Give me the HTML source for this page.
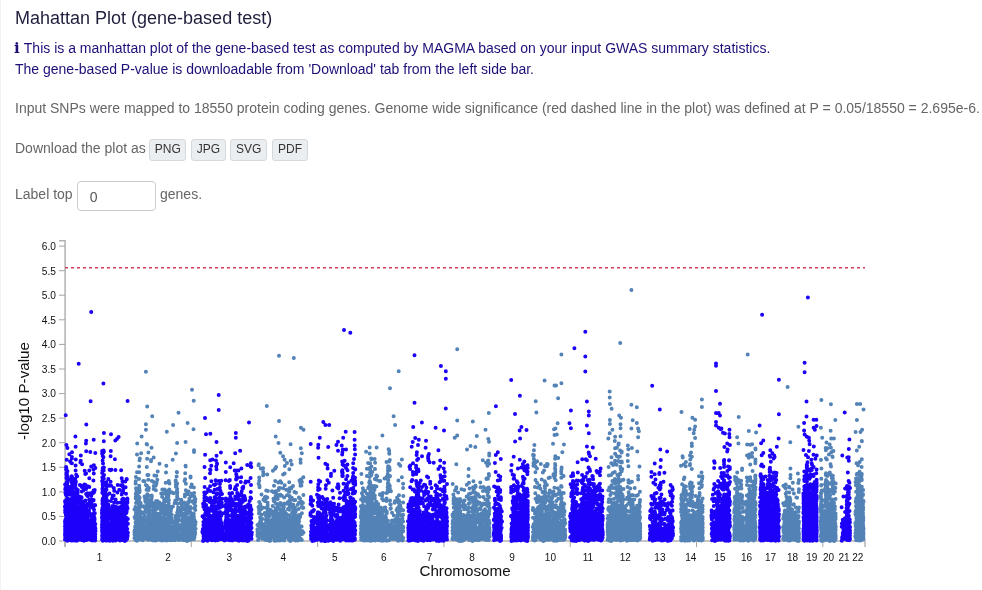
<!DOCTYPE html>
<html><head><meta charset="utf-8"><title>Manhattan Plot</title>
<style>
html,body{margin:0;padding:0;background:#fff;}
body:before{content:"";position:absolute;left:0;top:0;width:1px;height:590px;background:#f1f1f6;}
body{width:982px;height:590px;overflow:hidden;position:relative;font-family:"Liberation Sans",Arial,sans-serif;font-size:14px;line-height:20px;color:#666;}
h4{position:absolute;left:15px;top:8px;margin:0;font-size:18px;line-height:20px;font-weight:400;color:#1f1f3d;}
.info{position:absolute;left:15px;top:38.4px;height:20px;color:#1c1078;white-space:nowrap;}
.info b{position:absolute;left:-1px;top:0;line-height:20px;font-family:"DejaVu Serif","Liberation Serif",serif;font-weight:700;font-size:15px;}
.p2{position:absolute;left:15px;top:98px;white-space:nowrap;}
.p3{position:absolute;left:15px;top:138px;white-space:nowrap;}
.p4{position:absolute;left:15px;top:184px;white-space:nowrap;}
.btn{position:absolute;top:139.2px;box-sizing:border-box;height:21.4px;line-height:19.4px;padding:0;text-align:center;font-size:12px;color:#333;background:#ebeef1;border:1px solid #d5d9dc;border-radius:3px;}
.inp{position:absolute;left:76.7px;top:181px;width:79px;height:29.6px;box-sizing:border-box;border:1px solid #ccc;border-radius:4px;background:#fff;color:#555;padding:5px 12px;line-height:20px;font-size:14px;}
svg{position:absolute;left:0;top:0;}
svg text{font-family:"Liberation Sans",Arial,sans-serif;font-size:10.2px;fill:#111;}
.ax line{stroke:#a4a4a4;stroke-width:1;fill:none}.ax path{stroke:#b2b2b2;stroke-width:1.5;fill:none}
</style></head><body>
<h4>Mahattan Plot (gene-based test)</h4>
<div class="info"><b>i</b><span style="position:absolute;left:8.8px;top:0">This is a manhattan plot of the gene-based test as computed by MAGMA based on your input GWAS summary statistics.</span></div>
<div class="info" style="top:58.6px">The gene-based P-value is downloadable from 'Download' tab from the left side bar.</div>
<div class="p2">Input SNPs were mapped to 18550 protein coding genes. Genome wide significance (red dashed line in the plot) was defined at P = 0.05/18550 = 2.695e-6.</div>
<div class="p3">Download the plot as</div>
<span class="btn" style="left:149.3px;width:37.1px">PNG</span><span class="btn" style="left:191.3px;width:34.4px">JPG</span><span class="btn" style="left:230.2px;width:37px">SVG</span><span class="btn" style="left:272.3px;width:35.4px">PDF</span>
<div class="p4">Label top</div><div class="inp">0</div><div class="p4" style="left:160px">genes.</div>
<svg width="982" height="590" viewBox="0 0 982 590">
<g class="ax"><path d="M59 240.8H65.1V541"/><line x1="59" x2="65" y1="541.0" y2="541.0"/><line x1="59" x2="65" y1="516.4" y2="516.4"/><line x1="59" x2="65" y1="491.9" y2="491.9"/><line x1="59" x2="65" y1="467.3" y2="467.3"/><line x1="59" x2="65" y1="442.7" y2="442.7"/><line x1="59" x2="65" y1="418.1" y2="418.1"/><line x1="59" x2="65" y1="393.6" y2="393.6"/><line x1="59" x2="65" y1="369.0" y2="369.0"/><line x1="59" x2="65" y1="344.4" y2="344.4"/><line x1="59" x2="65" y1="319.8" y2="319.8"/><line x1="59" x2="65" y1="295.2" y2="295.2"/><line x1="59" x2="65" y1="270.7" y2="270.7"/><line x1="59" x2="65" y1="246.1" y2="246.1"/><path d="M65.1 547V541H865V547"/><line x1="65.0" x2="65.0" y1="541" y2="547"/><line x1="191.3" x2="191.3" y1="541" y2="547"/><line x1="317.6" x2="317.6" y1="541" y2="547"/><line x1="443.9" x2="443.9" y1="541" y2="547"/><line x1="570.2" x2="570.2" y1="541" y2="547"/><line x1="696.5" x2="696.5" y1="541" y2="547"/><line x1="822.8" x2="822.8" y1="541" y2="547"/></g>
<g><text x="56" y="544.9" text-anchor="end">0.0</text><text x="56" y="520.3" text-anchor="end">0.5</text><text x="56" y="495.8" text-anchor="end">1.0</text><text x="56" y="471.2" text-anchor="end">1.5</text><text x="56" y="446.6" text-anchor="end">2.0</text><text x="56" y="422.0" text-anchor="end">2.5</text><text x="56" y="397.4" text-anchor="end">3.0</text><text x="56" y="372.9" text-anchor="end">3.5</text><text x="56" y="348.3" text-anchor="end">4.0</text><text x="56" y="323.7" text-anchor="end">4.5</text><text x="56" y="299.1" text-anchor="end">5.0</text><text x="56" y="274.6" text-anchor="end">5.5</text><text x="56" y="250.0" text-anchor="end">6.0</text><text x="99.6" y="561" text-anchor="middle" style="font-size:10px">1</text><text x="168.0" y="561" text-anchor="middle" style="font-size:10px">2</text><text x="229.2" y="561" text-anchor="middle" style="font-size:10px">3</text><text x="283.2" y="561" text-anchor="middle" style="font-size:10px">4</text><text x="334.9" y="561" text-anchor="middle" style="font-size:10px">5</text><text x="383.7" y="561" text-anchor="middle" style="font-size:10px">6</text><text x="429.6" y="561" text-anchor="middle" style="font-size:10px">7</text><text x="472.0" y="561" text-anchor="middle" style="font-size:10px">8</text><text x="512.0" y="561" text-anchor="middle" style="font-size:10px">9</text><text x="550.4" y="561" text-anchor="middle" style="font-size:10px">10</text><text x="588.0" y="561" text-anchor="middle" style="font-size:10px">11</text><text x="625.3" y="561" text-anchor="middle" style="font-size:10px">12</text><text x="659.9" y="561" text-anchor="middle" style="font-size:10px">13</text><text x="690.8" y="561" text-anchor="middle" style="font-size:10px">14</text><text x="719.9" y="561" text-anchor="middle" style="font-size:10px">15</text><text x="746.6" y="561" text-anchor="middle" style="font-size:10px">16</text><text x="770.5" y="561" text-anchor="middle" style="font-size:10px">17</text><text x="792.6" y="561" text-anchor="middle" style="font-size:10px">18</text><text x="811.7" y="561" text-anchor="middle" style="font-size:10px">19</text><text x="828.6" y="561" text-anchor="middle" style="font-size:10px">20</text><text x="844.0" y="561" text-anchor="middle" style="font-size:10px">21</text><text x="857.8" y="561" text-anchor="middle" style="font-size:10px">22</text></g>
<text x="465" y="575.6" text-anchor="middle" style="font-size:15.2px">Chromosome</text>
<text transform="translate(28.8,391)rotate(-90)" text-anchor="middle" style="font-size:15.2px">-log10 P-value</text>
<path d="M135.2 526.5h.01M134.8 538.4h.01M134.5 532.3h.01M135.1 539.2h.01M135.2 527.7h.01M135.0 537.4h.01M136.3 526.3h.01M135.6 532.0h.01M135.5 527.0h.01M136.3 529.7h.01M135.8 526.4h.01M136.3 539.5h.01M136.3 534.6h.01M137.3 538.6h.01M137.3 526.7h.01M136.7 527.7h.01M136.7 533.1h.01M137.5 538.8h.01M138.1 534.9h.01M139.3 527.9h.01M139.3 520.7h.01M139.8 527.1h.01M140.2 538.6h.01M140.3 537.0h.01M140.4 524.2h.01M141.2 525.4h.01M141.2 527.9h.01M141.3 521.0h.01M142.2 535.5h.01M141.5 528.8h.01M142.4 529.0h.01M141.6 532.6h.01M142.2 526.1h.01M142.5 525.5h.01M142.9 527.4h.01M142.8 540.3h.01M143.0 526.0h.01M142.6 539.9h.01M144.9 533.6h.01M144.7 537.4h.01M145.5 522.1h.01M145.6 520.7h.01M146.2 537.1h.01M146.9 530.7h.01M146.8 522.2h.01M147.2 522.5h.01M147.4 524.9h.01M148.2 537.7h.01M149.0 527.5h.01M149.3 521.4h.01M149.4 527.2h.01M150.0 527.8h.01M150.0 527.1h.01M150.2 530.2h.01M149.8 530.6h.01M150.2 525.9h.01M149.7 533.1h.01M151.1 537.6h.01M151.0 534.8h.01M151.5 525.0h.01M151.7 528.6h.01M152.1 525.1h.01M152.1 524.8h.01M153.0 533.2h.01M153.1 522.9h.01M152.6 523.1h.01M152.5 540.2h.01M152.7 533.7h.01M152.7 535.4h.01M153.8 540.3h.01M153.9 524.6h.01M153.4 540.1h.01M153.9 525.7h.01M154.3 523.0h.01M154.7 532.6h.01M155.0 537.9h.01M156.2 530.8h.01M156.2 522.5h.01M156.5 540.2h.01M156.7 530.4h.01M156.6 530.2h.01M156.5 533.3h.01M158.2 525.8h.01M157.5 525.8h.01M157.5 522.6h.01M157.6 536.8h.01M158.6 525.6h.01M158.5 531.1h.01M158.5 522.6h.01M158.5 534.5h.01M160.4 530.5h.01M160.5 526.8h.01M160.9 523.8h.01M161.6 520.5h.01M161.9 538.6h.01M162.2 538.6h.01M162.9 531.5h.01M162.9 522.8h.01M162.4 538.8h.01M162.8 534.4h.01M163.0 526.0h.01M163.5 540.2h.01M163.3 535.1h.01M164.4 534.2h.01M164.8 531.2h.01M164.3 520.8h.01M164.1 521.2h.01M164.1 537.7h.01M165.8 522.4h.01M166.3 529.7h.01M166.5 527.1h.01M166.6 531.8h.01M167.1 533.2h.01M167.5 535.1h.01M168.3 532.3h.01M168.5 531.0h.01M168.3 538.7h.01M169.4 529.6h.01M169.5 525.3h.01M169.8 531.1h.01M169.9 526.4h.01M170.4 521.7h.01M171.0 539.5h.01M170.2 533.9h.01M170.7 520.4h.01M170.8 521.2h.01M170.6 540.2h.01M170.6 531.6h.01M171.1 539.1h.01M171.1 537.8h.01M172.6 526.9h.01M172.1 526.9h.01M172.1 536.3h.01M172.8 533.3h.01M172.9 526.5h.01M173.4 532.5h.01M173.9 536.9h.01M173.6 532.0h.01M174.2 532.6h.01M174.1 521.0h.01M174.4 536.3h.01M175.0 533.1h.01M174.9 522.5h.01M175.2 537.4h.01M175.6 538.4h.01M176.3 527.8h.01M176.2 526.8h.01M176.7 537.2h.01M177.0 532.4h.01M177.6 526.5h.01M177.5 526.2h.01M178.8 536.8h.01M180.8 533.9h.01M180.3 538.1h.01M180.0 535.0h.01M181.4 527.3h.01M181.2 539.6h.01M182.0 533.4h.01M182.1 533.6h.01M183.0 524.5h.01M183.9 540.2h.01M184.7 538.3h.01M184.0 538.4h.01M184.1 523.5h.01M184.5 525.9h.01M185.0 534.1h.01M185.9 535.5h.01M186.7 525.5h.01M186.9 540.9h.01M187.1 536.9h.01M187.4 526.9h.01M187.3 535.8h.01M188.2 536.5h.01M188.7 528.6h.01M188.1 534.6h.01M188.7 528.6h.01M189.2 530.1h.01M189.4 535.4h.01M190.0 524.4h.01M190.5 539.1h.01M190.3 536.9h.01M190.6 532.4h.01M191.7 536.3h.01M190.9 525.0h.01M191.5 522.8h.01M191.1 534.1h.01M192.1 535.8h.01M192.9 536.2h.01M194.3 535.4h.01M194.2 528.8h.01M194.1 522.9h.01M194.4 535.5h.01M134.4 537.9h.01M134.5 534.4h.01M134.5 509.4h.01M134.6 517.0h.01M134.6 530.6h.01M134.9 538.1h.01M135.1 517.9h.01M135.1 537.3h.01M135.3 518.7h.01M135.4 506.9h.01M135.4 533.3h.01M135.5 526.1h.01M135.6 483.4h.01M135.6 518.4h.01M135.6 522.4h.01M135.7 532.8h.01M135.7 498.5h.01M135.7 519.3h.01M135.7 481.3h.01M135.7 493.8h.01M135.8 496.9h.01M135.9 477.1h.01M135.9 534.4h.01M135.9 514.0h.01M135.9 525.7h.01M135.9 540.2h.01M135.9 536.4h.01M136.0 502.9h.01M136.0 512.8h.01M136.0 488.2h.01M136.0 494.3h.01M136.0 537.2h.01M136.2 512.9h.01M136.3 532.3h.01M136.4 528.1h.01M136.4 519.9h.01M136.4 531.0h.01M136.4 490.7h.01M136.5 529.5h.01M136.5 526.2h.01M136.5 536.2h.01M136.5 533.3h.01M136.5 533.6h.01M136.6 535.9h.01M136.6 509.1h.01M136.6 539.1h.01M136.6 514.2h.01M136.7 534.4h.01M136.7 514.9h.01M136.7 534.9h.01M136.7 519.1h.01M136.8 520.6h.01M136.8 502.0h.01M136.8 521.2h.01M136.8 526.5h.01M136.9 540.7h.01M136.9 514.0h.01M137.0 526.0h.01M137.0 529.3h.01M137.0 498.8h.01M137.0 472.2h.01M137.0 454.6h.01M137.0 490.4h.01M137.1 523.7h.01M137.1 534.7h.01M137.2 443.5h.01M137.2 518.4h.01M137.2 522.2h.01M137.2 512.4h.01M137.2 529.2h.01M137.2 518.8h.01M137.3 525.4h.01M137.3 524.3h.01M137.3 530.6h.01M137.3 517.0h.01M137.3 531.0h.01M137.3 535.6h.01M137.4 490.4h.01M137.4 494.1h.01M137.4 535.8h.01M137.7 515.5h.01M137.8 537.7h.01M137.9 540.0h.01M138.0 529.3h.01M138.0 536.8h.01M138.6 538.0h.01M138.6 524.6h.01M138.7 538.4h.01M138.7 503.6h.01M138.7 537.5h.01M138.7 533.2h.01M138.7 496.6h.01M138.8 511.4h.01M138.8 516.7h.01M138.8 514.5h.01M138.8 524.4h.01M138.9 507.2h.01M138.9 506.0h.01M138.9 509.4h.01M139.0 521.3h.01M139.0 478.9h.01M139.1 514.9h.01M139.1 466.6h.01M139.1 500.7h.01M139.2 511.0h.01M139.2 489.3h.01M139.2 485.8h.01M139.2 472.2h.01M139.2 504.9h.01M139.3 507.0h.01M139.3 488.3h.01M139.3 515.2h.01M139.4 516.7h.01M139.4 514.1h.01M139.4 492.2h.01M139.4 507.8h.01M139.5 460.3h.01M139.6 497.7h.01M139.6 490.5h.01M139.6 491.0h.01M139.8 523.2h.01M139.8 458.4h.01M139.8 539.5h.01M139.8 537.6h.01M140.0 511.0h.01M140.0 529.4h.01M140.1 523.9h.01M140.2 517.1h.01M140.3 523.3h.01M140.4 518.3h.01M140.4 534.8h.01M140.4 538.2h.01M140.4 530.8h.01M140.4 520.0h.01M140.5 513.6h.01M140.5 532.5h.01M140.5 534.5h.01M140.6 518.5h.01M140.6 525.4h.01M140.6 525.9h.01M140.7 506.1h.01M140.7 535.1h.01M140.7 502.9h.01M140.7 513.5h.01M140.8 516.9h.01M140.8 536.4h.01M140.9 537.0h.01M141.1 453.3h.01M141.1 532.7h.01M141.1 531.3h.01M141.1 528.3h.01M141.1 526.9h.01M141.3 520.7h.01M141.3 537.4h.01M141.3 525.8h.01M141.3 532.4h.01M141.5 506.5h.01M141.5 535.5h.01M141.6 512.8h.01M141.7 536.4h.01M141.9 536.6h.01M141.9 531.2h.01M142.0 531.1h.01M142.1 512.6h.01M142.1 526.8h.01M142.1 534.5h.01M142.2 538.4h.01M142.2 520.5h.01M142.3 527.9h.01M142.3 531.1h.01M142.3 536.6h.01M142.5 520.0h.01M142.9 521.0h.01M143.0 527.1h.01M143.1 512.7h.01M143.1 519.2h.01M143.2 527.3h.01M143.2 523.9h.01M143.3 523.1h.01M143.3 480.9h.01M143.4 524.8h.01M143.4 523.3h.01M143.5 534.2h.01M143.5 533.2h.01M143.5 517.8h.01M143.6 506.3h.01M143.8 534.4h.01M143.9 522.3h.01M144.0 533.5h.01M144.0 532.7h.01M144.1 527.4h.01M144.1 526.9h.01M144.2 530.9h.01M144.3 521.3h.01M144.4 521.4h.01M144.4 526.9h.01M144.4 529.2h.01M144.5 496.4h.01M144.5 515.8h.01M144.5 537.6h.01M144.5 534.6h.01M144.5 481.3h.01M144.6 538.5h.01M144.6 522.8h.01M144.8 512.0h.01M144.8 531.4h.01M144.9 532.0h.01M145.0 533.3h.01M145.0 533.4h.01M145.1 507.7h.01M145.1 535.5h.01M145.1 508.0h.01M145.1 498.9h.01M145.2 500.8h.01M145.3 538.5h.01M145.3 528.9h.01M145.4 533.5h.01M145.5 532.9h.01M145.5 509.0h.01M145.5 508.0h.01M145.5 520.3h.01M145.5 536.0h.01M145.6 531.0h.01M145.7 537.3h.01M145.7 501.9h.01M145.8 509.1h.01M145.9 509.8h.01M145.9 507.5h.01M145.9 484.9h.01M146.0 511.8h.01M146.0 532.9h.01M146.0 537.2h.01M146.0 531.5h.01M146.1 521.7h.01M146.2 538.7h.01M146.3 509.3h.01M146.3 536.7h.01M146.4 532.3h.01M146.5 521.3h.01M146.6 526.7h.01M146.6 529.1h.01M146.6 509.4h.01M146.6 489.7h.01M146.6 506.6h.01M146.6 444.0h.01M146.7 485.5h.01M146.8 502.5h.01M146.8 466.9h.01M146.8 508.5h.01M146.9 501.8h.01M146.9 503.9h.01M147.0 486.1h.01M147.0 504.8h.01M147.0 508.4h.01M147.1 506.0h.01M147.1 500.5h.01M147.1 458.8h.01M147.1 497.5h.01M147.1 444.6h.01M147.2 496.6h.01M147.3 494.2h.01M147.3 506.2h.01M147.4 474.9h.01M147.4 505.0h.01M147.5 504.3h.01M147.6 539.6h.01M147.6 537.0h.01M147.6 517.5h.01M147.7 534.8h.01M147.7 525.7h.01M147.7 517.5h.01M147.9 530.6h.01M147.9 531.0h.01M148.0 531.0h.01M148.2 512.0h.01M148.3 509.7h.01M148.3 518.1h.01M148.3 530.5h.01M148.3 509.2h.01M148.3 479.8h.01M148.3 514.3h.01M148.4 495.4h.01M148.4 475.0h.01M148.4 452.6h.01M148.5 502.3h.01M148.5 531.5h.01M148.5 537.2h.01M148.5 538.3h.01M148.5 490.1h.01M148.6 515.2h.01M148.6 501.6h.01M148.6 513.2h.01M148.6 519.5h.01M148.6 534.7h.01M148.6 518.6h.01M148.6 519.2h.01M148.6 529.3h.01M148.6 531.5h.01M148.7 539.2h.01M148.7 500.1h.01M148.7 517.1h.01M148.7 504.5h.01M148.7 528.1h.01M148.8 514.4h.01M148.8 517.9h.01M148.8 535.9h.01M148.8 520.4h.01M148.8 520.8h.01M148.8 535.4h.01M148.9 538.9h.01M148.9 488.0h.01M148.9 512.8h.01M148.9 529.2h.01M148.9 539.5h.01M148.9 528.3h.01M148.9 534.3h.01M149.0 538.3h.01M149.0 539.8h.01M149.0 527.2h.01M149.0 534.0h.01M149.0 530.5h.01M149.0 512.7h.01M149.1 536.8h.01M149.1 521.9h.01M149.1 532.0h.01M149.1 535.3h.01M149.2 520.9h.01M149.2 518.2h.01M149.2 525.4h.01M149.2 510.4h.01M149.3 510.3h.01M149.3 509.5h.01M149.3 533.1h.01M149.3 525.8h.01M149.4 534.3h.01M149.4 532.1h.01M149.4 536.0h.01M149.4 532.9h.01M149.6 526.7h.01M149.7 513.7h.01M149.9 526.9h.01M149.9 511.1h.01M150.0 537.2h.01M150.1 518.6h.01M150.1 530.0h.01M150.2 538.0h.01M150.3 529.3h.01M150.3 535.5h.01M150.5 502.1h.01M150.5 524.0h.01M150.6 496.1h.01M150.8 538.3h.01M150.9 517.9h.01M151.0 459.9h.01M151.0 506.0h.01M151.0 461.3h.01M151.0 506.2h.01M151.1 527.3h.01M151.1 521.0h.01M151.2 517.3h.01M151.3 533.9h.01M151.5 447.8h.01M151.6 503.6h.01M151.6 506.3h.01M151.6 498.6h.01M151.7 514.5h.01M151.7 495.4h.01M151.8 496.4h.01M151.9 481.0h.01M151.9 502.0h.01M151.9 525.3h.01M152.0 533.5h.01M152.1 526.6h.01M152.1 531.5h.01M152.1 531.7h.01M152.2 531.5h.01M152.3 505.2h.01M152.4 534.1h.01M152.5 536.8h.01M152.5 515.4h.01M152.5 525.9h.01M152.5 515.5h.01M152.6 533.6h.01M152.6 530.2h.01M152.7 526.6h.01M152.7 537.5h.01M152.8 530.3h.01M152.9 528.8h.01M152.9 521.9h.01M153.0 516.4h.01M153.0 523.5h.01M153.0 509.8h.01M153.1 529.4h.01M153.1 525.3h.01M153.3 523.9h.01M153.3 533.4h.01M153.4 523.6h.01M153.4 517.5h.01M153.4 539.7h.01M153.5 519.7h.01M153.5 525.1h.01M153.5 517.3h.01M153.5 539.0h.01M153.5 525.6h.01M153.6 482.1h.01M153.6 507.5h.01M153.7 534.6h.01M153.7 486.0h.01M153.7 518.1h.01M153.7 457.6h.01M153.7 512.3h.01M153.7 489.0h.01M153.8 534.3h.01M153.8 534.0h.01M153.8 528.8h.01M153.8 525.4h.01M153.8 539.4h.01M153.8 523.9h.01M153.9 537.7h.01M153.9 532.9h.01M153.9 531.8h.01M153.9 531.2h.01M154.0 532.8h.01M154.0 536.2h.01M154.0 538.8h.01M154.1 537.4h.01M154.1 528.2h.01M154.1 537.0h.01M154.1 518.7h.01M154.1 533.8h.01M154.1 507.8h.01M154.2 504.0h.01M154.2 503.7h.01M154.2 522.1h.01M154.3 507.5h.01M154.3 536.6h.01M154.3 516.2h.01M154.3 532.8h.01M154.3 518.4h.01M154.3 528.6h.01M154.3 503.2h.01M154.4 475.5h.01M154.4 535.1h.01M154.4 537.3h.01M154.5 515.8h.01M154.6 512.6h.01M154.6 531.1h.01M154.6 512.8h.01M154.7 505.1h.01M154.7 533.3h.01M154.7 525.9h.01M154.8 534.8h.01M154.8 522.1h.01M154.9 534.7h.01M154.9 524.8h.01M154.9 516.0h.01M155.0 533.4h.01M155.0 535.6h.01M155.0 537.5h.01M155.1 527.4h.01M155.1 533.2h.01M155.1 507.3h.01M155.2 537.6h.01M155.3 533.3h.01M155.3 508.4h.01M155.3 518.9h.01M155.3 528.8h.01M155.3 540.6h.01M155.4 529.6h.01M155.4 540.6h.01M155.6 525.7h.01M155.6 485.7h.01M155.7 534.8h.01M155.8 517.5h.01M155.8 518.5h.01M155.9 490.3h.01M156.0 502.5h.01M156.0 527.5h.01M156.0 532.0h.01M156.1 501.0h.01M156.1 508.1h.01M156.2 509.3h.01M156.2 508.5h.01M156.2 484.5h.01M156.3 475.7h.01M156.4 515.5h.01M156.5 513.5h.01M156.6 482.4h.01M156.6 531.7h.01M156.9 528.2h.01M157.0 532.8h.01M157.1 527.5h.01M157.1 506.3h.01M157.1 529.1h.01M157.1 526.5h.01M157.2 528.4h.01M157.3 479.7h.01M157.3 518.6h.01M157.3 526.6h.01M157.4 524.6h.01M157.4 539.7h.01M157.4 524.9h.01M157.5 523.6h.01M157.5 534.5h.01M157.5 524.5h.01M157.5 501.3h.01M157.5 518.4h.01M157.6 527.2h.01M157.7 471.4h.01M157.8 503.7h.01M158.0 520.6h.01M158.1 538.5h.01M158.1 533.4h.01M158.2 525.5h.01M158.2 533.7h.01M158.2 535.6h.01M158.2 531.8h.01M158.2 536.5h.01M158.4 538.4h.01M158.5 520.7h.01M158.5 532.1h.01M158.5 513.9h.01M158.5 530.2h.01M158.6 522.2h.01M158.7 535.3h.01M158.7 521.5h.01M158.7 538.1h.01M158.8 514.7h.01M158.8 507.6h.01M158.8 518.2h.01M158.9 518.4h.01M158.9 507.7h.01M158.9 528.9h.01M159.0 526.3h.01M159.0 525.2h.01M159.1 533.3h.01M159.1 530.0h.01M159.2 530.4h.01M159.2 517.4h.01M159.2 538.4h.01M159.2 536.9h.01M159.3 515.4h.01M159.4 532.0h.01M159.4 502.6h.01M159.5 532.9h.01M159.5 528.5h.01M159.5 463.7h.01M159.5 516.9h.01M159.6 517.7h.01M159.7 532.4h.01M159.7 538.3h.01M159.7 532.0h.01M159.9 532.0h.01M159.9 532.4h.01M160.0 540.1h.01M160.0 515.6h.01M160.0 529.8h.01M160.1 533.7h.01M160.1 522.0h.01M160.1 506.0h.01M160.2 520.4h.01M160.2 528.6h.01M160.2 533.6h.01M160.2 521.4h.01M160.3 529.8h.01M160.3 534.5h.01M160.3 524.2h.01M160.4 509.7h.01M160.5 536.3h.01M160.6 517.0h.01M160.6 526.1h.01M160.7 537.4h.01M160.8 524.5h.01M160.9 524.1h.01M160.9 506.5h.01M161.0 519.6h.01M161.0 524.1h.01M161.0 518.6h.01M161.0 520.5h.01M161.1 512.6h.01M161.2 493.5h.01M161.3 523.3h.01M161.3 539.7h.01M161.3 530.9h.01M161.4 533.5h.01M161.4 513.1h.01M161.5 524.9h.01M161.5 540.6h.01M161.6 528.0h.01M161.7 529.4h.01M161.7 525.8h.01M161.9 525.8h.01M161.9 510.7h.01M162.0 533.3h.01M162.1 524.8h.01M162.1 496.7h.01M162.2 532.9h.01M162.2 538.6h.01M162.3 530.5h.01M162.3 489.4h.01M162.3 527.6h.01M162.3 539.2h.01M162.4 539.5h.01M162.4 527.6h.01M162.5 527.5h.01M162.5 526.3h.01M162.6 532.6h.01M162.7 536.1h.01M162.7 504.1h.01M162.7 527.3h.01M162.7 503.8h.01M162.8 537.2h.01M162.8 540.1h.01M162.8 505.7h.01M162.9 527.1h.01M162.9 527.7h.01M163.0 527.6h.01M163.1 519.0h.01M163.1 517.7h.01M163.1 529.3h.01M163.2 532.6h.01M163.3 535.2h.01M163.4 530.2h.01M163.5 534.5h.01M163.5 524.1h.01M163.5 520.6h.01M163.6 519.7h.01M163.7 527.2h.01M163.7 540.2h.01M163.7 509.6h.01M163.8 503.6h.01M163.8 493.3h.01M164.0 529.9h.01M164.0 534.8h.01M164.1 500.2h.01M164.1 504.6h.01M164.1 520.6h.01M164.1 513.7h.01M164.1 528.3h.01M164.1 525.6h.01M164.1 501.0h.01M164.2 511.9h.01M164.2 527.1h.01M164.2 532.6h.01M164.2 515.2h.01M164.2 537.9h.01M164.2 499.3h.01M164.2 528.4h.01M164.3 521.9h.01M164.3 524.0h.01M164.3 530.7h.01M164.3 530.4h.01M164.3 522.2h.01M164.4 504.7h.01M164.4 520.4h.01M164.4 529.6h.01M164.4 526.9h.01M164.4 538.9h.01M164.4 524.2h.01M164.5 536.1h.01M164.5 521.4h.01M164.5 505.6h.01M164.5 534.9h.01M164.6 489.4h.01M164.6 509.6h.01M164.6 533.5h.01M164.7 537.0h.01M164.7 534.3h.01M164.7 530.2h.01M164.7 518.6h.01M164.8 519.9h.01M164.8 526.3h.01M165.0 518.1h.01M165.1 506.7h.01M165.2 508.9h.01M165.2 521.6h.01M165.3 535.6h.01M165.4 538.9h.01M165.7 482.7h.01M165.8 538.6h.01M165.8 528.5h.01M165.9 527.5h.01M165.9 494.0h.01M165.9 501.1h.01M166.0 472.5h.01M166.0 536.4h.01M166.1 513.9h.01M166.1 538.4h.01M166.2 521.0h.01M166.2 530.0h.01M166.2 538.7h.01M166.2 519.1h.01M166.2 527.5h.01M166.3 527.0h.01M166.3 465.8h.01M166.4 536.2h.01M166.4 529.3h.01M166.5 527.2h.01M166.5 524.9h.01M166.5 529.8h.01M166.6 513.6h.01M166.7 537.5h.01M166.7 496.9h.01M166.7 540.5h.01M166.7 508.6h.01M166.7 531.0h.01M166.7 512.7h.01M166.8 528.1h.01M166.8 508.0h.01M166.8 536.5h.01M166.8 523.8h.01M166.9 532.2h.01M166.9 532.7h.01M167.0 491.9h.01M167.0 524.8h.01M167.0 539.8h.01M167.1 534.9h.01M167.1 531.5h.01M167.1 527.6h.01M167.2 528.5h.01M167.2 522.4h.01M167.2 530.0h.01M167.3 512.1h.01M167.3 532.3h.01M167.3 531.3h.01M167.4 521.3h.01M167.4 525.6h.01M167.4 525.8h.01M167.5 535.8h.01M167.5 531.3h.01M167.6 537.9h.01M167.6 521.5h.01M167.8 520.6h.01M167.8 524.6h.01M167.9 523.6h.01M167.9 505.4h.01M168.0 536.7h.01M168.0 495.7h.01M168.1 527.8h.01M168.1 532.1h.01M168.1 530.1h.01M168.1 530.9h.01M168.1 529.4h.01M168.1 529.8h.01M168.1 537.1h.01M168.1 517.6h.01M168.1 536.0h.01M168.2 528.2h.01M168.2 516.7h.01M168.2 531.2h.01M168.2 529.3h.01M168.2 537.9h.01M168.2 490.7h.01M168.3 539.1h.01M168.3 528.4h.01M168.3 524.7h.01M168.3 534.7h.01M168.3 521.9h.01M168.3 522.3h.01M168.3 528.9h.01M168.3 536.1h.01M168.4 531.6h.01M168.4 533.8h.01M168.4 524.7h.01M168.4 535.2h.01M168.4 535.5h.01M168.4 502.1h.01M168.4 509.0h.01M168.4 500.1h.01M168.4 518.8h.01M168.4 496.7h.01M168.4 531.4h.01M168.4 534.0h.01M168.4 530.6h.01M168.5 508.6h.01M168.5 535.1h.01M168.5 508.4h.01M168.5 516.9h.01M168.5 532.8h.01M168.5 535.3h.01M168.5 509.6h.01M168.5 527.9h.01M168.6 529.1h.01M168.6 525.3h.01M168.6 521.2h.01M168.6 532.1h.01M168.6 512.9h.01M168.6 517.2h.01M168.6 510.4h.01M168.7 527.8h.01M168.7 534.2h.01M168.7 535.2h.01M168.7 530.7h.01M168.7 503.4h.01M168.7 514.2h.01M168.8 516.4h.01M168.8 493.9h.01M168.8 532.9h.01M168.8 481.0h.01M168.8 527.6h.01M168.8 493.8h.01M168.8 520.3h.01M168.8 531.3h.01M168.9 516.3h.01M168.9 511.8h.01M168.9 500.1h.01M168.9 524.4h.01M168.9 521.8h.01M168.9 531.1h.01M168.9 509.5h.01M169.0 531.0h.01M169.0 532.0h.01M169.0 528.0h.01M169.1 533.7h.01M169.1 506.3h.01M169.2 533.1h.01M169.2 517.0h.01M169.2 513.8h.01M169.3 529.9h.01M169.3 489.6h.01M169.4 483.5h.01M169.5 537.4h.01M169.5 535.9h.01M169.5 515.6h.01M169.6 526.1h.01M169.6 539.9h.01M169.6 516.3h.01M169.6 534.1h.01M169.7 512.0h.01M169.7 527.7h.01M169.7 529.8h.01M169.7 536.0h.01M169.7 537.4h.01M169.8 529.0h.01M169.8 532.0h.01M169.8 531.9h.01M169.8 528.2h.01M169.8 533.2h.01M169.8 530.8h.01M169.9 526.1h.01M169.9 520.7h.01M169.9 538.7h.01M170.0 535.1h.01M170.1 522.2h.01M170.1 528.6h.01M170.1 539.4h.01M170.2 531.0h.01M170.3 533.7h.01M170.3 523.2h.01M170.5 533.4h.01M170.8 511.0h.01M170.8 535.8h.01M170.8 522.9h.01M170.9 517.3h.01M171.1 533.4h.01M171.2 509.1h.01M171.3 521.4h.01M171.3 507.1h.01M171.3 528.8h.01M171.4 518.6h.01M171.5 538.0h.01M171.6 514.4h.01M171.6 492.3h.01M171.9 536.9h.01M172.0 527.3h.01M172.4 538.8h.01M172.6 521.4h.01M172.6 540.1h.01M172.7 534.0h.01M172.7 532.3h.01M172.7 459.8h.01M172.9 529.6h.01M172.9 506.4h.01M172.9 526.8h.01M173.0 539.4h.01M173.1 531.0h.01M173.2 538.3h.01M173.3 532.3h.01M173.4 493.3h.01M173.7 537.6h.01M173.8 529.4h.01M174.0 533.5h.01M174.0 529.2h.01M174.1 529.8h.01M174.1 526.4h.01M174.2 536.0h.01M174.2 538.1h.01M174.2 521.3h.01M174.3 528.7h.01M174.3 522.4h.01M174.3 536.6h.01M174.3 532.3h.01M174.4 529.0h.01M174.4 530.1h.01M174.5 532.9h.01M174.5 524.3h.01M174.6 502.9h.01M174.7 522.9h.01M174.8 526.6h.01M174.8 520.9h.01M174.9 540.3h.01M175.0 528.8h.01M175.3 517.3h.01M175.3 500.4h.01M175.5 502.6h.01M175.6 515.9h.01M175.7 481.6h.01M175.7 480.4h.01M175.8 484.3h.01M175.9 486.8h.01M175.9 453.5h.01M175.9 535.5h.01M176.0 525.6h.01M176.1 532.3h.01M176.2 530.2h.01M176.3 534.3h.01M176.3 500.3h.01M176.6 485.9h.01M176.6 536.7h.01M176.6 521.3h.01M176.6 476.6h.01M176.7 491.3h.01M176.8 471.9h.01M177.0 472.2h.01M177.1 443.1h.01M177.1 483.6h.01M177.1 496.6h.01M177.1 494.6h.01M177.1 499.2h.01M177.1 498.4h.01M177.2 489.0h.01M177.2 496.6h.01M177.2 512.4h.01M177.2 537.0h.01M177.2 532.8h.01M177.2 534.2h.01M177.3 520.9h.01M177.3 521.3h.01M177.3 524.6h.01M177.3 534.2h.01M177.3 528.3h.01M177.3 535.6h.01M177.4 516.8h.01M177.4 523.6h.01M177.4 536.1h.01M177.4 503.8h.01M177.4 518.8h.01M177.4 492.3h.01M177.5 513.6h.01M177.6 523.3h.01M177.6 531.9h.01M177.7 534.2h.01M177.7 537.6h.01M177.7 533.0h.01M177.8 518.3h.01M177.8 535.9h.01M177.8 535.8h.01M177.8 532.7h.01M177.8 530.3h.01M177.8 535.1h.01M177.9 530.3h.01M177.9 510.1h.01M177.9 531.0h.01M177.9 524.8h.01M177.9 518.5h.01M177.9 511.0h.01M178.0 498.9h.01M178.0 530.3h.01M178.0 527.2h.01M178.1 507.6h.01M178.1 515.5h.01M178.4 527.2h.01M178.5 510.9h.01M178.8 540.0h.01M179.2 535.4h.01M179.9 528.8h.01M180.0 515.7h.01M180.2 502.9h.01M180.2 529.2h.01M180.3 510.0h.01M180.6 539.2h.01M180.7 520.2h.01M180.8 511.0h.01M180.9 525.1h.01M181.0 512.3h.01M181.1 539.8h.01M181.3 499.8h.01M181.4 538.8h.01M181.4 537.3h.01M181.5 509.9h.01M181.6 536.5h.01M181.6 530.4h.01M181.6 532.6h.01M181.7 535.4h.01M181.7 506.3h.01M181.9 537.1h.01M181.9 502.8h.01M181.9 506.1h.01M182.0 525.3h.01M182.0 533.9h.01M182.1 538.9h.01M182.1 536.3h.01M182.1 521.1h.01M182.1 526.8h.01M182.1 531.0h.01M182.2 515.5h.01M182.4 527.2h.01M182.4 527.4h.01M182.4 537.5h.01M182.5 537.5h.01M182.5 538.7h.01M182.6 539.4h.01M182.6 537.3h.01M182.6 534.6h.01M182.6 523.7h.01M182.6 533.0h.01M182.7 535.6h.01M182.7 539.1h.01M182.7 508.3h.01M182.8 534.6h.01M182.8 518.8h.01M182.9 509.2h.01M182.9 536.6h.01M182.9 528.9h.01M182.9 528.8h.01M183.0 532.1h.01M183.1 526.8h.01M183.3 527.8h.01M183.4 526.7h.01M183.4 513.4h.01M183.5 539.3h.01M183.6 519.3h.01M183.7 528.7h.01M184.0 521.7h.01M184.1 502.4h.01M184.1 526.7h.01M184.1 509.1h.01M184.1 535.2h.01M184.2 537.6h.01M184.2 536.4h.01M184.3 531.9h.01M184.4 523.1h.01M184.5 539.8h.01M184.5 532.5h.01M184.5 527.2h.01M184.6 516.2h.01M184.6 536.7h.01M184.6 508.2h.01M184.6 481.0h.01M184.6 514.7h.01M184.6 513.9h.01M184.8 496.4h.01M184.9 537.2h.01M184.9 494.5h.01M185.0 534.9h.01M185.1 479.2h.01M185.2 528.0h.01M185.2 473.2h.01M185.3 538.4h.01M185.5 504.5h.01M185.5 465.8h.01M185.6 442.1h.01M185.7 466.6h.01M185.8 490.2h.01M185.8 512.3h.01M185.9 505.4h.01M185.9 483.8h.01M186.1 514.6h.01M186.2 510.9h.01M186.4 531.0h.01M186.5 534.4h.01M186.6 533.9h.01M186.7 519.4h.01M186.8 511.2h.01M186.8 537.2h.01M186.8 535.6h.01M186.9 526.0h.01M186.9 522.0h.01M186.9 517.7h.01M187.0 524.3h.01M187.0 493.6h.01M187.1 539.8h.01M187.1 506.3h.01M187.1 513.9h.01M187.1 531.0h.01M187.2 510.3h.01M187.2 504.3h.01M187.4 519.0h.01M187.4 527.2h.01M187.4 507.4h.01M187.5 534.0h.01M187.5 512.9h.01M187.5 536.5h.01M187.6 513.1h.01M187.6 513.3h.01M187.7 528.7h.01M187.7 528.3h.01M187.7 494.3h.01M187.7 522.0h.01M187.8 536.4h.01M187.9 503.8h.01M187.9 538.7h.01M188.0 502.1h.01M188.1 526.0h.01M188.3 530.6h.01M188.4 540.5h.01M188.6 530.8h.01M188.6 491.6h.01M188.6 501.9h.01M188.9 536.4h.01M189.0 508.8h.01M189.2 523.4h.01M189.3 535.3h.01M189.3 498.7h.01M189.5 510.9h.01M189.5 535.7h.01M189.5 530.9h.01M189.6 517.6h.01M189.6 536.4h.01M189.7 537.1h.01M189.9 530.8h.01M190.0 532.6h.01M190.0 528.4h.01M190.0 529.3h.01M190.2 534.2h.01M190.2 523.0h.01M190.3 518.6h.01M190.4 507.1h.01M190.4 522.1h.01M190.5 531.7h.01M190.5 536.2h.01M190.5 477.5h.01M190.6 476.4h.01M190.6 524.5h.01M190.6 496.4h.01M190.7 526.3h.01M190.7 512.6h.01M190.8 486.9h.01M190.8 520.4h.01M190.9 508.6h.01M190.9 519.6h.01M190.9 534.8h.01M190.9 539.5h.01M191.0 530.6h.01M191.1 519.7h.01M191.1 533.9h.01M191.2 532.3h.01M191.2 515.3h.01M191.4 516.3h.01M191.6 501.4h.01M191.6 516.0h.01M191.7 526.0h.01M191.7 526.9h.01M191.7 493.8h.01M191.7 521.2h.01M191.7 522.9h.01M191.7 484.5h.01M191.9 527.0h.01M192.5 525.2h.01M192.5 527.5h.01M192.7 532.5h.01M192.8 533.4h.01M192.8 529.1h.01M192.9 521.2h.01M193.0 494.2h.01M193.6 521.4h.01M193.7 534.3h.01M193.8 535.2h.01M193.8 539.2h.01M193.8 517.6h.01M193.8 530.8h.01M193.8 513.7h.01M193.9 527.2h.01M193.9 527.9h.01M193.9 516.8h.01M193.9 487.6h.01M194.0 526.4h.01M194.0 450.3h.01M194.0 452.1h.01M194.1 500.5h.01M194.1 503.4h.01M194.1 492.9h.01M194.1 527.8h.01M194.1 534.0h.01M194.3 496.9h.01M194.3 536.6h.01M194.4 496.8h.01M194.4 520.1h.01M194.5 521.5h.01M194.5 530.6h.01M194.5 507.7h.01M194.5 537.3h.01M194.6 508.3h.01M194.7 525.9h.01M194.8 520.8h.01M195.0 534.2h.01M195.1 501.9h.01M195.2 524.8h.01M195.2 532.5h.01M195.2 509.9h.01M195.3 505.9h.01M195.4 499.3h.01M195.6 522.3h.01M195.6 528.7h.01M257.6 531.2h.01M258.1 539.9h.01M257.6 532.1h.01M257.5 534.6h.01M257.8 531.9h.01M259.1 536.8h.01M258.6 535.6h.01M258.6 536.7h.01M258.9 524.0h.01M259.9 533.5h.01M259.4 534.9h.01M260.6 536.5h.01M261.1 521.0h.01M260.4 535.8h.01M260.5 520.5h.01M260.6 522.8h.01M261.0 523.6h.01M260.7 528.2h.01M260.3 532.8h.01M261.2 535.3h.01M261.4 527.7h.01M262.9 532.5h.01M262.4 535.6h.01M262.0 538.7h.01M262.7 534.0h.01M262.1 534.8h.01M262.4 527.4h.01M263.7 533.2h.01M264.5 529.3h.01M264.2 526.1h.01M265.3 529.9h.01M265.4 538.1h.01M265.4 533.2h.01M265.2 539.8h.01M265.2 536.9h.01M266.6 537.9h.01M266.1 534.2h.01M266.4 526.7h.01M266.7 528.8h.01M267.4 522.0h.01M267.4 539.9h.01M267.2 536.6h.01M267.2 539.7h.01M268.5 540.3h.01M268.8 537.3h.01M268.5 538.2h.01M268.5 538.5h.01M269.1 525.9h.01M269.6 541.0h.01M269.3 539.8h.01M269.1 527.8h.01M269.2 529.6h.01M270.3 535.7h.01M271.0 530.9h.01M272.4 528.4h.01M273.6 524.8h.01M273.1 521.9h.01M274.7 540.8h.01M274.1 525.1h.01M274.2 522.7h.01M274.8 520.8h.01M274.6 527.3h.01M274.8 532.6h.01M275.1 534.9h.01M276.8 523.5h.01M276.2 535.9h.01M276.1 521.6h.01M276.3 523.2h.01M276.4 522.4h.01M277.0 529.6h.01M277.7 522.6h.01M277.8 530.8h.01M277.5 532.2h.01M278.3 534.1h.01M278.9 528.8h.01M278.6 537.3h.01M278.6 533.8h.01M278.1 521.8h.01M278.9 521.4h.01M278.0 539.2h.01M279.0 539.5h.01M279.0 534.8h.01M279.1 533.9h.01M279.7 523.6h.01M279.0 536.0h.01M279.6 527.1h.01M279.1 528.1h.01M280.0 520.9h.01M280.8 530.0h.01M280.5 534.6h.01M280.9 531.2h.01M281.6 531.1h.01M281.5 529.1h.01M281.5 523.3h.01M281.1 534.6h.01M281.6 535.2h.01M282.4 520.5h.01M282.3 527.9h.01M282.2 521.4h.01M282.8 536.3h.01M283.1 529.4h.01M283.3 530.1h.01M283.0 530.7h.01M284.3 524.6h.01M284.6 520.8h.01M284.1 535.9h.01M284.1 526.4h.01M286.8 536.3h.01M286.6 535.6h.01M287.3 534.9h.01M287.2 528.1h.01M287.0 525.4h.01M288.2 536.0h.01M288.8 532.8h.01M288.1 534.0h.01M288.8 537.5h.01M288.4 534.1h.01M289.6 540.2h.01M289.4 534.2h.01M289.4 526.6h.01M289.2 535.9h.01M289.1 530.9h.01M289.5 523.0h.01M289.9 536.8h.01M290.3 540.9h.01M290.0 526.9h.01M290.6 540.3h.01M291.7 528.7h.01M291.0 527.2h.01M291.1 529.4h.01M291.4 523.5h.01M291.0 526.4h.01M293.3 528.0h.01M293.3 529.1h.01M293.8 539.3h.01M293.1 537.4h.01M294.2 527.5h.01M294.5 526.3h.01M293.9 538.1h.01M295.1 528.9h.01M294.9 534.9h.01M295.5 529.3h.01M295.0 531.3h.01M295.5 540.5h.01M295.5 525.5h.01M296.4 533.4h.01M296.0 540.1h.01M296.2 534.2h.01M296.3 529.1h.01M296.8 527.1h.01M297.0 536.0h.01M298.5 534.3h.01M298.2 532.5h.01M298.7 534.9h.01M297.8 540.6h.01M298.6 522.2h.01M299.6 528.5h.01M299.5 539.7h.01M299.5 531.9h.01M299.6 530.3h.01M299.3 528.7h.01M299.3 536.7h.01M300.8 526.8h.01M301.4 532.9h.01M301.0 538.9h.01M301.6 526.6h.01M302.1 533.9h.01M302.1 531.1h.01M301.8 539.9h.01M257.4 529.3h.01M257.5 525.0h.01M257.5 535.9h.01M257.7 531.4h.01M258.5 525.1h.01M258.5 507.0h.01M258.5 465.2h.01M258.6 483.7h.01M258.8 507.4h.01M258.8 464.2h.01M259.0 513.4h.01M259.1 509.5h.01M259.1 513.6h.01M259.2 480.7h.01M259.2 501.9h.01M259.2 477.4h.01M259.2 510.7h.01M259.3 512.2h.01M259.5 485.7h.01M259.5 487.2h.01M259.7 509.3h.01M259.8 528.0h.01M259.8 535.3h.01M259.8 527.5h.01M259.9 522.6h.01M260.1 517.4h.01M260.1 524.4h.01M260.1 524.3h.01M260.3 525.4h.01M260.3 537.3h.01M260.3 504.2h.01M260.5 532.1h.01M260.8 468.5h.01M260.8 525.8h.01M260.9 534.4h.01M260.9 506.7h.01M260.9 537.5h.01M260.9 522.5h.01M260.9 509.4h.01M261.1 532.4h.01M261.1 534.4h.01M261.4 528.6h.01M261.5 494.6h.01M261.5 524.2h.01M261.8 514.8h.01M262.4 518.9h.01M262.7 532.1h.01M262.7 525.5h.01M263.0 524.2h.01M263.1 468.2h.01M263.1 471.8h.01M263.1 475.3h.01M263.1 507.8h.01M263.4 499.7h.01M263.4 474.0h.01M263.5 531.8h.01M263.7 534.9h.01M263.9 531.3h.01M264.1 531.4h.01M264.1 527.9h.01M264.1 531.5h.01M264.3 530.8h.01M264.4 527.8h.01M264.4 536.7h.01M264.5 527.5h.01M264.5 534.2h.01M264.5 530.0h.01M264.7 512.9h.01M264.7 533.8h.01M264.7 497.4h.01M264.8 538.9h.01M264.9 501.0h.01M264.9 527.6h.01M264.9 538.9h.01M265.0 531.1h.01M265.1 531.4h.01M265.5 496.7h.01M265.7 531.9h.01M265.7 499.1h.01M265.7 531.3h.01M265.8 519.8h.01M265.8 539.9h.01M265.9 515.7h.01M266.0 522.4h.01M266.1 507.8h.01M266.1 531.4h.01M266.1 519.5h.01M266.2 490.4h.01M266.3 526.6h.01M266.3 533.9h.01M266.3 529.6h.01M266.4 533.9h.01M266.4 532.7h.01M266.4 535.8h.01M266.4 517.4h.01M266.5 534.2h.01M266.5 521.6h.01M266.6 528.2h.01M266.7 526.4h.01M266.8 537.9h.01M266.8 513.1h.01M266.8 530.1h.01M266.9 527.0h.01M267.0 508.3h.01M267.0 535.2h.01M267.1 531.8h.01M267.1 532.6h.01M267.2 516.9h.01M267.2 520.7h.01M267.2 474.4h.01M267.2 537.8h.01M267.3 497.4h.01M267.3 532.8h.01M267.3 525.7h.01M267.3 536.3h.01M267.5 510.4h.01M267.5 519.8h.01M267.5 515.6h.01M267.6 537.8h.01M267.6 522.9h.01M267.6 502.7h.01M267.6 529.7h.01M267.6 527.5h.01M267.7 521.9h.01M267.7 508.1h.01M267.7 505.1h.01M267.8 534.1h.01M267.8 525.9h.01M267.8 533.7h.01M267.8 539.3h.01M267.8 517.5h.01M267.9 530.1h.01M267.9 533.6h.01M267.9 538.9h.01M267.9 491.1h.01M267.9 523.4h.01M268.0 532.9h.01M268.0 536.6h.01M268.0 511.4h.01M268.1 526.2h.01M268.3 537.2h.01M268.5 522.7h.01M268.6 509.3h.01M268.6 534.3h.01M269.0 515.6h.01M269.1 538.1h.01M269.1 512.2h.01M269.2 533.4h.01M269.3 510.4h.01M269.3 521.1h.01M269.3 536.0h.01M269.3 538.8h.01M269.4 520.2h.01M269.4 529.1h.01M269.4 539.4h.01M269.6 516.0h.01M269.9 528.3h.01M269.9 513.7h.01M270.2 524.8h.01M270.2 530.5h.01M270.4 523.0h.01M270.5 540.5h.01M270.8 510.0h.01M271.0 525.5h.01M271.1 537.0h.01M271.2 536.8h.01M271.3 523.4h.01M271.3 536.1h.01M271.5 521.6h.01M271.5 535.6h.01M271.6 532.1h.01M271.6 527.3h.01M271.7 530.2h.01M271.7 537.9h.01M271.8 519.9h.01M272.0 491.3h.01M272.1 524.9h.01M272.1 534.2h.01M272.2 532.6h.01M272.4 511.3h.01M272.4 534.7h.01M272.5 524.5h.01M272.5 534.2h.01M272.6 537.1h.01M272.6 524.4h.01M272.7 529.1h.01M272.7 506.0h.01M272.8 519.6h.01M272.9 527.0h.01M272.9 470.7h.01M273.0 534.0h.01M273.0 536.3h.01M273.1 535.5h.01M273.2 518.3h.01M273.2 514.0h.01M273.3 533.3h.01M273.3 525.2h.01M273.3 518.0h.01M273.4 515.5h.01M273.4 523.5h.01M273.4 522.2h.01M273.5 498.7h.01M273.5 532.4h.01M273.7 514.6h.01M273.7 500.7h.01M273.7 534.3h.01M273.7 526.4h.01M273.7 492.2h.01M273.8 525.3h.01M273.9 529.2h.01M274.0 485.8h.01M274.1 536.9h.01M274.2 514.0h.01M274.2 518.3h.01M274.3 526.3h.01M274.3 501.5h.01M274.3 517.4h.01M274.3 533.1h.01M274.3 500.7h.01M274.3 529.2h.01M274.4 528.3h.01M274.4 525.9h.01M274.5 532.4h.01M274.6 537.5h.01M274.6 532.4h.01M274.8 526.6h.01M274.8 529.7h.01M274.9 537.8h.01M274.9 520.5h.01M275.1 531.1h.01M275.1 468.8h.01M275.2 513.5h.01M275.2 480.9h.01M275.2 524.1h.01M275.3 536.3h.01M275.3 530.0h.01M275.4 535.4h.01M275.5 533.6h.01M275.5 536.5h.01M275.5 539.2h.01M275.5 491.5h.01M275.6 496.1h.01M275.6 510.6h.01M275.7 508.3h.01M275.8 497.9h.01M275.8 514.2h.01M275.8 491.2h.01M275.9 521.0h.01M275.9 518.3h.01M275.9 533.2h.01M275.9 538.4h.01M276.0 503.4h.01M276.0 525.0h.01M276.1 516.2h.01M276.1 466.9h.01M276.1 522.9h.01M276.1 513.9h.01M276.1 512.1h.01M276.2 537.5h.01M276.2 512.1h.01M276.3 523.7h.01M276.3 534.7h.01M276.4 515.4h.01M276.4 540.4h.01M276.4 519.1h.01M276.4 512.5h.01M276.4 514.6h.01M276.4 538.4h.01M276.4 538.6h.01M276.4 493.7h.01M276.5 511.7h.01M276.5 531.1h.01M276.6 535.8h.01M276.6 515.8h.01M276.6 526.9h.01M276.6 510.9h.01M276.8 532.8h.01M276.9 520.1h.01M276.9 522.7h.01M277.0 524.1h.01M277.0 537.9h.01M277.1 529.2h.01M277.1 524.5h.01M277.4 537.9h.01M277.4 516.4h.01M277.4 497.5h.01M277.6 508.4h.01M277.6 506.0h.01M277.7 508.1h.01M277.7 498.9h.01M277.7 528.2h.01M277.8 538.3h.01M277.8 504.5h.01M277.8 538.9h.01M277.9 523.9h.01M277.9 538.7h.01M278.0 539.0h.01M278.0 520.3h.01M278.1 537.9h.01M278.1 504.6h.01M278.1 535.7h.01M278.1 530.6h.01M278.2 513.6h.01M278.2 531.4h.01M278.2 518.9h.01M278.2 533.9h.01M278.2 530.2h.01M278.2 527.8h.01M278.2 526.6h.01M278.3 526.1h.01M278.3 482.4h.01M278.4 528.7h.01M278.4 513.9h.01M278.4 523.6h.01M278.4 528.1h.01M278.5 529.2h.01M278.5 495.2h.01M278.5 533.2h.01M278.5 442.9h.01M278.5 540.3h.01M278.5 537.3h.01M278.5 522.0h.01M278.6 534.3h.01M278.6 490.0h.01M278.6 531.4h.01M278.7 531.3h.01M278.7 533.7h.01M278.7 518.8h.01M278.7 530.1h.01M278.7 535.2h.01M278.8 528.7h.01M278.8 532.7h.01M278.9 525.9h.01M278.9 521.3h.01M278.9 538.6h.01M278.9 540.4h.01M278.9 526.0h.01M278.9 538.5h.01M279.0 538.9h.01M279.0 526.4h.01M279.0 487.9h.01M279.0 536.4h.01M279.0 495.8h.01M279.0 529.6h.01M279.0 529.0h.01M279.1 536.6h.01M279.2 513.4h.01M279.2 524.0h.01M279.2 537.3h.01M279.3 519.6h.01M279.3 521.1h.01M279.4 508.8h.01M279.5 536.7h.01M279.5 538.4h.01M279.5 518.2h.01M279.5 526.9h.01M279.6 516.8h.01M279.6 508.9h.01M279.6 531.9h.01M279.6 531.6h.01M279.6 527.5h.01M279.6 521.7h.01M279.6 519.9h.01M279.7 517.2h.01M279.7 539.8h.01M279.9 517.5h.01M280.0 530.1h.01M280.0 524.7h.01M280.0 514.0h.01M280.0 488.1h.01M280.1 536.7h.01M280.1 517.2h.01M280.2 529.9h.01M280.3 481.3h.01M280.3 452.8h.01M280.3 503.0h.01M280.4 494.7h.01M280.4 529.3h.01M280.4 533.8h.01M280.5 525.6h.01M280.6 528.7h.01M280.6 535.9h.01M280.6 530.4h.01M280.7 519.5h.01M280.9 523.5h.01M280.9 528.6h.01M281.0 514.0h.01M281.0 504.9h.01M281.0 540.3h.01M281.0 533.9h.01M281.1 532.5h.01M281.1 512.0h.01M281.1 521.0h.01M281.1 526.5h.01M281.2 533.2h.01M281.2 523.0h.01M281.3 519.3h.01M281.3 513.3h.01M281.3 539.7h.01M281.4 482.7h.01M281.4 530.3h.01M281.5 521.9h.01M281.5 522.9h.01M281.6 536.2h.01M281.6 518.6h.01M281.6 524.6h.01M281.7 531.3h.01M281.8 535.9h.01M281.8 537.7h.01M281.8 531.0h.01M281.8 536.9h.01M281.8 531.7h.01M281.9 527.2h.01M281.9 534.3h.01M281.9 535.8h.01M281.9 495.8h.01M281.9 534.4h.01M282.0 536.6h.01M282.0 520.4h.01M282.1 517.5h.01M282.1 528.1h.01M282.2 529.8h.01M282.2 530.1h.01M282.2 521.7h.01M282.2 515.6h.01M282.3 520.6h.01M282.4 517.2h.01M282.4 539.6h.01M282.4 533.4h.01M282.4 517.5h.01M282.5 525.5h.01M282.5 528.2h.01M282.5 512.4h.01M282.5 534.3h.01M282.6 524.7h.01M282.7 527.3h.01M282.7 509.9h.01M282.7 527.8h.01M282.8 516.2h.01M282.8 525.6h.01M282.9 536.8h.01M282.9 505.0h.01M282.9 529.6h.01M282.9 508.7h.01M282.9 514.7h.01M282.9 526.3h.01M282.9 510.4h.01M283.0 456.3h.01M283.1 505.2h.01M283.1 488.3h.01M283.1 474.5h.01M283.3 517.7h.01M283.4 531.8h.01M283.4 512.3h.01M283.4 519.8h.01M283.4 514.2h.01M283.5 519.4h.01M283.5 519.3h.01M283.5 520.4h.01M283.6 517.2h.01M283.7 510.2h.01M283.7 522.5h.01M283.8 527.5h.01M283.8 539.5h.01M283.8 523.4h.01M283.8 516.6h.01M283.8 530.3h.01M283.8 533.0h.01M283.9 506.9h.01M283.9 526.4h.01M283.9 522.2h.01M283.9 531.6h.01M283.9 530.0h.01M284.0 530.4h.01M284.0 525.3h.01M284.1 540.4h.01M284.1 526.3h.01M284.1 534.0h.01M284.1 503.4h.01M284.2 538.7h.01M284.2 525.4h.01M284.2 536.0h.01M284.2 524.8h.01M284.2 539.6h.01M284.2 526.7h.01M284.2 497.4h.01M284.3 529.4h.01M284.4 519.6h.01M284.4 527.0h.01M284.4 513.8h.01M284.4 528.8h.01M284.5 529.3h.01M284.6 473.6h.01M284.6 459.7h.01M284.7 485.2h.01M284.8 534.0h.01M284.8 520.2h.01M284.8 528.9h.01M284.8 511.8h.01M284.8 466.1h.01M284.8 526.0h.01M284.8 520.4h.01M284.9 537.3h.01M284.9 536.3h.01M284.9 536.7h.01M285.0 520.6h.01M285.1 536.0h.01M285.2 535.6h.01M285.2 531.5h.01M285.5 527.7h.01M285.6 512.9h.01M285.6 519.3h.01M285.7 523.0h.01M285.7 517.9h.01M285.8 536.3h.01M286.1 489.8h.01M286.2 520.7h.01M286.3 517.9h.01M286.4 530.5h.01M286.4 530.5h.01M286.5 536.8h.01M286.6 521.3h.01M286.7 514.2h.01M286.9 503.8h.01M287.0 463.1h.01M287.0 495.3h.01M287.1 534.7h.01M287.2 536.1h.01M287.2 519.5h.01M287.2 525.9h.01M287.3 537.3h.01M287.3 536.8h.01M287.3 534.2h.01M287.5 536.2h.01M287.7 535.1h.01M287.7 526.6h.01M287.7 502.2h.01M287.8 531.6h.01M287.9 509.0h.01M288.2 532.9h.01M288.2 521.2h.01M288.4 537.0h.01M288.4 539.0h.01M288.6 537.8h.01M288.8 530.5h.01M288.9 528.9h.01M288.9 491.7h.01M289.0 518.9h.01M289.1 515.2h.01M289.1 536.5h.01M289.2 482.2h.01M289.2 491.8h.01M289.2 501.4h.01M289.3 527.5h.01M289.3 530.0h.01M289.3 529.6h.01M289.3 469.3h.01M289.4 535.9h.01M289.4 526.5h.01M289.4 519.0h.01M289.4 488.2h.01M289.4 503.8h.01M289.4 509.8h.01M289.4 528.0h.01M289.5 537.9h.01M289.5 500.2h.01M289.6 532.6h.01M289.6 496.1h.01M289.6 496.6h.01M289.6 518.8h.01M289.7 531.9h.01M289.7 532.4h.01M289.7 506.3h.01M289.7 531.0h.01M289.9 538.7h.01M289.9 528.3h.01M290.1 529.6h.01M290.3 525.3h.01M290.4 528.6h.01M290.5 523.3h.01M290.6 503.4h.01M290.6 444.2h.01M290.7 460.7h.01M290.8 499.7h.01M290.9 533.3h.01M291.0 540.5h.01M291.0 520.6h.01M291.0 521.1h.01M291.0 518.5h.01M291.1 539.4h.01M291.1 488.5h.01M291.2 526.4h.01M291.2 534.1h.01M291.3 526.8h.01M291.3 506.1h.01M291.5 524.5h.01M291.5 538.2h.01M291.6 525.1h.01M291.7 464.5h.01M291.7 497.7h.01M291.8 530.7h.01M291.9 536.4h.01M292.0 487.0h.01M292.1 525.2h.01M292.1 513.0h.01M292.2 516.8h.01M292.2 499.1h.01M292.3 536.1h.01M292.3 507.3h.01M292.5 535.6h.01M292.6 533.4h.01M292.6 532.7h.01M292.7 519.5h.01M292.7 534.5h.01M292.7 522.2h.01M292.7 520.4h.01M292.7 520.7h.01M292.8 529.4h.01M292.9 518.2h.01M293.0 485.9h.01M293.0 537.4h.01M293.1 515.8h.01M293.1 511.0h.01M293.3 504.7h.01M293.3 535.4h.01M293.5 529.0h.01M293.7 526.4h.01M293.8 510.0h.01M293.8 533.6h.01M294.0 534.8h.01M294.0 531.1h.01M294.0 500.3h.01M294.0 518.1h.01M294.1 534.4h.01M294.1 516.3h.01M294.2 521.7h.01M294.4 492.0h.01M294.4 513.2h.01M294.4 522.6h.01M294.9 537.4h.01M294.9 507.6h.01M294.9 524.3h.01M295.1 533.8h.01M295.1 533.4h.01M295.1 514.8h.01M295.2 537.8h.01M295.2 534.2h.01M295.3 500.1h.01M295.4 515.8h.01M295.5 510.3h.01M295.5 538.9h.01M295.7 529.7h.01M295.7 516.0h.01M295.7 527.7h.01M295.7 511.5h.01M295.7 528.2h.01M295.7 529.0h.01M296.0 519.4h.01M296.0 492.7h.01M296.0 526.8h.01M296.1 533.4h.01M296.4 535.6h.01M296.6 537.7h.01M296.6 518.2h.01M296.6 518.6h.01M296.8 524.7h.01M296.9 524.0h.01M297.1 530.1h.01M297.6 524.2h.01M297.6 522.9h.01M297.7 504.8h.01M297.8 520.0h.01M297.8 532.9h.01M297.9 527.8h.01M297.9 519.2h.01M297.9 518.4h.01M297.9 526.3h.01M298.0 527.3h.01M298.1 524.6h.01M298.1 523.1h.01M298.1 537.7h.01M298.1 538.7h.01M298.3 521.0h.01M298.3 532.7h.01M298.3 524.1h.01M298.3 524.8h.01M298.4 520.4h.01M298.4 531.9h.01M298.5 522.1h.01M298.6 532.5h.01M298.6 509.0h.01M298.7 525.3h.01M298.8 502.7h.01M298.9 515.1h.01M298.9 497.4h.01M298.9 520.0h.01M299.0 521.8h.01M299.1 525.6h.01M299.1 518.4h.01M299.3 526.5h.01M299.5 537.9h.01M299.5 480.6h.01M299.7 517.6h.01M300.0 498.7h.01M300.1 534.5h.01M300.2 516.5h.01M300.2 539.3h.01M300.2 526.9h.01M300.3 482.7h.01M300.5 459.5h.01M300.5 485.7h.01M300.6 462.8h.01M300.8 448.3h.01M300.9 479.6h.01M301.1 480.1h.01M301.4 501.7h.01M301.4 485.5h.01M301.6 501.8h.01M301.7 507.1h.01M301.8 453.2h.01M301.8 501.9h.01M301.9 503.8h.01M301.9 513.3h.01M301.9 482.1h.01M302.9 503.0h.01M303.0 507.9h.01M303.3 507.7h.01M303.3 477.2h.01M303.4 495.0h.01M303.5 532.6h.01M361.1 539.3h.01M361.2 537.4h.01M362.7 533.0h.01M363.0 535.5h.01M362.8 528.3h.01M361.9 536.0h.01M362.1 536.0h.01M363.1 534.8h.01M363.1 530.9h.01M363.2 531.0h.01M363.2 530.4h.01M363.8 527.7h.01M363.8 528.9h.01M365.0 524.6h.01M364.7 523.1h.01M364.9 537.1h.01M364.0 540.5h.01M364.7 538.4h.01M364.5 529.6h.01M364.0 522.6h.01M365.4 523.3h.01M365.0 540.1h.01M365.1 533.1h.01M365.3 526.9h.01M366.3 534.3h.01M366.9 527.0h.01M366.8 523.5h.01M367.7 523.0h.01M367.8 524.3h.01M367.1 536.0h.01M367.6 525.4h.01M367.1 540.3h.01M368.1 539.6h.01M368.6 527.3h.01M368.6 525.6h.01M368.7 533.9h.01M369.5 539.8h.01M370.5 530.6h.01M370.4 523.8h.01M370.9 530.8h.01M371.2 539.5h.01M371.1 534.1h.01M371.1 533.4h.01M371.2 526.0h.01M372.7 525.4h.01M372.9 530.0h.01M372.2 525.3h.01M372.2 527.5h.01M372.6 536.3h.01M372.1 535.0h.01M372.2 521.9h.01M372.0 535.8h.01M373.3 524.7h.01M373.2 524.0h.01M373.2 536.7h.01M373.6 539.8h.01M374.3 523.6h.01M374.2 537.9h.01M374.3 529.5h.01M375.0 539.5h.01M374.3 537.1h.01M376.3 534.3h.01M375.9 526.2h.01M375.7 535.5h.01M375.9 526.7h.01M375.3 538.9h.01M375.3 540.5h.01M375.6 532.7h.01M376.5 525.6h.01M376.7 531.3h.01M377.5 529.6h.01M376.6 537.1h.01M378.2 524.6h.01M377.8 530.0h.01M377.9 534.6h.01M378.7 533.3h.01M378.9 530.6h.01M380.0 539.3h.01M380.5 528.0h.01M380.9 533.7h.01M380.9 534.2h.01M381.2 537.0h.01M382.3 536.1h.01M381.8 530.8h.01M381.5 523.7h.01M381.6 540.7h.01M382.4 534.4h.01M382.5 529.6h.01M383.0 524.2h.01M383.0 524.9h.01M383.8 540.4h.01M384.3 539.3h.01M384.8 536.9h.01M384.9 533.2h.01M385.5 521.2h.01M385.5 531.2h.01M384.9 533.6h.01M386.2 523.9h.01M386.3 529.9h.01M385.9 526.4h.01M386.2 540.5h.01M385.6 522.9h.01M387.4 531.6h.01M387.5 532.2h.01M386.5 529.3h.01M387.8 529.7h.01M387.5 525.7h.01M387.9 526.8h.01M387.5 532.6h.01M387.6 521.1h.01M388.0 520.7h.01M388.9 540.3h.01M388.8 527.1h.01M389.3 539.9h.01M389.3 530.1h.01M390.1 530.0h.01M389.5 526.3h.01M389.5 531.4h.01M391.4 530.6h.01M390.9 528.9h.01M391.2 534.0h.01M391.6 525.4h.01M392.3 527.4h.01M392.3 539.0h.01M391.8 538.1h.01M392.9 537.8h.01M393.5 531.1h.01M393.7 532.5h.01M394.0 537.9h.01M394.5 531.2h.01M394.5 531.9h.01M395.0 530.1h.01M395.2 538.9h.01M395.1 531.1h.01M396.5 530.4h.01M396.5 531.0h.01M396.5 532.5h.01M397.0 532.2h.01M397.0 538.7h.01M397.8 530.5h.01M397.8 534.8h.01M397.8 522.5h.01M398.0 540.7h.01M398.1 540.6h.01M398.7 522.8h.01M398.9 531.1h.01M399.0 540.5h.01M400.0 533.5h.01M401.2 528.1h.01M401.7 528.7h.01M401.6 535.9h.01M402.1 539.1h.01M401.6 526.1h.01M402.2 530.4h.01M402.9 530.8h.01M360.8 506.2h.01M360.9 515.4h.01M360.9 534.6h.01M360.9 515.9h.01M360.9 517.6h.01M361.0 532.3h.01M361.0 526.1h.01M361.0 528.7h.01M361.0 515.2h.01M361.0 532.9h.01M361.1 511.4h.01M361.1 499.5h.01M361.2 512.9h.01M361.3 510.7h.01M361.3 514.1h.01M361.3 512.5h.01M361.3 522.4h.01M361.3 518.1h.01M361.4 524.7h.01M361.4 527.0h.01M361.4 474.1h.01M361.4 536.0h.01M361.4 533.2h.01M361.4 518.2h.01M361.5 519.1h.01M361.5 528.7h.01M361.5 525.5h.01M361.6 518.0h.01M361.6 530.5h.01M361.6 525.4h.01M361.6 521.8h.01M361.7 525.0h.01M361.7 521.9h.01M361.7 537.9h.01M361.7 482.9h.01M361.8 517.3h.01M361.8 508.1h.01M361.9 524.6h.01M361.9 530.7h.01M361.9 526.8h.01M361.9 493.2h.01M361.9 506.4h.01M362.0 498.9h.01M362.0 535.8h.01M362.0 539.9h.01M362.1 511.8h.01M362.2 511.0h.01M362.2 513.8h.01M362.2 537.0h.01M362.3 532.0h.01M362.3 514.5h.01M362.3 538.5h.01M362.4 512.7h.01M362.4 524.8h.01M362.4 520.4h.01M362.4 534.4h.01M362.5 521.7h.01M362.5 525.5h.01M362.5 529.8h.01M362.6 521.0h.01M362.6 511.3h.01M362.6 522.9h.01M362.6 532.5h.01M362.7 528.8h.01M362.7 530.1h.01M362.7 532.7h.01M362.7 529.4h.01M362.8 521.6h.01M362.8 505.1h.01M362.8 495.7h.01M362.8 514.2h.01M362.9 488.2h.01M362.9 523.8h.01M362.9 516.9h.01M363.0 527.2h.01M363.0 537.3h.01M363.0 520.7h.01M363.0 539.2h.01M363.0 539.7h.01M363.1 533.4h.01M363.1 501.4h.01M363.2 491.0h.01M363.2 491.8h.01M363.2 535.7h.01M363.3 516.7h.01M363.3 535.0h.01M363.3 526.9h.01M363.4 517.6h.01M363.4 533.6h.01M363.4 533.2h.01M363.5 508.4h.01M363.5 526.5h.01M363.5 538.4h.01M363.6 530.3h.01M363.6 537.6h.01M363.6 532.8h.01M363.7 497.3h.01M363.8 509.7h.01M363.8 519.3h.01M364.0 525.3h.01M364.0 528.4h.01M364.1 535.5h.01M364.1 515.9h.01M364.1 532.8h.01M364.1 525.5h.01M364.2 532.8h.01M364.2 526.7h.01M364.2 534.6h.01M364.2 530.5h.01M364.2 536.0h.01M364.2 512.3h.01M364.3 534.1h.01M364.3 534.2h.01M364.4 523.8h.01M364.4 540.0h.01M364.4 535.5h.01M364.4 498.5h.01M364.4 510.0h.01M364.5 538.2h.01M364.5 536.2h.01M364.5 529.2h.01M364.5 525.5h.01M364.5 511.1h.01M364.5 507.0h.01M364.6 523.5h.01M364.6 534.8h.01M364.6 533.7h.01M364.6 527.9h.01M364.6 531.2h.01M364.6 540.4h.01M364.7 522.4h.01M364.7 524.8h.01M364.7 525.7h.01M364.7 520.4h.01M364.7 516.2h.01M364.7 522.7h.01M364.8 536.4h.01M364.8 534.7h.01M364.8 518.7h.01M364.9 509.5h.01M364.9 524.3h.01M364.9 531.2h.01M365.0 526.2h.01M365.0 530.9h.01M365.0 532.3h.01M365.0 523.5h.01M365.1 529.1h.01M365.1 520.2h.01M365.1 534.9h.01M365.1 522.6h.01M365.1 536.6h.01M365.1 491.0h.01M365.2 540.3h.01M365.2 523.8h.01M365.2 529.9h.01M365.2 539.4h.01M365.3 508.4h.01M365.3 522.4h.01M365.3 498.8h.01M365.4 510.3h.01M365.4 536.4h.01M365.5 520.0h.01M365.5 519.0h.01M365.5 533.6h.01M365.5 537.0h.01M365.6 530.0h.01M365.7 515.3h.01M365.9 536.8h.01M365.9 537.4h.01M365.9 508.9h.01M366.0 523.5h.01M366.0 533.0h.01M366.0 524.1h.01M366.1 525.9h.01M366.1 533.7h.01M366.1 531.5h.01M366.1 506.3h.01M366.1 451.7h.01M366.2 528.4h.01M366.2 535.4h.01M366.2 537.1h.01M366.2 537.2h.01M366.2 525.9h.01M366.2 530.7h.01M366.2 538.7h.01M366.3 538.1h.01M366.3 513.2h.01M366.3 530.2h.01M366.3 539.1h.01M366.3 540.2h.01M366.4 519.7h.01M366.4 512.2h.01M366.4 515.5h.01M366.4 523.5h.01M366.4 506.5h.01M366.4 500.9h.01M366.5 528.6h.01M366.5 534.2h.01M366.5 531.8h.01M366.5 519.7h.01M366.6 498.9h.01M366.6 536.6h.01M366.6 499.6h.01M366.6 530.9h.01M366.6 521.3h.01M366.6 528.6h.01M366.7 524.7h.01M366.7 497.8h.01M366.8 537.4h.01M366.8 529.8h.01M366.8 523.5h.01M366.8 515.3h.01M366.8 532.9h.01M366.8 500.6h.01M366.9 493.8h.01M366.9 500.8h.01M366.9 537.7h.01M366.9 536.2h.01M366.9 502.0h.01M366.9 476.0h.01M366.9 510.1h.01M366.9 519.9h.01M366.9 468.7h.01M367.0 506.8h.01M367.0 518.3h.01M367.0 520.9h.01M367.0 524.0h.01M367.0 517.4h.01M367.3 514.0h.01M367.3 527.7h.01M367.5 531.6h.01M367.6 503.5h.01M367.6 521.7h.01M367.6 537.7h.01M367.6 530.4h.01M367.6 510.1h.01M367.7 530.6h.01M367.7 528.4h.01M367.8 505.2h.01M367.8 536.1h.01M367.8 531.6h.01M367.8 531.2h.01M367.8 494.5h.01M367.9 518.8h.01M368.0 521.6h.01M368.1 462.9h.01M368.1 507.3h.01M368.1 488.0h.01M368.1 497.6h.01M368.1 529.9h.01M368.2 520.4h.01M368.2 532.8h.01M368.2 533.8h.01M368.2 523.4h.01M368.2 522.4h.01M368.2 526.5h.01M368.3 521.1h.01M368.3 536.4h.01M368.3 534.0h.01M368.3 529.2h.01M368.3 525.3h.01M368.3 506.3h.01M368.4 512.9h.01M368.4 527.1h.01M368.4 515.8h.01M368.5 515.7h.01M368.5 528.0h.01M368.5 538.6h.01M368.5 530.5h.01M368.5 523.2h.01M368.5 506.2h.01M368.6 534.4h.01M368.6 526.9h.01M368.6 537.4h.01M368.6 533.0h.01M368.6 524.2h.01M368.7 530.9h.01M368.7 510.4h.01M368.7 521.9h.01M368.7 536.5h.01M368.8 500.9h.01M368.8 518.8h.01M368.8 531.7h.01M368.8 519.8h.01M368.8 538.3h.01M368.8 514.1h.01M368.8 533.3h.01M368.8 534.1h.01M368.8 527.3h.01M368.8 522.6h.01M368.8 528.9h.01M368.9 507.8h.01M368.9 511.3h.01M368.9 501.0h.01M368.9 531.3h.01M369.0 508.7h.01M369.0 497.6h.01M369.0 531.4h.01M369.0 530.0h.01M369.0 531.3h.01M369.1 537.5h.01M369.1 515.2h.01M369.1 486.2h.01M369.1 518.4h.01M369.1 533.2h.01M369.1 500.7h.01M369.1 537.9h.01M369.1 536.9h.01M369.2 539.8h.01M369.2 516.4h.01M369.2 533.0h.01M369.2 482.4h.01M369.2 518.4h.01M369.2 523.4h.01M369.2 540.4h.01M369.2 539.6h.01M369.2 533.5h.01M369.2 530.1h.01M369.2 519.1h.01M369.2 534.1h.01M369.3 517.8h.01M369.3 534.9h.01M369.3 511.7h.01M369.3 527.4h.01M369.3 533.1h.01M369.3 502.1h.01M369.4 528.9h.01M369.4 513.8h.01M369.4 530.9h.01M369.4 531.7h.01M369.4 532.7h.01M369.6 527.9h.01M369.6 518.9h.01M369.6 523.2h.01M369.6 468.1h.01M369.7 476.9h.01M369.7 453.5h.01M369.7 481.0h.01M369.7 497.0h.01M369.7 497.2h.01M369.7 447.5h.01M369.7 499.1h.01M369.8 505.2h.01M369.8 529.8h.01M369.8 468.3h.01M369.8 539.6h.01M369.9 510.8h.01M369.9 531.0h.01M369.9 528.7h.01M369.9 538.8h.01M370.0 498.7h.01M370.0 484.2h.01M370.0 504.7h.01M370.0 495.5h.01M370.0 473.3h.01M370.1 503.0h.01M370.1 463.2h.01M370.1 469.7h.01M370.1 499.8h.01M370.1 468.4h.01M370.2 490.1h.01M370.2 482.4h.01M370.2 501.0h.01M370.3 487.5h.01M370.4 492.3h.01M370.4 504.7h.01M370.4 538.9h.01M370.4 525.2h.01M370.4 539.2h.01M370.4 538.1h.01M370.4 492.3h.01M370.4 512.4h.01M370.4 531.4h.01M370.5 538.6h.01M370.5 533.1h.01M370.5 521.9h.01M370.5 502.4h.01M370.5 523.4h.01M370.5 519.4h.01M370.5 537.5h.01M370.6 528.3h.01M370.6 533.4h.01M370.6 513.8h.01M370.6 534.2h.01M370.6 519.8h.01M370.6 499.9h.01M370.6 518.4h.01M370.6 534.2h.01M370.6 540.7h.01M370.7 525.5h.01M370.7 524.4h.01M370.7 536.9h.01M370.7 535.9h.01M370.7 510.6h.01M370.8 514.3h.01M370.8 540.3h.01M370.8 538.2h.01M370.8 520.6h.01M370.9 508.0h.01M370.9 527.1h.01M371.0 540.3h.01M371.0 529.1h.01M371.0 524.4h.01M371.0 517.2h.01M371.0 510.2h.01M371.0 527.6h.01M371.0 523.9h.01M371.0 535.3h.01M371.0 514.9h.01M371.0 515.4h.01M371.0 540.2h.01M371.1 532.6h.01M371.1 539.1h.01M371.1 526.5h.01M371.1 534.1h.01M371.1 538.0h.01M371.1 540.3h.01M371.1 526.7h.01M371.1 500.5h.01M371.2 458.5h.01M371.2 530.1h.01M371.2 535.7h.01M371.2 540.1h.01M371.2 526.2h.01M371.2 525.7h.01M371.3 510.0h.01M371.3 531.6h.01M371.3 514.5h.01M371.3 513.8h.01M371.3 508.4h.01M371.3 485.5h.01M371.3 459.2h.01M371.4 486.4h.01M371.4 466.5h.01M371.4 486.6h.01M371.4 475.0h.01M371.4 522.1h.01M371.4 515.8h.01M371.4 533.9h.01M371.4 538.6h.01M371.4 534.9h.01M371.4 528.6h.01M371.5 506.0h.01M371.5 537.8h.01M371.5 498.2h.01M371.5 518.4h.01M371.5 502.2h.01M371.5 535.3h.01M371.5 536.5h.01M371.5 472.2h.01M371.5 525.0h.01M371.6 532.4h.01M371.6 532.3h.01M371.6 524.6h.01M371.6 529.6h.01M371.6 526.1h.01M371.6 536.2h.01M371.6 531.7h.01M371.6 532.1h.01M371.7 527.5h.01M371.7 531.6h.01M371.7 502.3h.01M371.7 520.3h.01M371.7 535.8h.01M371.7 531.5h.01M371.7 515.6h.01M371.7 530.1h.01M371.8 516.0h.01M371.8 531.2h.01M371.8 538.7h.01M371.8 530.9h.01M371.9 532.4h.01M371.9 520.3h.01M371.9 502.0h.01M371.9 538.0h.01M371.9 528.8h.01M371.9 503.5h.01M371.9 531.1h.01M371.9 522.8h.01M371.9 495.9h.01M371.9 517.8h.01M372.0 526.0h.01M372.0 540.5h.01M372.0 531.2h.01M372.0 536.5h.01M372.0 517.1h.01M372.2 535.1h.01M372.2 536.0h.01M372.2 523.4h.01M372.2 526.5h.01M372.3 493.0h.01M372.3 472.0h.01M372.3 510.8h.01M372.6 506.2h.01M372.6 503.2h.01M372.6 537.2h.01M372.6 522.9h.01M372.7 520.3h.01M372.7 530.8h.01M372.7 511.6h.01M372.7 511.9h.01M372.8 533.2h.01M372.9 527.0h.01M372.9 488.9h.01M373.0 528.1h.01M373.0 538.7h.01M373.1 522.8h.01M373.2 512.0h.01M373.3 540.1h.01M373.4 532.1h.01M373.4 537.7h.01M373.4 492.8h.01M373.5 537.6h.01M373.5 539.0h.01M373.7 512.0h.01M373.7 531.6h.01M373.7 526.9h.01M373.7 535.0h.01M373.9 489.7h.01M373.9 525.6h.01M374.1 517.5h.01M374.1 522.1h.01M374.1 527.2h.01M374.2 534.0h.01M374.2 512.9h.01M374.3 511.8h.01M374.3 526.6h.01M374.4 533.6h.01M374.4 508.2h.01M374.5 531.6h.01M374.5 485.9h.01M374.5 489.7h.01M374.5 498.7h.01M374.6 458.9h.01M374.8 479.0h.01M374.8 498.2h.01M374.8 495.5h.01M374.9 468.9h.01M375.0 468.9h.01M375.1 462.8h.01M375.2 540.3h.01M375.2 538.9h.01M375.2 522.0h.01M375.3 536.3h.01M375.3 528.1h.01M375.3 536.9h.01M375.3 479.3h.01M375.4 513.2h.01M375.4 524.8h.01M375.4 529.1h.01M375.4 529.6h.01M375.5 521.9h.01M375.5 531.1h.01M375.5 531.9h.01M375.6 523.0h.01M375.6 504.8h.01M375.6 532.6h.01M375.6 522.7h.01M375.7 528.9h.01M375.7 504.8h.01M375.8 525.3h.01M375.8 536.7h.01M375.8 537.9h.01M375.8 527.4h.01M375.9 509.5h.01M375.9 527.2h.01M375.9 503.0h.01M376.0 513.6h.01M376.0 528.4h.01M376.1 535.3h.01M376.1 529.8h.01M376.2 519.5h.01M376.2 538.1h.01M376.3 536.2h.01M376.3 520.7h.01M376.4 486.5h.01M376.4 475.5h.01M376.4 501.8h.01M376.5 479.7h.01M376.6 447.5h.01M376.6 505.4h.01M376.7 505.4h.01M376.7 524.2h.01M376.8 536.2h.01M376.8 521.9h.01M377.0 537.6h.01M377.2 536.5h.01M377.2 476.3h.01M377.3 534.3h.01M377.3 532.0h.01M377.4 520.8h.01M377.5 533.3h.01M377.5 535.4h.01M377.6 516.3h.01M377.7 532.5h.01M377.7 525.7h.01M377.7 536.6h.01M377.8 506.6h.01M378.0 509.0h.01M378.1 529.9h.01M378.1 512.9h.01M378.2 528.4h.01M378.2 504.1h.01M378.2 523.8h.01M378.2 518.0h.01M378.3 518.8h.01M378.4 510.8h.01M378.4 528.3h.01M378.5 533.0h.01M378.5 514.4h.01M378.5 524.0h.01M378.6 531.2h.01M378.7 519.2h.01M378.7 540.2h.01M378.8 532.1h.01M378.9 528.5h.01M378.9 522.9h.01M378.9 524.2h.01M378.9 514.8h.01M379.1 536.0h.01M379.2 481.1h.01M379.2 525.4h.01M379.3 520.3h.01M379.4 535.3h.01M379.4 539.8h.01M379.4 515.5h.01M379.4 537.5h.01M379.7 524.5h.01M379.9 537.2h.01M379.9 522.0h.01M380.0 494.8h.01M380.0 518.3h.01M380.0 494.3h.01M380.1 512.2h.01M380.1 534.7h.01M380.2 481.0h.01M380.2 508.7h.01M380.3 524.4h.01M380.3 517.6h.01M380.4 519.6h.01M380.4 527.1h.01M380.4 507.5h.01M380.4 516.3h.01M380.7 521.6h.01M380.8 526.2h.01M381.1 523.1h.01M381.4 534.6h.01M381.4 522.6h.01M381.6 538.8h.01M381.6 536.3h.01M381.7 529.6h.01M381.7 528.1h.01M381.7 513.8h.01M381.9 531.3h.01M381.9 528.8h.01M382.0 532.0h.01M382.1 498.8h.01M382.2 495.8h.01M382.2 529.3h.01M382.3 537.1h.01M382.3 510.5h.01M382.4 538.9h.01M382.4 525.7h.01M382.5 531.8h.01M382.5 518.8h.01M382.5 519.4h.01M382.5 530.5h.01M382.6 532.1h.01M382.6 521.7h.01M382.6 531.7h.01M382.6 538.4h.01M382.7 522.9h.01M382.7 511.9h.01M382.8 493.1h.01M382.9 526.3h.01M383.1 539.4h.01M383.1 529.5h.01M383.1 518.5h.01M383.2 535.4h.01M383.2 526.0h.01M383.3 500.2h.01M383.3 534.8h.01M383.3 525.9h.01M383.3 522.1h.01M383.3 535.0h.01M383.4 532.4h.01M383.4 536.6h.01M384.1 530.6h.01M384.1 516.1h.01M384.2 533.0h.01M384.2 507.8h.01M384.2 529.6h.01M384.3 534.9h.01M384.4 536.8h.01M384.5 478.4h.01M384.5 537.4h.01M384.6 531.5h.01M384.6 525.0h.01M384.7 517.0h.01M384.8 534.8h.01M384.8 535.7h.01M384.8 535.2h.01M384.9 524.0h.01M384.9 537.2h.01M385.0 523.3h.01M385.0 532.9h.01M385.0 524.0h.01M385.0 528.5h.01M385.0 520.4h.01M385.0 530.1h.01M385.1 529.5h.01M385.1 517.4h.01M385.2 528.9h.01M385.3 511.5h.01M385.3 531.9h.01M385.3 507.5h.01M385.3 537.5h.01M385.4 536.9h.01M385.4 536.9h.01M385.4 510.0h.01M385.4 534.8h.01M385.4 533.5h.01M385.5 537.2h.01M385.6 532.8h.01M385.6 530.5h.01M385.7 519.0h.01M385.7 531.9h.01M385.8 539.9h.01M385.8 518.7h.01M385.8 536.5h.01M385.9 534.1h.01M385.9 526.6h.01M385.9 518.4h.01M385.9 517.9h.01M385.9 533.9h.01M385.9 517.0h.01M386.0 532.2h.01M386.2 526.3h.01M386.3 533.1h.01M386.4 535.6h.01M386.4 529.0h.01M386.4 529.1h.01M386.4 492.9h.01M386.5 500.9h.01M386.5 498.6h.01M386.5 462.0h.01M386.6 476.9h.01M386.7 511.6h.01M386.8 513.3h.01M386.9 520.3h.01M387.0 492.7h.01M387.0 524.8h.01M387.1 531.7h.01M387.1 534.4h.01M387.2 523.9h.01M387.5 540.4h.01M387.6 486.9h.01M387.7 473.9h.01M387.7 489.9h.01M387.8 479.5h.01M387.9 470.7h.01M387.9 483.2h.01M388.1 484.6h.01M388.1 467.0h.01M388.1 468.4h.01M388.1 475.5h.01M388.1 466.3h.01M388.1 483.6h.01M388.3 467.2h.01M388.3 480.2h.01M388.4 491.4h.01M388.4 466.4h.01M388.6 449.3h.01M388.6 483.7h.01M388.8 476.0h.01M389.1 461.5h.01M389.2 450.7h.01M389.2 453.2h.01M389.3 453.8h.01M389.3 467.3h.01M389.5 485.4h.01M389.6 487.9h.01M389.7 469.8h.01M389.7 470.0h.01M389.8 476.4h.01M389.8 460.1h.01M389.8 486.0h.01M389.9 489.1h.01M390.0 475.9h.01M390.0 535.9h.01M390.0 535.7h.01M390.0 500.4h.01M390.1 531.7h.01M390.2 504.2h.01M390.2 537.1h.01M390.2 532.4h.01M390.3 524.5h.01M390.4 508.7h.01M390.4 530.6h.01M390.6 526.2h.01M390.7 533.7h.01M390.7 504.6h.01M390.8 508.3h.01M390.9 491.3h.01M390.9 529.2h.01M391.4 523.2h.01M391.8 525.8h.01M392.0 520.5h.01M392.0 512.8h.01M392.0 531.2h.01M392.2 538.3h.01M392.4 538.8h.01M392.6 536.6h.01M392.6 538.0h.01M392.6 536.2h.01M392.8 526.4h.01M392.9 536.8h.01M393.1 535.3h.01M393.3 534.9h.01M393.8 515.4h.01M394.1 536.8h.01M394.1 532.9h.01M394.2 521.7h.01M394.2 527.5h.01M394.4 534.7h.01M394.4 535.5h.01M394.4 536.2h.01M394.5 529.2h.01M394.5 538.2h.01M394.6 528.2h.01M394.6 502.7h.01M394.9 525.3h.01M395.0 533.0h.01M395.1 531.0h.01M395.1 528.7h.01M395.1 501.1h.01M395.2 519.6h.01M395.4 532.0h.01M395.4 525.4h.01M395.5 535.3h.01M395.6 531.8h.01M395.8 535.9h.01M396.1 531.1h.01M396.2 539.0h.01M396.5 510.0h.01M396.6 520.5h.01M396.6 531.6h.01M396.6 531.2h.01M396.7 500.8h.01M397.1 497.4h.01M397.1 526.5h.01M397.1 532.3h.01M397.2 517.7h.01M397.3 538.8h.01M397.4 508.3h.01M397.4 524.6h.01M397.5 528.4h.01M397.5 528.9h.01M397.5 530.1h.01M397.5 530.0h.01M397.6 515.2h.01M397.6 526.6h.01M397.7 526.2h.01M397.7 535.5h.01M397.7 535.2h.01M397.8 533.5h.01M397.8 530.8h.01M397.9 520.9h.01M397.9 512.4h.01M398.0 515.3h.01M398.0 533.8h.01M398.3 536.9h.01M398.3 528.6h.01M398.4 523.5h.01M398.4 502.6h.01M398.4 480.6h.01M398.5 539.0h.01M398.5 528.0h.01M398.5 520.3h.01M398.5 529.8h.01M398.6 528.7h.01M398.6 525.1h.01M398.7 521.6h.01M398.7 535.7h.01M398.7 534.2h.01M398.8 534.2h.01M398.9 509.5h.01M398.9 500.3h.01M398.9 464.0h.01M399.0 512.1h.01M399.0 495.2h.01M399.0 507.3h.01M399.1 505.9h.01M399.1 539.5h.01M399.1 530.8h.01M399.2 524.3h.01M399.2 533.9h.01M399.2 537.1h.01M399.2 528.9h.01M399.2 521.9h.01M399.2 527.5h.01M399.3 502.3h.01M399.3 531.5h.01M399.3 524.2h.01M399.3 534.6h.01M399.4 532.1h.01M399.4 523.3h.01M399.4 534.2h.01M399.4 502.0h.01M399.5 519.3h.01M399.6 532.5h.01M399.7 527.8h.01M399.8 539.0h.01M399.8 530.0h.01M400.0 528.2h.01M400.2 532.2h.01M400.2 505.4h.01M400.3 534.0h.01M400.3 465.7h.01M400.3 528.1h.01M400.4 526.4h.01M400.5 506.9h.01M400.6 531.0h.01M400.6 535.5h.01M400.7 510.7h.01M400.7 533.6h.01M400.8 538.8h.01M400.9 531.9h.01M401.0 535.4h.01M401.0 534.3h.01M401.1 509.1h.01M401.1 515.3h.01M401.1 536.6h.01M401.1 530.6h.01M401.2 523.8h.01M401.3 522.6h.01M401.4 526.7h.01M401.9 477.2h.01M401.9 459.6h.01M402.3 540.6h.01M402.4 518.5h.01M402.5 528.2h.01M402.5 529.4h.01M402.6 539.2h.01M402.6 531.8h.01M402.7 526.4h.01M402.8 539.9h.01M402.8 526.6h.01M402.9 527.8h.01M403.0 514.8h.01M403.1 483.8h.01M403.1 488.0h.01M403.1 502.6h.01M403.1 514.9h.01M403.1 521.5h.01M403.1 527.9h.01M403.1 526.4h.01M403.2 510.2h.01M403.2 538.1h.01M403.2 531.3h.01M403.3 526.9h.01M403.3 495.9h.01M452.4 539.0h.01M452.7 520.7h.01M452.6 533.4h.01M453.5 530.6h.01M453.7 529.1h.01M454.0 524.1h.01M455.2 525.6h.01M455.0 532.4h.01M454.9 537.1h.01M455.0 539.3h.01M454.7 524.6h.01M456.1 537.4h.01M455.5 534.3h.01M455.9 523.5h.01M456.9 533.0h.01M457.0 523.3h.01M456.7 524.1h.01M456.8 532.2h.01M456.6 520.6h.01M456.2 524.7h.01M456.3 528.2h.01M457.7 540.0h.01M457.3 534.9h.01M458.1 540.5h.01M458.8 539.2h.01M458.9 534.5h.01M459.4 530.1h.01M459.0 537.2h.01M459.2 532.4h.01M459.7 522.0h.01M460.0 531.9h.01M461.0 527.1h.01M460.4 539.4h.01M460.3 523.7h.01M460.6 530.4h.01M461.6 534.5h.01M461.5 522.4h.01M461.2 533.9h.01M461.0 522.6h.01M462.0 540.9h.01M462.5 532.7h.01M463.4 530.6h.01M463.5 533.0h.01M463.2 527.7h.01M463.4 526.3h.01M463.7 523.0h.01M464.8 534.8h.01M464.7 532.6h.01M464.2 537.6h.01M464.8 530.9h.01M465.6 533.4h.01M465.1 530.3h.01M466.2 526.7h.01M466.2 538.2h.01M466.3 536.2h.01M466.3 528.2h.01M466.4 524.5h.01M466.0 522.7h.01M467.2 525.9h.01M467.3 525.0h.01M467.8 529.8h.01M468.7 539.3h.01M468.8 536.7h.01M469.8 536.6h.01M469.2 523.8h.01M469.1 535.5h.01M470.5 536.0h.01M471.6 537.0h.01M472.0 539.9h.01M472.5 540.9h.01M472.8 531.2h.01M473.5 533.8h.01M473.6 538.2h.01M473.3 537.4h.01M473.1 528.8h.01M474.7 533.8h.01M474.6 526.7h.01M474.5 525.3h.01M475.4 534.8h.01M475.2 530.8h.01M475.4 534.9h.01M475.3 540.0h.01M475.0 534.3h.01M475.3 531.9h.01M475.5 527.6h.01M476.5 529.7h.01M476.1 534.7h.01M477.4 540.1h.01M476.8 533.4h.01M477.1 538.4h.01M477.6 538.6h.01M478.6 532.6h.01M478.6 537.0h.01M478.9 531.6h.01M479.6 535.6h.01M479.3 537.2h.01M480.5 530.7h.01M479.8 526.9h.01M480.4 534.5h.01M480.5 533.4h.01M481.5 538.0h.01M480.9 532.8h.01M481.7 530.8h.01M480.7 529.9h.01M482.8 538.4h.01M484.3 531.8h.01M484.2 532.6h.01M483.9 528.6h.01M483.8 531.7h.01M484.5 521.9h.01M484.9 533.5h.01M485.1 535.6h.01M485.1 537.7h.01M486.5 521.7h.01M486.3 533.7h.01M485.9 522.5h.01M486.0 539.7h.01M486.4 521.0h.01M487.4 528.1h.01M486.8 524.7h.01M487.3 531.5h.01M488.0 526.4h.01M488.2 531.6h.01M488.0 528.4h.01M488.4 533.9h.01M489.1 534.5h.01M489.0 524.5h.01M489.5 523.0h.01M488.6 521.5h.01M488.9 520.5h.01M489.0 533.4h.01M452.5 514.4h.01M452.5 530.8h.01M452.6 527.3h.01M452.6 514.6h.01M452.6 523.4h.01M452.7 514.8h.01M452.7 515.8h.01M452.7 483.9h.01M452.8 531.3h.01M452.8 528.6h.01M452.9 537.6h.01M452.9 537.4h.01M452.9 517.1h.01M453.0 526.2h.01M453.1 539.2h.01M453.1 527.3h.01M453.2 523.7h.01M453.2 520.4h.01M453.2 531.3h.01M453.3 521.1h.01M453.4 494.4h.01M453.4 536.8h.01M453.4 535.3h.01M453.5 500.7h.01M453.5 503.5h.01M453.6 498.0h.01M453.6 520.9h.01M453.6 537.4h.01M453.7 507.6h.01M453.7 523.9h.01M453.8 520.7h.01M453.8 528.1h.01M453.8 524.1h.01M453.8 538.2h.01M453.9 535.9h.01M453.9 512.3h.01M453.9 532.1h.01M453.9 521.2h.01M454.0 537.2h.01M454.0 536.3h.01M454.1 502.4h.01M454.2 497.8h.01M454.2 527.3h.01M454.2 523.2h.01M454.5 524.9h.01M454.9 532.3h.01M455.0 534.5h.01M455.0 490.6h.01M455.2 527.8h.01M455.2 531.9h.01M455.2 516.7h.01M455.3 525.8h.01M455.3 516.1h.01M455.4 529.0h.01M455.5 520.4h.01M455.5 536.6h.01M455.6 529.0h.01M455.6 526.3h.01M455.6 539.1h.01M455.6 521.6h.01M455.6 520.2h.01M455.7 534.1h.01M455.7 509.8h.01M455.8 537.2h.01M455.8 499.8h.01M455.9 530.1h.01M455.9 538.5h.01M455.9 517.8h.01M456.0 538.8h.01M456.0 506.0h.01M456.1 533.3h.01M456.1 525.3h.01M456.1 504.4h.01M456.2 508.3h.01M456.2 488.6h.01M456.2 501.2h.01M456.2 522.0h.01M456.2 514.1h.01M456.3 464.2h.01M456.3 487.3h.01M456.3 521.5h.01M456.3 525.1h.01M456.3 529.6h.01M456.4 530.7h.01M456.5 511.3h.01M456.5 510.5h.01M456.7 516.7h.01M456.8 526.3h.01M456.8 521.0h.01M456.8 499.3h.01M456.9 512.6h.01M456.9 530.5h.01M456.9 533.4h.01M456.9 525.1h.01M456.9 532.7h.01M457.0 532.5h.01M457.0 522.3h.01M457.3 538.4h.01M457.3 535.8h.01M457.3 513.5h.01M457.5 516.1h.01M457.6 503.3h.01M457.7 532.2h.01M457.8 506.1h.01M457.9 500.8h.01M457.9 533.4h.01M458.0 534.4h.01M458.0 508.6h.01M458.1 530.2h.01M458.1 492.4h.01M458.4 532.3h.01M458.5 534.7h.01M458.8 530.5h.01M458.9 519.5h.01M458.9 531.9h.01M459.0 524.9h.01M459.0 533.4h.01M459.0 525.3h.01M459.0 530.7h.01M459.1 538.7h.01M459.1 499.8h.01M459.1 538.0h.01M459.1 524.6h.01M459.2 513.8h.01M459.2 524.1h.01M459.4 528.8h.01M459.5 540.9h.01M459.5 521.7h.01M459.5 499.8h.01M459.5 525.6h.01M459.5 517.4h.01M459.5 527.3h.01M459.5 527.1h.01M459.6 508.4h.01M459.6 534.9h.01M459.6 502.6h.01M459.6 521.4h.01M459.9 505.6h.01M459.9 500.3h.01M460.0 539.7h.01M460.0 499.0h.01M460.1 530.2h.01M460.2 525.2h.01M460.3 524.0h.01M460.3 500.7h.01M460.4 516.8h.01M460.4 513.8h.01M460.4 511.1h.01M460.5 516.5h.01M460.5 526.8h.01M460.6 529.7h.01M460.6 536.2h.01M460.6 539.6h.01M460.7 530.6h.01M460.7 534.5h.01M460.8 519.5h.01M460.9 529.8h.01M460.9 526.5h.01M461.0 523.7h.01M461.0 533.9h.01M461.1 532.5h.01M461.1 537.3h.01M461.1 540.1h.01M461.1 537.4h.01M461.2 514.8h.01M461.3 537.9h.01M461.3 531.9h.01M461.5 525.5h.01M461.5 489.3h.01M461.8 532.1h.01M461.8 532.7h.01M461.8 533.9h.01M461.9 505.9h.01M462.1 537.9h.01M462.2 522.0h.01M462.2 517.9h.01M462.4 529.8h.01M462.4 537.7h.01M462.5 529.4h.01M462.8 522.8h.01M463.0 538.4h.01M463.2 528.2h.01M463.2 515.1h.01M463.5 538.2h.01M463.5 528.3h.01M463.5 503.0h.01M463.6 532.0h.01M463.6 526.1h.01M463.6 536.1h.01M463.8 519.9h.01M463.8 537.2h.01M463.8 524.5h.01M464.0 535.2h.01M464.0 535.3h.01M464.0 526.7h.01M464.0 500.5h.01M464.0 533.1h.01M464.1 508.4h.01M464.1 534.9h.01M464.1 515.2h.01M464.2 509.2h.01M464.2 539.8h.01M464.2 532.9h.01M464.2 489.9h.01M464.3 529.4h.01M464.4 522.6h.01M464.5 530.7h.01M464.5 517.1h.01M464.5 532.7h.01M464.6 500.5h.01M464.7 527.0h.01M464.9 508.2h.01M464.9 531.4h.01M465.0 505.6h.01M465.2 519.4h.01M465.5 517.3h.01M465.7 532.9h.01M465.8 534.3h.01M465.9 525.8h.01M466.0 538.3h.01M466.0 522.2h.01M466.0 528.8h.01M466.1 534.0h.01M466.2 523.3h.01M466.2 530.7h.01M466.3 532.1h.01M466.3 527.3h.01M466.4 537.4h.01M466.5 532.7h.01M466.5 531.2h.01M466.7 496.5h.01M466.8 523.7h.01M466.8 518.1h.01M466.8 484.7h.01M467.0 449.5h.01M467.2 537.2h.01M467.3 509.6h.01M467.4 521.9h.01M467.4 536.8h.01M467.6 515.6h.01M467.7 524.4h.01M467.8 527.8h.01M468.1 534.3h.01M468.2 513.3h.01M468.2 535.4h.01M468.2 526.5h.01M468.3 533.5h.01M468.3 507.8h.01M468.4 530.9h.01M468.4 498.2h.01M468.4 475.9h.01M468.4 529.5h.01M468.4 535.8h.01M468.5 528.2h.01M468.6 503.8h.01M468.6 529.6h.01M468.6 517.6h.01M468.7 469.1h.01M468.7 526.8h.01M468.7 515.7h.01M468.8 521.0h.01M468.8 522.9h.01M468.8 519.0h.01M468.9 530.3h.01M468.9 534.4h.01M469.0 493.9h.01M469.0 527.6h.01M469.0 521.0h.01M469.0 482.8h.01M469.1 530.3h.01M469.1 511.7h.01M469.1 540.1h.01M469.2 507.7h.01M469.2 528.3h.01M469.2 526.3h.01M469.2 537.2h.01M469.2 499.5h.01M469.2 530.6h.01M469.3 528.1h.01M469.3 526.2h.01M469.3 530.4h.01M469.3 517.2h.01M469.3 536.6h.01M469.4 522.3h.01M469.5 518.4h.01M469.5 536.3h.01M469.6 526.3h.01M469.6 536.2h.01M469.6 537.8h.01M469.6 488.6h.01M469.7 531.0h.01M469.7 534.0h.01M469.8 526.8h.01M469.8 527.9h.01M469.8 525.0h.01M469.8 520.7h.01M469.8 503.0h.01M470.0 534.8h.01M470.0 533.5h.01M470.2 515.8h.01M470.4 493.5h.01M470.5 445.9h.01M470.5 497.8h.01M470.5 535.9h.01M470.7 531.0h.01M470.8 529.0h.01M470.9 518.9h.01M470.9 521.8h.01M471.2 527.2h.01M471.4 537.8h.01M471.7 523.4h.01M471.8 536.4h.01M471.9 516.5h.01M471.9 523.2h.01M472.0 533.9h.01M472.1 523.5h.01M472.2 520.9h.01M472.2 534.3h.01M472.3 539.5h.01M472.4 508.9h.01M472.4 539.5h.01M472.4 538.2h.01M472.4 529.6h.01M472.5 515.8h.01M472.6 511.8h.01M472.6 539.0h.01M472.6 532.0h.01M472.6 537.0h.01M472.6 538.1h.01M472.6 524.0h.01M472.7 497.6h.01M472.7 515.2h.01M472.8 533.1h.01M472.8 540.5h.01M472.9 523.6h.01M472.9 512.6h.01M472.9 500.2h.01M472.9 527.3h.01M473.0 522.4h.01M473.0 520.6h.01M473.0 525.1h.01M473.0 507.4h.01M473.0 539.1h.01M473.1 513.9h.01M473.1 537.9h.01M473.1 492.4h.01M473.1 487.3h.01M473.1 501.6h.01M473.1 506.3h.01M473.2 520.0h.01M473.3 539.4h.01M473.3 522.9h.01M473.4 536.4h.01M473.4 527.9h.01M473.4 538.4h.01M473.4 481.2h.01M473.5 524.9h.01M473.5 502.1h.01M473.5 507.0h.01M473.5 537.7h.01M473.5 525.2h.01M473.6 530.2h.01M473.6 537.1h.01M473.6 490.6h.01M473.6 530.2h.01M473.6 535.7h.01M473.7 524.0h.01M473.7 530.4h.01M473.8 539.2h.01M473.8 533.9h.01M473.9 506.2h.01M474.0 531.1h.01M474.0 533.6h.01M474.0 526.7h.01M474.0 488.8h.01M474.0 527.7h.01M474.0 536.1h.01M474.1 488.3h.01M474.1 504.4h.01M474.2 519.8h.01M474.2 533.3h.01M474.3 532.5h.01M474.3 524.2h.01M474.3 531.5h.01M474.3 531.3h.01M474.4 519.7h.01M474.4 539.3h.01M474.4 524.9h.01M474.4 533.0h.01M474.4 521.9h.01M474.5 528.2h.01M474.5 501.6h.01M474.6 537.7h.01M474.6 524.9h.01M474.6 501.9h.01M474.7 531.7h.01M474.7 537.2h.01M474.7 517.1h.01M474.7 528.6h.01M474.8 507.4h.01M474.8 519.7h.01M474.9 519.9h.01M474.9 524.5h.01M475.0 511.2h.01M475.0 520.2h.01M475.0 535.1h.01M475.1 527.2h.01M475.1 507.2h.01M475.2 536.2h.01M475.3 526.0h.01M475.3 447.1h.01M475.3 505.0h.01M475.5 507.9h.01M475.5 504.3h.01M475.5 485.7h.01M475.6 486.8h.01M475.6 496.4h.01M475.7 493.1h.01M475.7 499.1h.01M475.7 509.0h.01M475.7 504.8h.01M475.7 498.0h.01M475.9 507.0h.01M475.9 538.3h.01M475.9 522.3h.01M476.3 521.4h.01M476.3 536.5h.01M476.4 530.4h.01M476.5 515.2h.01M476.5 538.7h.01M476.6 511.7h.01M476.9 504.6h.01M477.0 528.7h.01M477.0 522.0h.01M477.2 533.5h.01M477.3 519.1h.01M477.5 531.9h.01M477.5 501.7h.01M477.5 536.0h.01M477.7 527.7h.01M477.7 532.9h.01M477.7 540.1h.01M477.7 510.0h.01M477.8 535.4h.01M477.9 532.3h.01M477.9 539.1h.01M478.0 509.7h.01M478.0 534.0h.01M478.0 494.3h.01M478.0 518.7h.01M478.0 538.5h.01M478.1 527.7h.01M478.1 514.1h.01M478.1 528.5h.01M478.2 518.7h.01M478.3 522.5h.01M478.3 534.5h.01M478.4 503.8h.01M478.6 529.9h.01M478.7 523.0h.01M478.7 520.1h.01M478.7 530.2h.01M479.0 539.9h.01M479.0 538.1h.01M479.1 515.8h.01M479.3 534.1h.01M479.5 521.4h.01M479.6 533.9h.01M479.6 531.1h.01M479.6 502.7h.01M479.7 496.8h.01M479.8 519.5h.01M479.8 535.0h.01M480.0 539.6h.01M480.1 525.7h.01M480.1 508.1h.01M480.2 537.5h.01M480.2 520.1h.01M480.3 482.6h.01M480.5 515.6h.01M480.5 509.1h.01M480.6 487.2h.01M480.6 526.9h.01M480.6 537.6h.01M480.7 517.7h.01M480.7 527.4h.01M480.8 524.8h.01M480.8 537.6h.01M480.8 514.8h.01M481.0 526.2h.01M481.1 531.9h.01M481.4 533.4h.01M481.4 515.4h.01M481.6 505.8h.01M481.6 524.8h.01M481.6 513.3h.01M481.6 529.7h.01M481.7 525.2h.01M481.9 522.1h.01M482.0 528.1h.01M482.0 536.6h.01M482.0 529.7h.01M482.0 532.2h.01M482.0 534.3h.01M482.2 526.2h.01M482.2 522.6h.01M482.8 460.3h.01M483.0 491.0h.01M483.2 503.4h.01M483.3 487.0h.01M483.4 496.9h.01M483.4 532.7h.01M483.5 526.7h.01M483.5 539.2h.01M483.5 516.5h.01M483.5 516.1h.01M483.6 533.5h.01M483.6 526.0h.01M483.7 518.5h.01M483.8 531.9h.01M483.8 511.1h.01M483.8 531.5h.01M483.9 532.4h.01M483.9 532.0h.01M484.0 528.5h.01M484.0 514.2h.01M484.1 537.7h.01M484.2 538.7h.01M484.2 532.0h.01M484.2 536.7h.01M484.2 503.9h.01M484.3 538.0h.01M484.3 529.6h.01M484.5 521.0h.01M484.5 532.7h.01M484.6 531.6h.01M484.6 515.8h.01M484.7 539.3h.01M484.9 526.0h.01M485.0 509.3h.01M485.4 528.0h.01M485.4 536.5h.01M485.4 499.6h.01M485.5 538.5h.01M485.5 531.1h.01M485.5 503.7h.01M485.5 523.0h.01M485.6 522.8h.01M485.6 526.9h.01M485.7 529.7h.01M485.7 533.2h.01M485.7 520.5h.01M485.8 534.0h.01M485.8 536.8h.01M485.8 534.1h.01M485.8 488.4h.01M485.8 531.4h.01M485.9 489.1h.01M485.9 524.3h.01M485.9 526.3h.01M485.9 532.8h.01M485.9 533.7h.01M486.0 462.8h.01M486.1 536.5h.01M486.2 514.2h.01M486.2 531.7h.01M486.3 520.2h.01M486.3 539.9h.01M486.3 526.9h.01M486.3 521.0h.01M486.3 526.2h.01M486.3 526.5h.01M486.3 526.8h.01M486.5 478.5h.01M486.5 479.0h.01M486.6 491.4h.01M486.6 516.0h.01M486.7 524.7h.01M486.7 505.0h.01M486.7 536.5h.01M486.8 515.5h.01M486.8 540.1h.01M486.8 529.5h.01M486.9 537.8h.01M487.0 531.5h.01M487.0 519.6h.01M487.0 537.9h.01M487.0 513.2h.01M487.1 536.3h.01M487.1 500.0h.01M487.2 539.2h.01M487.3 537.2h.01M487.3 511.8h.01M487.3 533.6h.01M487.3 530.8h.01M487.4 536.2h.01M487.5 512.8h.01M487.5 465.7h.01M487.6 495.2h.01M487.6 503.9h.01M487.8 501.2h.01M487.8 538.2h.01M487.8 526.5h.01M487.8 530.7h.01M487.8 523.5h.01M487.9 520.7h.01M487.9 531.3h.01M487.9 478.8h.01M488.0 512.7h.01M488.0 536.5h.01M488.0 523.0h.01M488.1 460.6h.01M488.1 506.3h.01M488.1 492.0h.01M488.1 512.5h.01M488.1 525.4h.01M488.1 529.1h.01M488.2 520.7h.01M488.2 516.5h.01M488.2 534.8h.01M488.3 519.9h.01M488.3 536.8h.01M488.3 505.8h.01M488.3 528.8h.01M488.4 533.7h.01M488.4 538.7h.01M488.4 532.7h.01M488.4 513.4h.01M488.5 523.6h.01M488.5 536.8h.01M488.5 521.3h.01M488.5 487.4h.01M488.6 497.7h.01M488.6 528.3h.01M488.7 523.0h.01M488.7 489.2h.01M488.7 512.6h.01M488.7 526.8h.01M488.7 522.0h.01M488.8 473.9h.01M488.8 529.0h.01M488.8 505.1h.01M488.8 539.9h.01M488.9 512.6h.01M488.9 530.6h.01M488.9 537.1h.01M488.9 497.2h.01M488.9 496.8h.01M489.0 441.8h.01M489.0 475.8h.01M489.0 511.2h.01M489.0 503.5h.01M489.0 489.1h.01M489.2 489.3h.01M489.2 514.0h.01M489.2 455.4h.01M489.2 463.7h.01M489.2 453.6h.01M489.4 527.7h.01M489.5 508.7h.01M489.5 530.1h.01M489.5 533.1h.01M489.6 536.4h.01M489.6 508.1h.01M533.6 528.7h.01M533.6 524.3h.01M532.7 526.7h.01M533.3 539.9h.01M532.9 539.6h.01M533.2 535.6h.01M535.5 531.6h.01M534.8 539.4h.01M537.5 529.4h.01M537.3 525.4h.01M537.2 531.4h.01M536.9 530.0h.01M538.3 533.4h.01M538.5 532.1h.01M538.7 527.6h.01M539.5 525.5h.01M540.4 538.5h.01M539.7 522.6h.01M540.5 538.3h.01M539.7 538.0h.01M540.6 522.1h.01M541.5 535.2h.01M540.8 529.4h.01M541.2 531.6h.01M541.0 539.0h.01M541.5 539.4h.01M541.6 531.3h.01M540.6 527.4h.01M542.1 537.1h.01M542.2 537.2h.01M543.3 537.7h.01M543.3 540.9h.01M543.1 536.7h.01M543.4 526.4h.01M543.0 531.1h.01M544.3 540.6h.01M544.2 526.0h.01M545.0 532.7h.01M545.5 522.7h.01M546.4 520.7h.01M546.5 525.5h.01M545.5 538.6h.01M547.1 530.9h.01M546.6 537.7h.01M546.6 537.7h.01M548.0 520.9h.01M547.8 534.1h.01M548.3 526.6h.01M548.1 534.5h.01M548.0 526.0h.01M548.8 527.1h.01M549.1 535.2h.01M549.0 527.1h.01M549.6 537.4h.01M550.2 534.1h.01M549.6 536.8h.01M549.6 537.0h.01M550.0 528.8h.01M550.2 525.1h.01M549.8 522.6h.01M551.1 522.0h.01M550.8 526.6h.01M550.8 528.6h.01M550.6 523.7h.01M551.7 535.7h.01M551.5 529.6h.01M551.9 526.7h.01M552.5 533.0h.01M553.3 525.3h.01M552.6 530.0h.01M553.1 540.1h.01M553.3 535.2h.01M553.9 522.4h.01M554.4 522.6h.01M554.2 522.9h.01M554.9 522.1h.01M554.7 520.4h.01M554.7 522.2h.01M554.6 531.3h.01M555.2 525.1h.01M554.5 537.0h.01M555.0 534.0h.01M554.7 532.9h.01M555.8 539.9h.01M556.3 523.2h.01M556.9 540.7h.01M556.7 538.9h.01M557.3 523.3h.01M558.2 522.2h.01M558.1 536.2h.01M558.6 538.3h.01M558.8 536.8h.01M558.7 529.3h.01M558.5 537.7h.01M559.4 526.9h.01M558.5 524.4h.01M559.4 529.9h.01M560.2 536.0h.01M560.3 538.2h.01M560.0 536.7h.01M560.2 531.7h.01M560.1 537.2h.01M559.7 527.0h.01M561.3 524.1h.01M560.9 522.4h.01M561.7 522.3h.01M561.8 538.8h.01M563.2 531.7h.01M563.3 528.3h.01M563.0 540.1h.01M562.8 537.3h.01M562.7 522.6h.01M563.8 536.8h.01M563.8 525.9h.01M564.2 522.6h.01M564.0 539.3h.01M563.6 537.5h.01M565.0 531.2h.01M565.1 529.8h.01M564.6 539.3h.01M564.9 534.5h.01M532.8 509.9h.01M532.9 536.9h.01M533.0 517.7h.01M533.0 532.0h.01M533.0 508.1h.01M533.1 455.3h.01M533.1 454.8h.01M533.4 465.8h.01M533.5 463.1h.01M533.8 458.7h.01M533.9 465.5h.01M533.9 450.2h.01M533.9 455.2h.01M534.0 464.7h.01M534.3 460.5h.01M534.3 461.9h.01M534.4 445.0h.01M534.5 461.8h.01M534.6 540.6h.01M534.7 533.6h.01M534.8 529.1h.01M534.8 531.4h.01M534.8 535.2h.01M534.9 518.9h.01M534.9 487.0h.01M534.9 523.3h.01M534.9 513.5h.01M535.0 528.2h.01M535.0 532.3h.01M535.0 538.9h.01M535.0 525.2h.01M535.1 535.6h.01M535.1 519.2h.01M535.1 537.2h.01M535.2 512.2h.01M535.2 521.1h.01M535.2 525.6h.01M535.3 493.3h.01M535.4 472.3h.01M535.5 498.7h.01M535.5 462.4h.01M535.5 466.6h.01M535.5 480.0h.01M535.5 510.6h.01M535.5 530.3h.01M535.6 511.7h.01M535.6 519.9h.01M535.6 539.6h.01M535.8 540.1h.01M535.8 523.2h.01M535.8 526.9h.01M535.9 532.2h.01M535.9 531.0h.01M536.0 512.4h.01M536.0 535.8h.01M536.1 529.5h.01M536.1 529.9h.01M536.2 516.9h.01M536.7 536.7h.01M536.7 500.8h.01M536.7 534.8h.01M536.8 523.4h.01M536.8 513.6h.01M537.0 482.8h.01M537.0 512.7h.01M537.0 468.4h.01M537.1 502.3h.01M537.1 461.3h.01M537.1 514.6h.01M537.1 498.5h.01M537.2 512.3h.01M537.2 519.2h.01M537.3 499.0h.01M537.3 531.2h.01M537.3 508.7h.01M537.4 536.3h.01M537.4 533.3h.01M537.4 529.0h.01M537.4 537.0h.01M537.4 526.2h.01M537.4 525.5h.01M537.5 536.6h.01M537.5 533.5h.01M537.5 510.8h.01M537.6 525.1h.01M537.6 487.5h.01M537.7 526.2h.01M537.7 518.5h.01M537.7 512.2h.01M537.7 496.2h.01M537.8 537.2h.01M537.8 523.8h.01M537.9 517.3h.01M538.2 507.3h.01M538.2 517.2h.01M538.3 523.6h.01M538.3 528.7h.01M538.3 529.0h.01M538.3 524.3h.01M538.3 536.8h.01M538.3 534.7h.01M538.3 534.8h.01M538.4 527.6h.01M538.5 534.6h.01M538.5 509.6h.01M538.6 509.2h.01M538.6 519.3h.01M538.7 501.8h.01M538.7 496.2h.01M538.8 534.5h.01M538.9 520.4h.01M538.9 533.9h.01M539.0 524.7h.01M539.3 524.9h.01M539.4 485.6h.01M539.5 524.9h.01M539.6 523.5h.01M539.6 536.7h.01M539.7 535.4h.01M539.7 534.2h.01M539.7 526.4h.01M539.7 512.1h.01M539.7 536.0h.01M539.7 532.1h.01M539.7 516.8h.01M539.8 532.1h.01M539.8 518.1h.01M539.9 515.5h.01M539.9 528.3h.01M540.1 506.0h.01M540.2 507.6h.01M540.2 539.1h.01M540.2 539.4h.01M540.2 532.9h.01M540.3 525.0h.01M540.3 532.5h.01M540.3 532.8h.01M540.4 528.6h.01M540.4 533.7h.01M540.4 525.2h.01M540.5 505.5h.01M540.5 516.7h.01M540.5 528.9h.01M540.5 525.9h.01M540.5 532.2h.01M540.5 488.8h.01M540.5 536.8h.01M540.5 498.2h.01M540.5 519.1h.01M540.6 521.8h.01M540.6 536.4h.01M540.6 522.0h.01M540.7 515.1h.01M540.8 464.0h.01M541.0 536.0h.01M541.1 535.9h.01M541.1 532.3h.01M541.2 531.8h.01M541.2 522.5h.01M541.3 531.1h.01M541.3 535.1h.01M541.3 537.3h.01M541.4 497.8h.01M541.4 538.3h.01M541.4 505.5h.01M541.6 527.0h.01M541.6 501.7h.01M541.6 527.2h.01M541.6 527.8h.01M541.7 513.4h.01M541.7 528.9h.01M541.7 479.6h.01M541.7 524.9h.01M541.8 526.4h.01M541.8 522.3h.01M541.8 509.9h.01M541.8 522.6h.01M541.9 512.7h.01M541.9 508.0h.01M541.9 511.5h.01M541.9 511.5h.01M541.9 502.7h.01M541.9 511.0h.01M541.9 520.8h.01M541.9 524.6h.01M542.0 539.5h.01M542.0 525.5h.01M542.0 519.5h.01M542.0 527.0h.01M542.1 504.8h.01M542.1 520.8h.01M542.1 521.1h.01M542.1 528.5h.01M542.2 514.3h.01M542.2 538.5h.01M542.2 507.1h.01M542.3 533.1h.01M542.4 507.4h.01M542.4 539.8h.01M542.4 529.8h.01M542.5 539.4h.01M542.5 492.0h.01M542.5 535.5h.01M542.5 521.2h.01M542.6 497.4h.01M542.6 538.8h.01M542.6 539.6h.01M542.7 531.9h.01M542.7 498.0h.01M542.7 515.1h.01M542.8 492.5h.01M542.9 472.4h.01M543.0 524.3h.01M543.1 522.4h.01M543.1 518.0h.01M543.2 525.1h.01M543.2 534.7h.01M543.4 535.5h.01M543.4 519.9h.01M543.5 534.4h.01M543.6 529.3h.01M543.7 525.9h.01M543.7 535.4h.01M543.7 518.6h.01M543.7 521.9h.01M543.7 525.3h.01M543.8 537.8h.01M543.8 526.0h.01M543.8 529.0h.01M543.8 532.4h.01M543.9 515.1h.01M543.9 532.2h.01M544.0 502.9h.01M544.0 530.8h.01M544.0 534.4h.01M544.0 506.2h.01M544.1 491.7h.01M544.1 470.4h.01M544.1 506.0h.01M544.3 531.1h.01M544.3 518.4h.01M544.3 492.0h.01M544.4 515.8h.01M544.4 537.1h.01M544.4 531.2h.01M544.4 524.3h.01M544.4 533.6h.01M544.4 496.6h.01M544.4 501.4h.01M544.5 538.7h.01M544.5 528.7h.01M544.5 524.5h.01M544.5 539.1h.01M544.5 522.5h.01M544.5 503.0h.01M544.6 538.5h.01M544.6 520.5h.01M544.6 517.1h.01M544.6 521.6h.01M544.7 485.9h.01M544.7 486.3h.01M544.8 481.2h.01M544.9 465.9h.01M545.0 482.0h.01M545.0 488.2h.01M545.0 493.4h.01M545.1 502.8h.01M545.1 535.2h.01M545.1 506.4h.01M545.2 491.7h.01M545.2 508.2h.01M545.3 492.5h.01M545.3 502.3h.01M545.3 518.4h.01M545.4 532.5h.01M545.4 529.6h.01M545.6 483.6h.01M545.7 530.8h.01M545.9 529.3h.01M546.0 514.5h.01M546.0 520.2h.01M546.1 510.9h.01M546.2 498.7h.01M546.2 535.0h.01M546.2 513.2h.01M546.2 512.4h.01M546.2 522.8h.01M546.2 522.9h.01M546.3 536.3h.01M546.5 519.3h.01M546.5 520.5h.01M546.6 528.8h.01M546.7 539.4h.01M546.7 534.7h.01M546.7 530.0h.01M546.8 539.5h.01M546.8 512.8h.01M546.8 513.9h.01M546.8 535.3h.01M546.8 525.3h.01M546.9 464.1h.01M546.9 485.0h.01M546.9 496.8h.01M546.9 466.2h.01M547.0 539.1h.01M547.0 507.2h.01M547.1 539.2h.01M547.1 526.9h.01M547.1 525.3h.01M547.2 515.6h.01M547.2 528.7h.01M547.2 535.9h.01M547.2 524.9h.01M547.3 530.3h.01M547.4 532.0h.01M547.5 538.6h.01M547.5 536.7h.01M547.7 464.3h.01M547.9 513.6h.01M547.9 509.5h.01M547.9 533.2h.01M547.9 530.6h.01M547.9 536.4h.01M548.0 532.5h.01M548.0 520.2h.01M548.1 520.4h.01M548.1 534.4h.01M548.1 519.8h.01M548.1 517.2h.01M548.2 533.3h.01M548.2 500.3h.01M548.2 522.0h.01M548.2 522.5h.01M548.4 539.0h.01M548.5 536.7h.01M548.5 526.3h.01M548.5 533.6h.01M548.6 496.3h.01M548.6 478.1h.01M548.6 509.0h.01M548.7 527.2h.01M548.7 522.4h.01M548.7 536.8h.01M548.7 524.6h.01M548.7 538.3h.01M548.7 521.9h.01M548.7 533.0h.01M548.7 523.9h.01M548.7 520.5h.01M548.8 525.9h.01M548.8 530.9h.01M548.8 534.5h.01M548.9 523.8h.01M548.9 539.8h.01M548.9 522.2h.01M548.9 535.6h.01M549.0 530.0h.01M549.0 493.3h.01M549.0 530.3h.01M549.1 537.4h.01M549.1 536.5h.01M549.1 528.5h.01M549.1 525.8h.01M549.1 534.8h.01M549.1 518.4h.01M549.2 505.3h.01M549.2 519.3h.01M549.2 536.7h.01M549.2 530.1h.01M549.2 538.7h.01M549.2 524.4h.01M549.3 522.3h.01M549.3 536.6h.01M549.3 535.4h.01M549.3 532.4h.01M549.4 533.1h.01M549.4 517.7h.01M549.4 516.9h.01M549.4 527.3h.01M549.4 514.1h.01M549.5 507.1h.01M549.5 505.7h.01M549.6 536.1h.01M549.7 527.3h.01M549.7 525.3h.01M549.8 501.5h.01M549.8 490.5h.01M549.9 509.0h.01M549.9 491.1h.01M549.9 477.6h.01M550.0 509.1h.01M550.0 533.8h.01M550.0 524.1h.01M550.2 523.0h.01M550.3 534.1h.01M550.3 536.0h.01M550.4 538.9h.01M550.5 535.0h.01M550.5 510.7h.01M550.5 512.0h.01M550.6 535.0h.01M550.6 500.2h.01M550.7 531.3h.01M550.7 530.9h.01M550.7 492.6h.01M550.8 503.6h.01M550.8 526.9h.01M551.0 520.7h.01M551.0 522.1h.01M551.0 497.3h.01M551.1 535.2h.01M551.2 531.5h.01M551.2 535.8h.01M551.2 534.4h.01M551.3 527.3h.01M551.3 531.4h.01M551.3 527.4h.01M551.3 538.5h.01M551.4 510.6h.01M551.5 516.0h.01M551.5 535.6h.01M551.6 537.3h.01M551.7 507.0h.01M551.7 536.4h.01M552.0 525.1h.01M552.0 508.8h.01M552.0 498.2h.01M552.1 501.9h.01M552.1 502.1h.01M552.1 523.5h.01M552.1 520.5h.01M552.1 529.3h.01M552.2 521.2h.01M552.3 537.9h.01M552.3 525.8h.01M552.4 539.7h.01M552.5 520.0h.01M552.5 538.6h.01M552.5 534.7h.01M552.5 504.4h.01M552.6 502.2h.01M552.6 531.6h.01M552.6 526.3h.01M552.7 528.3h.01M552.7 495.9h.01M552.7 515.7h.01M552.7 492.1h.01M552.8 511.9h.01M552.9 529.9h.01M553.0 536.6h.01M553.0 443.8h.01M553.1 526.6h.01M553.1 524.1h.01M553.1 526.9h.01M553.2 519.3h.01M553.2 523.2h.01M553.3 539.5h.01M553.3 523.1h.01M553.4 493.7h.01M553.4 512.5h.01M553.5 474.2h.01M553.5 534.2h.01M553.5 534.6h.01M553.6 475.4h.01M553.6 533.0h.01M553.6 491.8h.01M553.6 529.1h.01M553.7 536.7h.01M553.7 519.4h.01M553.7 525.2h.01M553.8 536.7h.01M553.8 536.5h.01M553.8 531.6h.01M553.8 530.2h.01M553.8 512.1h.01M553.8 531.7h.01M553.9 535.0h.01M553.9 530.7h.01M554.0 519.1h.01M554.0 540.7h.01M554.0 527.4h.01M554.1 531.1h.01M554.2 528.8h.01M554.2 521.4h.01M554.3 530.6h.01M554.4 512.6h.01M554.4 487.7h.01M554.5 478.1h.01M554.5 526.1h.01M554.6 529.0h.01M554.7 528.7h.01M554.7 505.7h.01M554.7 522.8h.01M554.7 531.1h.01M554.7 530.7h.01M554.7 530.3h.01M554.8 525.4h.01M554.8 531.3h.01M554.8 526.5h.01M554.8 520.1h.01M554.9 520.4h.01M554.9 535.4h.01M555.0 468.2h.01M555.1 475.3h.01M555.1 464.0h.01M555.1 458.8h.01M555.1 495.3h.01M555.2 473.1h.01M555.2 494.9h.01M555.2 495.5h.01M555.3 471.9h.01M555.3 456.2h.01M555.3 465.5h.01M555.3 469.4h.01M555.3 536.4h.01M555.3 519.4h.01M555.4 528.8h.01M555.4 527.0h.01M555.4 532.3h.01M555.4 530.3h.01M555.5 513.5h.01M555.5 507.3h.01M555.6 512.9h.01M555.7 524.6h.01M555.7 527.7h.01M555.7 534.2h.01M555.7 480.3h.01M555.8 517.2h.01M555.8 527.1h.01M555.8 518.1h.01M555.8 532.0h.01M555.9 530.5h.01M555.9 505.3h.01M556.0 522.7h.01M556.0 518.2h.01M556.0 523.6h.01M556.0 512.9h.01M556.1 522.1h.01M556.1 539.2h.01M556.1 514.6h.01M556.3 533.5h.01M556.3 528.3h.01M556.4 500.9h.01M556.4 533.1h.01M556.5 540.4h.01M556.6 518.3h.01M556.7 516.3h.01M556.8 533.5h.01M556.9 514.7h.01M556.9 518.6h.01M556.9 538.0h.01M556.9 529.3h.01M557.1 494.6h.01M557.2 537.0h.01M557.2 519.8h.01M557.2 537.9h.01M557.4 532.4h.01M557.4 521.1h.01M557.5 525.9h.01M557.5 527.0h.01M557.6 526.3h.01M557.6 530.1h.01M557.8 528.6h.01M557.8 537.0h.01M557.8 518.8h.01M557.8 488.3h.01M558.1 535.9h.01M558.2 529.9h.01M558.2 532.9h.01M558.2 522.2h.01M558.2 526.2h.01M558.2 518.3h.01M558.2 458.0h.01M558.3 518.0h.01M558.3 535.8h.01M558.3 507.7h.01M558.3 498.7h.01M558.3 534.2h.01M558.3 538.7h.01M558.3 512.3h.01M558.3 525.3h.01M558.3 525.1h.01M558.4 517.5h.01M558.4 509.3h.01M558.4 510.5h.01M558.4 539.0h.01M558.5 523.7h.01M558.5 532.9h.01M558.6 517.2h.01M558.6 535.3h.01M558.6 531.9h.01M558.7 493.0h.01M558.7 534.9h.01M558.8 516.5h.01M558.8 534.3h.01M558.9 536.2h.01M558.9 525.6h.01M559.0 530.4h.01M559.0 535.0h.01M559.1 527.3h.01M559.1 509.3h.01M559.3 534.6h.01M559.4 532.7h.01M559.4 490.4h.01M559.4 514.9h.01M559.5 517.7h.01M559.5 528.4h.01M559.6 531.4h.01M559.6 523.1h.01M559.8 522.4h.01M559.8 511.8h.01M559.8 540.0h.01M559.9 524.8h.01M560.2 528.2h.01M560.5 537.3h.01M560.5 526.3h.01M560.6 538.2h.01M560.6 508.5h.01M560.6 522.6h.01M560.7 532.6h.01M560.7 529.3h.01M560.8 535.4h.01M560.8 536.0h.01M560.8 504.2h.01M560.8 507.9h.01M561.0 505.1h.01M561.0 506.0h.01M561.0 495.5h.01M561.0 509.0h.01M561.0 513.4h.01M561.1 513.6h.01M561.1 485.9h.01M561.2 471.2h.01M561.3 473.5h.01M561.3 477.7h.01M561.3 510.9h.01M561.4 521.1h.01M561.4 513.9h.01M561.5 510.1h.01M561.5 525.0h.01M561.5 501.8h.01M561.5 469.0h.01M561.5 498.8h.01M561.6 467.6h.01M561.6 486.8h.01M561.7 498.3h.01M561.8 525.4h.01M561.8 524.8h.01M561.8 505.5h.01M561.8 529.3h.01M561.8 534.0h.01M561.9 524.9h.01M561.9 525.5h.01M561.9 527.6h.01M561.9 530.4h.01M562.1 537.8h.01M562.1 525.7h.01M562.1 539.4h.01M562.1 505.0h.01M562.2 493.1h.01M562.3 452.2h.01M562.5 527.5h.01M562.5 516.4h.01M562.7 530.9h.01M562.9 511.4h.01M563.0 533.0h.01M563.0 508.5h.01M563.1 510.6h.01M563.1 530.5h.01M563.1 524.5h.01M563.1 513.7h.01M563.1 536.4h.01M563.2 536.2h.01M563.2 529.9h.01M563.2 503.2h.01M563.3 538.1h.01M563.3 536.7h.01M563.4 537.7h.01M563.5 523.9h.01M563.5 538.9h.01M563.6 507.7h.01M563.6 524.8h.01M563.6 537.4h.01M563.6 475.9h.01M563.7 492.9h.01M563.9 444.6h.01M563.9 523.6h.01M564.0 514.9h.01M564.0 532.3h.01M564.1 531.6h.01M564.1 510.9h.01M564.1 533.3h.01M564.2 537.5h.01M564.2 537.8h.01M564.3 504.1h.01M564.3 519.0h.01M564.4 534.0h.01M564.5 511.0h.01M564.5 519.7h.01M564.5 511.8h.01M564.8 519.8h.01M564.9 530.3h.01M565.1 537.7h.01M565.1 534.1h.01M565.2 523.6h.01M565.2 522.9h.01M565.3 536.0h.01M608.0 522.3h.01M608.5 521.8h.01M608.1 523.1h.01M607.6 539.8h.01M609.1 524.5h.01M609.1 529.4h.01M609.1 531.6h.01M608.9 529.2h.01M609.3 521.7h.01M610.4 536.7h.01M611.2 540.6h.01M611.1 534.6h.01M611.0 529.9h.01M611.3 540.9h.01M610.9 531.1h.01M611.9 525.8h.01M612.5 531.3h.01M613.1 521.7h.01M613.4 526.9h.01M613.0 538.0h.01M613.6 532.8h.01M613.8 527.7h.01M614.5 524.0h.01M614.2 529.3h.01M614.7 533.4h.01M614.7 537.7h.01M614.8 538.4h.01M614.7 538.1h.01M615.0 527.3h.01M615.9 520.8h.01M615.0 535.3h.01M615.0 529.0h.01M615.3 533.6h.01M615.2 537.1h.01M616.1 533.6h.01M616.7 520.8h.01M616.1 540.1h.01M616.3 521.8h.01M616.6 526.2h.01M616.2 534.5h.01M617.0 527.1h.01M617.6 535.6h.01M617.5 524.3h.01M617.5 524.1h.01M617.6 536.7h.01M617.3 539.6h.01M617.9 523.2h.01M618.5 526.1h.01M618.9 534.0h.01M618.6 537.9h.01M619.0 534.4h.01M619.5 538.4h.01M619.9 527.9h.01M620.8 529.3h.01M620.9 536.8h.01M620.3 540.4h.01M621.8 530.6h.01M621.6 522.4h.01M622.0 539.1h.01M622.7 539.7h.01M622.6 526.0h.01M622.8 535.9h.01M622.3 538.4h.01M624.2 535.2h.01M623.5 521.3h.01M625.2 536.7h.01M624.6 521.5h.01M624.8 527.4h.01M624.7 536.8h.01M626.0 534.1h.01M626.9 540.8h.01M627.4 523.4h.01M627.1 520.7h.01M627.7 538.9h.01M627.4 537.5h.01M627.3 538.0h.01M627.8 537.3h.01M629.0 530.2h.01M628.3 536.4h.01M628.0 533.2h.01M629.4 521.3h.01M630.0 540.2h.01M629.7 539.5h.01M629.3 527.1h.01M629.1 534.9h.01M629.7 527.9h.01M629.9 531.1h.01M631.0 531.4h.01M630.3 528.2h.01M631.4 522.7h.01M631.3 525.2h.01M631.9 525.3h.01M632.9 540.1h.01M632.7 523.2h.01M632.4 527.2h.01M632.5 533.8h.01M633.0 522.5h.01M632.4 530.6h.01M632.9 529.1h.01M634.0 530.7h.01M633.1 531.3h.01M633.6 539.7h.01M633.8 530.4h.01M634.2 527.6h.01M635.5 539.1h.01M635.3 540.0h.01M635.5 525.0h.01M637.0 529.4h.01M636.0 523.8h.01M637.7 540.1h.01M637.7 529.8h.01M637.1 521.9h.01M637.2 535.9h.01M637.8 528.7h.01M637.3 531.2h.01M638.3 530.8h.01M638.3 532.5h.01M638.2 522.7h.01M638.5 528.6h.01M639.0 523.7h.01M638.3 531.1h.01M639.1 539.2h.01M639.6 536.8h.01M640.1 536.2h.01M607.6 527.1h.01M607.6 524.6h.01M607.6 531.7h.01M607.7 529.2h.01M607.7 518.4h.01M607.8 538.9h.01M607.9 534.3h.01M608.0 528.7h.01M608.0 534.2h.01M608.0 539.1h.01M608.0 525.9h.01M608.1 535.6h.01M608.1 517.9h.01M608.2 536.8h.01M608.2 535.5h.01M608.2 515.7h.01M608.2 529.0h.01M608.2 531.3h.01M608.2 508.7h.01M608.2 533.0h.01M608.3 490.3h.01M608.3 535.3h.01M608.3 518.3h.01M608.3 526.4h.01M608.3 528.1h.01M608.4 526.8h.01M608.4 515.9h.01M608.4 534.7h.01M608.4 532.4h.01M608.4 533.3h.01M608.4 509.7h.01M608.4 519.8h.01M608.4 536.1h.01M608.5 502.0h.01M608.5 535.5h.01M608.5 523.3h.01M608.6 537.6h.01M608.6 538.7h.01M608.6 466.9h.01M608.7 536.8h.01M608.7 533.8h.01M608.7 518.8h.01M608.7 536.9h.01M608.8 520.3h.01M608.8 538.1h.01M608.8 475.4h.01M608.8 531.5h.01M608.8 527.5h.01M609.0 516.8h.01M609.0 499.2h.01M609.0 507.2h.01M609.1 536.6h.01M609.1 532.8h.01M609.1 520.1h.01M609.1 526.0h.01M609.2 528.6h.01M609.2 522.0h.01M609.2 509.2h.01M609.2 536.5h.01M609.2 526.6h.01M609.2 531.6h.01M609.2 525.1h.01M609.2 540.5h.01M609.2 526.9h.01M609.3 523.6h.01M609.3 534.4h.01M609.3 510.9h.01M609.4 487.5h.01M609.4 538.4h.01M609.4 536.5h.01M609.5 537.3h.01M609.5 539.2h.01M609.5 490.1h.01M609.5 530.9h.01M609.6 534.1h.01M609.6 527.7h.01M609.6 530.5h.01M609.6 508.0h.01M609.6 536.2h.01M609.6 489.6h.01M609.7 528.8h.01M609.8 520.2h.01M609.8 538.3h.01M609.8 533.8h.01M609.8 528.7h.01M609.9 521.1h.01M609.9 524.9h.01M609.9 523.9h.01M609.9 521.5h.01M609.9 530.0h.01M610.0 525.4h.01M610.0 528.0h.01M610.0 516.5h.01M610.0 508.5h.01M610.0 528.9h.01M610.0 522.1h.01M610.0 537.7h.01M610.1 515.4h.01M610.1 540.1h.01M610.1 521.4h.01M610.2 537.8h.01M610.2 519.5h.01M610.2 524.6h.01M610.3 509.2h.01M610.3 535.9h.01M610.3 521.2h.01M610.3 507.4h.01M610.3 539.2h.01M610.4 517.2h.01M610.4 507.5h.01M610.4 515.9h.01M610.4 535.5h.01M610.4 495.1h.01M610.5 519.7h.01M610.5 499.5h.01M610.5 540.6h.01M610.6 531.4h.01M610.6 533.1h.01M610.6 528.7h.01M610.6 532.8h.01M610.6 502.0h.01M610.6 534.8h.01M610.6 514.4h.01M610.7 531.0h.01M610.8 529.1h.01M610.8 529.9h.01M610.8 536.3h.01M610.9 536.5h.01M610.9 519.1h.01M611.0 511.7h.01M611.0 537.1h.01M611.0 531.7h.01M611.1 475.1h.01M611.1 532.4h.01M611.1 525.0h.01M611.1 513.7h.01M611.3 492.9h.01M611.3 516.0h.01M611.3 463.3h.01M611.3 514.2h.01M611.4 514.2h.01M611.4 518.0h.01M611.4 513.4h.01M611.4 518.2h.01M611.5 485.2h.01M611.5 457.3h.01M611.5 533.5h.01M611.6 538.5h.01M611.6 530.3h.01M611.7 529.9h.01M611.7 536.7h.01M611.7 529.4h.01M611.7 536.1h.01M611.7 517.4h.01M612.0 537.3h.01M612.0 538.1h.01M612.1 517.4h.01M612.1 528.6h.01M612.2 512.0h.01M612.2 505.2h.01M612.3 510.5h.01M612.3 535.0h.01M612.4 480.9h.01M612.5 509.6h.01M612.5 532.5h.01M612.6 511.6h.01M612.6 517.2h.01M612.8 473.1h.01M612.8 520.1h.01M612.8 524.2h.01M612.9 533.7h.01M612.9 512.5h.01M613.0 535.5h.01M613.0 529.3h.01M613.0 504.1h.01M613.0 532.4h.01M613.0 529.9h.01M613.0 503.1h.01M613.0 488.1h.01M613.1 465.0h.01M613.1 510.1h.01M613.1 531.3h.01M613.1 524.3h.01M613.1 536.2h.01M613.1 516.4h.01M613.2 514.3h.01M613.2 506.6h.01M613.3 527.3h.01M613.3 527.6h.01M613.3 531.2h.01M613.4 512.1h.01M613.4 535.0h.01M613.4 536.0h.01M613.4 507.7h.01M613.5 518.7h.01M613.5 524.8h.01M613.6 538.1h.01M613.6 536.4h.01M613.7 481.4h.01M613.7 523.8h.01M613.7 509.1h.01M613.7 527.2h.01M613.7 537.6h.01M613.7 525.6h.01M613.8 523.8h.01M613.8 539.0h.01M613.8 482.1h.01M613.8 513.6h.01M613.9 499.1h.01M614.0 525.7h.01M614.0 539.5h.01M614.1 535.1h.01M614.2 535.9h.01M614.2 524.8h.01M614.3 533.1h.01M614.3 507.0h.01M614.3 527.7h.01M614.4 528.4h.01M614.4 526.1h.01M614.4 534.1h.01M614.4 521.3h.01M614.4 518.5h.01M614.4 532.0h.01M614.5 513.3h.01M614.5 520.4h.01M614.5 528.3h.01M614.5 510.2h.01M614.5 515.8h.01M614.5 528.6h.01M614.6 463.8h.01M614.7 493.3h.01M614.8 440.9h.01M614.8 472.1h.01M614.9 479.1h.01M615.0 460.7h.01M615.0 488.1h.01M615.1 448.2h.01M615.1 453.8h.01M615.1 483.8h.01M615.2 529.3h.01M615.2 528.8h.01M615.2 535.1h.01M615.3 517.9h.01M615.3 534.3h.01M615.4 479.4h.01M615.4 521.8h.01M615.4 535.1h.01M615.4 527.3h.01M615.4 524.0h.01M615.5 526.1h.01M615.5 507.4h.01M615.5 526.9h.01M615.5 539.4h.01M615.5 528.3h.01M615.5 515.4h.01M615.6 534.6h.01M615.6 534.2h.01M615.6 502.8h.01M615.7 526.8h.01M615.7 535.8h.01M615.7 494.0h.01M615.7 527.3h.01M615.8 506.2h.01M615.8 532.8h.01M615.8 538.6h.01M615.8 529.8h.01M615.8 519.7h.01M615.8 529.1h.01M615.9 523.9h.01M615.9 503.5h.01M615.9 522.5h.01M616.0 526.6h.01M616.0 536.9h.01M616.1 528.8h.01M616.1 528.0h.01M616.2 521.7h.01M616.2 522.0h.01M616.2 530.7h.01M616.3 527.9h.01M616.4 522.8h.01M616.5 526.4h.01M616.5 496.8h.01M616.5 464.7h.01M616.5 534.6h.01M616.6 517.8h.01M616.7 480.3h.01M616.7 488.5h.01M616.7 455.9h.01M616.8 481.5h.01M616.8 447.8h.01M617.0 490.0h.01M617.0 519.1h.01M617.0 532.7h.01M617.1 508.7h.01M617.1 538.1h.01M617.1 514.9h.01M617.1 534.8h.01M617.1 509.5h.01M617.1 532.6h.01M617.2 533.7h.01M617.2 487.0h.01M617.2 519.9h.01M617.2 534.8h.01M617.3 521.2h.01M617.3 528.0h.01M617.3 515.1h.01M617.3 524.5h.01M617.3 537.1h.01M617.4 475.0h.01M617.4 519.6h.01M617.5 529.3h.01M617.5 527.3h.01M617.5 523.7h.01M617.5 518.0h.01M617.5 498.1h.01M617.5 528.9h.01M617.6 516.1h.01M617.6 523.9h.01M617.6 494.3h.01M617.6 532.6h.01M617.7 538.3h.01M617.7 496.0h.01M617.7 537.3h.01M617.7 504.9h.01M617.8 492.2h.01M617.8 519.4h.01M617.8 536.0h.01M617.8 520.2h.01M617.8 539.6h.01M617.8 527.4h.01M617.9 501.1h.01M617.9 532.4h.01M617.9 514.7h.01M617.9 525.5h.01M617.9 526.9h.01M617.9 494.0h.01M618.0 522.9h.01M618.0 505.6h.01M618.0 528.9h.01M618.0 520.1h.01M618.0 512.0h.01M618.1 525.2h.01M618.1 534.9h.01M618.2 525.5h.01M618.2 512.3h.01M618.2 531.2h.01M618.2 521.2h.01M618.3 476.0h.01M618.3 496.3h.01M618.3 460.9h.01M618.3 457.0h.01M618.4 512.8h.01M618.4 444.8h.01M618.5 499.1h.01M618.5 478.6h.01M618.5 482.4h.01M618.6 486.3h.01M618.6 480.3h.01M618.7 443.5h.01M618.7 486.0h.01M618.8 508.9h.01M618.8 533.5h.01M618.9 514.7h.01M619.0 499.4h.01M619.0 525.3h.01M619.1 525.0h.01M619.2 507.8h.01M619.3 506.3h.01M619.4 527.8h.01M619.5 512.3h.01M619.5 509.5h.01M619.6 517.3h.01M619.7 516.5h.01M619.7 535.3h.01M619.7 535.9h.01M619.8 517.2h.01M619.8 534.3h.01M619.9 474.4h.01M619.9 456.5h.01M620.0 481.5h.01M620.0 492.6h.01M620.0 473.5h.01M620.1 450.5h.01M620.1 497.0h.01M620.1 489.5h.01M620.1 462.0h.01M620.1 487.8h.01M620.2 490.2h.01M620.3 486.9h.01M620.3 466.7h.01M620.3 488.3h.01M620.4 498.9h.01M620.4 498.9h.01M620.5 490.2h.01M620.5 495.3h.01M620.5 493.6h.01M620.6 495.7h.01M620.6 497.8h.01M620.6 491.5h.01M620.7 469.6h.01M620.8 499.6h.01M620.8 519.5h.01M620.9 524.9h.01M620.9 533.7h.01M620.9 523.5h.01M620.9 517.9h.01M620.9 531.7h.01M621.0 529.3h.01M621.0 515.0h.01M621.0 533.4h.01M621.1 508.2h.01M621.1 520.6h.01M621.1 529.7h.01M621.1 535.8h.01M621.1 522.9h.01M621.1 498.6h.01M621.2 509.1h.01M621.2 528.3h.01M621.2 529.8h.01M621.2 539.4h.01M621.2 516.3h.01M621.3 524.7h.01M621.3 501.9h.01M621.3 534.5h.01M621.3 536.0h.01M621.3 530.7h.01M621.3 538.4h.01M621.3 525.7h.01M621.3 524.9h.01M621.3 529.0h.01M621.3 522.0h.01M621.4 507.7h.01M621.4 529.3h.01M621.4 532.1h.01M621.4 538.4h.01M621.4 502.7h.01M621.4 533.8h.01M621.4 504.1h.01M621.4 514.5h.01M621.4 533.0h.01M621.4 530.0h.01M621.4 510.9h.01M621.4 532.5h.01M621.4 540.2h.01M621.4 520.0h.01M621.5 532.5h.01M621.5 537.3h.01M621.5 529.7h.01M621.5 535.1h.01M621.5 535.4h.01M621.5 536.4h.01M621.5 515.3h.01M621.5 514.2h.01M621.5 515.6h.01M621.6 452.4h.01M621.6 538.3h.01M621.6 531.2h.01M621.6 530.0h.01M621.6 530.8h.01M621.6 508.9h.01M621.6 529.3h.01M621.6 537.0h.01M621.6 537.3h.01M621.7 526.8h.01M621.7 461.4h.01M621.7 480.3h.01M621.7 451.4h.01M621.7 471.2h.01M621.8 462.5h.01M621.9 520.5h.01M621.9 524.4h.01M621.9 507.1h.01M621.9 523.9h.01M621.9 517.7h.01M621.9 529.1h.01M621.9 494.1h.01M622.0 535.9h.01M622.0 529.2h.01M622.0 539.4h.01M622.0 501.6h.01M622.0 536.3h.01M622.0 505.4h.01M622.0 518.4h.01M622.0 531.2h.01M622.0 499.7h.01M622.0 525.9h.01M622.0 496.3h.01M622.1 532.4h.01M622.1 498.2h.01M622.1 515.3h.01M622.1 527.1h.01M622.1 527.5h.01M622.1 522.8h.01M622.1 538.3h.01M622.1 513.1h.01M622.1 525.6h.01M622.1 520.1h.01M622.1 507.0h.01M622.1 523.8h.01M622.1 522.3h.01M622.1 539.9h.01M622.1 520.9h.01M622.1 538.7h.01M622.2 527.8h.01M622.2 515.0h.01M622.2 469.0h.01M622.2 524.6h.01M622.2 514.1h.01M622.2 534.5h.01M622.2 518.2h.01M622.2 507.2h.01M622.2 531.7h.01M622.2 507.7h.01M622.3 538.1h.01M622.3 532.2h.01M622.3 532.8h.01M622.3 538.3h.01M622.3 529.3h.01M622.3 527.4h.01M622.3 510.1h.01M622.3 513.7h.01M622.3 504.9h.01M622.3 519.9h.01M622.4 539.9h.01M622.4 538.8h.01M622.4 516.1h.01M622.4 539.3h.01M622.4 526.6h.01M622.4 529.5h.01M622.4 524.2h.01M622.5 540.0h.01M622.5 538.6h.01M622.5 518.9h.01M622.5 533.5h.01M622.6 512.3h.01M622.6 514.5h.01M622.6 530.8h.01M622.6 526.9h.01M622.6 502.3h.01M622.6 508.9h.01M622.6 524.2h.01M622.6 531.9h.01M622.7 524.3h.01M622.7 517.1h.01M622.7 521.1h.01M622.8 526.3h.01M622.8 496.1h.01M622.9 523.9h.01M622.9 529.3h.01M622.9 532.7h.01M622.9 539.4h.01M622.9 539.4h.01M622.9 535.8h.01M623.0 521.2h.01M623.0 537.5h.01M623.0 527.1h.01M623.1 539.6h.01M623.1 507.0h.01M623.1 535.2h.01M623.1 521.4h.01M623.1 530.0h.01M623.2 518.8h.01M623.2 525.3h.01M623.2 526.9h.01M623.2 520.6h.01M623.2 529.9h.01M623.2 521.4h.01M623.2 521.7h.01M623.2 531.4h.01M623.3 529.1h.01M623.3 508.0h.01M623.4 479.8h.01M623.4 519.6h.01M623.4 516.7h.01M623.4 534.6h.01M623.5 489.1h.01M623.5 529.9h.01M623.6 508.6h.01M623.7 511.0h.01M623.7 526.4h.01M623.7 536.5h.01M623.7 524.6h.01M623.7 515.9h.01M623.8 536.0h.01M623.9 514.1h.01M623.9 532.2h.01M623.9 523.9h.01M623.9 537.3h.01M623.9 525.0h.01M624.0 499.5h.01M624.0 511.2h.01M624.0 537.6h.01M624.0 518.0h.01M624.1 513.2h.01M624.1 520.2h.01M624.1 535.1h.01M624.2 525.9h.01M624.2 527.1h.01M624.3 526.8h.01M624.3 532.5h.01M624.4 537.0h.01M624.4 518.6h.01M624.4 522.6h.01M624.5 531.0h.01M624.5 526.5h.01M624.6 520.6h.01M624.7 531.6h.01M624.7 507.4h.01M624.8 522.2h.01M624.8 514.2h.01M624.8 516.8h.01M624.8 532.2h.01M625.0 508.5h.01M625.1 520.5h.01M625.2 539.1h.01M625.2 516.1h.01M625.3 518.5h.01M625.4 535.5h.01M625.5 513.6h.01M625.5 518.2h.01M625.5 516.8h.01M625.6 528.0h.01M625.6 532.3h.01M625.7 532.2h.01M625.8 520.5h.01M625.8 535.8h.01M625.8 535.4h.01M625.9 522.3h.01M626.0 534.5h.01M626.1 535.2h.01M626.2 505.8h.01M626.3 536.2h.01M626.3 525.0h.01M626.3 539.0h.01M626.3 532.0h.01M626.3 526.5h.01M626.5 535.0h.01M626.7 510.8h.01M626.7 531.0h.01M626.7 525.7h.01M627.1 497.8h.01M627.2 535.4h.01M627.4 538.3h.01M627.5 531.7h.01M627.5 528.8h.01M627.5 526.5h.01M627.6 487.0h.01M627.7 455.1h.01M627.8 445.6h.01M627.8 499.3h.01M627.8 460.9h.01M627.9 531.6h.01M627.9 516.0h.01M628.0 531.3h.01M628.1 516.8h.01M628.2 503.7h.01M628.3 523.6h.01M628.3 532.4h.01M628.3 497.6h.01M628.3 449.3h.01M628.4 466.2h.01M628.4 480.3h.01M628.5 482.4h.01M628.6 492.2h.01M628.6 497.6h.01M628.8 511.2h.01M629.0 495.1h.01M629.1 538.3h.01M629.1 497.4h.01M629.2 519.3h.01M629.2 511.8h.01M629.2 520.3h.01M629.3 534.7h.01M629.4 527.5h.01M629.4 537.6h.01M629.4 531.4h.01M629.5 516.2h.01M629.5 527.1h.01M629.6 526.7h.01M629.6 533.3h.01M629.6 482.8h.01M629.7 498.3h.01M629.7 535.9h.01M629.7 536.8h.01M629.7 516.9h.01M629.8 518.1h.01M629.8 501.3h.01M629.9 535.1h.01M630.0 529.5h.01M630.0 537.5h.01M630.2 501.7h.01M630.3 533.1h.01M630.3 488.5h.01M630.3 521.8h.01M630.5 538.6h.01M630.6 537.0h.01M630.7 533.5h.01M630.7 535.0h.01M630.8 530.4h.01M630.9 523.4h.01M631.0 538.2h.01M631.1 532.7h.01M631.1 534.8h.01M631.2 506.1h.01M631.2 515.5h.01M631.3 525.6h.01M631.3 538.8h.01M631.3 536.4h.01M631.3 521.6h.01M631.3 504.0h.01M631.3 522.9h.01M631.4 508.3h.01M631.4 529.7h.01M631.4 528.3h.01M631.5 520.6h.01M631.5 523.9h.01M631.5 535.6h.01M631.5 529.7h.01M631.5 532.5h.01M631.6 503.0h.01M631.7 534.3h.01M631.8 534.3h.01M631.8 526.5h.01M631.8 495.0h.01M631.8 538.5h.01M631.9 447.9h.01M631.9 481.7h.01M631.9 536.6h.01M632.0 533.3h.01M632.0 516.7h.01M632.0 540.1h.01M632.1 520.4h.01M632.2 535.4h.01M632.3 510.1h.01M632.3 512.6h.01M632.3 533.6h.01M632.3 531.7h.01M632.4 529.8h.01M632.5 516.7h.01M632.5 514.7h.01M632.5 499.8h.01M632.6 502.7h.01M632.6 532.3h.01M632.6 516.6h.01M632.6 520.9h.01M632.6 537.9h.01M632.7 536.9h.01M632.7 519.8h.01M632.8 539.6h.01M632.8 535.0h.01M632.8 538.1h.01M632.9 523.9h.01M632.9 523.8h.01M632.9 505.0h.01M633.0 528.7h.01M633.0 538.7h.01M633.0 495.3h.01M633.0 529.1h.01M633.0 514.8h.01M633.0 525.0h.01M633.0 536.5h.01M633.0 534.7h.01M633.0 527.4h.01M633.0 533.1h.01M633.1 509.5h.01M633.1 520.1h.01M633.1 536.6h.01M633.2 527.5h.01M633.3 508.5h.01M633.4 518.3h.01M633.4 520.4h.01M633.4 527.7h.01M633.4 532.5h.01M633.5 527.9h.01M633.6 531.1h.01M633.7 537.7h.01M633.7 538.7h.01M633.7 524.6h.01M633.7 535.1h.01M633.8 534.9h.01M633.9 516.1h.01M634.0 517.6h.01M634.2 534.2h.01M634.3 535.4h.01M634.3 536.3h.01M634.3 499.5h.01M634.7 488.0h.01M634.7 512.8h.01M634.8 526.3h.01M634.8 508.2h.01M634.8 522.1h.01M634.9 532.9h.01M635.0 523.2h.01M635.0 518.3h.01M635.1 514.2h.01M635.1 533.5h.01M635.1 533.6h.01M635.1 534.8h.01M635.1 525.8h.01M635.1 516.6h.01M635.1 525.0h.01M635.2 533.9h.01M635.2 508.7h.01M635.4 515.8h.01M635.4 515.4h.01M635.5 534.5h.01M635.5 514.7h.01M635.5 510.4h.01M635.5 529.0h.01M635.6 530.3h.01M635.8 536.1h.01M635.8 521.2h.01M635.8 519.5h.01M635.8 526.6h.01M635.8 523.9h.01M635.9 522.5h.01M636.0 531.4h.01M636.1 531.1h.01M636.2 532.9h.01M636.2 537.9h.01M636.2 527.4h.01M636.2 529.8h.01M636.3 537.3h.01M636.3 530.8h.01M636.4 495.8h.01M636.5 528.8h.01M636.6 520.8h.01M636.6 527.1h.01M636.7 531.5h.01M636.8 521.6h.01M636.8 531.2h.01M636.9 537.5h.01M636.9 511.5h.01M637.1 505.7h.01M637.1 535.3h.01M637.1 532.4h.01M637.1 536.8h.01M637.1 534.9h.01M637.2 530.9h.01M637.2 530.3h.01M637.3 526.7h.01M637.3 536.3h.01M637.3 451.6h.01M637.4 514.1h.01M637.4 540.5h.01M637.4 510.5h.01M637.4 525.0h.01M637.5 536.1h.01M637.5 530.5h.01M637.5 530.5h.01M637.5 516.4h.01M637.6 530.5h.01M637.6 522.6h.01M637.6 538.3h.01M637.6 518.3h.01M637.6 528.3h.01M637.7 530.6h.01M637.7 533.7h.01M637.7 533.0h.01M637.7 528.4h.01M637.8 539.9h.01M637.8 526.3h.01M637.8 536.0h.01M637.8 526.6h.01M637.8 530.5h.01M637.9 495.0h.01M637.9 537.2h.01M637.9 536.7h.01M637.9 521.2h.01M638.0 514.9h.01M638.0 527.6h.01M638.0 515.3h.01M638.0 530.8h.01M638.1 530.6h.01M638.1 476.1h.01M638.2 479.4h.01M638.3 532.5h.01M638.3 533.8h.01M638.4 529.3h.01M638.4 538.5h.01M638.4 534.8h.01M638.5 519.3h.01M638.5 532.1h.01M638.5 512.9h.01M638.5 532.3h.01M638.5 524.0h.01M638.6 536.6h.01M638.6 530.7h.01M638.6 509.5h.01M638.6 511.4h.01M638.7 520.7h.01M638.7 518.9h.01M638.7 531.5h.01M638.8 512.3h.01M638.9 535.7h.01M639.0 526.2h.01M639.0 507.0h.01M639.0 517.0h.01M639.0 532.9h.01M639.1 533.1h.01M639.1 513.2h.01M639.1 532.2h.01M639.2 508.4h.01M639.3 504.9h.01M639.3 516.8h.01M639.3 539.4h.01M639.3 534.0h.01M639.3 520.6h.01M639.4 508.1h.01M639.4 531.9h.01M639.4 534.4h.01M639.4 524.1h.01M639.4 517.3h.01M639.5 517.7h.01M639.5 531.4h.01M639.5 532.3h.01M639.5 517.9h.01M639.5 512.9h.01M639.5 537.8h.01M639.5 525.2h.01M639.5 466.4h.01M639.6 525.4h.01M639.6 525.7h.01M639.6 528.8h.01M639.6 531.6h.01M639.7 511.8h.01M639.7 502.3h.01M639.7 534.3h.01M639.8 535.2h.01M639.8 505.9h.01M639.8 526.1h.01M639.8 533.5h.01M639.8 516.2h.01M639.8 524.5h.01M639.9 491.8h.01M639.9 528.4h.01M639.9 523.4h.01M639.9 501.5h.01M639.9 529.6h.01M639.9 532.6h.01M639.9 532.4h.01M639.9 523.9h.01M639.9 525.3h.01M639.9 531.2h.01M639.9 528.8h.01M640.0 500.1h.01M640.0 518.0h.01M640.1 531.6h.01M640.1 523.7h.01M640.1 530.3h.01M640.1 528.2h.01M640.2 530.4h.01M640.2 538.1h.01M640.2 538.3h.01M640.2 527.7h.01M640.2 534.2h.01M640.2 525.4h.01M681.7 538.1h.01M681.4 531.5h.01M681.2 539.9h.01M681.4 540.5h.01M681.5 539.4h.01M681.8 540.0h.01M681.3 526.8h.01M682.5 533.1h.01M682.6 520.5h.01M683.8 530.0h.01M684.4 539.0h.01M684.4 535.8h.01M684.5 540.5h.01M684.2 533.7h.01M684.7 531.4h.01M685.8 530.2h.01M685.8 534.9h.01M685.9 526.4h.01M685.8 531.3h.01M685.5 538.4h.01M685.1 523.8h.01M686.5 538.7h.01M687.0 529.9h.01M686.6 535.2h.01M686.1 528.7h.01M686.1 528.7h.01M686.3 527.5h.01M687.2 526.6h.01M687.9 527.9h.01M687.9 520.4h.01M687.5 534.8h.01M688.8 530.0h.01M688.4 529.3h.01M688.4 539.0h.01M688.9 532.0h.01M688.6 525.3h.01M688.1 533.6h.01M689.7 521.7h.01M689.6 539.3h.01M689.3 540.4h.01M689.4 533.9h.01M689.2 535.4h.01M690.6 533.7h.01M690.0 533.3h.01M690.8 528.1h.01M690.8 534.6h.01M691.2 538.6h.01M691.3 537.9h.01M691.2 529.6h.01M691.9 526.0h.01M692.1 532.9h.01M692.8 526.3h.01M692.2 528.1h.01M692.5 532.2h.01M693.8 534.4h.01M693.5 534.2h.01M693.2 524.5h.01M693.7 537.2h.01M693.3 533.8h.01M693.3 535.3h.01M693.1 521.5h.01M693.2 539.1h.01M693.3 536.9h.01M695.0 536.9h.01M694.1 538.8h.01M694.3 540.3h.01M694.5 521.4h.01M694.3 526.2h.01M695.1 523.6h.01M696.2 538.0h.01M697.4 537.9h.01M697.6 532.9h.01M697.7 525.4h.01M697.7 526.0h.01M698.6 536.0h.01M698.4 523.7h.01M698.1 532.7h.01M698.8 538.8h.01M698.5 524.8h.01M698.1 539.5h.01M699.0 538.7h.01M699.9 525.4h.01M700.8 539.6h.01M699.9 527.4h.01M700.5 536.8h.01M700.9 531.0h.01M700.0 536.8h.01M700.5 534.6h.01M700.1 531.4h.01M700.5 529.4h.01M701.2 524.4h.01M701.0 521.0h.01M701.9 526.8h.01M702.3 521.4h.01M702.5 522.6h.01M702.7 527.6h.01M702.6 524.5h.01M702.2 521.8h.01M681.0 465.8h.01M681.0 528.8h.01M681.1 537.0h.01M681.1 511.9h.01M681.1 522.8h.01M681.1 504.0h.01M681.1 539.2h.01M681.1 508.9h.01M681.3 531.3h.01M681.3 531.0h.01M681.3 527.7h.01M681.3 523.9h.01M681.3 532.0h.01M681.3 497.9h.01M681.4 528.3h.01M681.4 528.5h.01M681.4 505.6h.01M681.4 504.4h.01M681.4 531.0h.01M681.5 495.1h.01M681.5 538.4h.01M681.5 521.4h.01M681.5 531.0h.01M681.5 523.8h.01M681.5 524.6h.01M681.5 499.8h.01M681.6 530.9h.01M681.6 533.0h.01M681.6 524.4h.01M681.7 524.2h.01M681.7 527.3h.01M681.7 515.4h.01M681.9 501.1h.01M681.9 524.7h.01M682.0 535.9h.01M682.0 529.8h.01M682.0 529.3h.01M682.0 533.0h.01M682.0 528.7h.01M682.1 522.0h.01M682.1 537.8h.01M682.1 531.3h.01M682.1 534.8h.01M682.1 484.3h.01M682.1 514.7h.01M682.2 530.6h.01M682.2 536.4h.01M682.2 533.2h.01M682.2 525.0h.01M682.3 537.0h.01M682.3 525.1h.01M682.3 518.6h.01M682.3 532.8h.01M682.3 500.2h.01M682.4 526.9h.01M682.4 525.5h.01M682.4 529.8h.01M682.4 532.9h.01M682.4 515.3h.01M682.4 530.9h.01M682.4 530.8h.01M682.4 520.3h.01M682.5 456.2h.01M682.5 519.3h.01M682.6 534.3h.01M682.6 527.0h.01M682.6 536.7h.01M682.7 515.5h.01M682.7 503.9h.01M682.8 527.9h.01M682.8 524.7h.01M682.8 521.4h.01M682.8 509.6h.01M682.8 528.1h.01M682.8 514.6h.01M682.8 529.1h.01M682.8 512.9h.01M682.8 457.6h.01M682.9 529.1h.01M682.9 539.1h.01M682.9 530.5h.01M682.9 521.7h.01M682.9 531.5h.01M683.0 535.7h.01M683.0 524.6h.01M683.0 522.2h.01M683.0 524.1h.01M683.1 532.6h.01M683.1 518.5h.01M683.1 534.8h.01M683.1 516.3h.01M683.2 514.0h.01M683.2 504.8h.01M683.2 519.0h.01M683.2 534.8h.01M683.2 514.5h.01M683.2 535.1h.01M683.2 493.3h.01M683.2 508.1h.01M683.3 527.7h.01M683.3 538.9h.01M683.3 529.8h.01M683.3 539.6h.01M683.4 510.5h.01M683.4 534.1h.01M683.4 530.9h.01M683.4 526.7h.01M683.4 516.6h.01M683.5 523.7h.01M683.5 516.8h.01M683.5 537.5h.01M683.5 521.5h.01M683.5 503.9h.01M683.5 538.2h.01M683.5 491.4h.01M683.5 533.6h.01M683.5 523.5h.01M683.6 537.8h.01M683.6 526.2h.01M683.6 513.4h.01M683.6 539.2h.01M683.6 513.7h.01M683.6 530.9h.01M683.6 527.4h.01M683.6 520.9h.01M683.6 530.0h.01M683.7 538.3h.01M683.7 522.7h.01M683.7 518.6h.01M683.7 539.6h.01M683.7 524.9h.01M683.8 526.7h.01M683.8 500.2h.01M683.8 531.4h.01M683.8 479.3h.01M683.8 491.2h.01M683.8 464.4h.01M683.8 489.2h.01M683.9 526.7h.01M683.9 512.1h.01M683.9 531.3h.01M683.9 533.7h.01M683.9 531.6h.01M683.9 536.9h.01M683.9 523.8h.01M683.9 509.6h.01M683.9 528.1h.01M683.9 527.6h.01M683.9 485.9h.01M684.0 530.4h.01M684.0 491.8h.01M684.0 534.7h.01M684.0 534.9h.01M684.1 527.2h.01M684.1 534.5h.01M684.1 539.7h.01M684.1 493.5h.01M684.1 531.6h.01M684.1 520.1h.01M684.1 499.2h.01M684.1 525.9h.01M684.2 522.7h.01M684.2 532.7h.01M684.2 540.0h.01M684.2 522.4h.01M684.2 531.1h.01M684.2 538.8h.01M684.3 532.4h.01M684.4 477.6h.01M684.4 538.0h.01M684.4 518.2h.01M684.4 514.9h.01M684.4 525.0h.01M684.4 526.1h.01M684.5 516.7h.01M684.5 522.7h.01M684.5 525.4h.01M684.5 528.9h.01M684.5 511.5h.01M684.5 512.2h.01M684.5 536.8h.01M684.6 538.0h.01M684.6 535.1h.01M684.6 531.2h.01M684.6 531.4h.01M684.6 519.6h.01M684.6 538.0h.01M684.7 524.1h.01M684.7 533.7h.01M684.7 510.7h.01M684.7 539.1h.01M684.7 495.5h.01M684.8 533.3h.01M684.8 528.0h.01M684.8 537.0h.01M684.8 518.8h.01M684.8 516.0h.01M684.9 535.7h.01M684.9 498.5h.01M684.9 537.2h.01M685.0 515.9h.01M685.0 522.2h.01M685.0 537.8h.01M685.0 524.4h.01M685.0 537.3h.01M685.0 530.6h.01M685.0 532.2h.01M685.0 523.4h.01M685.0 522.3h.01M685.1 538.3h.01M685.1 515.9h.01M685.1 532.3h.01M685.1 540.7h.01M685.1 522.8h.01M685.1 521.0h.01M685.1 512.1h.01M685.1 533.5h.01M685.2 517.3h.01M685.2 519.0h.01M685.3 532.1h.01M685.3 532.2h.01M685.3 522.7h.01M685.4 517.4h.01M685.4 530.9h.01M685.4 535.3h.01M685.4 516.5h.01M685.4 523.5h.01M685.5 522.5h.01M685.5 536.2h.01M685.5 518.1h.01M685.6 527.9h.01M685.6 524.0h.01M685.6 532.2h.01M685.7 511.3h.01M685.7 539.2h.01M685.7 504.7h.01M685.7 510.2h.01M685.7 526.0h.01M685.7 466.3h.01M685.7 532.5h.01M685.7 527.3h.01M685.7 530.0h.01M685.7 526.2h.01M685.8 510.4h.01M685.8 524.4h.01M685.8 490.7h.01M685.8 513.4h.01M685.8 533.9h.01M685.8 532.0h.01M685.9 528.9h.01M685.9 540.3h.01M685.9 495.4h.01M685.9 508.1h.01M685.9 533.5h.01M685.9 511.5h.01M685.9 493.4h.01M685.9 486.5h.01M685.9 462.1h.01M686.0 539.5h.01M686.0 521.7h.01M686.0 527.0h.01M686.0 492.4h.01M686.2 519.2h.01M686.3 528.8h.01M686.4 535.8h.01M686.5 530.3h.01M686.5 514.0h.01M686.5 529.7h.01M686.6 499.5h.01M686.6 534.0h.01M686.8 537.6h.01M686.8 528.0h.01M686.8 517.4h.01M686.9 519.3h.01M686.9 511.8h.01M686.9 504.9h.01M687.2 531.7h.01M687.2 520.6h.01M687.4 529.6h.01M687.4 530.3h.01M687.5 534.5h.01M687.5 521.2h.01M687.6 532.6h.01M687.7 530.1h.01M687.7 540.4h.01M688.0 524.4h.01M688.1 531.5h.01M688.1 501.9h.01M688.2 534.7h.01M688.3 533.1h.01M688.3 534.7h.01M688.4 511.1h.01M688.5 531.6h.01M688.5 531.5h.01M688.5 531.1h.01M688.6 518.0h.01M688.6 517.5h.01M688.6 504.8h.01M688.6 528.8h.01M688.7 529.6h.01M688.7 527.7h.01M688.7 539.1h.01M688.8 510.8h.01M688.8 532.2h.01M688.8 538.2h.01M688.9 530.5h.01M688.9 529.5h.01M688.9 524.0h.01M689.0 537.8h.01M689.1 520.5h.01M689.1 519.0h.01M689.2 528.9h.01M689.2 518.9h.01M689.3 494.7h.01M689.3 529.8h.01M689.4 514.9h.01M689.5 520.6h.01M689.6 520.3h.01M689.6 518.2h.01M689.7 532.5h.01M689.8 494.1h.01M689.8 484.0h.01M689.9 465.2h.01M690.0 455.6h.01M690.0 501.5h.01M690.0 486.6h.01M690.1 463.9h.01M690.2 498.0h.01M690.2 483.5h.01M690.3 488.8h.01M690.3 459.4h.01M690.3 504.5h.01M690.4 482.6h.01M690.4 504.2h.01M690.5 500.4h.01M690.6 521.5h.01M690.7 517.5h.01M690.7 505.5h.01M691.0 520.6h.01M691.0 452.5h.01M691.1 519.6h.01M691.2 522.6h.01M691.2 538.1h.01M691.3 526.3h.01M691.3 529.3h.01M691.3 523.0h.01M691.3 527.5h.01M691.3 523.8h.01M691.4 534.7h.01M691.5 523.1h.01M691.5 532.7h.01M691.7 531.9h.01M691.7 530.0h.01M691.8 530.0h.01M691.8 446.1h.01M691.8 497.4h.01M691.8 443.6h.01M691.8 482.9h.01M691.8 469.1h.01M691.8 456.7h.01M691.9 488.5h.01M691.9 494.0h.01M691.9 445.9h.01M692.0 491.4h.01M692.0 519.1h.01M692.0 494.6h.01M692.1 521.4h.01M692.1 536.0h.01M692.2 539.0h.01M692.2 526.9h.01M692.3 521.7h.01M692.3 536.1h.01M692.4 521.4h.01M692.4 529.5h.01M692.5 521.4h.01M692.5 527.5h.01M692.5 518.3h.01M692.6 528.5h.01M692.6 510.6h.01M692.6 501.8h.01M692.6 527.9h.01M692.7 524.2h.01M692.7 532.4h.01M692.8 515.8h.01M692.8 531.5h.01M692.9 524.0h.01M692.9 515.7h.01M692.9 529.4h.01M692.9 502.9h.01M693.0 517.5h.01M693.0 517.0h.01M693.0 519.2h.01M693.0 514.8h.01M693.0 486.6h.01M693.0 525.4h.01M693.0 536.6h.01M693.1 506.3h.01M693.2 524.1h.01M693.3 524.0h.01M693.3 533.4h.01M693.4 532.0h.01M693.7 511.8h.01M693.7 520.7h.01M693.7 540.4h.01M693.8 521.3h.01M693.8 524.0h.01M693.8 531.1h.01M693.9 527.6h.01M694.0 504.1h.01M694.0 523.9h.01M694.1 520.2h.01M694.2 532.9h.01M694.2 521.5h.01M694.2 523.6h.01M694.3 521.2h.01M694.4 539.4h.01M694.5 533.8h.01M694.7 527.9h.01M694.8 523.3h.01M694.9 519.8h.01M694.9 517.5h.01M694.9 532.2h.01M695.0 535.5h.01M695.1 514.5h.01M695.1 512.5h.01M695.1 532.2h.01M695.1 534.9h.01M695.5 527.5h.01M695.5 527.5h.01M695.5 517.5h.01M695.6 495.9h.01M695.6 534.3h.01M695.7 529.8h.01M695.8 528.4h.01M695.9 506.9h.01M696.0 536.4h.01M696.0 530.5h.01M696.1 531.8h.01M696.1 524.3h.01M696.2 533.7h.01M696.2 522.8h.01M696.2 503.6h.01M696.4 522.0h.01M696.6 533.1h.01M696.7 533.1h.01M697.1 523.5h.01M697.1 531.8h.01M697.2 535.2h.01M697.2 531.6h.01M697.2 536.3h.01M697.3 533.9h.01M697.5 533.0h.01M697.5 511.7h.01M697.6 535.9h.01M697.6 512.6h.01M697.7 500.9h.01M697.7 531.1h.01M697.7 521.8h.01M697.7 519.2h.01M697.7 532.0h.01M697.8 518.9h.01M697.8 535.8h.01M697.9 532.6h.01M698.0 532.7h.01M698.0 526.8h.01M698.0 502.2h.01M698.0 499.5h.01M698.0 499.3h.01M698.1 516.3h.01M698.2 512.8h.01M698.2 504.8h.01M698.2 529.2h.01M698.2 516.8h.01M698.2 499.5h.01M698.3 534.3h.01M698.3 527.8h.01M698.3 537.4h.01M698.3 535.8h.01M698.3 533.1h.01M698.4 537.8h.01M698.5 532.1h.01M698.5 504.9h.01M698.5 521.9h.01M698.5 528.2h.01M698.6 540.2h.01M698.6 497.4h.01M698.6 526.4h.01M698.6 519.4h.01M698.7 532.8h.01M698.7 517.1h.01M698.8 506.7h.01M698.8 537.1h.01M698.9 501.4h.01M699.0 483.3h.01M699.0 532.5h.01M699.0 476.3h.01M699.1 509.2h.01M699.1 525.1h.01M699.2 530.4h.01M699.2 529.8h.01M699.2 528.8h.01M699.3 535.0h.01M699.3 525.4h.01M699.3 502.8h.01M699.3 501.0h.01M699.4 535.3h.01M699.4 525.1h.01M699.4 519.7h.01M699.5 495.3h.01M699.5 510.6h.01M699.5 536.4h.01M699.5 488.3h.01M699.6 531.9h.01M699.6 537.6h.01M699.6 493.0h.01M699.6 517.4h.01M699.7 528.9h.01M699.7 527.3h.01M699.7 515.7h.01M699.8 532.8h.01M699.8 534.3h.01M699.8 525.5h.01M699.9 513.2h.01M699.9 532.4h.01M699.9 524.5h.01M699.9 507.5h.01M700.0 526.4h.01M700.0 527.5h.01M700.1 503.3h.01M700.1 522.9h.01M700.2 528.3h.01M700.2 522.3h.01M700.2 508.1h.01M700.2 524.6h.01M700.2 530.1h.01M700.3 514.2h.01M700.3 529.8h.01M700.4 523.7h.01M700.4 529.2h.01M700.5 505.6h.01M700.6 536.8h.01M700.6 536.7h.01M700.6 531.1h.01M700.7 515.5h.01M700.7 508.2h.01M700.8 525.6h.01M700.9 530.3h.01M700.9 512.5h.01M700.9 528.9h.01M700.9 521.1h.01M701.0 522.8h.01M701.0 533.9h.01M701.0 526.2h.01M701.0 538.0h.01M701.0 528.5h.01M701.0 523.3h.01M701.1 535.7h.01M701.1 506.8h.01M701.1 501.0h.01M701.1 539.4h.01M701.1 521.4h.01M701.1 533.5h.01M701.1 519.2h.01M701.1 523.6h.01M701.2 520.1h.01M701.2 535.5h.01M701.2 534.4h.01M701.2 536.2h.01M701.2 533.2h.01M701.2 528.6h.01M701.3 537.2h.01M701.3 516.0h.01M701.3 532.0h.01M701.3 526.4h.01M701.3 535.4h.01M701.4 533.4h.01M701.4 535.2h.01M701.4 518.8h.01M701.4 536.7h.01M701.5 540.4h.01M701.5 539.8h.01M701.5 517.4h.01M701.5 533.3h.01M701.5 501.2h.01M701.5 472.5h.01M701.5 501.7h.01M701.5 509.8h.01M701.5 527.0h.01M701.6 516.3h.01M701.6 486.7h.01M701.6 536.8h.01M701.6 521.4h.01M701.6 518.0h.01M701.6 505.6h.01M701.6 481.3h.01M701.6 528.5h.01M701.6 525.5h.01M701.6 537.5h.01M701.6 517.1h.01M701.7 485.8h.01M701.7 516.0h.01M701.7 532.2h.01M701.7 538.2h.01M701.7 538.3h.01M701.8 528.6h.01M701.8 533.1h.01M701.8 534.8h.01M701.9 532.2h.01M701.9 485.0h.01M701.9 532.0h.01M701.9 536.0h.01M701.9 525.7h.01M702.0 530.9h.01M702.0 527.9h.01M702.1 537.3h.01M702.2 478.8h.01M702.3 536.3h.01M702.4 529.5h.01M702.4 476.5h.01M702.4 507.9h.01M702.5 517.3h.01M702.5 527.1h.01M702.5 533.8h.01M702.5 536.8h.01M702.5 512.1h.01M702.5 523.8h.01M702.5 509.5h.01M702.5 522.5h.01M702.5 536.6h.01M702.6 523.2h.01M702.6 498.5h.01M702.6 530.2h.01M702.6 524.0h.01M702.6 517.1h.01M702.6 532.1h.01M702.6 519.2h.01M702.6 505.7h.01M702.7 539.8h.01M702.7 532.0h.01M702.8 538.1h.01M734.5 526.3h.01M734.5 537.1h.01M734.3 535.3h.01M734.9 524.7h.01M735.5 524.6h.01M735.7 522.7h.01M735.9 527.3h.01M735.3 537.8h.01M735.6 533.1h.01M736.8 524.8h.01M736.8 535.6h.01M737.8 520.7h.01M737.5 525.0h.01M737.2 524.8h.01M737.9 529.0h.01M738.2 537.6h.01M739.4 536.3h.01M739.3 537.1h.01M739.3 535.9h.01M740.5 540.4h.01M740.8 536.6h.01M740.8 533.7h.01M740.6 537.9h.01M740.5 524.0h.01M740.3 534.3h.01M741.4 526.5h.01M741.5 531.8h.01M741.1 539.9h.01M741.2 529.3h.01M741.4 529.4h.01M741.8 522.9h.01M741.7 523.7h.01M742.9 540.0h.01M742.6 521.1h.01M742.1 538.4h.01M743.0 527.4h.01M742.2 526.1h.01M742.3 528.4h.01M742.8 537.1h.01M742.4 536.0h.01M743.1 537.0h.01M743.5 534.5h.01M745.0 539.6h.01M745.0 532.6h.01M745.7 537.1h.01M747.3 526.3h.01M746.5 538.2h.01M747.2 538.9h.01M746.8 533.8h.01M747.1 534.2h.01M746.8 526.3h.01M746.6 529.7h.01M747.1 528.5h.01M747.2 536.2h.01M748.0 528.3h.01M748.4 529.8h.01M748.1 528.2h.01M747.7 530.8h.01M749.4 532.6h.01M749.5 529.6h.01M749.2 539.3h.01M748.6 537.2h.01M750.0 536.9h.01M749.7 526.3h.01M749.9 528.0h.01M750.5 538.2h.01M750.8 529.4h.01M751.1 524.4h.01M750.6 527.6h.01M752.1 538.1h.01M752.0 527.0h.01M752.1 526.9h.01M751.9 527.2h.01M753.0 536.1h.01M753.4 525.2h.01M753.3 521.9h.01M753.9 526.1h.01M754.3 532.7h.01M754.4 539.3h.01M754.5 539.6h.01M754.1 520.4h.01M753.9 538.2h.01M755.2 533.4h.01M755.1 526.1h.01M755.3 538.8h.01M734.3 527.7h.01M734.3 529.8h.01M734.3 527.5h.01M734.3 538.5h.01M734.3 503.8h.01M734.3 512.5h.01M734.3 534.1h.01M734.4 528.5h.01M734.4 536.5h.01M734.4 511.3h.01M734.4 519.4h.01M734.4 510.5h.01M734.5 535.1h.01M734.5 539.7h.01M734.5 533.1h.01M734.6 520.0h.01M734.6 527.7h.01M734.7 526.1h.01M734.7 534.5h.01M734.7 516.5h.01M734.7 521.1h.01M734.8 501.7h.01M734.8 531.6h.01M734.8 526.4h.01M734.8 536.0h.01M734.9 508.2h.01M734.9 497.0h.01M734.9 508.9h.01M734.9 476.9h.01M734.9 498.0h.01M734.9 532.8h.01M735.0 517.8h.01M735.0 488.8h.01M735.1 534.9h.01M735.1 479.9h.01M735.1 504.8h.01M735.1 528.9h.01M735.1 496.4h.01M735.2 521.7h.01M735.2 509.4h.01M735.2 516.3h.01M735.2 521.6h.01M735.3 516.7h.01M735.4 537.3h.01M735.4 536.9h.01M735.4 539.1h.01M735.4 534.4h.01M735.5 500.1h.01M735.5 533.5h.01M735.5 510.9h.01M735.5 528.8h.01M735.5 535.6h.01M735.5 532.9h.01M735.5 533.6h.01M735.5 530.7h.01M735.5 537.6h.01M735.6 523.9h.01M735.6 506.0h.01M735.6 535.7h.01M735.6 531.3h.01M735.6 525.0h.01M735.7 529.9h.01M735.7 511.3h.01M735.7 537.4h.01M735.7 537.7h.01M735.8 537.4h.01M735.8 536.6h.01M735.8 532.5h.01M735.9 517.2h.01M735.9 531.0h.01M735.9 522.1h.01M735.9 534.5h.01M736.0 510.6h.01M736.0 529.9h.01M736.1 517.2h.01M736.1 481.4h.01M736.1 534.5h.01M736.1 537.5h.01M736.1 511.7h.01M736.1 523.3h.01M736.2 516.0h.01M736.2 532.5h.01M736.3 496.5h.01M736.3 516.8h.01M736.3 526.4h.01M736.3 530.7h.01M736.4 517.2h.01M736.4 538.8h.01M736.4 477.7h.01M736.4 532.5h.01M736.4 530.4h.01M736.4 526.6h.01M736.4 509.7h.01M736.5 535.0h.01M736.5 511.1h.01M736.5 483.4h.01M736.5 533.1h.01M736.5 530.7h.01M736.5 535.9h.01M736.5 530.7h.01M736.6 536.5h.01M736.6 512.8h.01M736.6 524.0h.01M736.6 516.0h.01M736.7 520.0h.01M736.7 522.0h.01M736.7 513.3h.01M736.7 523.4h.01M736.7 536.1h.01M736.8 519.1h.01M736.8 519.1h.01M736.8 513.3h.01M736.8 483.6h.01M736.9 500.5h.01M736.9 513.5h.01M736.9 539.3h.01M736.9 533.5h.01M736.9 524.6h.01M736.9 506.5h.01M736.9 533.1h.01M736.9 515.5h.01M737.0 493.2h.01M737.0 521.7h.01M737.0 537.5h.01M737.0 526.2h.01M737.0 531.0h.01M737.0 491.9h.01M737.0 532.3h.01M737.1 537.9h.01M737.1 502.6h.01M737.1 510.5h.01M737.1 517.4h.01M737.1 535.8h.01M737.1 517.2h.01M737.1 507.9h.01M737.1 523.8h.01M737.2 516.4h.01M737.2 472.5h.01M737.2 534.2h.01M737.2 537.0h.01M737.2 521.4h.01M737.3 522.5h.01M737.3 529.9h.01M737.3 529.2h.01M737.3 528.8h.01M737.3 531.1h.01M737.3 529.0h.01M737.4 507.1h.01M737.4 539.5h.01M737.4 500.9h.01M737.4 520.6h.01M737.4 536.9h.01M737.4 523.3h.01M737.4 516.6h.01M737.4 501.3h.01M737.4 526.6h.01M737.5 487.0h.01M737.6 523.6h.01M737.6 501.1h.01M737.6 530.4h.01M737.6 534.1h.01M737.7 512.2h.01M737.7 500.7h.01M737.7 532.8h.01M737.7 532.1h.01M737.7 530.5h.01M737.8 535.6h.01M737.8 531.8h.01M737.8 495.2h.01M737.8 524.7h.01M737.8 533.1h.01M737.8 533.4h.01M737.8 527.3h.01M737.8 520.1h.01M737.9 513.6h.01M737.9 524.4h.01M738.0 519.3h.01M738.0 531.6h.01M738.0 535.9h.01M738.0 535.6h.01M738.0 530.9h.01M738.0 528.6h.01M738.1 493.9h.01M738.1 534.6h.01M738.1 539.7h.01M738.2 532.6h.01M738.2 502.6h.01M738.2 533.0h.01M738.2 530.1h.01M738.3 538.0h.01M738.3 524.4h.01M738.3 515.2h.01M738.3 525.9h.01M738.3 498.5h.01M738.3 523.3h.01M738.3 498.6h.01M738.4 480.0h.01M738.4 516.5h.01M738.4 494.3h.01M738.4 529.7h.01M738.4 443.4h.01M738.5 481.6h.01M738.5 517.4h.01M738.6 501.2h.01M738.7 526.5h.01M738.7 532.9h.01M738.7 525.3h.01M738.7 488.7h.01M738.7 515.9h.01M738.7 528.0h.01M738.7 506.1h.01M738.8 514.9h.01M738.8 534.5h.01M738.8 536.1h.01M738.9 509.9h.01M739.0 534.4h.01M739.0 513.9h.01M739.0 531.0h.01M739.0 537.8h.01M739.0 528.2h.01M739.1 523.9h.01M739.1 499.6h.01M739.1 532.2h.01M739.2 533.8h.01M739.2 533.3h.01M739.2 482.5h.01M739.3 525.6h.01M739.4 514.2h.01M739.4 529.9h.01M739.4 531.5h.01M739.4 537.8h.01M739.5 533.2h.01M739.5 530.0h.01M739.5 524.9h.01M739.6 508.6h.01M739.6 536.0h.01M739.7 516.2h.01M739.7 504.7h.01M739.8 526.0h.01M739.9 540.0h.01M739.9 534.9h.01M739.9 527.5h.01M740.0 535.1h.01M740.0 512.9h.01M740.1 537.6h.01M740.3 536.7h.01M740.3 516.2h.01M740.5 522.6h.01M740.7 525.5h.01M740.7 537.0h.01M740.7 539.2h.01M740.8 494.6h.01M740.8 519.5h.01M740.9 532.0h.01M740.9 531.7h.01M741.0 486.0h.01M741.1 537.1h.01M741.1 480.7h.01M741.2 537.3h.01M741.2 502.7h.01M741.2 484.5h.01M741.2 507.9h.01M741.3 496.9h.01M741.3 530.5h.01M741.4 488.5h.01M741.4 520.7h.01M741.4 523.6h.01M741.4 518.2h.01M741.5 533.7h.01M741.5 525.6h.01M741.5 524.6h.01M741.5 538.3h.01M741.6 539.9h.01M741.6 535.0h.01M741.7 530.5h.01M741.7 517.9h.01M741.8 538.5h.01M741.8 500.1h.01M741.9 519.2h.01M741.9 523.7h.01M742.0 532.1h.01M742.0 470.1h.01M742.1 495.5h.01M742.1 497.0h.01M742.1 468.6h.01M742.1 534.1h.01M742.2 538.2h.01M742.3 538.0h.01M742.3 527.5h.01M742.4 516.9h.01M742.4 533.1h.01M742.5 524.8h.01M742.5 502.1h.01M742.5 524.5h.01M742.6 538.1h.01M742.6 507.8h.01M742.6 534.5h.01M742.6 524.3h.01M742.7 529.1h.01M742.7 522.5h.01M742.7 507.7h.01M742.8 527.9h.01M742.8 525.3h.01M742.8 530.9h.01M742.8 511.8h.01M742.8 520.0h.01M742.9 533.1h.01M742.9 524.7h.01M742.9 535.7h.01M742.9 526.5h.01M742.9 527.9h.01M742.9 504.0h.01M742.9 521.9h.01M743.2 534.9h.01M743.3 511.8h.01M743.3 534.8h.01M743.4 540.6h.01M743.4 536.8h.01M743.4 535.7h.01M743.7 534.3h.01M743.8 527.4h.01M743.8 530.0h.01M744.0 531.7h.01M744.8 537.6h.01M744.8 511.3h.01M744.8 534.2h.01M744.9 540.0h.01M744.9 502.2h.01M745.2 533.3h.01M745.6 518.1h.01M745.8 526.9h.01M745.9 504.8h.01M746.5 518.9h.01M746.6 532.4h.01M746.6 512.4h.01M746.6 501.7h.01M746.6 505.0h.01M746.6 534.1h.01M746.6 537.2h.01M746.6 520.5h.01M746.7 535.9h.01M746.7 537.0h.01M746.7 524.9h.01M746.8 523.8h.01M746.8 495.4h.01M746.8 526.0h.01M746.8 530.8h.01M746.8 517.9h.01M746.8 525.1h.01M746.8 519.8h.01M746.8 477.4h.01M747.0 455.6h.01M747.0 485.0h.01M747.0 502.1h.01M747.0 538.8h.01M747.0 538.5h.01M747.0 527.0h.01M747.0 527.8h.01M747.0 527.9h.01M747.0 532.7h.01M747.0 515.7h.01M747.1 517.7h.01M747.1 520.6h.01M747.1 536.4h.01M747.1 521.1h.01M747.1 530.2h.01M747.1 535.2h.01M747.1 509.2h.01M747.1 444.6h.01M747.2 530.5h.01M747.2 528.2h.01M747.2 518.2h.01M747.3 521.8h.01M747.3 523.6h.01M747.3 518.8h.01M747.3 481.3h.01M747.3 506.6h.01M747.4 506.8h.01M747.4 530.6h.01M747.4 520.9h.01M747.4 529.2h.01M747.4 539.6h.01M747.4 533.1h.01M747.4 517.1h.01M747.4 538.5h.01M747.4 527.3h.01M747.5 527.6h.01M747.5 533.3h.01M747.5 539.3h.01M747.6 505.5h.01M747.6 480.8h.01M747.7 514.5h.01M747.7 503.7h.01M747.7 519.3h.01M747.8 510.5h.01M747.8 509.6h.01M747.8 501.0h.01M747.9 532.2h.01M747.9 532.9h.01M747.9 513.5h.01M747.9 539.5h.01M747.9 522.5h.01M748.0 522.2h.01M748.0 531.5h.01M748.0 533.1h.01M748.1 503.5h.01M748.1 538.0h.01M748.2 529.2h.01M748.2 535.4h.01M748.3 525.6h.01M748.3 540.8h.01M748.4 509.3h.01M748.4 501.4h.01M748.4 524.2h.01M748.4 496.9h.01M748.5 523.5h.01M748.5 517.5h.01M748.5 530.8h.01M748.5 532.0h.01M748.5 535.7h.01M748.5 511.4h.01M748.6 518.2h.01M748.6 522.1h.01M748.6 535.2h.01M748.6 520.1h.01M748.6 515.5h.01M748.6 523.8h.01M748.6 533.8h.01M748.7 517.6h.01M748.7 535.3h.01M748.7 501.0h.01M748.7 516.8h.01M748.7 507.5h.01M748.7 535.7h.01M748.7 529.8h.01M748.7 514.8h.01M748.7 519.2h.01M748.7 526.2h.01M748.7 535.8h.01M748.8 533.8h.01M748.8 521.6h.01M748.8 457.7h.01M748.8 494.2h.01M748.8 520.4h.01M748.8 510.4h.01M748.8 515.3h.01M748.8 540.2h.01M748.8 536.2h.01M748.8 529.0h.01M748.8 535.8h.01M748.8 522.0h.01M748.8 526.9h.01M748.9 518.3h.01M748.9 517.4h.01M748.9 517.0h.01M748.9 533.6h.01M748.9 531.7h.01M748.9 507.2h.01M748.9 511.7h.01M748.9 528.3h.01M748.9 533.6h.01M748.9 532.7h.01M748.9 518.6h.01M748.9 512.4h.01M748.9 537.4h.01M749.0 515.8h.01M749.0 505.1h.01M749.0 517.5h.01M749.0 528.0h.01M749.0 507.8h.01M749.0 535.2h.01M749.0 510.1h.01M749.0 506.0h.01M749.0 503.5h.01M749.0 527.0h.01M749.0 525.4h.01M749.1 520.9h.01M749.1 535.8h.01M749.1 517.6h.01M749.1 536.2h.01M749.1 533.1h.01M749.1 536.7h.01M749.1 514.2h.01M749.1 528.7h.01M749.2 536.4h.01M749.2 530.8h.01M749.2 454.4h.01M749.2 528.1h.01M749.2 538.2h.01M749.2 528.8h.01M749.2 523.6h.01M749.2 527.0h.01M749.2 529.8h.01M749.2 530.5h.01M749.2 507.4h.01M749.2 524.7h.01M749.2 520.2h.01M749.2 489.1h.01M749.2 512.5h.01M749.2 523.4h.01M749.2 529.3h.01M749.3 504.5h.01M749.3 523.1h.01M749.3 535.6h.01M749.3 498.7h.01M749.3 522.7h.01M749.3 494.3h.01M749.3 532.6h.01M749.3 507.6h.01M749.3 509.6h.01M749.3 531.6h.01M749.3 522.7h.01M749.3 526.5h.01M749.3 535.7h.01M749.4 537.4h.01M749.4 514.9h.01M749.4 478.0h.01M749.4 525.4h.01M749.4 531.9h.01M749.4 531.9h.01M749.4 539.0h.01M749.5 520.4h.01M749.5 505.6h.01M749.5 536.6h.01M749.5 536.7h.01M749.5 525.3h.01M749.5 529.7h.01M749.5 512.4h.01M749.5 537.4h.01M749.5 539.1h.01M749.5 509.3h.01M749.5 526.7h.01M749.6 504.9h.01M749.6 537.4h.01M749.6 539.0h.01M749.7 537.0h.01M749.7 531.1h.01M749.7 520.9h.01M749.7 529.2h.01M749.7 515.7h.01M749.8 511.0h.01M749.8 533.8h.01M749.8 528.1h.01M749.8 534.7h.01M749.8 526.6h.01M749.8 491.6h.01M749.8 519.6h.01M749.8 537.9h.01M749.8 523.7h.01M749.9 529.9h.01M749.9 524.9h.01M749.9 520.6h.01M749.9 516.3h.01M749.9 532.8h.01M750.0 534.9h.01M750.0 522.8h.01M750.0 529.8h.01M750.0 505.2h.01M750.1 504.2h.01M750.1 496.8h.01M750.1 485.9h.01M750.2 444.7h.01M750.2 464.5h.01M750.2 504.7h.01M750.2 479.0h.01M750.2 477.3h.01M750.2 491.3h.01M750.3 527.1h.01M750.3 513.7h.01M750.4 538.4h.01M750.4 491.9h.01M750.4 521.7h.01M750.4 518.6h.01M750.4 535.6h.01M750.4 520.5h.01M750.4 511.4h.01M750.4 503.0h.01M750.4 497.9h.01M750.4 536.5h.01M750.4 534.9h.01M750.5 508.0h.01M750.5 538.5h.01M750.5 528.8h.01M750.6 529.0h.01M750.6 526.6h.01M750.6 534.5h.01M750.6 531.1h.01M750.6 519.7h.01M750.7 535.0h.01M750.7 529.8h.01M750.7 523.6h.01M750.7 536.5h.01M750.8 535.7h.01M750.8 526.4h.01M750.8 536.7h.01M750.8 505.7h.01M750.8 532.4h.01M750.8 525.7h.01M750.9 525.1h.01M750.9 526.2h.01M750.9 531.4h.01M750.9 510.9h.01M750.9 536.0h.01M750.9 481.0h.01M750.9 527.0h.01M750.9 521.4h.01M751.0 530.6h.01M751.0 522.2h.01M751.0 503.6h.01M751.1 538.1h.01M751.1 525.6h.01M751.1 508.8h.01M751.1 537.3h.01M751.1 527.6h.01M751.1 516.5h.01M751.1 527.5h.01M751.2 520.9h.01M751.2 511.0h.01M751.2 517.4h.01M751.3 517.0h.01M751.3 528.4h.01M751.4 525.2h.01M751.5 499.1h.01M751.5 539.4h.01M751.5 533.8h.01M751.5 535.9h.01M751.5 533.7h.01M751.5 524.6h.01M751.6 523.3h.01M751.6 527.3h.01M751.6 530.5h.01M751.7 515.2h.01M751.7 532.1h.01M751.7 534.5h.01M751.7 496.5h.01M751.8 527.1h.01M751.9 522.9h.01M751.9 510.6h.01M752.0 516.0h.01M752.0 533.1h.01M752.0 486.1h.01M752.0 481.6h.01M752.1 492.7h.01M752.1 453.1h.01M752.1 493.5h.01M752.1 444.2h.01M752.2 456.7h.01M752.2 538.5h.01M752.2 536.9h.01M752.3 524.3h.01M752.3 506.6h.01M752.4 535.7h.01M752.4 532.4h.01M752.4 520.6h.01M752.4 518.0h.01M752.4 529.2h.01M752.4 536.8h.01M752.4 534.0h.01M752.5 506.6h.01M752.5 511.3h.01M752.5 532.0h.01M752.5 531.1h.01M752.6 498.7h.01M752.6 530.9h.01M752.6 528.7h.01M752.6 496.8h.01M752.6 535.4h.01M752.6 509.4h.01M752.6 470.9h.01M752.7 526.1h.01M752.7 528.4h.01M752.7 540.0h.01M752.7 507.3h.01M752.7 505.5h.01M752.8 500.2h.01M752.8 529.4h.01M752.8 523.7h.01M752.8 513.3h.01M752.8 535.2h.01M752.8 532.9h.01M752.8 517.6h.01M752.8 510.0h.01M752.9 516.9h.01M752.9 521.6h.01M752.9 507.3h.01M752.9 525.2h.01M752.9 535.4h.01M753.0 537.4h.01M753.0 530.5h.01M753.0 525.8h.01M753.1 531.0h.01M753.1 514.8h.01M753.1 508.6h.01M753.1 519.1h.01M753.1 535.9h.01M753.1 522.9h.01M753.1 523.4h.01M753.2 537.8h.01M753.2 502.6h.01M753.2 488.6h.01M753.2 515.2h.01M753.2 529.2h.01M753.3 496.3h.01M753.3 505.9h.01M753.3 524.2h.01M753.3 519.5h.01M753.3 529.3h.01M753.3 489.9h.01M753.3 538.3h.01M753.3 505.9h.01M753.3 522.7h.01M753.3 525.5h.01M753.4 512.0h.01M753.4 515.2h.01M753.4 524.9h.01M753.4 537.6h.01M753.5 509.7h.01M753.5 536.7h.01M753.5 521.5h.01M753.5 536.5h.01M753.5 535.9h.01M753.5 522.7h.01M753.6 487.0h.01M753.6 513.4h.01M753.6 502.8h.01M753.7 523.5h.01M753.7 531.2h.01M753.8 540.4h.01M753.8 536.2h.01M753.8 530.8h.01M753.8 518.5h.01M753.8 530.1h.01M753.9 528.0h.01M753.9 520.2h.01M753.9 519.8h.01M753.9 522.6h.01M754.0 507.6h.01M754.0 507.0h.01M754.0 539.7h.01M754.0 512.5h.01M754.0 539.9h.01M754.0 484.1h.01M754.0 533.1h.01M754.0 508.8h.01M754.0 524.4h.01M754.0 513.2h.01M754.0 513.2h.01M754.1 500.8h.01M754.1 512.6h.01M754.1 535.8h.01M754.1 510.2h.01M754.1 503.1h.01M754.2 520.0h.01M754.2 529.2h.01M754.2 505.6h.01M754.2 528.4h.01M754.2 487.8h.01M754.2 520.5h.01M754.2 531.1h.01M754.3 535.5h.01M754.4 497.6h.01M754.4 534.6h.01M754.4 526.2h.01M754.4 523.8h.01M754.4 523.1h.01M754.5 539.0h.01M754.5 536.1h.01M754.5 535.9h.01M754.5 524.4h.01M754.5 527.1h.01M754.5 526.8h.01M754.6 529.6h.01M754.6 491.9h.01M754.6 536.6h.01M754.6 486.8h.01M754.6 535.2h.01M754.6 534.8h.01M754.6 532.3h.01M754.7 507.8h.01M754.7 529.7h.01M754.7 536.4h.01M754.7 503.0h.01M754.7 532.5h.01M754.7 521.8h.01M754.7 536.6h.01M754.7 528.0h.01M754.8 533.6h.01M754.8 511.5h.01M754.8 517.6h.01M754.8 535.9h.01M754.8 483.8h.01M754.8 511.4h.01M754.9 504.9h.01M754.9 525.6h.01M754.9 493.1h.01M754.9 521.3h.01M754.9 495.0h.01M754.9 527.1h.01M754.9 536.6h.01M754.9 512.3h.01M754.9 509.8h.01M755.0 518.0h.01M755.0 522.6h.01M755.0 521.3h.01M755.0 501.7h.01M755.0 511.9h.01M755.0 523.0h.01M755.0 538.2h.01M755.0 510.1h.01M755.0 539.5h.01M755.0 534.3h.01M755.1 534.0h.01M755.1 531.9h.01M755.1 476.5h.01M755.1 523.3h.01M755.1 532.6h.01M755.1 532.4h.01M755.1 503.5h.01M755.2 526.1h.01M755.2 534.1h.01M755.2 529.7h.01M755.2 538.3h.01M755.2 502.9h.01M755.3 525.2h.01M755.3 527.8h.01M755.3 536.3h.01M755.3 515.5h.01M755.3 532.8h.01M755.3 502.8h.01M755.3 531.1h.01M755.3 489.4h.01M755.3 479.1h.01M755.3 482.8h.01M755.3 463.3h.01M755.4 459.4h.01M755.4 448.5h.01M755.4 461.5h.01M755.4 480.3h.01M755.4 478.8h.01M755.4 487.2h.01M755.4 475.4h.01M755.5 536.7h.01M755.5 509.2h.01M755.5 505.0h.01M755.5 532.4h.01M755.5 530.9h.01M755.5 449.6h.01M755.5 503.0h.01M755.5 535.4h.01M755.6 526.7h.01M755.6 527.6h.01M783.8 529.0h.01M783.8 538.5h.01M783.4 536.5h.01M784.9 528.1h.01M784.9 536.9h.01M784.6 521.2h.01M784.1 525.5h.01M785.4 522.3h.01M785.4 529.9h.01M785.9 533.9h.01M785.5 527.9h.01M785.3 531.7h.01M785.8 521.4h.01M785.6 522.3h.01M786.2 532.3h.01M787.2 526.8h.01M787.5 529.6h.01M787.3 539.6h.01M787.5 530.7h.01M787.0 537.1h.01M787.3 526.2h.01M788.0 540.5h.01M788.2 538.9h.01M789.3 536.7h.01M789.8 540.4h.01M789.9 535.4h.01M789.8 521.8h.01M789.6 532.2h.01M789.5 535.8h.01M790.4 539.0h.01M790.2 535.8h.01M790.3 524.9h.01M791.8 530.4h.01M791.3 533.6h.01M791.3 528.7h.01M792.9 533.4h.01M792.6 530.1h.01M792.3 531.1h.01M794.9 539.4h.01M794.9 526.6h.01M794.9 528.9h.01M794.2 535.1h.01M795.5 540.0h.01M795.0 521.0h.01M795.4 531.4h.01M795.3 537.5h.01M795.1 526.8h.01M795.7 526.4h.01M796.9 522.4h.01M796.6 523.6h.01M796.9 537.9h.01M797.0 523.0h.01M796.3 534.6h.01M797.9 540.6h.01M797.4 540.8h.01M798.8 537.4h.01M798.5 534.0h.01M798.2 522.1h.01M798.7 522.4h.01M798.4 527.3h.01M799.0 521.7h.01M798.1 528.3h.01M798.9 537.3h.01M798.1 540.1h.01M783.1 527.3h.01M783.2 503.2h.01M783.2 538.7h.01M783.2 518.4h.01M783.4 536.2h.01M783.4 485.8h.01M783.5 531.4h.01M783.5 529.7h.01M783.6 515.7h.01M783.8 526.2h.01M783.9 531.4h.01M784.0 514.8h.01M784.0 531.2h.01M784.0 536.9h.01M784.0 532.3h.01M784.1 532.9h.01M784.2 540.1h.01M784.2 503.3h.01M784.2 505.5h.01M784.2 526.5h.01M784.4 523.2h.01M784.4 515.9h.01M784.5 535.2h.01M784.5 529.6h.01M784.5 539.3h.01M784.6 523.2h.01M784.6 513.5h.01M784.6 520.2h.01M784.6 487.1h.01M784.7 524.0h.01M784.7 530.6h.01M784.8 516.7h.01M784.8 511.6h.01M784.8 526.7h.01M784.9 510.5h.01M784.9 504.3h.01M784.9 516.1h.01M784.9 503.2h.01M785.0 515.3h.01M785.0 526.4h.01M785.1 537.5h.01M785.4 522.2h.01M785.5 522.6h.01M785.6 488.3h.01M785.6 531.1h.01M785.6 531.8h.01M785.7 528.2h.01M785.7 484.4h.01M785.7 493.7h.01M785.9 533.4h.01M786.0 534.6h.01M786.1 512.4h.01M786.1 527.9h.01M786.2 525.6h.01M786.3 538.1h.01M786.4 501.3h.01M786.5 496.7h.01M786.5 525.6h.01M786.6 538.5h.01M786.6 537.8h.01M786.7 492.3h.01M786.8 514.3h.01M786.8 519.1h.01M786.9 529.8h.01M786.9 529.3h.01M787.0 521.5h.01M787.1 531.7h.01M787.2 498.4h.01M787.2 511.6h.01M787.2 503.4h.01M787.3 518.3h.01M787.3 524.4h.01M787.4 505.7h.01M787.4 510.9h.01M787.5 521.3h.01M787.5 500.7h.01M787.8 534.7h.01M788.1 526.4h.01M788.1 508.2h.01M788.2 518.1h.01M788.2 506.2h.01M788.3 528.8h.01M788.3 536.3h.01M788.4 519.9h.01M788.5 533.4h.01M788.6 510.0h.01M788.6 529.8h.01M788.6 534.4h.01M788.6 526.2h.01M788.7 515.2h.01M788.7 539.9h.01M788.8 534.5h.01M788.8 534.8h.01M788.9 517.7h.01M788.9 520.5h.01M789.0 511.1h.01M789.0 535.3h.01M789.0 517.4h.01M789.0 521.6h.01M789.1 522.7h.01M789.1 486.8h.01M789.2 540.3h.01M789.3 530.5h.01M789.3 526.9h.01M789.3 492.6h.01M789.4 529.3h.01M789.4 487.4h.01M789.4 535.3h.01M789.5 536.5h.01M789.5 497.7h.01M789.5 538.1h.01M789.5 509.6h.01M789.6 535.6h.01M789.6 497.6h.01M789.6 506.7h.01M789.6 534.0h.01M789.6 535.6h.01M789.7 529.3h.01M789.7 538.3h.01M789.7 520.5h.01M789.8 521.8h.01M789.8 515.7h.01M789.8 515.3h.01M789.8 514.2h.01M789.9 504.6h.01M789.9 498.1h.01M789.9 540.1h.01M789.9 527.5h.01M790.0 532.4h.01M790.0 534.3h.01M790.1 520.5h.01M790.1 536.3h.01M790.1 529.9h.01M790.1 516.4h.01M790.2 501.9h.01M790.3 442.2h.01M790.4 478.2h.01M790.4 500.3h.01M790.4 468.4h.01M790.5 474.9h.01M790.6 532.0h.01M790.7 531.2h.01M790.8 534.3h.01M790.9 522.7h.01M791.0 528.1h.01M791.0 515.8h.01M791.1 539.9h.01M791.1 526.5h.01M791.2 509.1h.01M791.2 537.3h.01M791.2 534.2h.01M791.4 527.4h.01M791.7 520.9h.01M791.7 519.9h.01M791.7 511.1h.01M791.8 517.5h.01M791.8 526.8h.01M791.9 532.4h.01M792.0 520.0h.01M792.0 524.6h.01M792.0 528.4h.01M792.1 509.4h.01M792.3 520.5h.01M792.6 529.1h.01M792.6 539.5h.01M792.6 526.0h.01M792.6 489.5h.01M792.6 535.0h.01M792.7 514.3h.01M792.7 527.8h.01M792.7 530.8h.01M792.8 482.8h.01M792.9 522.8h.01M792.9 527.4h.01M792.9 529.6h.01M793.3 504.7h.01M793.4 526.2h.01M793.5 533.4h.01M793.5 532.9h.01M793.5 536.4h.01M793.6 528.9h.01M793.6 518.6h.01M793.7 537.0h.01M793.8 528.0h.01M793.8 531.6h.01M793.8 504.3h.01M793.9 493.5h.01M793.9 521.8h.01M794.1 529.2h.01M794.2 531.8h.01M794.2 535.1h.01M794.3 531.1h.01M794.3 529.4h.01M794.4 530.1h.01M794.4 532.5h.01M794.8 519.4h.01M794.8 524.5h.01M794.8 525.4h.01M794.9 518.6h.01M795.0 519.3h.01M795.1 538.3h.01M795.2 525.8h.01M795.2 512.3h.01M795.2 517.1h.01M795.3 518.4h.01M795.3 531.0h.01M795.3 537.7h.01M795.4 514.2h.01M795.4 532.8h.01M795.4 532.2h.01M795.5 535.8h.01M795.5 530.3h.01M795.5 535.3h.01M795.5 512.3h.01M795.5 520.3h.01M795.5 513.8h.01M795.6 534.0h.01M795.6 518.8h.01M795.6 533.2h.01M795.7 526.9h.01M795.9 507.5h.01M795.9 523.8h.01M795.9 536.6h.01M795.9 522.6h.01M795.9 528.7h.01M795.9 529.5h.01M795.9 529.9h.01M796.1 524.2h.01M796.3 522.6h.01M796.4 497.4h.01M796.5 526.8h.01M796.5 524.0h.01M796.6 527.1h.01M796.9 522.3h.01M797.1 522.0h.01M797.1 497.7h.01M797.1 530.8h.01M797.3 526.0h.01M797.5 521.2h.01M797.5 531.1h.01M797.5 527.9h.01M797.6 529.8h.01M797.7 516.8h.01M797.7 537.3h.01M797.9 529.8h.01M797.9 473.5h.01M798.0 527.9h.01M798.1 534.0h.01M798.1 522.0h.01M798.1 527.9h.01M798.2 529.5h.01M798.2 529.8h.01M798.2 537.3h.01M798.2 532.6h.01M798.3 521.2h.01M798.3 517.6h.01M798.3 526.8h.01M798.3 509.4h.01M798.3 521.7h.01M798.3 536.9h.01M798.3 483.1h.01M798.3 509.2h.01M798.3 526.6h.01M798.4 540.9h.01M798.4 525.4h.01M798.4 531.0h.01M798.5 525.7h.01M798.5 527.7h.01M798.5 539.2h.01M798.5 511.7h.01M798.5 516.1h.01M798.6 527.8h.01M798.7 537.1h.01M798.7 532.4h.01M798.8 534.3h.01M798.8 528.4h.01M798.8 491.9h.01M798.8 523.2h.01M798.9 480.0h.01M798.9 507.5h.01M798.9 534.8h.01M798.9 489.3h.01M799.0 533.9h.01M799.0 538.3h.01M820.8 524.6h.01M821.4 540.8h.01M821.6 529.3h.01M821.9 531.8h.01M822.3 540.8h.01M822.1 540.2h.01M821.8 538.9h.01M822.5 524.6h.01M821.8 529.6h.01M821.9 530.5h.01M822.8 527.7h.01M822.7 523.7h.01M822.8 540.6h.01M824.3 528.5h.01M824.6 520.9h.01M823.8 540.6h.01M824.0 532.4h.01M823.8 537.8h.01M824.2 537.4h.01M824.3 525.2h.01M825.0 521.3h.01M825.6 532.7h.01M827.2 533.4h.01M827.2 529.8h.01M827.6 539.4h.01M827.5 532.2h.01M826.7 531.1h.01M828.0 528.2h.01M828.0 531.8h.01M828.6 532.4h.01M829.6 528.7h.01M829.5 536.7h.01M828.8 527.6h.01M830.7 525.5h.01M829.9 520.7h.01M830.4 530.9h.01M829.8 541.0h.01M830.0 540.5h.01M831.4 529.9h.01M830.9 534.0h.01M831.6 521.4h.01M832.6 524.1h.01M832.2 522.2h.01M831.8 540.3h.01M831.9 538.8h.01M832.9 531.7h.01M833.1 533.2h.01M833.8 528.4h.01M834.4 522.6h.01M834.7 533.1h.01M834.2 541.0h.01M835.0 529.5h.01M835.3 522.9h.01M835.6 536.6h.01M835.4 532.8h.01M835.1 524.5h.01M835.7 529.7h.01M834.9 525.0h.01M835.4 525.3h.01M835.2 535.7h.01M820.7 521.5h.01M820.7 511.2h.01M820.7 536.3h.01M820.8 496.0h.01M820.8 492.9h.01M820.8 509.3h.01M820.9 506.7h.01M820.9 496.8h.01M820.9 504.6h.01M820.9 459.9h.01M820.9 497.5h.01M820.9 459.7h.01M821.0 522.4h.01M821.0 517.4h.01M821.0 499.2h.01M821.0 529.2h.01M821.0 527.8h.01M821.1 525.8h.01M821.1 519.5h.01M821.1 498.9h.01M821.1 526.1h.01M821.1 539.3h.01M821.1 502.6h.01M821.1 527.9h.01M821.1 485.3h.01M821.2 534.3h.01M821.2 540.1h.01M821.2 537.3h.01M821.2 524.5h.01M821.2 514.4h.01M821.2 493.5h.01M821.3 485.5h.01M821.3 520.3h.01M821.3 513.4h.01M821.3 478.8h.01M821.3 528.0h.01M821.4 523.1h.01M821.4 537.6h.01M821.4 516.9h.01M821.4 468.6h.01M821.4 511.5h.01M821.4 531.2h.01M821.4 531.4h.01M821.5 531.0h.01M821.5 484.9h.01M821.5 511.4h.01M821.5 533.3h.01M821.5 510.9h.01M821.6 536.0h.01M821.6 539.4h.01M821.6 525.5h.01M821.6 510.1h.01M821.6 534.4h.01M821.6 532.4h.01M821.7 490.6h.01M821.7 507.9h.01M821.7 518.3h.01M821.7 511.9h.01M821.7 540.4h.01M821.7 523.3h.01M821.8 523.3h.01M821.9 537.6h.01M822.0 521.6h.01M822.0 519.5h.01M822.0 524.7h.01M822.0 526.0h.01M822.1 525.3h.01M822.1 532.0h.01M822.2 536.4h.01M822.2 511.0h.01M822.2 521.8h.01M822.2 538.8h.01M822.3 526.6h.01M822.3 536.5h.01M822.4 517.6h.01M822.4 515.8h.01M822.5 528.6h.01M822.5 532.8h.01M822.5 530.2h.01M822.5 528.0h.01M822.5 506.5h.01M822.7 524.9h.01M822.7 523.9h.01M822.7 526.2h.01M822.8 527.8h.01M822.8 534.8h.01M822.8 537.1h.01M822.8 538.4h.01M822.8 527.5h.01M822.8 517.5h.01M822.9 536.2h.01M822.9 506.1h.01M822.9 530.7h.01M823.0 518.4h.01M823.0 539.2h.01M823.0 538.9h.01M823.0 533.2h.01M823.1 530.4h.01M823.1 537.9h.01M823.1 524.7h.01M823.2 528.3h.01M823.2 526.1h.01M823.2 528.1h.01M823.3 521.8h.01M823.3 527.2h.01M823.4 539.6h.01M823.4 534.6h.01M823.4 513.7h.01M823.4 515.4h.01M823.4 517.9h.01M823.4 526.2h.01M823.5 531.8h.01M823.6 530.1h.01M823.7 526.9h.01M823.8 506.7h.01M823.8 526.2h.01M823.8 532.5h.01M823.8 535.3h.01M823.9 520.2h.01M823.9 490.3h.01M824.0 520.3h.01M824.1 516.5h.01M824.1 500.6h.01M824.2 500.4h.01M824.2 522.0h.01M824.2 528.8h.01M824.2 519.4h.01M824.2 521.4h.01M824.3 521.2h.01M824.3 530.5h.01M824.3 536.6h.01M824.3 527.8h.01M824.4 518.3h.01M824.4 525.5h.01M824.4 522.9h.01M824.4 490.7h.01M824.5 533.1h.01M824.5 531.2h.01M824.5 526.6h.01M824.5 523.8h.01M824.5 511.0h.01M824.6 528.7h.01M824.6 529.9h.01M824.7 529.4h.01M824.8 537.5h.01M824.8 517.8h.01M824.9 522.4h.01M824.9 531.8h.01M824.9 515.8h.01M824.9 528.8h.01M825.0 529.3h.01M825.0 521.6h.01M825.0 538.6h.01M825.1 536.6h.01M825.1 538.9h.01M825.1 533.5h.01M825.1 504.3h.01M825.1 532.2h.01M825.1 534.3h.01M825.1 536.8h.01M825.2 537.9h.01M825.2 513.6h.01M825.2 484.1h.01M825.2 535.1h.01M825.2 536.3h.01M825.3 488.4h.01M825.4 499.1h.01M825.4 492.3h.01M825.5 488.5h.01M825.6 488.0h.01M825.7 448.2h.01M825.7 448.0h.01M825.7 482.2h.01M825.7 485.3h.01M825.7 498.7h.01M825.8 488.2h.01M825.8 495.4h.01M825.8 473.8h.01M825.8 475.0h.01M825.8 488.5h.01M825.9 487.0h.01M825.9 458.3h.01M825.9 450.3h.01M825.9 492.8h.01M825.9 484.3h.01M826.0 473.3h.01M826.0 480.1h.01M826.0 488.9h.01M826.0 486.0h.01M826.0 482.4h.01M826.0 498.8h.01M826.0 531.5h.01M826.1 537.2h.01M826.1 530.0h.01M826.1 521.4h.01M826.1 521.2h.01M826.2 529.1h.01M826.2 530.8h.01M826.2 490.1h.01M826.2 539.5h.01M826.2 518.3h.01M826.2 492.7h.01M826.2 511.3h.01M826.2 522.2h.01M826.3 532.1h.01M826.3 506.7h.01M826.3 539.0h.01M826.3 514.2h.01M826.3 522.4h.01M826.3 516.9h.01M826.4 527.0h.01M826.4 530.3h.01M826.4 522.8h.01M826.4 527.4h.01M826.4 511.3h.01M826.5 533.5h.01M826.5 534.8h.01M826.5 524.8h.01M826.5 442.6h.01M826.6 530.0h.01M826.6 523.3h.01M826.6 530.2h.01M826.6 523.4h.01M826.6 538.3h.01M826.6 516.5h.01M826.6 526.9h.01M826.6 514.3h.01M826.6 519.7h.01M826.6 528.2h.01M826.7 538.9h.01M826.7 519.5h.01M826.7 513.5h.01M826.7 502.3h.01M826.7 531.7h.01M826.7 507.1h.01M826.8 481.2h.01M826.8 534.7h.01M826.8 532.2h.01M826.8 459.6h.01M826.8 523.0h.01M826.8 536.2h.01M826.8 524.7h.01M826.9 522.7h.01M826.9 534.6h.01M826.9 515.2h.01M826.9 504.3h.01M827.0 539.9h.01M827.0 522.1h.01M827.0 526.0h.01M827.0 528.5h.01M827.1 530.3h.01M827.1 493.8h.01M827.1 504.7h.01M827.2 488.4h.01M827.2 487.3h.01M827.2 474.1h.01M827.2 503.3h.01M827.2 489.5h.01M827.2 476.1h.01M827.3 503.2h.01M827.3 481.9h.01M827.3 510.8h.01M827.3 506.3h.01M827.3 514.3h.01M827.4 512.5h.01M827.4 503.8h.01M827.4 448.3h.01M827.4 513.7h.01M827.4 510.2h.01M827.4 485.5h.01M827.4 499.4h.01M827.4 536.2h.01M827.5 527.8h.01M827.5 511.8h.01M827.5 533.4h.01M827.6 534.4h.01M827.6 539.5h.01M827.6 509.8h.01M827.7 529.4h.01M827.7 524.4h.01M827.7 516.5h.01M827.7 515.5h.01M827.8 522.3h.01M827.8 521.2h.01M827.8 489.1h.01M827.8 532.7h.01M827.8 528.1h.01M827.8 516.9h.01M827.8 513.9h.01M827.9 520.6h.01M827.9 523.7h.01M827.9 538.9h.01M827.9 530.5h.01M827.9 535.3h.01M828.0 531.1h.01M828.0 527.7h.01M828.0 528.5h.01M828.0 519.0h.01M828.0 517.9h.01M828.0 525.5h.01M828.0 533.4h.01M828.0 502.7h.01M828.1 505.7h.01M828.1 528.4h.01M828.1 528.8h.01M828.1 524.7h.01M828.1 512.1h.01M828.1 534.9h.01M828.2 491.9h.01M828.2 528.8h.01M828.2 524.5h.01M828.2 538.9h.01M828.2 516.2h.01M828.3 538.1h.01M828.3 526.5h.01M828.3 531.4h.01M828.3 526.3h.01M828.3 526.6h.01M828.3 492.9h.01M828.3 518.5h.01M828.3 518.1h.01M828.3 526.2h.01M828.4 518.3h.01M828.4 526.5h.01M828.4 498.1h.01M828.4 517.1h.01M828.4 527.1h.01M828.5 537.9h.01M828.5 503.2h.01M828.5 538.3h.01M828.5 538.3h.01M828.5 521.9h.01M828.5 530.1h.01M828.5 532.1h.01M828.5 535.0h.01M828.5 530.7h.01M828.5 538.0h.01M828.6 503.7h.01M828.6 522.1h.01M828.6 494.5h.01M828.6 532.5h.01M828.6 539.9h.01M828.6 532.8h.01M828.6 529.4h.01M828.6 532.7h.01M828.7 539.8h.01M828.7 507.7h.01M828.7 525.2h.01M828.7 530.2h.01M828.7 538.9h.01M828.7 521.9h.01M828.8 536.6h.01M828.8 522.8h.01M828.8 511.6h.01M828.8 522.8h.01M828.9 538.9h.01M828.9 454.5h.01M829.0 532.1h.01M829.0 531.9h.01M829.1 527.4h.01M829.1 539.0h.01M829.1 536.0h.01M829.1 524.9h.01M829.2 535.4h.01M829.2 511.2h.01M829.2 521.9h.01M829.3 516.6h.01M829.4 538.8h.01M829.4 535.4h.01M829.4 533.6h.01M829.4 525.2h.01M829.5 519.6h.01M829.5 537.5h.01M829.5 516.9h.01M829.5 498.1h.01M829.6 531.0h.01M829.6 537.3h.01M829.6 515.4h.01M829.6 527.0h.01M829.7 503.6h.01M829.7 490.0h.01M829.7 444.4h.01M829.7 496.5h.01M829.8 506.4h.01M829.8 483.2h.01M829.8 472.4h.01M829.9 526.7h.01M829.9 529.9h.01M829.9 527.4h.01M829.9 530.9h.01M829.9 538.8h.01M829.9 516.5h.01M830.0 540.5h.01M830.0 526.6h.01M830.0 495.3h.01M830.0 509.5h.01M830.0 532.0h.01M830.1 539.0h.01M830.1 531.3h.01M830.1 491.8h.01M830.2 531.8h.01M830.2 531.6h.01M830.3 520.8h.01M830.4 537.9h.01M830.4 527.9h.01M830.4 536.0h.01M830.5 520.2h.01M830.5 464.2h.01M830.5 535.4h.01M830.5 509.7h.01M830.6 525.9h.01M830.6 516.1h.01M830.6 513.3h.01M830.7 527.9h.01M830.7 524.7h.01M830.7 531.3h.01M830.7 507.9h.01M830.8 507.2h.01M830.8 519.1h.01M830.8 526.6h.01M830.9 536.0h.01M830.9 525.3h.01M830.9 475.0h.01M830.9 534.5h.01M830.9 540.0h.01M830.9 517.5h.01M830.9 526.2h.01M830.9 511.1h.01M830.9 537.5h.01M830.9 447.7h.01M830.9 517.5h.01M831.0 524.9h.01M831.0 521.6h.01M831.0 536.6h.01M831.0 466.6h.01M831.0 519.0h.01M831.0 531.3h.01M831.0 525.9h.01M831.0 538.9h.01M831.1 516.7h.01M831.1 520.6h.01M831.1 535.9h.01M831.2 525.8h.01M831.2 532.6h.01M831.2 527.8h.01M831.2 536.9h.01M831.2 534.7h.01M831.2 536.8h.01M831.2 503.4h.01M831.3 504.1h.01M831.3 524.2h.01M831.3 513.6h.01M831.3 510.9h.01M831.3 452.3h.01M831.4 511.3h.01M831.4 500.5h.01M831.4 516.0h.01M831.4 502.3h.01M831.4 525.4h.01M831.4 517.2h.01M831.5 531.7h.01M831.5 536.2h.01M831.5 510.5h.01M831.5 526.7h.01M831.5 539.5h.01M831.5 522.4h.01M831.5 531.1h.01M831.5 539.3h.01M831.6 533.1h.01M831.6 539.2h.01M831.6 526.9h.01M831.6 539.8h.01M831.6 514.4h.01M831.6 532.3h.01M831.6 533.1h.01M831.6 476.4h.01M831.6 505.2h.01M831.7 509.6h.01M831.7 518.5h.01M831.7 503.5h.01M831.7 521.2h.01M831.7 523.8h.01M831.7 535.6h.01M831.8 522.6h.01M831.8 531.4h.01M831.8 508.5h.01M831.8 477.9h.01M831.9 516.3h.01M832.0 529.0h.01M832.0 538.5h.01M832.0 524.3h.01M832.0 529.6h.01M832.1 529.8h.01M832.1 517.7h.01M832.2 522.8h.01M832.2 522.1h.01M832.2 499.4h.01M832.2 529.7h.01M832.3 527.6h.01M832.3 533.2h.01M832.4 525.4h.01M832.4 456.4h.01M832.4 485.3h.01M832.4 480.3h.01M832.4 482.0h.01M832.6 457.0h.01M832.7 490.5h.01M832.7 486.2h.01M832.7 488.6h.01M832.8 488.9h.01M832.8 475.7h.01M832.8 486.1h.01M832.9 489.0h.01M832.9 478.8h.01M832.9 484.2h.01M832.9 487.9h.01M833.0 507.9h.01M833.1 537.4h.01M833.2 537.6h.01M833.2 537.8h.01M833.3 504.2h.01M833.4 526.2h.01M833.4 451.1h.01M833.5 537.8h.01M833.5 493.5h.01M833.6 521.0h.01M833.6 537.5h.01M833.6 536.9h.01M833.6 529.0h.01M833.6 510.4h.01M833.6 538.4h.01M833.7 537.1h.01M833.7 482.0h.01M833.7 506.0h.01M833.7 536.6h.01M833.7 532.9h.01M833.7 513.3h.01M833.8 526.1h.01M833.8 503.8h.01M833.8 534.8h.01M833.8 519.4h.01M833.8 535.1h.01M833.9 538.2h.01M833.9 526.5h.01M833.9 534.1h.01M833.9 524.4h.01M833.9 530.4h.01M833.9 538.6h.01M834.0 532.9h.01M834.0 536.5h.01M834.0 529.9h.01M834.0 512.7h.01M834.0 532.1h.01M834.0 534.9h.01M834.0 502.8h.01M834.0 516.6h.01M834.1 539.3h.01M834.2 526.8h.01M834.2 518.4h.01M834.2 534.8h.01M834.2 520.1h.01M834.2 525.2h.01M834.3 526.4h.01M834.3 509.6h.01M834.4 528.8h.01M834.4 533.6h.01M834.4 528.4h.01M834.4 528.9h.01M834.5 530.1h.01M834.5 518.0h.01M834.5 537.7h.01M834.5 528.0h.01M834.5 522.1h.01M834.6 539.0h.01M834.6 530.6h.01M834.6 519.5h.01M834.7 532.0h.01M834.7 540.2h.01M834.7 528.8h.01M834.8 537.0h.01M834.8 509.2h.01M834.9 522.4h.01M834.9 506.4h.01M834.9 537.3h.01M834.9 491.8h.01M835.1 519.7h.01M835.1 518.5h.01M835.2 539.9h.01M835.3 516.9h.01M835.3 523.3h.01M835.3 523.1h.01M835.3 529.9h.01M835.4 487.9h.01M835.4 534.7h.01M835.5 498.9h.01M835.5 534.2h.01M835.6 538.9h.01M835.6 537.4h.01M835.6 519.0h.01M835.6 535.4h.01M835.6 513.6h.01M835.6 516.6h.01M835.7 483.4h.01M835.7 526.7h.01M856.0 538.7h.01M855.9 530.3h.01M855.8 530.1h.01M855.4 523.1h.01M857.1 533.4h.01M856.3 540.2h.01M856.8 520.9h.01M856.7 522.2h.01M856.5 532.7h.01M856.7 528.4h.01M857.8 536.2h.01M857.8 526.6h.01M857.8 526.4h.01M857.3 529.2h.01M858.7 521.8h.01M858.1 522.2h.01M858.0 533.2h.01M858.1 521.6h.01M858.2 523.3h.01M858.9 538.6h.01M858.2 528.2h.01M858.7 526.7h.01M858.7 532.9h.01M858.1 521.5h.01M859.7 539.1h.01M859.5 537.2h.01M859.0 540.4h.01M859.9 525.7h.01M859.5 522.1h.01M859.5 524.0h.01M860.8 522.1h.01M860.2 524.6h.01M859.9 522.5h.01M860.5 527.3h.01M860.6 525.5h.01M860.4 521.8h.01M860.9 539.2h.01M861.4 533.8h.01M860.8 528.9h.01M863.2 529.8h.01M863.0 522.1h.01M862.9 525.6h.01M862.8 524.5h.01M855.3 536.3h.01M855.4 523.5h.01M855.5 537.0h.01M855.5 533.1h.01M855.5 514.3h.01M855.5 535.9h.01M855.6 511.6h.01M855.6 514.3h.01M855.6 512.9h.01M855.6 533.4h.01M855.6 481.9h.01M855.6 526.2h.01M855.7 533.0h.01M855.8 533.8h.01M855.8 502.1h.01M855.9 485.3h.01M856.0 525.1h.01M856.0 478.5h.01M856.0 505.9h.01M856.0 522.7h.01M856.0 500.6h.01M856.0 533.0h.01M856.0 529.6h.01M856.1 498.7h.01M856.1 491.8h.01M856.2 535.7h.01M856.2 536.5h.01M856.3 526.7h.01M856.3 499.9h.01M856.3 528.4h.01M856.3 532.2h.01M856.3 528.6h.01M856.3 528.6h.01M856.4 535.3h.01M856.4 535.2h.01M856.4 516.4h.01M856.4 532.8h.01M856.4 509.6h.01M856.5 518.4h.01M856.5 520.7h.01M856.5 538.9h.01M856.5 463.3h.01M856.5 538.2h.01M856.6 528.3h.01M856.6 539.5h.01M856.6 523.5h.01M856.6 529.6h.01M856.6 505.8h.01M856.7 539.2h.01M856.7 530.1h.01M856.7 507.9h.01M856.8 474.5h.01M856.8 450.4h.01M856.8 510.9h.01M856.9 501.8h.01M856.9 513.9h.01M856.9 503.8h.01M856.9 507.1h.01M856.9 515.9h.01M856.9 530.1h.01M857.0 516.3h.01M857.0 507.0h.01M857.0 522.0h.01M857.1 530.5h.01M857.1 501.1h.01M857.1 528.2h.01M857.1 496.9h.01M857.1 529.3h.01M857.1 473.7h.01M857.1 521.4h.01M857.2 539.6h.01M857.2 499.3h.01M857.2 518.0h.01M857.2 527.8h.01M857.2 517.4h.01M857.3 529.8h.01M857.3 533.8h.01M857.3 531.1h.01M857.3 515.7h.01M857.3 515.7h.01M857.3 526.7h.01M857.3 497.9h.01M857.3 536.5h.01M857.3 483.1h.01M857.3 497.4h.01M857.3 513.4h.01M857.4 528.6h.01M857.4 523.6h.01M857.4 531.3h.01M857.4 514.1h.01M857.4 503.1h.01M857.5 518.0h.01M857.5 498.3h.01M857.5 533.9h.01M857.5 502.5h.01M857.5 529.9h.01M857.6 535.3h.01M857.6 539.1h.01M857.6 487.9h.01M857.6 519.1h.01M857.6 490.3h.01M857.6 480.7h.01M857.6 527.6h.01M857.6 532.4h.01M857.6 524.7h.01M857.6 523.2h.01M857.7 517.0h.01M857.7 502.5h.01M857.7 496.6h.01M857.7 528.1h.01M857.7 510.2h.01M857.7 522.3h.01M857.8 488.3h.01M857.8 537.2h.01M857.8 529.0h.01M857.8 518.0h.01M857.8 515.5h.01M857.8 537.7h.01M857.8 524.6h.01M857.8 533.5h.01M857.9 536.9h.01M857.9 527.2h.01M857.9 523.6h.01M857.9 519.5h.01M857.9 522.4h.01M857.9 494.4h.01M857.9 538.5h.01M858.0 528.1h.01M858.0 523.7h.01M858.0 517.1h.01M858.0 528.7h.01M858.0 489.6h.01M858.0 465.2h.01M858.0 473.9h.01M858.0 529.3h.01M858.0 500.2h.01M858.0 533.6h.01M858.0 513.6h.01M858.1 521.7h.01M858.1 486.9h.01M858.1 526.4h.01M858.2 531.1h.01M858.2 526.1h.01M858.2 527.1h.01M858.2 527.2h.01M858.2 532.3h.01M858.2 533.2h.01M858.2 535.2h.01M858.2 496.9h.01M858.2 529.5h.01M858.2 519.5h.01M858.2 533.5h.01M858.2 484.4h.01M858.2 531.3h.01M858.2 531.2h.01M858.2 527.0h.01M858.3 538.1h.01M858.3 536.6h.01M858.3 523.0h.01M858.3 533.2h.01M858.3 532.5h.01M858.4 512.4h.01M858.4 529.1h.01M858.4 478.3h.01M858.4 502.0h.01M858.4 536.7h.01M858.4 539.2h.01M858.4 517.0h.01M858.4 510.4h.01M858.5 521.2h.01M858.5 473.3h.01M858.5 524.2h.01M858.5 509.7h.01M858.5 512.5h.01M858.5 498.2h.01M858.5 525.5h.01M858.5 535.9h.01M858.5 534.2h.01M858.6 532.0h.01M858.6 532.5h.01M858.6 489.6h.01M858.6 527.6h.01M858.7 500.0h.01M858.7 513.2h.01M858.7 502.2h.01M858.7 515.2h.01M858.7 519.1h.01M858.7 535.1h.01M858.7 480.6h.01M858.7 525.6h.01M858.7 511.5h.01M858.8 536.9h.01M858.8 526.8h.01M858.8 515.2h.01M858.8 509.6h.01M858.8 515.3h.01M858.8 537.0h.01M858.8 526.1h.01M858.8 526.1h.01M858.8 528.6h.01M858.8 495.9h.01M858.9 532.0h.01M858.9 507.0h.01M858.9 537.3h.01M858.9 514.4h.01M858.9 530.1h.01M858.9 531.8h.01M858.9 514.1h.01M858.9 522.5h.01M859.0 533.5h.01M859.0 523.1h.01M859.0 506.4h.01M859.0 524.2h.01M859.0 504.2h.01M859.0 514.6h.01M859.1 524.4h.01M859.1 520.0h.01M859.1 535.7h.01M859.1 532.0h.01M859.1 474.3h.01M859.2 517.2h.01M859.2 484.9h.01M859.2 503.2h.01M859.2 446.7h.01M859.2 528.6h.01M859.3 533.5h.01M859.3 515.2h.01M859.3 538.8h.01M859.3 524.9h.01M859.3 539.4h.01M859.3 488.1h.01M859.4 493.0h.01M859.4 525.3h.01M859.4 528.8h.01M859.5 522.9h.01M859.5 526.6h.01M859.5 523.2h.01M859.5 537.0h.01M859.6 528.5h.01M859.6 533.8h.01M859.6 471.7h.01M859.7 462.0h.01M859.8 534.0h.01M859.8 520.4h.01M859.8 531.2h.01M859.8 481.0h.01M859.8 524.6h.01M859.8 529.7h.01M859.9 531.0h.01M859.9 478.1h.01M860.0 488.8h.01M860.0 519.3h.01M860.0 489.9h.01M860.0 535.5h.01M860.0 518.1h.01M860.0 510.1h.01M860.0 539.4h.01M860.0 539.8h.01M860.1 536.6h.01M860.1 520.3h.01M860.2 530.4h.01M860.2 519.6h.01M860.2 516.3h.01M860.2 539.2h.01M860.2 503.6h.01M860.2 525.7h.01M860.2 518.0h.01M860.3 533.8h.01M860.3 511.6h.01M860.3 539.1h.01M860.3 521.0h.01M860.4 515.7h.01M860.4 539.8h.01M860.4 496.0h.01M860.4 500.6h.01M860.4 534.4h.01M860.4 531.2h.01M860.5 514.0h.01M860.5 515.3h.01M860.5 476.1h.01M860.5 490.5h.01M860.5 517.1h.01M860.6 522.3h.01M860.6 479.9h.01M860.6 523.2h.01M860.7 528.7h.01M860.7 528.0h.01M860.7 538.7h.01M860.7 537.0h.01M860.8 506.9h.01M860.8 493.5h.01M860.8 520.7h.01M860.8 520.4h.01M860.8 529.2h.01M860.8 525.7h.01M860.9 531.0h.01M860.9 535.0h.01M860.9 509.3h.01M860.9 537.0h.01M860.9 527.4h.01M861.0 511.9h.01M861.0 507.0h.01M861.0 538.4h.01M861.0 537.5h.01M861.0 520.2h.01M861.1 533.0h.01M861.1 536.7h.01M861.1 512.0h.01M861.1 521.1h.01M861.1 540.2h.01M861.2 491.7h.01M861.2 528.3h.01M861.2 519.7h.01M861.2 522.1h.01M861.3 535.9h.01M861.3 526.8h.01M861.3 478.7h.01M861.3 538.0h.01M861.3 510.0h.01M861.3 535.5h.01M861.3 514.7h.01M861.3 512.5h.01M861.4 507.3h.01M861.4 509.1h.01M861.5 476.1h.01M861.5 487.1h.01M861.6 493.6h.01M861.6 467.0h.01M861.6 507.6h.01M861.7 511.3h.01M861.7 508.8h.01M861.7 497.7h.01M861.7 479.3h.01M861.8 509.0h.01M861.8 506.7h.01M861.8 502.6h.01M861.8 503.6h.01M861.8 473.9h.01M861.8 486.8h.01M861.8 459.3h.01M861.8 480.0h.01M861.8 440.9h.01M861.9 441.2h.01M861.9 502.8h.01M861.9 529.5h.01M861.9 510.4h.01M861.9 536.1h.01M862.0 538.3h.01M862.0 538.2h.01M862.0 537.5h.01M862.0 513.7h.01M862.0 523.1h.01M862.0 528.8h.01M862.1 529.8h.01M862.1 533.6h.01M862.1 514.2h.01M862.1 523.9h.01M862.1 507.8h.01M862.1 537.9h.01M862.1 532.9h.01M862.2 523.8h.01M862.2 494.0h.01M862.2 525.6h.01M862.2 509.6h.01M862.3 526.3h.01M862.3 536.8h.01M862.3 524.9h.01M862.3 521.6h.01M862.4 516.6h.01M862.4 534.2h.01M862.4 526.6h.01M862.4 521.8h.01M862.4 530.7h.01M862.5 523.7h.01M862.5 526.6h.01M862.5 531.5h.01M862.5 503.4h.01M862.6 518.5h.01M862.6 525.7h.01M862.6 527.6h.01M862.6 517.9h.01M862.7 537.0h.01M862.7 536.4h.01M862.7 515.4h.01M862.7 527.9h.01M862.7 533.1h.01M862.8 519.7h.01M862.8 526.8h.01M862.8 527.3h.01M862.8 525.9h.01M862.8 538.0h.01M862.8 537.2h.01M862.8 524.4h.01M862.9 527.7h.01M862.9 514.9h.01M862.9 514.3h.01M862.9 507.6h.01M862.9 531.1h.01M862.9 512.5h.01M862.9 519.6h.01M862.9 522.3h.01M862.9 504.5h.01M862.9 494.0h.01M863.0 495.0h.01M863.1 535.3h.01M863.1 527.1h.01M863.1 509.7h.01M863.1 524.7h.01M863.1 490.0h.01M863.2 535.3h.01M863.2 538.8h.01M863.2 507.4h.01M863.2 520.0h.01M863.2 527.1h.01M863.3 538.6h.01M863.3 527.4h.01M863.3 517.3h.01M863.3 519.9h.01M863.3 531.4h.01M863.3 531.7h.01M863.3 529.8h.01M863.3 500.8h.01M863.4 501.0h.01M863.4 533.7h.01M863.4 531.8h.01M863.4 528.4h.01M863.4 538.5h.01M863.4 536.1h.01M863.5 539.0h.01M863.5 501.8h.01M863.5 533.8h.01M863.6 528.6h.01M145.9 371.7h.01M192.0 389.8h.01M193.7 400.7h.01M147.2 406.6h.01M178.5 412.7h.01M152.2 416.3h.01M187.6 422.9h.01M173.1 424.9h.01M145.9 424.2h.01M145.9 429.8h.01M193.5 429.3h.01M166.8 431.8h.01M141.6 436.4h.01M279.0 355.7h.01M293.8 358.0h.01M266.8 406.1h.01M279.0 420.9h.01M300.9 427.7h.01M303.5 429.8h.01M275.7 436.4h.01M398.7 371.2h.01M390.0 388.3h.01M393.6 416.3h.01M395.1 424.9h.01M382.4 435.4h.01M457.2 349.3h.01M457.2 420.6h.01M472.8 421.6h.01M488.8 413.0h.01M485.5 429.8h.01M457.2 435.6h.01M454.7 437.7h.01M476.8 435.9h.01M488.3 438.9h.01M544.6 380.4h.01M554.5 385.5h.01M535.7 401.3h.01M536.4 412.5h.01M554.0 429.3h.01M554.5 435.1h.01M561.4 354.6h.01M556.0 385.5h.01M561.4 383.3h.01M558.1 398.2h.01M557.6 423.2h.01M555.4 428.6h.01M556.8 434.6h.01M631.4 290.0h.01M620.2 342.9h.01M609.7 391.5h.01M609.7 397.4h.01M609.9 403.9h.01M611.6 408.8h.01M631.4 404.7h.01M636.8 407.2h.01M619.2 415.6h.01M621.0 417.8h.01M609.9 419.9h.01M609.9 424.0h.01M620.5 424.3h.01M620.5 428.3h.01M632.7 420.2h.01M636.8 422.9h.01M631.4 428.6h.01M638.1 428.6h.01M638.9 431.3h.01M612.4 429.7h.01M609.7 433.2h.01M615.1 436.7h.01M620.5 436.2h.01M638.1 437.3h.01M608.3 438.6h.01M701.9 399.6h.01M701.9 406.9h.01M681.5 412.1h.01M692.4 417.8h.01M695.1 419.7h.01M695.1 426.4h.01M689.7 428.9h.01M694.3 429.7h.01M693.7 433.2h.01M695.1 438.1h.01M747.7 354.6h.01M738.7 417.0h.01M737.1 437.3h.01M748.8 431.1h.01M756.1 432.4h.01M787.6 387.1h.01M798.4 426.7h.01M821.4 400.1h.01M830.9 404.2h.01M835.3 419.9h.01M820.9 427.8h.01M830.6 430.8h.01M822.2 437.8h.01M831.2 438.6h.01M833.9 438.6h.01M856.9 403.9h.01M860.2 403.9h.01M863.5 409.4h.01M856.9 419.9h.01M862.1 429.7h.01M860.5 431.9h.01M855.6 431.9h.01" stroke="#5382b6" stroke-width="4" stroke-linecap="round" fill="none"/>
<path d="M65.6 529.3h.01M65.2 528.3h.01M65.4 532.3h.01M66.5 526.9h.01M66.7 535.6h.01M66.3 532.6h.01M67.0 527.3h.01M66.3 525.5h.01M67.0 522.1h.01M66.3 529.6h.01M66.5 521.1h.01M67.8 521.9h.01M67.8 526.6h.01M67.6 533.4h.01M68.1 523.6h.01M68.5 521.0h.01M69.0 529.9h.01M68.4 533.2h.01M68.9 524.7h.01M68.3 532.2h.01M68.1 534.8h.01M68.4 525.4h.01M69.8 535.0h.01M69.0 520.4h.01M69.1 539.9h.01M70.9 527.1h.01M70.5 524.3h.01M70.7 522.8h.01M70.7 538.1h.01M71.6 530.4h.01M71.9 537.5h.01M72.9 539.2h.01M72.5 536.6h.01M72.7 534.8h.01M72.0 529.2h.01M72.5 539.4h.01M73.1 538.7h.01M73.5 536.4h.01M73.8 524.7h.01M73.5 537.7h.01M73.3 520.8h.01M74.2 534.9h.01M74.1 521.1h.01M74.7 528.9h.01M75.0 521.2h.01M74.6 533.3h.01M75.3 532.1h.01M76.2 526.5h.01M77.0 538.9h.01M76.2 531.2h.01M76.2 521.5h.01M76.6 522.5h.01M76.6 528.5h.01M76.2 524.6h.01M77.4 527.8h.01M77.6 524.4h.01M77.9 536.9h.01M77.8 527.9h.01M77.4 538.1h.01M77.5 523.7h.01M77.0 525.9h.01M78.8 526.5h.01M78.2 540.0h.01M78.1 532.3h.01M78.1 537.3h.01M79.8 538.6h.01M79.5 520.6h.01M80.6 533.6h.01M80.9 536.3h.01M80.3 527.3h.01M80.7 523.5h.01M80.7 531.3h.01M80.8 538.2h.01M82.1 526.1h.01M81.4 523.5h.01M81.1 536.7h.01M81.5 528.7h.01M81.9 539.5h.01M83.0 522.5h.01M84.2 539.7h.01M83.5 531.8h.01M83.8 532.9h.01M83.6 525.8h.01M83.9 540.7h.01M83.6 527.9h.01M85.4 531.1h.01M85.0 539.5h.01M86.5 540.1h.01M85.8 527.0h.01M85.5 529.2h.01M86.1 535.7h.01M86.4 535.5h.01M85.6 525.2h.01M86.9 525.5h.01M88.2 526.8h.01M89.0 539.1h.01M89.3 533.5h.01M89.5 528.6h.01M88.8 535.7h.01M89.8 536.2h.01M89.8 531.6h.01M89.6 534.6h.01M90.3 539.8h.01M91.0 534.0h.01M90.7 530.5h.01M92.0 526.9h.01M92.5 536.0h.01M92.5 528.2h.01M91.6 522.6h.01M92.8 529.6h.01M93.0 530.6h.01M93.3 533.1h.01M92.6 523.6h.01M93.6 536.7h.01M94.3 533.5h.01M94.2 538.4h.01M94.6 527.0h.01M95.0 527.4h.01M94.6 535.9h.01M94.7 526.4h.01M95.3 538.4h.01M95.1 540.6h.01M95.3 534.0h.01M102.8 521.3h.01M102.9 524.8h.01M102.7 521.8h.01M103.6 538.4h.01M103.3 534.2h.01M103.9 533.9h.01M103.1 523.8h.01M105.8 538.0h.01M105.1 533.2h.01M105.4 529.3h.01M105.2 531.4h.01M105.4 530.2h.01M106.9 530.0h.01M106.6 522.9h.01M106.5 531.3h.01M106.5 539.9h.01M106.4 537.8h.01M106.7 532.5h.01M107.5 535.7h.01M107.8 529.2h.01M107.7 535.9h.01M107.6 539.7h.01M108.4 539.6h.01M108.3 533.6h.01M108.5 528.8h.01M108.4 537.4h.01M108.0 537.3h.01M109.9 530.8h.01M109.9 537.5h.01M109.3 533.2h.01M109.0 532.7h.01M110.6 530.8h.01M110.9 533.4h.01M110.2 527.5h.01M111.4 532.2h.01M111.6 527.1h.01M111.1 535.3h.01M112.0 527.0h.01M111.7 533.3h.01M111.8 529.2h.01M112.0 536.9h.01M112.2 523.0h.01M112.2 522.0h.01M112.2 539.9h.01M112.6 535.9h.01M112.1 531.9h.01M112.7 540.7h.01M113.9 538.6h.01M113.6 532.8h.01M113.3 539.5h.01M113.9 524.6h.01M114.7 530.7h.01M114.5 527.9h.01M114.3 525.2h.01M114.6 522.8h.01M114.0 524.4h.01M114.5 523.0h.01M115.7 540.4h.01M116.8 528.4h.01M116.8 539.6h.01M116.1 529.7h.01M117.4 534.2h.01M117.3 531.8h.01M117.5 531.3h.01M117.7 532.1h.01M117.8 530.2h.01M118.3 533.0h.01M119.6 523.7h.01M119.9 521.7h.01M120.0 536.1h.01M119.4 522.7h.01M119.5 538.5h.01M120.1 539.0h.01M121.2 532.2h.01M121.7 525.6h.01M121.6 530.9h.01M121.4 526.1h.01M123.6 522.7h.01M123.9 524.3h.01M124.9 540.9h.01M124.0 537.3h.01M125.3 529.7h.01M126.0 526.0h.01M125.5 523.0h.01M125.5 528.1h.01M125.6 528.0h.01M126.3 528.6h.01M126.5 532.0h.01M126.8 531.8h.01M126.4 521.0h.01M127.9 532.8h.01M65.0 521.6h.01M65.0 539.6h.01M65.0 506.3h.01M65.0 526.2h.01M65.0 507.2h.01M65.0 534.4h.01M65.1 523.3h.01M65.1 530.0h.01M65.1 535.4h.01M65.1 532.9h.01M65.1 501.9h.01M65.1 535.2h.01M65.1 535.2h.01M65.1 510.6h.01M65.1 535.6h.01M65.1 484.5h.01M65.1 500.9h.01M65.2 537.3h.01M65.2 512.5h.01M65.2 489.2h.01M65.2 524.1h.01M65.2 529.5h.01M65.2 539.5h.01M65.2 531.4h.01M65.2 520.6h.01M65.2 523.6h.01M65.3 538.4h.01M65.3 502.6h.01M65.3 535.5h.01M65.3 502.3h.01M65.3 525.4h.01M65.4 512.4h.01M65.4 526.4h.01M65.4 533.2h.01M65.4 492.8h.01M65.4 527.7h.01M65.5 525.2h.01M65.5 532.4h.01M65.5 488.0h.01M65.5 531.1h.01M65.6 531.8h.01M65.6 513.2h.01M65.6 521.4h.01M65.6 503.4h.01M65.6 524.3h.01M65.7 537.4h.01M65.7 523.7h.01M65.7 528.5h.01M65.7 522.3h.01M65.7 525.7h.01M65.7 519.1h.01M65.8 512.7h.01M65.8 494.6h.01M65.8 537.7h.01M65.8 512.1h.01M65.8 526.5h.01M65.8 537.6h.01M65.9 529.2h.01M65.9 538.1h.01M65.9 515.0h.01M65.9 523.9h.01M65.9 523.0h.01M65.9 530.0h.01M66.0 529.5h.01M66.0 524.8h.01M66.0 534.1h.01M66.0 521.1h.01M66.0 506.2h.01M66.0 511.1h.01M66.0 512.4h.01M66.0 537.7h.01M66.1 530.5h.01M66.1 528.3h.01M66.1 504.7h.01M66.1 522.4h.01M66.1 537.2h.01M66.1 527.9h.01M66.1 466.9h.01M66.1 506.9h.01M66.1 536.6h.01M66.1 529.7h.01M66.1 530.5h.01M66.1 469.5h.01M66.1 529.5h.01M66.1 522.2h.01M66.1 539.0h.01M66.1 528.8h.01M66.1 535.6h.01M66.2 530.8h.01M66.2 538.6h.01M66.2 521.5h.01M66.2 537.5h.01M66.2 526.7h.01M66.2 538.6h.01M66.2 531.6h.01M66.2 516.1h.01M66.2 534.4h.01M66.3 515.4h.01M66.3 537.8h.01M66.3 521.3h.01M66.3 532.1h.01M66.3 528.8h.01M66.3 535.4h.01M66.3 523.9h.01M66.3 526.5h.01M66.3 532.5h.01M66.3 509.2h.01M66.4 522.1h.01M66.4 530.1h.01M66.4 537.3h.01M66.4 531.6h.01M66.4 519.7h.01M66.4 536.4h.01M66.4 527.6h.01M66.4 489.3h.01M66.4 529.2h.01M66.4 468.6h.01M66.4 474.6h.01M66.4 445.1h.01M66.4 472.9h.01M66.4 477.5h.01M66.4 484.5h.01M66.4 492.0h.01M66.4 509.3h.01M66.4 505.2h.01M66.5 507.8h.01M66.5 502.3h.01M66.5 500.3h.01M66.5 493.4h.01M66.5 478.3h.01M66.5 502.6h.01M66.5 510.8h.01M66.5 487.2h.01M66.5 499.8h.01M66.5 484.2h.01M66.5 501.6h.01M66.5 506.3h.01M66.5 519.5h.01M66.5 514.5h.01M66.6 506.5h.01M66.6 516.8h.01M66.6 518.1h.01M66.6 522.7h.01M66.6 522.9h.01M66.6 537.9h.01M66.6 525.2h.01M66.6 531.6h.01M66.6 515.9h.01M66.6 521.0h.01M66.6 513.8h.01M66.6 535.3h.01M66.6 535.5h.01M66.6 533.9h.01M66.7 516.0h.01M66.7 540.1h.01M66.7 535.3h.01M66.7 538.4h.01M66.7 528.3h.01M66.7 482.2h.01M66.7 512.5h.01M66.7 499.8h.01M66.7 495.7h.01M66.7 494.6h.01M66.7 459.7h.01M66.7 508.1h.01M66.7 524.8h.01M66.8 537.2h.01M66.8 540.0h.01M66.8 530.4h.01M66.8 499.6h.01M66.8 508.5h.01M66.8 520.7h.01M66.8 519.3h.01M66.8 525.5h.01M66.8 535.0h.01M66.8 521.0h.01M66.8 533.4h.01M66.8 532.6h.01M66.8 487.7h.01M66.9 533.5h.01M66.9 484.4h.01M66.9 536.6h.01M66.9 538.6h.01M66.9 529.2h.01M66.9 536.4h.01M66.9 530.9h.01M66.9 526.0h.01M66.9 532.2h.01M66.9 511.3h.01M66.9 521.3h.01M66.9 517.7h.01M66.9 517.5h.01M67.0 532.5h.01M67.0 535.9h.01M67.0 474.2h.01M67.0 533.1h.01M67.0 522.4h.01M67.0 528.4h.01M67.0 517.0h.01M67.0 491.0h.01M67.0 516.1h.01M67.0 510.9h.01M67.0 478.9h.01M67.0 500.1h.01M67.0 508.9h.01M67.0 528.5h.01M67.0 534.7h.01M67.0 504.6h.01M67.0 523.6h.01M67.1 539.1h.01M67.1 532.6h.01M67.1 536.5h.01M67.1 518.6h.01M67.1 538.9h.01M67.1 526.6h.01M67.1 539.9h.01M67.1 516.8h.01M67.1 495.0h.01M67.2 519.7h.01M67.2 513.8h.01M67.2 525.3h.01M67.2 517.4h.01M67.2 525.1h.01M67.2 526.4h.01M67.2 521.5h.01M67.2 517.9h.01M67.2 527.8h.01M67.2 531.8h.01M67.2 538.7h.01M67.2 519.6h.01M67.2 531.0h.01M67.2 527.8h.01M67.3 540.7h.01M67.3 524.9h.01M67.3 481.7h.01M67.3 524.4h.01M67.3 527.0h.01M67.3 532.0h.01M67.3 517.9h.01M67.3 531.5h.01M67.3 535.3h.01M67.4 494.2h.01M67.4 522.7h.01M67.4 521.2h.01M67.4 528.6h.01M67.4 515.4h.01M67.4 530.1h.01M67.4 531.1h.01M67.4 533.3h.01M67.4 521.4h.01M67.4 540.7h.01M67.4 499.1h.01M67.4 511.4h.01M67.4 483.3h.01M67.4 538.5h.01M67.4 471.2h.01M67.4 447.9h.01M67.4 486.1h.01M67.4 513.5h.01M67.4 533.6h.01M67.4 537.1h.01M67.4 528.4h.01M67.5 539.1h.01M67.5 527.2h.01M67.5 534.2h.01M67.5 538.0h.01M67.5 528.8h.01M67.5 512.9h.01M67.5 529.1h.01M67.5 508.8h.01M67.5 524.0h.01M67.6 527.2h.01M67.6 535.1h.01M67.6 500.0h.01M67.6 512.2h.01M67.6 512.0h.01M67.6 522.9h.01M67.6 530.0h.01M67.6 527.9h.01M67.6 537.6h.01M67.6 509.0h.01M67.7 538.2h.01M67.7 522.8h.01M67.7 534.1h.01M67.7 527.7h.01M67.7 536.3h.01M67.7 528.2h.01M67.7 533.6h.01M67.7 476.7h.01M67.7 488.5h.01M67.7 525.8h.01M67.7 518.2h.01M67.7 532.4h.01M67.7 529.6h.01M67.8 533.7h.01M67.8 538.0h.01M67.8 529.5h.01M67.8 536.3h.01M67.8 532.8h.01M67.8 522.0h.01M67.8 522.1h.01M67.8 524.8h.01M67.9 519.9h.01M67.9 531.9h.01M67.9 536.6h.01M67.9 530.1h.01M67.9 537.5h.01M67.9 519.0h.01M67.9 523.6h.01M67.9 537.9h.01M67.9 532.3h.01M67.9 531.2h.01M67.9 535.3h.01M67.9 519.8h.01M67.9 531.0h.01M68.0 520.8h.01M68.0 536.8h.01M68.0 536.3h.01M68.0 511.6h.01M68.1 530.9h.01M68.1 514.4h.01M68.2 517.5h.01M68.2 536.9h.01M68.3 523.3h.01M68.3 526.2h.01M68.4 527.1h.01M68.4 499.1h.01M68.4 521.5h.01M68.4 512.7h.01M68.4 535.1h.01M68.4 505.4h.01M68.5 516.5h.01M68.5 493.5h.01M68.5 505.1h.01M68.6 531.4h.01M68.6 525.2h.01M68.6 520.2h.01M68.7 537.7h.01M68.7 503.3h.01M68.7 527.1h.01M68.7 538.8h.01M68.7 506.3h.01M68.7 534.7h.01M68.8 528.1h.01M68.8 537.7h.01M68.8 522.0h.01M68.8 518.3h.01M68.8 528.8h.01M68.9 512.6h.01M68.9 530.2h.01M68.9 524.4h.01M68.9 537.4h.01M68.9 538.9h.01M69.0 505.0h.01M69.2 529.6h.01M69.2 532.0h.01M69.2 529.6h.01M69.2 537.7h.01M69.3 518.7h.01M69.3 454.2h.01M69.3 500.6h.01M69.3 524.7h.01M69.3 527.7h.01M69.4 537.7h.01M69.4 505.5h.01M69.5 524.2h.01M69.5 501.0h.01M69.5 534.7h.01M69.5 532.4h.01M69.5 494.1h.01M69.6 514.3h.01M69.6 535.0h.01M69.6 520.4h.01M69.6 508.3h.01M69.6 509.0h.01M69.6 525.2h.01M69.6 527.8h.01M69.7 488.1h.01M69.7 487.1h.01M69.8 526.8h.01M69.8 530.6h.01M69.9 527.8h.01M69.9 489.7h.01M69.9 533.7h.01M70.0 514.6h.01M70.0 532.6h.01M70.0 537.7h.01M70.0 491.9h.01M70.0 528.7h.01M70.0 528.0h.01M70.1 534.7h.01M70.1 537.2h.01M70.2 488.2h.01M70.2 509.2h.01M70.2 461.5h.01M70.2 479.2h.01M70.2 514.9h.01M70.2 517.3h.01M70.2 519.0h.01M70.3 522.9h.01M70.3 535.8h.01M70.3 507.0h.01M70.3 513.2h.01M70.3 527.8h.01M70.3 535.1h.01M70.4 523.1h.01M70.4 502.2h.01M70.4 494.8h.01M70.5 531.0h.01M70.5 533.6h.01M70.5 529.6h.01M70.6 500.9h.01M70.6 515.2h.01M70.6 528.7h.01M70.7 530.1h.01M70.7 529.8h.01M70.8 513.7h.01M70.8 536.4h.01M70.8 525.9h.01M70.9 539.4h.01M70.9 518.2h.01M70.9 535.4h.01M70.9 523.0h.01M70.9 533.4h.01M71.0 529.4h.01M71.0 510.3h.01M71.0 529.4h.01M71.0 508.4h.01M71.0 531.3h.01M71.0 518.6h.01M71.1 534.6h.01M71.1 535.4h.01M71.1 510.5h.01M71.1 540.5h.01M71.1 505.4h.01M71.2 511.6h.01M71.2 498.9h.01M71.2 510.0h.01M71.2 528.7h.01M71.2 494.2h.01M71.3 528.2h.01M71.3 462.9h.01M71.3 518.8h.01M71.3 523.6h.01M71.3 514.2h.01M71.3 508.9h.01M71.3 481.6h.01M71.3 493.3h.01M71.3 504.8h.01M71.4 520.1h.01M71.4 539.8h.01M71.4 500.1h.01M71.5 510.7h.01M71.5 516.3h.01M71.5 531.7h.01M71.5 524.7h.01M71.6 507.9h.01M71.6 500.2h.01M71.6 482.2h.01M71.6 500.1h.01M71.6 508.1h.01M71.6 501.1h.01M71.7 504.7h.01M71.7 514.5h.01M71.7 476.2h.01M71.7 494.9h.01M71.7 504.1h.01M71.7 492.4h.01M71.8 539.0h.01M71.8 533.0h.01M71.8 520.3h.01M71.8 530.0h.01M71.8 535.5h.01M71.9 537.9h.01M71.9 463.2h.01M71.9 494.9h.01M71.9 456.9h.01M71.9 481.9h.01M71.9 500.3h.01M71.9 492.6h.01M71.9 458.5h.01M72.0 494.2h.01M72.0 477.1h.01M72.0 485.2h.01M72.0 452.2h.01M72.0 502.7h.01M72.0 505.5h.01M72.0 517.3h.01M72.0 519.5h.01M72.0 522.4h.01M72.0 534.0h.01M72.0 526.1h.01M72.1 522.9h.01M72.1 512.7h.01M72.1 539.3h.01M72.1 539.7h.01M72.1 531.1h.01M72.1 479.8h.01M72.1 526.1h.01M72.2 540.6h.01M72.2 533.5h.01M72.2 534.4h.01M72.2 517.2h.01M72.2 534.8h.01M72.2 529.6h.01M72.2 499.5h.01M72.2 505.6h.01M72.3 521.0h.01M72.3 535.2h.01M72.3 537.1h.01M72.3 534.4h.01M72.3 493.7h.01M72.3 518.5h.01M72.4 490.9h.01M72.4 511.3h.01M72.4 523.4h.01M72.4 530.1h.01M72.5 501.6h.01M72.5 524.4h.01M72.5 511.4h.01M72.6 519.9h.01M72.6 500.1h.01M72.6 520.9h.01M72.6 537.8h.01M72.6 530.5h.01M72.6 511.5h.01M72.7 537.2h.01M72.7 526.5h.01M72.7 518.0h.01M72.8 527.1h.01M72.8 527.0h.01M72.8 519.7h.01M72.8 486.8h.01M72.9 532.9h.01M72.9 528.6h.01M73.0 538.5h.01M73.0 532.6h.01M73.0 527.2h.01M73.1 539.0h.01M73.1 497.5h.01M73.1 530.2h.01M73.1 534.2h.01M73.1 503.4h.01M73.1 529.5h.01M73.1 510.2h.01M73.2 529.5h.01M73.2 525.6h.01M73.2 533.0h.01M73.2 530.8h.01M73.3 488.1h.01M73.3 517.6h.01M73.3 522.8h.01M73.3 525.7h.01M73.3 528.0h.01M73.3 533.4h.01M73.3 538.0h.01M73.4 532.2h.01M73.4 530.2h.01M73.4 532.1h.01M73.4 532.9h.01M73.4 514.2h.01M73.4 498.9h.01M73.5 517.8h.01M73.5 513.7h.01M73.5 536.3h.01M73.5 525.6h.01M73.5 525.6h.01M73.6 533.2h.01M73.6 530.7h.01M73.6 509.0h.01M73.6 507.9h.01M73.6 513.9h.01M73.6 522.7h.01M73.7 535.1h.01M73.7 500.0h.01M73.7 516.7h.01M73.7 521.9h.01M73.7 516.6h.01M73.7 525.5h.01M73.7 532.2h.01M73.8 535.4h.01M73.8 533.2h.01M73.8 513.6h.01M73.8 532.1h.01M73.8 509.7h.01M73.9 502.0h.01M73.9 535.7h.01M73.9 521.0h.01M73.9 540.0h.01M73.9 528.4h.01M73.9 530.4h.01M74.0 540.6h.01M74.0 533.1h.01M74.0 482.8h.01M74.1 496.1h.01M74.1 493.2h.01M74.2 534.6h.01M74.3 512.4h.01M74.3 511.5h.01M74.3 532.1h.01M74.3 519.2h.01M74.4 514.7h.01M74.5 531.7h.01M74.6 536.5h.01M74.7 525.5h.01M74.7 535.5h.01M74.7 539.0h.01M74.8 510.4h.01M74.8 527.6h.01M74.9 520.5h.01M75.0 539.8h.01M75.0 505.5h.01M75.0 537.1h.01M75.1 530.3h.01M75.1 531.8h.01M75.1 493.6h.01M75.1 530.7h.01M75.1 497.9h.01M75.1 482.0h.01M75.1 537.9h.01M75.1 537.9h.01M75.1 536.3h.01M75.1 512.5h.01M75.1 527.2h.01M75.1 527.4h.01M75.2 535.9h.01M75.2 525.9h.01M75.2 532.2h.01M75.2 538.0h.01M75.2 535.4h.01M75.2 535.1h.01M75.2 526.0h.01M75.2 519.5h.01M75.3 478.7h.01M75.3 521.7h.01M75.3 535.7h.01M75.3 510.2h.01M75.3 537.2h.01M75.3 512.8h.01M75.4 528.4h.01M75.4 529.0h.01M75.4 533.1h.01M75.4 532.6h.01M75.4 516.6h.01M75.4 484.6h.01M75.4 522.4h.01M75.4 527.5h.01M75.4 524.2h.01M75.4 518.6h.01M75.4 516.5h.01M75.5 528.0h.01M75.5 505.5h.01M75.5 530.8h.01M75.5 523.2h.01M75.5 519.1h.01M75.5 528.0h.01M75.5 528.1h.01M75.6 522.0h.01M75.6 465.5h.01M75.6 524.3h.01M75.6 525.7h.01M75.6 537.8h.01M75.6 512.0h.01M75.6 528.3h.01M75.6 527.0h.01M75.6 526.3h.01M75.6 537.2h.01M75.6 540.6h.01M75.6 504.1h.01M75.6 446.7h.01M75.6 498.9h.01M75.6 470.6h.01M75.7 502.9h.01M75.7 482.4h.01M75.7 536.9h.01M75.7 518.2h.01M75.7 531.7h.01M75.7 525.8h.01M75.8 504.8h.01M75.8 539.6h.01M75.8 526.1h.01M75.8 507.9h.01M75.8 481.6h.01M75.8 488.0h.01M75.8 459.4h.01M75.8 529.7h.01M75.8 528.0h.01M75.8 503.7h.01M75.9 503.8h.01M75.9 491.8h.01M75.9 512.3h.01M75.9 537.5h.01M75.9 523.7h.01M75.9 526.2h.01M75.9 538.1h.01M76.0 522.6h.01M76.0 529.4h.01M76.1 538.3h.01M76.1 533.7h.01M76.1 510.5h.01M76.1 520.2h.01M76.1 515.3h.01M76.1 516.0h.01M76.1 513.5h.01M76.1 526.2h.01M76.2 504.1h.01M76.2 474.8h.01M76.2 526.7h.01M76.2 532.0h.01M76.2 505.7h.01M76.3 535.9h.01M76.3 490.5h.01M76.3 492.1h.01M76.3 492.1h.01M76.3 490.4h.01M76.3 509.8h.01M76.4 508.2h.01M76.4 529.3h.01M76.4 526.9h.01M76.4 536.2h.01M76.4 537.2h.01M76.5 535.7h.01M76.5 533.1h.01M76.5 504.9h.01M76.5 527.6h.01M76.5 531.4h.01M76.6 516.8h.01M76.6 508.5h.01M76.6 535.8h.01M76.6 535.3h.01M76.6 527.4h.01M76.6 517.5h.01M76.6 540.7h.01M76.6 524.3h.01M76.6 532.1h.01M76.6 524.5h.01M76.6 539.6h.01M76.7 532.4h.01M76.7 532.5h.01M76.7 535.9h.01M76.7 534.8h.01M76.9 516.3h.01M76.9 525.2h.01M77.0 520.5h.01M77.0 498.3h.01M77.0 523.9h.01M77.0 540.3h.01M77.0 534.3h.01M77.1 532.2h.01M77.1 538.0h.01M77.1 538.2h.01M77.2 520.9h.01M77.2 476.2h.01M77.2 536.6h.01M77.3 532.3h.01M77.3 530.1h.01M77.3 536.3h.01M77.3 531.1h.01M77.3 537.7h.01M77.3 517.8h.01M77.3 536.9h.01M77.3 513.4h.01M77.3 536.8h.01M77.4 525.7h.01M77.4 537.3h.01M77.4 511.2h.01M77.4 502.4h.01M77.4 536.4h.01M77.4 524.6h.01M77.4 495.8h.01M77.4 495.6h.01M77.5 530.5h.01M77.5 527.9h.01M77.5 527.0h.01M77.5 532.0h.01M77.5 539.8h.01M77.6 535.3h.01M77.6 533.5h.01M77.6 537.8h.01M77.6 528.8h.01M77.7 492.6h.01M77.7 537.8h.01M77.7 528.2h.01M77.7 517.3h.01M77.7 531.3h.01M77.8 500.2h.01M77.8 490.0h.01M77.8 522.1h.01M77.8 522.7h.01M77.8 516.2h.01M77.9 522.6h.01M77.9 531.6h.01M77.9 534.0h.01M77.9 506.3h.01M77.9 525.2h.01M77.9 536.9h.01M77.9 534.1h.01M77.9 528.4h.01M77.9 527.8h.01M77.9 510.6h.01M78.0 526.3h.01M78.0 532.3h.01M78.0 530.7h.01M78.0 538.7h.01M78.0 538.9h.01M78.0 538.2h.01M78.1 527.0h.01M78.1 526.3h.01M78.1 533.3h.01M78.1 537.0h.01M78.2 522.9h.01M78.2 515.8h.01M78.2 532.9h.01M78.3 536.9h.01M78.3 500.6h.01M78.3 533.7h.01M78.4 499.6h.01M78.4 519.2h.01M78.4 530.1h.01M78.4 513.6h.01M78.4 513.9h.01M78.5 529.0h.01M78.5 524.1h.01M78.6 525.0h.01M78.6 534.5h.01M78.7 513.1h.01M78.7 530.6h.01M78.7 515.1h.01M78.7 524.3h.01M78.7 516.1h.01M78.7 530.4h.01M78.8 532.9h.01M78.8 511.7h.01M78.9 532.7h.01M79.0 506.1h.01M79.0 526.9h.01M79.1 508.2h.01M79.2 524.4h.01M79.2 529.7h.01M79.2 532.9h.01M79.3 529.7h.01M79.3 525.5h.01M79.3 501.0h.01M79.4 534.5h.01M79.4 525.1h.01M79.4 527.8h.01M79.4 535.6h.01M79.5 535.7h.01M79.5 496.5h.01M79.5 526.2h.01M79.5 532.5h.01M79.5 528.9h.01M79.5 531.0h.01M79.6 519.9h.01M79.6 529.4h.01M79.6 523.9h.01M79.7 531.3h.01M79.7 514.5h.01M79.7 531.5h.01M79.7 522.0h.01M79.7 514.8h.01M79.7 512.0h.01M79.7 539.2h.01M79.7 530.8h.01M79.8 507.6h.01M79.8 526.9h.01M79.8 526.5h.01M79.8 509.4h.01M79.9 485.0h.01M79.9 501.2h.01M79.9 519.9h.01M79.9 532.2h.01M79.9 528.1h.01M79.9 532.9h.01M80.0 521.4h.01M80.0 525.6h.01M80.1 538.4h.01M80.1 536.1h.01M80.1 533.3h.01M80.1 533.5h.01M80.1 521.6h.01M80.1 523.7h.01M80.2 527.8h.01M80.3 528.7h.01M80.3 530.6h.01M80.4 521.2h.01M80.4 539.1h.01M80.4 527.5h.01M80.4 523.2h.01M80.4 462.5h.01M80.5 515.7h.01M80.6 505.7h.01M80.7 460.7h.01M80.7 508.1h.01M80.8 485.6h.01M80.8 506.4h.01M80.8 455.4h.01M80.8 501.2h.01M80.9 504.3h.01M80.9 521.1h.01M80.9 508.2h.01M80.9 519.6h.01M80.9 513.6h.01M81.0 524.9h.01M81.0 512.0h.01M81.0 523.7h.01M81.0 536.6h.01M81.1 538.5h.01M81.2 512.1h.01M81.3 508.7h.01M81.3 531.5h.01M81.3 514.0h.01M81.3 503.6h.01M81.4 529.4h.01M81.4 506.2h.01M81.5 518.5h.01M81.5 513.3h.01M81.5 497.9h.01M81.5 497.2h.01M81.6 537.7h.01M81.6 526.4h.01M81.6 516.4h.01M81.6 517.9h.01M81.6 540.1h.01M81.6 497.7h.01M81.6 518.2h.01M81.7 532.7h.01M81.8 531.9h.01M81.8 491.4h.01M81.8 537.0h.01M81.8 487.1h.01M81.9 510.8h.01M82.1 464.2h.01M82.1 533.9h.01M82.1 538.0h.01M82.2 533.7h.01M82.2 527.2h.01M82.2 526.4h.01M82.4 539.8h.01M82.5 522.8h.01M82.5 529.6h.01M82.5 537.9h.01M82.5 529.0h.01M82.5 502.6h.01M82.6 535.4h.01M82.6 519.4h.01M82.6 534.9h.01M82.8 516.5h.01M82.9 539.8h.01M82.9 516.5h.01M83.1 502.9h.01M83.1 527.3h.01M83.1 534.1h.01M83.1 517.5h.01M83.1 508.0h.01M83.2 525.9h.01M83.2 535.8h.01M83.2 533.7h.01M83.3 530.2h.01M83.4 534.9h.01M83.4 520.5h.01M83.4 527.9h.01M83.4 524.4h.01M83.4 535.8h.01M83.4 490.2h.01M83.4 533.0h.01M83.4 535.3h.01M83.5 537.4h.01M83.6 525.8h.01M83.6 536.7h.01M83.7 527.8h.01M83.7 511.9h.01M83.8 506.0h.01M83.8 501.5h.01M83.9 536.6h.01M84.0 525.7h.01M84.1 533.7h.01M84.1 537.5h.01M84.1 487.5h.01M84.1 520.9h.01M84.1 510.1h.01M84.1 540.4h.01M84.1 505.1h.01M84.1 488.4h.01M84.4 536.8h.01M84.4 484.6h.01M84.4 517.7h.01M84.5 532.4h.01M84.6 518.5h.01M84.6 523.3h.01M84.6 536.0h.01M84.6 517.7h.01M84.7 537.8h.01M84.7 533.4h.01M84.7 520.0h.01M84.7 470.8h.01M84.8 537.1h.01M84.8 531.1h.01M84.8 533.5h.01M84.8 531.2h.01M84.8 513.4h.01M84.9 518.0h.01M84.9 531.6h.01M85.0 525.5h.01M85.0 532.1h.01M85.0 534.8h.01M85.0 532.2h.01M85.1 539.9h.01M85.1 512.5h.01M85.1 525.7h.01M85.2 537.3h.01M85.2 536.3h.01M85.2 518.6h.01M85.2 530.2h.01M85.3 535.8h.01M85.3 474.1h.01M85.3 509.7h.01M85.3 537.0h.01M85.3 526.0h.01M85.3 525.5h.01M85.4 519.0h.01M85.4 500.9h.01M85.4 500.5h.01M85.4 517.9h.01M85.4 509.6h.01M85.4 514.2h.01M85.4 533.0h.01M85.5 533.7h.01M85.6 520.6h.01M85.6 485.0h.01M85.7 522.0h.01M85.9 536.6h.01M85.9 518.0h.01M85.9 505.3h.01M85.9 443.6h.01M86.0 489.1h.01M86.1 494.0h.01M86.1 473.4h.01M86.2 505.0h.01M86.2 440.7h.01M86.2 451.3h.01M86.2 507.1h.01M86.2 510.6h.01M86.2 508.7h.01M86.3 539.4h.01M86.3 525.4h.01M86.3 531.8h.01M86.3 531.3h.01M86.3 532.8h.01M86.3 522.7h.01M86.4 539.0h.01M86.4 515.3h.01M86.5 530.8h.01M86.5 533.7h.01M86.5 539.4h.01M86.6 514.2h.01M86.7 537.8h.01M86.8 530.3h.01M86.8 527.3h.01M87.1 495.5h.01M87.3 493.3h.01M87.4 528.6h.01M87.5 495.9h.01M87.6 513.6h.01M87.6 519.6h.01M87.6 522.9h.01M87.6 522.2h.01M87.6 536.6h.01M87.6 536.0h.01M87.6 506.0h.01M87.7 530.1h.01M87.7 513.3h.01M87.7 521.7h.01M87.8 522.0h.01M87.8 519.3h.01M87.8 530.7h.01M87.8 527.0h.01M87.8 517.6h.01M87.8 536.8h.01M87.8 521.1h.01M87.9 513.1h.01M88.0 526.6h.01M88.0 520.2h.01M88.1 523.6h.01M88.1 538.4h.01M88.1 530.2h.01M88.1 521.1h.01M88.1 529.5h.01M88.2 512.4h.01M88.2 503.7h.01M88.2 533.8h.01M88.2 534.6h.01M88.2 538.8h.01M88.2 514.3h.01M88.4 538.8h.01M88.4 522.0h.01M88.4 486.4h.01M88.4 528.6h.01M88.4 529.5h.01M88.5 534.7h.01M88.7 538.5h.01M88.8 503.6h.01M88.8 512.8h.01M88.8 525.8h.01M88.9 528.1h.01M88.9 527.3h.01M88.9 524.2h.01M88.9 530.5h.01M88.9 528.3h.01M89.0 510.1h.01M89.0 525.9h.01M89.1 525.0h.01M89.1 528.9h.01M89.2 527.8h.01M89.2 530.0h.01M89.2 512.6h.01M89.2 499.5h.01M89.3 493.4h.01M89.3 487.1h.01M89.3 470.6h.01M89.3 478.3h.01M89.5 523.6h.01M89.6 523.1h.01M89.6 500.8h.01M89.8 529.8h.01M90.0 535.3h.01M90.0 531.1h.01M90.1 530.8h.01M90.2 524.9h.01M90.3 533.1h.01M90.3 452.0h.01M90.3 523.6h.01M90.4 506.8h.01M90.4 539.2h.01M90.4 520.7h.01M90.5 526.6h.01M90.6 528.4h.01M90.6 533.7h.01M90.7 521.4h.01M90.7 506.0h.01M90.8 524.0h.01M90.8 520.2h.01M90.8 515.0h.01M91.0 515.6h.01M91.0 524.2h.01M91.1 495.5h.01M91.1 535.9h.01M91.2 502.9h.01M91.2 466.5h.01M91.3 495.7h.01M91.4 505.5h.01M91.4 499.5h.01M91.5 502.2h.01M91.5 528.5h.01M91.6 520.3h.01M91.7 534.0h.01M91.7 537.2h.01M91.7 523.3h.01M91.8 518.6h.01M91.8 521.9h.01M91.9 532.2h.01M91.9 536.9h.01M91.9 504.7h.01M91.9 532.0h.01M92.0 492.7h.01M92.0 537.1h.01M92.0 528.6h.01M92.0 526.6h.01M92.1 540.5h.01M92.2 520.8h.01M92.2 519.7h.01M92.3 506.9h.01M92.4 520.9h.01M92.5 535.4h.01M92.6 514.0h.01M92.7 518.5h.01M92.7 493.2h.01M92.7 507.8h.01M93.0 529.5h.01M93.1 532.6h.01M93.2 536.6h.01M93.4 480.6h.01M93.5 500.6h.01M93.5 469.5h.01M93.6 500.1h.01M93.6 490.6h.01M93.6 508.8h.01M93.7 505.6h.01M93.8 515.4h.01M93.8 473.6h.01M93.9 492.4h.01M93.9 465.3h.01M94.0 509.8h.01M94.1 513.1h.01M94.1 517.0h.01M94.3 526.5h.01M94.3 521.2h.01M94.3 524.6h.01M94.4 490.8h.01M94.5 490.7h.01M94.5 517.9h.01M94.6 519.6h.01M94.6 534.7h.01M94.7 489.9h.01M94.8 513.3h.01M94.9 532.6h.01M94.9 505.0h.01M94.9 526.6h.01M94.9 528.2h.01M95.0 537.0h.01M95.0 530.7h.01M95.1 536.7h.01M95.2 533.8h.01M95.2 536.4h.01M95.2 530.9h.01M95.2 505.3h.01M95.3 468.0h.01M95.3 524.0h.01M95.3 453.0h.01M95.4 528.6h.01M95.4 531.1h.01M95.5 530.9h.01M102.0 518.3h.01M102.0 510.4h.01M102.0 524.5h.01M102.0 527.3h.01M102.0 516.7h.01M102.0 512.5h.01M102.0 524.9h.01M102.0 513.3h.01M102.1 450.9h.01M102.1 539.5h.01M102.1 528.8h.01M102.1 526.9h.01M102.1 527.0h.01M102.1 481.1h.01M102.1 453.5h.01M102.1 524.9h.01M102.1 536.1h.01M102.1 530.6h.01M102.1 530.9h.01M102.2 529.8h.01M102.2 518.5h.01M102.2 526.0h.01M102.2 527.4h.01M102.2 473.0h.01M102.2 538.4h.01M102.2 536.3h.01M102.2 514.2h.01M102.2 530.4h.01M102.2 521.5h.01M102.2 535.2h.01M102.2 527.6h.01M102.2 539.7h.01M102.2 531.9h.01M102.3 516.4h.01M102.3 532.8h.01M102.3 492.8h.01M102.3 513.4h.01M102.3 539.2h.01M102.3 529.0h.01M102.3 520.6h.01M102.3 521.8h.01M102.3 528.3h.01M102.3 528.5h.01M102.3 517.8h.01M102.3 522.1h.01M102.3 522.3h.01M102.3 512.3h.01M102.3 529.3h.01M102.3 539.8h.01M102.3 477.3h.01M102.3 516.7h.01M102.3 521.1h.01M102.3 528.8h.01M102.4 503.7h.01M102.4 521.7h.01M102.4 527.0h.01M102.4 488.8h.01M102.4 527.4h.01M102.4 500.7h.01M102.4 514.3h.01M102.4 528.1h.01M102.4 508.2h.01M102.4 536.9h.01M102.4 514.1h.01M102.5 540.4h.01M102.5 521.1h.01M102.5 519.4h.01M102.5 470.6h.01M102.5 517.2h.01M102.5 536.4h.01M102.5 528.6h.01M102.5 535.5h.01M102.5 520.7h.01M102.6 533.6h.01M102.6 504.3h.01M102.6 526.5h.01M102.6 534.1h.01M102.6 514.7h.01M102.6 492.8h.01M102.6 512.1h.01M102.6 522.7h.01M102.6 490.8h.01M102.6 488.8h.01M102.6 501.1h.01M102.6 460.6h.01M102.6 484.2h.01M102.7 488.4h.01M102.7 484.9h.01M102.7 498.7h.01M102.7 502.1h.01M102.7 478.2h.01M102.7 455.9h.01M102.7 518.7h.01M102.7 507.1h.01M102.7 481.6h.01M102.7 530.3h.01M102.7 468.0h.01M102.8 511.5h.01M102.8 498.9h.01M102.8 533.2h.01M102.8 510.3h.01M102.8 529.0h.01M102.8 527.7h.01M102.8 525.6h.01M102.8 511.8h.01M102.8 532.9h.01M102.8 501.9h.01M102.8 521.0h.01M102.9 530.5h.01M102.9 521.6h.01M102.9 534.2h.01M102.9 521.8h.01M102.9 503.3h.01M102.9 528.6h.01M102.9 536.5h.01M102.9 533.2h.01M102.9 532.9h.01M102.9 539.2h.01M102.9 517.9h.01M102.9 486.5h.01M102.9 536.2h.01M102.9 530.5h.01M102.9 540.7h.01M102.9 522.9h.01M102.9 520.9h.01M102.9 509.4h.01M102.9 520.9h.01M103.0 536.5h.01M103.0 511.7h.01M103.0 528.3h.01M103.0 513.9h.01M103.0 527.8h.01M103.0 463.6h.01M103.1 522.1h.01M103.1 500.5h.01M103.1 538.7h.01M103.1 524.3h.01M103.1 533.0h.01M103.1 538.3h.01M103.1 532.8h.01M103.2 527.7h.01M103.2 493.7h.01M103.2 510.8h.01M103.2 492.9h.01M103.3 537.2h.01M103.3 512.7h.01M103.3 517.4h.01M103.3 500.4h.01M103.3 531.1h.01M103.4 530.7h.01M103.4 523.6h.01M103.4 520.5h.01M103.4 483.9h.01M103.4 457.3h.01M103.4 515.8h.01M103.4 477.2h.01M103.4 452.6h.01M103.4 514.1h.01M103.5 492.8h.01M103.5 485.2h.01M103.5 515.2h.01M103.5 450.6h.01M103.5 519.8h.01M103.6 508.7h.01M103.6 509.6h.01M103.6 450.8h.01M103.6 501.6h.01M103.6 499.9h.01M103.6 501.3h.01M103.6 504.1h.01M103.6 516.7h.01M103.7 489.5h.01M103.7 470.5h.01M103.7 501.7h.01M103.7 498.2h.01M103.7 503.9h.01M103.7 506.6h.01M103.7 513.2h.01M103.7 501.7h.01M103.7 516.3h.01M103.7 512.4h.01M103.7 517.0h.01M103.8 478.8h.01M103.8 441.3h.01M103.8 502.7h.01M103.8 496.3h.01M103.8 505.6h.01M103.8 502.2h.01M103.8 507.9h.01M103.8 502.7h.01M103.9 467.5h.01M103.9 451.6h.01M103.9 533.8h.01M103.9 515.7h.01M103.9 528.7h.01M103.9 507.3h.01M104.0 533.0h.01M104.0 509.4h.01M104.0 475.0h.01M104.1 498.7h.01M104.1 535.5h.01M104.1 500.4h.01M104.1 499.7h.01M104.1 538.9h.01M104.1 492.2h.01M104.1 523.5h.01M104.1 529.7h.01M104.2 531.1h.01M104.2 532.3h.01M104.2 517.2h.01M104.2 512.2h.01M104.2 512.3h.01M104.2 505.9h.01M104.2 533.6h.01M104.3 513.5h.01M104.3 535.4h.01M104.3 528.7h.01M104.3 529.1h.01M104.3 517.8h.01M104.4 530.0h.01M104.4 522.5h.01M104.4 525.0h.01M104.4 525.9h.01M104.4 521.0h.01M104.4 539.6h.01M104.4 539.9h.01M104.4 537.4h.01M104.4 530.3h.01M104.4 504.7h.01M104.5 532.3h.01M104.5 535.1h.01M104.5 533.6h.01M104.5 539.4h.01M104.5 523.5h.01M104.5 537.7h.01M104.5 520.8h.01M104.5 537.2h.01M104.6 513.2h.01M104.6 502.3h.01M104.6 523.3h.01M104.6 516.4h.01M104.6 535.6h.01M104.6 526.1h.01M104.7 531.0h.01M104.7 532.2h.01M104.7 509.1h.01M104.8 535.3h.01M104.8 506.1h.01M104.8 511.3h.01M104.8 529.2h.01M104.8 496.7h.01M104.8 538.7h.01M104.8 535.0h.01M104.9 515.1h.01M104.9 515.9h.01M104.9 530.9h.01M104.9 513.2h.01M105.0 525.9h.01M105.0 504.5h.01M105.0 520.9h.01M105.0 509.1h.01M105.1 530.2h.01M105.1 533.0h.01M105.1 533.1h.01M105.2 535.8h.01M105.2 513.1h.01M105.2 540.0h.01M105.2 538.8h.01M105.3 527.9h.01M105.3 529.8h.01M105.4 509.9h.01M105.4 492.7h.01M105.4 501.3h.01M105.4 523.5h.01M105.4 484.6h.01M105.4 520.2h.01M105.4 533.0h.01M105.5 539.3h.01M105.5 538.4h.01M105.6 525.3h.01M105.6 533.2h.01M105.7 505.2h.01M105.7 508.7h.01M105.7 533.1h.01M105.7 504.9h.01M105.7 502.3h.01M105.7 502.1h.01M105.7 534.4h.01M105.8 497.5h.01M105.9 528.9h.01M105.9 536.9h.01M106.0 513.7h.01M106.0 540.6h.01M106.0 530.7h.01M106.0 528.6h.01M106.0 531.0h.01M106.0 510.4h.01M106.0 522.3h.01M106.0 517.4h.01M106.1 519.7h.01M106.1 529.4h.01M106.1 516.4h.01M106.1 534.5h.01M106.1 521.6h.01M106.1 525.8h.01M106.2 509.1h.01M106.2 537.7h.01M106.2 534.2h.01M106.3 533.5h.01M106.3 497.1h.01M106.3 537.8h.01M106.3 528.8h.01M106.3 524.6h.01M106.3 530.1h.01M106.3 517.6h.01M106.3 534.6h.01M106.3 499.6h.01M106.3 531.7h.01M106.3 520.5h.01M106.3 534.6h.01M106.3 482.3h.01M106.4 529.3h.01M106.4 539.0h.01M106.4 515.8h.01M106.5 489.7h.01M106.5 517.5h.01M106.5 533.0h.01M106.5 532.0h.01M106.5 532.7h.01M106.6 516.3h.01M106.6 524.1h.01M106.6 540.6h.01M106.6 486.5h.01M106.6 523.3h.01M106.7 539.2h.01M106.7 528.3h.01M106.7 501.3h.01M106.7 529.8h.01M106.7 527.1h.01M106.8 531.8h.01M106.8 538.1h.01M106.8 509.0h.01M106.8 538.6h.01M106.8 527.7h.01M106.8 533.4h.01M106.8 528.4h.01M106.8 538.8h.01M106.8 529.2h.01M106.8 530.5h.01M106.8 539.1h.01M106.8 531.4h.01M106.8 499.9h.01M106.9 511.6h.01M106.9 532.7h.01M106.9 503.7h.01M106.9 523.3h.01M107.0 522.2h.01M107.0 509.3h.01M107.0 531.9h.01M107.0 535.3h.01M107.0 517.1h.01M107.0 533.3h.01M107.0 517.7h.01M107.0 538.5h.01M107.0 508.1h.01M107.0 530.3h.01M107.1 535.1h.01M107.1 500.5h.01M107.1 523.1h.01M107.2 518.4h.01M107.2 534.2h.01M107.2 533.4h.01M107.2 521.7h.01M107.2 535.9h.01M107.2 516.0h.01M107.2 501.2h.01M107.3 494.7h.01M107.3 518.3h.01M107.3 510.1h.01M107.3 532.4h.01M107.4 523.7h.01M107.4 518.5h.01M107.4 534.0h.01M107.4 530.2h.01M107.5 530.7h.01M107.5 527.2h.01M107.5 532.7h.01M107.5 516.9h.01M107.5 533.6h.01M107.5 532.9h.01M107.5 527.2h.01M107.6 534.8h.01M107.7 509.9h.01M107.7 533.1h.01M107.7 522.3h.01M107.8 530.5h.01M107.9 521.9h.01M107.9 530.8h.01M107.9 511.7h.01M107.9 524.5h.01M107.9 532.5h.01M107.9 531.7h.01M107.9 522.8h.01M107.9 538.7h.01M108.0 522.7h.01M108.1 532.2h.01M108.2 530.3h.01M108.2 527.2h.01M108.3 535.0h.01M108.3 509.9h.01M108.3 479.1h.01M108.4 504.8h.01M108.4 532.7h.01M108.4 538.4h.01M108.5 510.5h.01M108.5 538.7h.01M108.6 485.2h.01M108.6 538.2h.01M108.7 534.6h.01M108.7 515.8h.01M108.8 533.0h.01M108.8 537.1h.01M108.8 535.5h.01M108.8 514.6h.01M108.8 506.8h.01M109.0 509.9h.01M109.1 485.8h.01M109.1 514.1h.01M109.1 519.0h.01M109.2 509.7h.01M109.2 533.5h.01M109.3 529.5h.01M109.3 530.7h.01M109.3 535.8h.01M109.3 531.5h.01M109.4 532.5h.01M109.5 540.8h.01M109.5 493.6h.01M109.6 525.3h.01M109.6 469.7h.01M109.6 527.3h.01M109.6 515.3h.01M109.7 538.3h.01M109.8 516.1h.01M109.9 512.2h.01M109.9 534.9h.01M109.9 512.4h.01M110.0 528.3h.01M110.1 523.7h.01M110.1 511.6h.01M110.3 524.6h.01M110.5 470.3h.01M110.6 456.2h.01M110.6 481.7h.01M110.8 451.1h.01M110.8 500.9h.01M110.8 523.4h.01M110.8 539.1h.01M110.8 533.1h.01M110.9 517.0h.01M111.0 513.3h.01M111.1 485.8h.01M111.4 469.8h.01M111.4 531.0h.01M111.5 517.1h.01M111.5 509.3h.01M111.6 517.4h.01M111.7 511.0h.01M111.8 521.3h.01M112.0 531.3h.01M112.0 539.1h.01M112.1 498.3h.01M112.1 517.4h.01M112.2 538.6h.01M112.2 539.6h.01M112.2 524.6h.01M112.2 516.0h.01M112.2 533.4h.01M112.4 534.4h.01M112.5 530.2h.01M112.5 510.1h.01M112.5 531.6h.01M112.6 533.8h.01M112.6 533.4h.01M112.6 533.1h.01M112.6 538.2h.01M112.6 506.0h.01M112.7 495.7h.01M112.7 537.6h.01M112.8 529.6h.01M112.9 540.7h.01M113.0 530.5h.01M113.1 511.8h.01M113.1 526.9h.01M113.1 519.9h.01M113.1 506.4h.01M113.2 534.0h.01M113.3 533.9h.01M113.3 528.4h.01M113.4 524.5h.01M113.4 530.0h.01M113.4 510.9h.01M113.5 537.8h.01M113.5 523.0h.01M113.6 535.1h.01M113.6 530.9h.01M113.6 529.5h.01M113.7 495.6h.01M113.7 537.0h.01M113.8 488.1h.01M113.9 526.9h.01M113.9 522.6h.01M114.0 534.8h.01M114.0 518.4h.01M114.0 508.8h.01M114.1 502.6h.01M114.2 511.1h.01M114.2 490.7h.01M114.2 515.3h.01M114.2 523.6h.01M114.3 530.3h.01M114.3 534.6h.01M114.3 515.7h.01M114.4 525.9h.01M114.4 540.1h.01M114.6 511.1h.01M114.6 524.7h.01M114.6 533.3h.01M114.6 524.8h.01M114.6 524.4h.01M114.7 517.2h.01M114.7 523.9h.01M114.7 507.9h.01M114.7 532.8h.01M114.7 537.1h.01M114.8 516.8h.01M114.8 513.1h.01M114.9 533.8h.01M114.9 459.2h.01M115.0 528.0h.01M115.0 537.5h.01M115.3 440.4h.01M115.4 470.0h.01M115.5 506.6h.01M115.6 499.4h.01M115.7 538.0h.01M115.8 521.8h.01M116.1 519.1h.01M116.1 535.8h.01M116.1 518.6h.01M116.1 523.9h.01M116.1 527.3h.01M116.1 536.8h.01M116.2 531.6h.01M116.2 511.8h.01M116.3 515.1h.01M116.4 517.6h.01M116.5 513.9h.01M116.7 511.3h.01M116.8 521.8h.01M116.8 534.1h.01M116.8 508.5h.01M116.9 523.9h.01M116.9 518.5h.01M117.0 513.5h.01M117.0 535.8h.01M117.1 535.8h.01M117.4 521.4h.01M117.4 492.6h.01M117.4 533.1h.01M117.5 519.2h.01M117.5 536.9h.01M117.6 502.8h.01M117.7 537.5h.01M117.7 516.7h.01M117.7 485.1h.01M117.8 507.6h.01M117.8 533.6h.01M117.9 525.8h.01M118.2 513.9h.01M118.2 538.8h.01M118.3 536.4h.01M118.5 522.8h.01M118.6 508.6h.01M118.9 530.1h.01M119.1 531.8h.01M119.1 514.4h.01M119.2 526.0h.01M119.2 525.0h.01M119.3 489.7h.01M119.3 540.0h.01M119.4 526.7h.01M119.5 539.8h.01M119.6 536.6h.01M119.7 519.4h.01M119.7 534.8h.01M119.7 536.8h.01M119.8 507.6h.01M119.8 536.0h.01M120.0 513.0h.01M120.0 540.5h.01M120.0 534.6h.01M120.0 524.3h.01M120.0 513.6h.01M120.0 510.0h.01M120.1 538.1h.01M120.2 518.2h.01M120.2 538.8h.01M120.3 530.6h.01M120.3 539.8h.01M120.3 514.2h.01M120.3 512.6h.01M120.5 534.5h.01M120.5 506.9h.01M120.5 520.8h.01M120.6 536.3h.01M120.6 520.5h.01M120.6 531.5h.01M120.7 516.5h.01M120.7 502.5h.01M120.8 520.7h.01M120.8 506.9h.01M120.9 530.9h.01M121.0 485.3h.01M121.1 530.2h.01M121.1 470.2h.01M121.2 532.1h.01M121.2 529.6h.01M121.3 538.0h.01M121.5 532.1h.01M121.5 531.8h.01M121.6 533.3h.01M121.7 503.0h.01M121.7 494.4h.01M121.7 478.3h.01M122.0 510.3h.01M122.1 530.5h.01M122.1 503.3h.01M122.1 513.7h.01M122.1 536.7h.01M122.2 499.4h.01M122.2 492.1h.01M122.2 529.2h.01M122.3 528.1h.01M122.3 527.9h.01M122.3 535.1h.01M122.3 509.4h.01M122.4 531.7h.01M122.4 515.2h.01M122.4 481.3h.01M122.4 519.6h.01M122.4 531.1h.01M122.4 506.4h.01M122.4 533.9h.01M122.5 506.2h.01M122.5 484.9h.01M122.5 539.9h.01M122.5 486.2h.01M122.6 511.7h.01M122.6 524.6h.01M122.6 538.8h.01M122.6 531.4h.01M122.7 512.8h.01M122.7 534.0h.01M122.7 515.4h.01M122.7 512.5h.01M122.9 529.3h.01M123.0 512.2h.01M123.0 486.8h.01M123.1 505.2h.01M123.1 505.0h.01M123.1 492.2h.01M123.1 498.9h.01M123.2 489.7h.01M123.3 498.7h.01M123.3 499.9h.01M123.4 508.7h.01M123.5 510.0h.01M123.5 538.9h.01M123.6 535.5h.01M123.7 533.9h.01M123.7 502.0h.01M123.8 530.8h.01M123.8 510.0h.01M123.8 508.4h.01M124.0 534.5h.01M124.1 538.3h.01M124.1 526.9h.01M124.1 506.1h.01M124.2 527.5h.01M124.2 528.6h.01M124.2 518.5h.01M124.2 528.7h.01M124.3 522.9h.01M124.3 514.9h.01M124.4 515.3h.01M124.4 533.9h.01M124.5 506.0h.01M124.5 504.5h.01M124.5 523.3h.01M124.5 517.1h.01M124.6 535.6h.01M124.6 511.1h.01M124.7 527.0h.01M124.7 524.9h.01M124.7 536.5h.01M124.8 535.9h.01M124.9 537.4h.01M124.9 534.8h.01M124.9 535.1h.01M124.9 514.6h.01M125.0 523.2h.01M125.1 537.1h.01M125.2 525.2h.01M125.2 527.6h.01M125.2 531.9h.01M125.2 536.8h.01M125.3 533.0h.01M125.3 481.4h.01M125.3 531.5h.01M125.4 529.4h.01M125.4 534.5h.01M125.4 527.1h.01M125.4 504.5h.01M125.4 521.7h.01M125.5 528.5h.01M125.6 525.4h.01M125.6 487.3h.01M125.7 529.4h.01M125.7 503.2h.01M125.8 531.6h.01M125.8 505.8h.01M125.8 534.7h.01M125.8 532.4h.01M125.9 538.4h.01M125.9 507.6h.01M125.9 540.3h.01M125.9 521.1h.01M125.9 526.3h.01M126.0 505.9h.01M126.0 538.4h.01M126.0 493.8h.01M126.0 513.3h.01M126.0 518.1h.01M126.3 524.9h.01M126.3 506.1h.01M126.3 519.4h.01M126.3 536.8h.01M126.3 512.4h.01M126.3 523.6h.01M126.4 525.9h.01M126.4 519.6h.01M126.5 534.7h.01M126.5 525.4h.01M126.5 518.4h.01M126.5 512.6h.01M126.5 520.9h.01M126.6 510.2h.01M126.6 478.9h.01M126.6 539.1h.01M126.7 511.1h.01M126.7 517.9h.01M126.8 499.2h.01M126.8 538.1h.01M126.8 479.3h.01M126.9 509.1h.01M126.9 528.7h.01M126.9 535.0h.01M126.9 536.1h.01M126.9 506.3h.01M127.0 533.1h.01M127.1 501.7h.01M127.2 538.8h.01M127.3 501.5h.01M127.3 498.5h.01M127.3 529.1h.01M127.3 523.4h.01M127.4 502.8h.01M127.5 508.3h.01M127.5 499.6h.01M127.5 536.4h.01M127.6 535.5h.01M127.6 532.8h.01M127.8 519.0h.01M127.8 523.8h.01M127.9 523.7h.01M203.1 541.0h.01M202.6 532.5h.01M202.4 531.4h.01M202.5 532.5h.01M203.5 534.7h.01M203.3 540.3h.01M204.1 538.5h.01M203.4 540.1h.01M203.8 538.4h.01M203.6 536.7h.01M203.9 536.2h.01M203.8 525.6h.01M204.9 527.8h.01M205.0 533.9h.01M204.4 526.3h.01M205.4 525.1h.01M205.6 531.9h.01M205.3 529.7h.01M205.8 527.9h.01M206.0 533.7h.01M206.6 532.5h.01M206.2 540.2h.01M206.5 528.5h.01M207.2 533.0h.01M207.5 540.8h.01M208.1 537.2h.01M208.3 530.2h.01M208.3 535.3h.01M208.8 534.2h.01M209.3 530.1h.01M210.0 527.7h.01M209.2 527.8h.01M210.0 521.2h.01M210.9 532.0h.01M210.9 535.7h.01M211.4 523.7h.01M211.8 540.2h.01M211.6 520.8h.01M211.4 528.0h.01M212.8 527.2h.01M212.6 529.4h.01M213.4 535.3h.01M213.6 535.4h.01M213.5 537.4h.01M214.0 530.5h.01M213.6 524.5h.01M213.8 530.8h.01M215.0 534.3h.01M214.8 523.6h.01M215.2 540.4h.01M215.7 530.0h.01M215.7 531.5h.01M215.1 527.2h.01M216.2 531.1h.01M217.9 540.0h.01M217.0 525.6h.01M217.7 525.5h.01M218.5 534.0h.01M219.0 530.3h.01M218.5 539.3h.01M219.7 538.1h.01M219.5 538.3h.01M219.3 535.6h.01M219.2 522.6h.01M220.0 531.2h.01M220.3 524.3h.01M220.5 520.6h.01M221.1 528.5h.01M221.1 533.1h.01M221.9 529.3h.01M221.9 535.3h.01M222.3 537.7h.01M223.1 535.6h.01M223.0 538.9h.01M225.5 535.2h.01M224.6 536.9h.01M224.4 536.3h.01M226.0 532.9h.01M225.8 523.2h.01M225.5 521.5h.01M227.0 538.2h.01M226.8 535.0h.01M227.4 532.8h.01M226.9 536.5h.01M227.1 525.2h.01M227.1 531.0h.01M228.2 533.1h.01M228.2 534.4h.01M228.0 539.6h.01M228.1 535.2h.01M227.5 536.3h.01M228.3 523.8h.01M229.2 537.9h.01M228.5 521.0h.01M229.0 527.9h.01M228.8 536.6h.01M229.2 535.6h.01M229.3 539.4h.01M229.9 532.7h.01M229.5 536.0h.01M229.6 530.2h.01M229.4 540.3h.01M230.0 527.6h.01M229.6 527.6h.01M229.5 531.5h.01M229.9 526.7h.01M230.3 529.1h.01M231.0 530.4h.01M231.3 524.6h.01M231.3 535.6h.01M230.7 524.7h.01M231.0 522.7h.01M231.1 534.2h.01M231.1 539.8h.01M231.9 537.8h.01M232.1 525.9h.01M231.5 539.1h.01M231.5 537.9h.01M232.1 540.5h.01M231.7 521.7h.01M232.4 522.8h.01M233.2 532.6h.01M232.3 538.7h.01M233.2 531.4h.01M234.1 528.6h.01M234.2 532.9h.01M233.6 528.1h.01M233.4 535.2h.01M233.4 521.6h.01M233.7 529.1h.01M233.7 528.4h.01M234.6 522.5h.01M234.3 539.5h.01M234.8 522.0h.01M234.4 535.5h.01M236.0 526.0h.01M235.9 522.6h.01M235.9 524.8h.01M235.7 536.4h.01M236.5 533.0h.01M236.3 539.0h.01M237.7 527.7h.01M238.0 538.6h.01M237.9 537.0h.01M237.7 539.5h.01M237.6 524.9h.01M237.6 523.3h.01M238.2 531.0h.01M238.5 538.9h.01M239.0 537.5h.01M238.4 540.1h.01M239.9 532.9h.01M240.0 524.5h.01M239.8 532.7h.01M239.8 534.2h.01M240.7 525.1h.01M240.8 539.0h.01M241.4 526.2h.01M241.5 534.3h.01M241.2 529.3h.01M241.5 527.9h.01M241.6 521.0h.01M241.9 532.1h.01M242.3 520.4h.01M243.0 538.6h.01M242.6 531.8h.01M242.3 526.1h.01M242.8 520.5h.01M242.5 529.4h.01M243.4 523.7h.01M243.4 523.1h.01M243.2 532.7h.01M244.1 527.4h.01M244.5 534.5h.01M244.9 530.2h.01M244.9 530.2h.01M244.1 540.2h.01M244.6 528.3h.01M245.6 529.6h.01M245.5 527.9h.01M245.2 527.1h.01M245.2 535.4h.01M245.0 531.8h.01M246.6 539.1h.01M246.8 529.7h.01M246.1 540.5h.01M246.2 537.3h.01M246.0 533.8h.01M246.5 530.4h.01M247.3 541.0h.01M247.9 536.9h.01M247.7 528.4h.01M247.8 540.4h.01M247.7 538.4h.01M248.6 538.1h.01M248.5 531.6h.01M248.5 527.9h.01M249.4 531.6h.01M249.4 520.9h.01M250.0 532.7h.01M250.3 529.1h.01M250.8 525.4h.01M251.6 534.7h.01M250.9 536.8h.01M251.1 527.5h.01M251.5 538.8h.01M251.5 522.9h.01M202.5 516.2h.01M202.9 529.1h.01M203.1 503.7h.01M203.3 530.5h.01M203.4 521.9h.01M203.4 525.2h.01M203.4 506.8h.01M203.5 504.9h.01M203.5 530.4h.01M203.6 517.4h.01M203.8 524.5h.01M203.8 539.2h.01M204.1 538.0h.01M204.1 527.6h.01M204.1 534.4h.01M204.2 529.9h.01M204.3 492.6h.01M204.3 529.9h.01M204.3 518.5h.01M204.3 536.7h.01M204.4 532.6h.01M204.4 523.2h.01M204.4 500.9h.01M204.4 498.0h.01M204.5 495.6h.01M204.5 498.8h.01M204.5 509.3h.01M204.5 467.1h.01M204.6 487.0h.01M204.9 499.2h.01M205.0 504.3h.01M205.1 478.1h.01M205.1 454.7h.01M205.1 509.5h.01M205.1 528.7h.01M205.1 519.2h.01M205.2 538.1h.01M205.2 514.3h.01M205.2 536.5h.01M205.2 534.0h.01M205.3 533.6h.01M205.3 498.5h.01M205.3 532.0h.01M205.3 493.5h.01M205.4 527.1h.01M205.4 513.2h.01M205.4 524.2h.01M205.5 520.0h.01M205.5 536.1h.01M205.5 512.8h.01M205.6 531.6h.01M205.8 509.0h.01M205.8 529.0h.01M205.9 526.7h.01M205.9 512.5h.01M205.9 529.4h.01M206.0 535.2h.01M206.0 498.9h.01M206.1 527.8h.01M206.1 505.0h.01M206.3 525.7h.01M206.4 537.7h.01M206.6 529.2h.01M206.7 498.1h.01M206.7 492.2h.01M206.7 532.3h.01M206.7 531.3h.01M206.8 524.8h.01M206.8 519.5h.01M206.9 532.7h.01M206.9 523.0h.01M207.1 515.4h.01M207.1 522.4h.01M207.2 520.4h.01M207.2 519.8h.01M207.3 512.4h.01M207.4 521.9h.01M207.4 526.4h.01M207.6 525.8h.01M207.6 500.2h.01M208.0 508.3h.01M208.0 489.2h.01M208.0 519.2h.01M208.2 537.8h.01M208.3 518.5h.01M208.6 532.8h.01M208.8 537.8h.01M208.8 539.3h.01M209.0 528.3h.01M209.0 499.2h.01M209.1 535.4h.01M209.2 531.6h.01M209.3 525.1h.01M209.4 538.9h.01M209.4 515.0h.01M209.4 511.1h.01M209.5 501.7h.01M209.7 527.2h.01M209.7 529.5h.01M209.7 531.3h.01M209.8 533.7h.01M209.8 517.7h.01M209.9 539.5h.01M209.9 525.7h.01M210.0 520.2h.01M210.0 526.0h.01M210.0 523.7h.01M210.0 473.2h.01M210.0 524.0h.01M210.0 525.3h.01M210.1 501.9h.01M210.1 469.5h.01M210.1 486.2h.01M210.2 499.0h.01M210.2 460.2h.01M210.2 491.0h.01M210.3 534.3h.01M210.3 498.0h.01M210.4 509.2h.01M210.5 470.1h.01M210.5 522.9h.01M210.5 520.8h.01M210.6 518.0h.01M210.6 521.2h.01M210.7 524.7h.01M210.7 533.5h.01M210.8 532.3h.01M210.8 533.5h.01M210.8 518.3h.01M210.9 509.6h.01M211.0 536.6h.01M211.0 518.9h.01M211.0 509.8h.01M211.1 535.3h.01M211.2 533.7h.01M211.3 510.8h.01M211.3 465.7h.01M211.3 481.2h.01M211.4 534.0h.01M211.4 517.3h.01M211.6 506.5h.01M211.7 538.9h.01M211.8 520.0h.01M211.8 523.6h.01M211.8 526.2h.01M211.8 506.9h.01M211.9 525.9h.01M211.9 529.3h.01M212.0 524.6h.01M212.0 533.8h.01M212.0 532.4h.01M212.0 503.0h.01M212.0 505.2h.01M212.1 533.7h.01M212.3 501.0h.01M212.3 521.1h.01M212.3 529.3h.01M212.4 536.0h.01M212.4 532.0h.01M212.4 536.1h.01M212.5 538.9h.01M212.5 459.4h.01M212.5 520.4h.01M212.6 532.6h.01M212.7 533.1h.01M212.8 519.1h.01M213.0 507.6h.01M213.0 532.3h.01M213.0 516.3h.01M213.1 515.6h.01M213.1 530.4h.01M213.2 530.4h.01M213.2 506.9h.01M213.2 527.6h.01M213.3 492.2h.01M213.3 529.3h.01M213.4 508.4h.01M213.4 531.0h.01M213.4 524.3h.01M213.5 519.2h.01M213.5 538.3h.01M213.5 529.2h.01M213.6 523.5h.01M213.6 534.7h.01M213.6 516.6h.01M213.7 528.7h.01M213.8 484.8h.01M213.8 533.3h.01M213.8 524.3h.01M213.9 525.3h.01M213.9 521.7h.01M214.0 522.2h.01M214.0 532.2h.01M214.0 533.7h.01M214.1 536.6h.01M214.1 538.5h.01M214.1 512.8h.01M214.1 509.7h.01M214.1 515.1h.01M214.2 526.2h.01M214.2 533.1h.01M214.2 517.0h.01M214.3 537.1h.01M214.3 540.0h.01M214.3 515.3h.01M214.3 502.6h.01M214.4 522.1h.01M214.4 539.8h.01M214.4 530.9h.01M214.4 517.6h.01M214.5 499.8h.01M214.5 528.6h.01M214.5 525.7h.01M214.5 485.0h.01M214.5 540.3h.01M214.5 537.9h.01M214.6 497.2h.01M214.6 533.5h.01M214.6 507.7h.01M214.6 489.8h.01M214.6 521.7h.01M214.6 534.3h.01M214.6 514.1h.01M214.6 539.4h.01M214.6 515.6h.01M214.6 519.5h.01M214.6 532.7h.01M214.7 526.5h.01M214.7 523.7h.01M214.7 533.7h.01M214.8 521.2h.01M214.8 500.0h.01M214.9 537.0h.01M214.9 534.5h.01M214.9 539.7h.01M214.9 507.4h.01M215.0 510.7h.01M215.0 521.4h.01M215.0 512.2h.01M215.0 533.6h.01M215.0 528.6h.01M215.1 517.0h.01M215.1 521.8h.01M215.1 532.0h.01M215.2 534.7h.01M215.2 534.3h.01M215.2 528.3h.01M215.2 535.4h.01M215.3 515.2h.01M215.3 532.8h.01M215.3 532.1h.01M215.3 521.9h.01M215.3 498.0h.01M215.4 533.2h.01M215.5 506.2h.01M215.5 515.1h.01M215.6 525.1h.01M215.6 480.2h.01M215.6 532.4h.01M215.7 528.3h.01M215.7 515.7h.01M215.7 533.4h.01M215.7 535.4h.01M215.8 536.7h.01M215.8 537.1h.01M215.9 516.4h.01M215.9 524.0h.01M215.9 483.9h.01M215.9 508.3h.01M216.0 533.3h.01M216.0 534.9h.01M216.0 460.4h.01M216.0 534.0h.01M216.0 535.0h.01M216.1 522.5h.01M216.1 538.6h.01M216.1 525.8h.01M216.1 512.6h.01M216.1 536.6h.01M216.1 521.4h.01M216.1 520.0h.01M216.1 532.5h.01M216.1 524.1h.01M216.1 528.5h.01M216.2 530.7h.01M216.2 533.5h.01M216.2 498.6h.01M216.2 519.8h.01M216.2 521.8h.01M216.2 466.6h.01M216.4 531.0h.01M216.4 507.5h.01M216.4 526.3h.01M216.5 442.1h.01M216.5 536.6h.01M216.5 469.3h.01M216.5 455.7h.01M216.5 494.6h.01M216.6 525.4h.01M216.6 520.2h.01M216.6 539.0h.01M216.6 530.5h.01M216.7 516.2h.01M216.8 512.1h.01M216.8 523.6h.01M216.9 539.0h.01M216.9 508.4h.01M216.9 506.4h.01M216.9 522.9h.01M216.9 528.7h.01M216.9 534.9h.01M217.0 535.9h.01M217.0 493.3h.01M217.0 463.5h.01M217.0 463.9h.01M217.0 516.2h.01M217.0 529.1h.01M217.1 536.4h.01M217.2 535.7h.01M217.3 525.2h.01M217.3 489.0h.01M217.3 531.3h.01M217.3 530.6h.01M217.4 502.1h.01M217.4 529.0h.01M217.5 537.0h.01M217.6 514.0h.01M217.6 515.8h.01M217.6 517.4h.01M217.6 535.2h.01M217.6 540.2h.01M217.6 531.9h.01M217.7 534.3h.01M217.7 521.5h.01M217.7 518.7h.01M217.8 532.6h.01M217.8 519.0h.01M217.9 529.3h.01M218.0 508.3h.01M218.0 528.4h.01M218.1 534.7h.01M218.2 533.5h.01M218.3 508.1h.01M218.4 526.1h.01M218.4 522.0h.01M218.4 516.4h.01M218.5 504.8h.01M218.6 518.6h.01M218.6 504.5h.01M218.6 533.4h.01M218.7 523.3h.01M218.8 527.6h.01M218.8 480.9h.01M218.9 516.2h.01M219.0 532.5h.01M219.1 535.6h.01M219.1 531.1h.01M219.2 537.4h.01M219.2 535.1h.01M219.4 536.8h.01M219.5 520.0h.01M219.5 497.4h.01M219.5 534.8h.01M219.6 534.1h.01M219.6 528.3h.01M219.6 522.2h.01M219.7 507.8h.01M219.7 533.4h.01M219.7 522.2h.01M219.7 518.3h.01M219.7 526.1h.01M219.8 521.5h.01M219.8 500.4h.01M219.8 487.7h.01M219.9 503.0h.01M219.9 499.7h.01M219.9 484.0h.01M219.9 531.2h.01M220.0 494.3h.01M220.0 535.7h.01M220.0 518.2h.01M220.0 520.2h.01M220.1 499.3h.01M220.1 534.3h.01M220.1 511.9h.01M220.1 537.4h.01M220.1 527.3h.01M220.2 524.6h.01M220.2 528.7h.01M220.2 538.0h.01M220.2 500.0h.01M220.3 536.5h.01M220.3 536.5h.01M220.3 530.6h.01M220.3 538.6h.01M220.3 535.8h.01M220.4 534.3h.01M220.4 531.6h.01M220.4 519.3h.01M220.4 533.7h.01M220.4 490.8h.01M220.4 527.8h.01M220.5 534.7h.01M220.5 513.9h.01M220.5 536.6h.01M220.6 503.9h.01M220.6 530.5h.01M220.6 515.4h.01M220.6 527.4h.01M220.7 534.2h.01M220.7 538.5h.01M220.7 535.4h.01M220.8 501.0h.01M220.8 531.2h.01M220.8 537.9h.01M220.8 513.2h.01M220.8 532.9h.01M220.8 504.2h.01M220.8 530.7h.01M220.8 532.6h.01M220.9 506.9h.01M220.9 538.3h.01M220.9 452.5h.01M221.0 531.4h.01M221.0 503.8h.01M221.1 493.1h.01M221.2 515.7h.01M221.2 539.3h.01M221.2 534.1h.01M221.3 531.1h.01M221.3 480.7h.01M221.3 538.1h.01M221.3 536.0h.01M221.4 535.0h.01M221.5 532.1h.01M221.6 539.1h.01M221.6 523.0h.01M221.7 523.7h.01M221.8 502.7h.01M221.8 525.8h.01M221.8 531.8h.01M221.8 535.5h.01M222.0 494.0h.01M222.0 506.3h.01M222.1 530.7h.01M222.3 498.8h.01M223.0 534.0h.01M223.0 506.0h.01M223.3 513.2h.01M223.6 528.2h.01M223.9 533.2h.01M223.9 537.8h.01M224.2 537.9h.01M224.3 534.3h.01M224.4 540.5h.01M224.6 526.4h.01M225.1 526.9h.01M225.5 527.9h.01M225.6 523.3h.01M225.6 522.8h.01M225.6 506.6h.01M225.6 536.0h.01M225.6 480.3h.01M225.7 539.7h.01M225.7 520.6h.01M225.7 520.5h.01M225.7 522.9h.01M225.8 538.3h.01M225.8 472.1h.01M225.8 462.4h.01M225.8 498.5h.01M225.8 528.2h.01M225.9 539.9h.01M225.9 532.5h.01M225.9 539.4h.01M225.9 501.1h.01M226.0 504.4h.01M226.0 511.0h.01M226.0 531.8h.01M226.0 525.7h.01M226.0 527.6h.01M226.0 537.2h.01M226.1 527.1h.01M226.1 523.6h.01M226.1 530.0h.01M226.1 508.1h.01M226.1 534.1h.01M226.1 523.2h.01M226.2 514.5h.01M226.2 505.8h.01M226.2 517.1h.01M226.2 531.7h.01M226.3 537.9h.01M226.3 537.7h.01M226.3 521.3h.01M226.3 528.7h.01M226.3 518.8h.01M226.3 526.8h.01M226.3 532.1h.01M226.3 537.5h.01M226.4 537.4h.01M226.6 517.1h.01M226.6 514.1h.01M226.6 531.0h.01M226.7 500.3h.01M226.7 537.5h.01M226.8 499.4h.01M226.9 537.1h.01M227.1 515.0h.01M227.1 533.2h.01M227.2 538.6h.01M227.2 515.8h.01M227.2 527.7h.01M227.3 525.2h.01M227.4 508.6h.01M227.5 535.2h.01M227.6 525.0h.01M227.6 511.8h.01M227.6 525.9h.01M227.6 520.1h.01M227.6 516.8h.01M227.7 516.9h.01M227.7 525.1h.01M227.7 499.6h.01M227.8 522.0h.01M227.8 523.3h.01M227.8 523.7h.01M227.8 518.6h.01M227.9 538.4h.01M227.9 537.1h.01M228.0 534.8h.01M228.0 529.0h.01M228.1 539.4h.01M228.1 515.9h.01M228.1 526.3h.01M228.2 525.2h.01M228.3 510.3h.01M228.4 534.7h.01M228.4 532.3h.01M228.5 535.2h.01M228.6 502.0h.01M228.9 515.6h.01M228.9 532.4h.01M228.9 523.7h.01M228.9 481.1h.01M228.9 530.2h.01M229.0 538.5h.01M229.0 532.6h.01M229.0 532.1h.01M229.0 535.2h.01M229.1 532.3h.01M229.3 507.1h.01M229.4 493.4h.01M229.4 525.9h.01M229.4 526.6h.01M229.4 526.0h.01M229.5 538.9h.01M229.7 521.2h.01M229.7 527.0h.01M229.8 504.9h.01M229.8 525.1h.01M229.8 479.9h.01M229.9 531.0h.01M230.0 504.1h.01M230.0 509.6h.01M230.0 528.2h.01M230.0 533.5h.01M230.0 538.4h.01M230.1 520.3h.01M230.1 486.0h.01M230.2 487.9h.01M230.2 467.3h.01M230.3 496.7h.01M230.5 503.1h.01M230.5 505.4h.01M230.8 504.9h.01M230.8 506.8h.01M230.9 499.8h.01M231.0 510.2h.01M231.1 502.8h.01M231.1 509.4h.01M231.2 498.7h.01M231.3 536.9h.01M231.4 534.8h.01M231.4 524.9h.01M231.4 509.9h.01M231.4 529.4h.01M231.5 536.0h.01M231.5 527.2h.01M231.6 521.7h.01M231.6 533.5h.01M231.6 527.2h.01M231.6 532.1h.01M231.7 521.6h.01M231.7 532.2h.01M231.8 531.0h.01M231.9 537.5h.01M232.0 530.1h.01M232.0 524.4h.01M232.0 516.2h.01M232.0 531.0h.01M232.1 527.5h.01M232.1 493.3h.01M232.1 492.9h.01M232.3 534.2h.01M232.3 513.3h.01M232.3 536.9h.01M232.3 530.0h.01M232.3 510.1h.01M232.4 527.2h.01M232.4 510.4h.01M232.5 522.1h.01M232.6 501.6h.01M232.8 519.0h.01M232.8 529.1h.01M232.9 523.4h.01M232.9 515.8h.01M232.9 518.6h.01M233.0 533.7h.01M233.0 518.8h.01M233.3 505.2h.01M233.3 520.9h.01M233.4 530.7h.01M233.5 516.2h.01M233.6 510.3h.01M233.6 525.5h.01M233.6 531.3h.01M233.7 521.9h.01M233.7 463.3h.01M233.7 536.6h.01M233.8 532.0h.01M233.8 531.5h.01M233.9 532.4h.01M234.0 524.4h.01M234.0 537.6h.01M234.0 529.0h.01M234.1 528.8h.01M234.1 535.2h.01M234.2 532.2h.01M234.2 513.0h.01M234.3 539.7h.01M234.3 525.1h.01M234.3 504.6h.01M234.4 530.4h.01M234.4 520.3h.01M234.4 527.4h.01M234.4 532.1h.01M234.4 503.4h.01M234.4 525.2h.01M234.4 523.4h.01M234.6 519.2h.01M234.6 535.2h.01M234.7 470.6h.01M234.7 518.7h.01M234.8 489.3h.01M234.8 538.3h.01M234.9 523.6h.01M234.9 533.7h.01M234.9 529.8h.01M235.0 517.5h.01M235.0 514.6h.01M235.0 527.8h.01M235.1 535.6h.01M235.1 532.9h.01M235.1 499.1h.01M235.2 505.9h.01M235.2 489.3h.01M235.2 453.2h.01M235.2 496.5h.01M235.3 504.1h.01M235.3 535.2h.01M235.3 521.3h.01M235.3 514.1h.01M235.4 523.1h.01M235.5 532.4h.01M235.5 487.0h.01M235.5 507.9h.01M235.5 512.2h.01M235.6 527.0h.01M235.6 510.8h.01M235.7 537.3h.01M235.7 503.7h.01M235.7 532.5h.01M235.7 526.0h.01M235.9 517.3h.01M235.9 511.4h.01M236.0 539.1h.01M236.0 539.2h.01M236.0 522.4h.01M236.1 470.4h.01M236.1 515.6h.01M236.1 478.9h.01M236.1 509.6h.01M236.1 479.6h.01M236.2 474.3h.01M236.2 531.6h.01M236.2 489.5h.01M236.4 519.8h.01M236.5 528.3h.01M236.6 476.1h.01M236.8 539.7h.01M236.9 540.1h.01M236.9 539.2h.01M237.1 530.2h.01M237.1 484.9h.01M237.3 493.1h.01M237.3 526.3h.01M237.3 496.1h.01M237.5 496.0h.01M237.7 477.7h.01M237.7 524.6h.01M237.8 503.9h.01M238.0 537.6h.01M238.1 532.9h.01M238.2 535.5h.01M238.2 534.2h.01M238.2 496.5h.01M238.2 526.5h.01M238.2 527.4h.01M238.2 535.5h.01M238.3 517.6h.01M238.3 499.6h.01M238.4 532.2h.01M238.4 522.3h.01M238.4 510.8h.01M238.4 526.8h.01M238.4 532.2h.01M238.4 534.4h.01M238.4 470.5h.01M238.5 506.0h.01M238.5 530.4h.01M238.5 516.1h.01M238.6 524.2h.01M238.6 518.3h.01M238.6 523.9h.01M238.6 530.4h.01M238.6 530.9h.01M238.7 528.8h.01M238.7 532.6h.01M238.7 495.2h.01M238.7 528.4h.01M238.8 528.4h.01M238.8 526.9h.01M238.8 528.7h.01M238.8 538.7h.01M238.9 534.2h.01M238.9 510.9h.01M238.9 540.8h.01M238.9 537.4h.01M239.0 532.1h.01M239.0 518.2h.01M239.0 526.3h.01M239.1 522.5h.01M239.3 528.7h.01M239.3 524.3h.01M239.4 527.9h.01M239.5 525.3h.01M239.5 534.4h.01M239.5 509.7h.01M239.6 532.9h.01M239.7 536.2h.01M239.7 533.2h.01M239.9 522.1h.01M239.9 508.1h.01M239.9 534.1h.01M240.0 506.2h.01M240.0 502.2h.01M240.1 450.7h.01M240.1 502.3h.01M240.2 510.9h.01M240.3 539.6h.01M240.3 533.0h.01M240.3 535.5h.01M240.3 512.5h.01M240.3 495.4h.01M240.4 524.6h.01M240.4 520.2h.01M240.4 505.5h.01M240.5 535.1h.01M240.5 517.9h.01M240.5 524.4h.01M240.5 518.5h.01M240.6 525.0h.01M240.6 533.2h.01M240.6 517.9h.01M240.6 534.5h.01M240.6 522.3h.01M240.7 526.3h.01M240.7 533.4h.01M240.8 536.8h.01M240.8 514.1h.01M240.8 481.9h.01M240.8 534.1h.01M240.8 504.7h.01M240.9 512.1h.01M240.9 530.0h.01M240.9 521.7h.01M240.9 519.6h.01M240.9 533.1h.01M241.0 525.4h.01M241.0 520.8h.01M241.0 537.8h.01M241.1 531.6h.01M241.1 522.6h.01M241.1 529.1h.01M241.1 538.4h.01M241.2 477.2h.01M241.2 532.4h.01M241.2 531.5h.01M241.3 502.6h.01M241.3 532.1h.01M241.3 493.3h.01M241.4 526.8h.01M241.4 530.7h.01M241.4 468.5h.01M241.4 529.7h.01M241.4 518.3h.01M241.5 529.2h.01M241.5 536.1h.01M241.5 517.2h.01M241.5 515.2h.01M241.6 499.7h.01M241.6 535.6h.01M241.6 526.3h.01M241.6 529.5h.01M241.7 523.9h.01M241.7 524.4h.01M241.7 535.8h.01M241.7 495.4h.01M241.7 540.1h.01M241.7 491.2h.01M241.7 514.3h.01M241.8 540.3h.01M241.8 524.2h.01M241.8 537.5h.01M241.8 518.0h.01M241.9 536.0h.01M241.9 535.9h.01M242.0 518.4h.01M242.1 532.3h.01M242.1 527.8h.01M242.2 529.7h.01M242.2 536.4h.01M242.2 517.5h.01M242.2 531.3h.01M242.2 532.6h.01M242.3 515.1h.01M242.3 530.3h.01M242.3 520.0h.01M242.4 487.8h.01M242.4 516.6h.01M242.4 509.5h.01M242.4 520.1h.01M242.5 538.2h.01M242.5 529.6h.01M242.5 510.6h.01M242.6 534.1h.01M242.7 533.7h.01M242.7 531.3h.01M242.7 529.8h.01M242.8 501.7h.01M242.8 519.2h.01M242.8 530.9h.01M242.9 529.0h.01M242.9 488.4h.01M242.9 526.2h.01M242.9 522.3h.01M242.9 540.2h.01M243.0 533.4h.01M243.0 528.5h.01M243.0 523.6h.01M243.0 537.8h.01M243.0 527.6h.01M243.1 510.0h.01M243.1 529.6h.01M243.2 523.9h.01M243.2 540.5h.01M243.2 536.3h.01M243.2 521.5h.01M243.3 524.9h.01M243.3 486.8h.01M243.3 535.0h.01M243.3 533.2h.01M243.3 535.2h.01M243.4 538.7h.01M243.4 516.3h.01M243.4 527.1h.01M243.5 526.0h.01M243.5 526.1h.01M243.5 531.8h.01M243.5 530.3h.01M243.5 529.9h.01M243.5 498.7h.01M243.6 517.5h.01M243.6 514.6h.01M243.6 531.6h.01M243.6 533.1h.01M243.7 510.7h.01M243.7 538.4h.01M243.7 535.3h.01M243.7 530.1h.01M243.8 521.9h.01M243.8 538.2h.01M243.8 507.2h.01M243.8 516.4h.01M243.8 529.3h.01M243.9 526.5h.01M243.9 523.4h.01M244.0 526.2h.01M244.0 522.4h.01M244.0 513.2h.01M244.0 539.5h.01M244.0 522.3h.01M244.0 540.2h.01M244.0 540.0h.01M244.0 530.0h.01M244.0 539.7h.01M244.0 538.6h.01M244.1 533.1h.01M244.1 531.4h.01M244.1 533.8h.01M244.1 534.3h.01M244.1 533.2h.01M244.4 516.4h.01M244.4 496.0h.01M244.5 514.3h.01M244.6 510.0h.01M244.6 499.4h.01M244.9 536.7h.01M244.9 508.8h.01M245.0 498.0h.01M245.1 534.9h.01M245.2 535.2h.01M245.2 534.3h.01M245.3 482.8h.01M245.3 513.5h.01M245.3 499.9h.01M245.4 518.6h.01M245.5 506.6h.01M245.5 533.1h.01M245.5 511.7h.01M245.7 481.4h.01M245.7 534.5h.01M245.9 527.1h.01M246.0 506.4h.01M246.0 533.7h.01M246.3 513.0h.01M246.3 518.2h.01M246.4 521.1h.01M246.5 519.6h.01M246.6 534.1h.01M246.7 537.6h.01M246.8 536.4h.01M246.8 529.1h.01M246.9 527.3h.01M246.9 531.4h.01M246.9 513.1h.01M246.9 522.6h.01M247.0 535.4h.01M247.2 533.0h.01M247.2 465.1h.01M247.6 521.1h.01M247.6 528.2h.01M247.7 525.0h.01M247.7 530.6h.01M247.7 524.5h.01M247.7 524.0h.01M247.8 531.3h.01M247.8 527.1h.01M247.9 518.3h.01M247.9 536.5h.01M247.9 531.5h.01M247.9 531.8h.01M248.0 536.4h.01M248.0 527.2h.01M248.0 525.9h.01M248.0 539.4h.01M248.0 532.9h.01M248.1 522.8h.01M248.1 524.4h.01M248.1 537.4h.01M248.1 536.0h.01M248.2 535.8h.01M248.2 515.4h.01M248.2 537.4h.01M248.3 504.5h.01M248.4 540.1h.01M248.4 536.4h.01M248.4 518.5h.01M248.5 533.4h.01M248.5 481.6h.01M248.5 507.3h.01M248.6 540.5h.01M248.6 530.6h.01M248.6 513.1h.01M248.7 535.9h.01M248.7 528.4h.01M248.7 525.5h.01M248.7 536.4h.01M248.7 530.8h.01M248.8 526.1h.01M248.8 533.7h.01M248.9 527.1h.01M249.0 530.0h.01M249.0 517.1h.01M249.0 513.2h.01M249.0 517.7h.01M249.1 507.1h.01M249.1 528.6h.01M249.1 531.5h.01M249.1 513.1h.01M249.2 527.5h.01M249.2 520.2h.01M249.3 522.4h.01M249.3 505.7h.01M249.4 509.1h.01M249.5 526.5h.01M249.5 528.5h.01M249.6 510.9h.01M249.6 519.8h.01M249.6 500.9h.01M249.7 538.7h.01M249.7 536.9h.01M249.7 536.0h.01M249.8 516.3h.01M249.8 536.1h.01M249.9 517.1h.01M249.9 536.5h.01M249.9 525.5h.01M250.1 529.7h.01M250.2 521.5h.01M250.3 538.4h.01M250.3 505.5h.01M250.3 532.1h.01M250.4 509.1h.01M250.4 507.3h.01M250.5 497.4h.01M250.6 478.1h.01M250.7 466.4h.01M250.7 510.9h.01M250.7 507.9h.01M250.8 463.3h.01M250.8 492.0h.01M251.0 484.9h.01M251.1 498.5h.01M251.1 534.8h.01M251.1 536.2h.01M251.1 514.3h.01M251.2 514.2h.01M251.3 467.0h.01M251.3 517.9h.01M251.4 509.8h.01M251.4 522.9h.01M251.5 528.1h.01M251.6 514.3h.01M251.8 532.4h.01M312.1 538.8h.01M312.1 528.7h.01M311.9 534.2h.01M311.9 537.1h.01M311.7 526.8h.01M312.4 540.9h.01M313.6 539.6h.01M314.3 540.5h.01M315.4 534.3h.01M315.3 538.3h.01M315.5 535.0h.01M315.9 536.2h.01M317.0 527.4h.01M316.5 531.7h.01M316.9 534.9h.01M317.7 529.1h.01M317.7 531.9h.01M317.8 528.8h.01M317.9 534.0h.01M317.2 538.5h.01M317.5 536.9h.01M318.8 525.0h.01M319.5 523.0h.01M319.7 529.3h.01M319.3 531.4h.01M319.3 531.9h.01M319.3 532.7h.01M320.7 521.3h.01M320.6 532.6h.01M320.1 524.5h.01M320.9 520.8h.01M320.8 538.9h.01M320.8 523.2h.01M321.5 535.9h.01M321.9 539.1h.01M321.4 540.4h.01M321.5 523.6h.01M322.0 528.4h.01M321.5 527.3h.01M322.2 532.0h.01M322.4 536.4h.01M322.6 537.9h.01M322.5 537.8h.01M323.0 539.4h.01M323.5 536.1h.01M323.4 526.1h.01M323.1 532.5h.01M324.5 525.5h.01M324.0 525.9h.01M325.7 541.0h.01M325.3 522.0h.01M325.5 540.7h.01M325.8 521.5h.01M325.8 529.1h.01M325.9 522.3h.01M326.1 538.3h.01M326.8 538.7h.01M327.0 533.7h.01M328.2 539.4h.01M328.2 540.7h.01M328.0 538.3h.01M329.9 524.6h.01M329.6 525.9h.01M329.2 527.5h.01M330.7 532.5h.01M330.2 520.7h.01M330.7 523.7h.01M330.8 537.5h.01M330.7 534.1h.01M331.0 533.4h.01M331.3 525.9h.01M331.4 528.1h.01M331.8 528.4h.01M332.5 536.9h.01M332.1 534.1h.01M332.2 531.7h.01M332.4 526.7h.01M332.0 538.3h.01M332.8 528.2h.01M332.6 539.0h.01M333.5 533.9h.01M333.6 525.9h.01M333.3 524.8h.01M333.8 530.4h.01M333.0 523.0h.01M334.2 534.3h.01M334.9 533.8h.01M335.7 523.8h.01M335.8 528.8h.01M336.0 525.4h.01M336.0 534.4h.01M335.9 525.6h.01M336.0 539.8h.01M335.3 533.1h.01M336.4 539.7h.01M337.3 527.2h.01M337.5 527.4h.01M337.7 532.0h.01M337.0 526.1h.01M337.1 535.6h.01M337.5 532.8h.01M338.0 539.4h.01M338.1 524.3h.01M338.9 528.0h.01M338.2 525.3h.01M338.2 530.2h.01M339.2 529.4h.01M339.1 527.3h.01M339.3 534.2h.01M339.3 536.6h.01M340.9 534.2h.01M340.8 539.5h.01M340.5 535.5h.01M340.3 540.7h.01M342.8 525.7h.01M342.8 531.2h.01M342.5 525.7h.01M342.7 529.5h.01M343.7 537.9h.01M343.8 531.5h.01M344.0 529.7h.01M343.1 525.8h.01M344.5 533.7h.01M345.0 523.0h.01M345.5 526.5h.01M345.3 532.5h.01M345.4 537.9h.01M345.4 535.6h.01M347.0 531.9h.01M346.3 524.6h.01M346.1 521.0h.01M346.8 532.5h.01M346.8 536.1h.01M347.7 525.3h.01M347.4 528.5h.01M347.8 523.6h.01M347.8 524.2h.01M347.7 521.7h.01M347.5 526.9h.01M347.8 528.7h.01M347.7 521.1h.01M349.0 540.4h.01M350.2 520.4h.01M349.5 526.1h.01M349.9 531.9h.01M349.6 526.2h.01M350.3 530.8h.01M351.1 538.6h.01M350.7 530.7h.01M351.6 530.9h.01M351.6 534.1h.01M351.6 523.7h.01M352.0 534.4h.01M351.3 528.1h.01M352.5 539.7h.01M352.5 536.3h.01M352.5 530.0h.01M352.7 521.6h.01M352.9 538.9h.01M352.6 534.5h.01M353.7 533.1h.01M353.5 527.4h.01M353.4 534.4h.01M354.7 535.0h.01M355.2 530.6h.01M355.0 530.7h.01M355.2 525.8h.01M354.3 533.8h.01M354.7 522.7h.01M354.7 525.6h.01M310.4 515.1h.01M310.5 513.1h.01M310.5 504.0h.01M310.7 444.0h.01M310.7 481.7h.01M310.7 499.7h.01M310.8 500.7h.01M310.9 535.0h.01M310.9 497.0h.01M311.0 531.8h.01M311.0 503.8h.01M311.1 539.1h.01M311.1 498.8h.01M311.1 536.7h.01M311.2 534.5h.01M311.2 516.1h.01M311.3 525.5h.01M311.4 536.2h.01M311.4 534.5h.01M311.5 521.0h.01M311.6 528.4h.01M311.6 532.7h.01M311.7 527.1h.01M311.7 522.0h.01M311.8 529.1h.01M312.0 511.3h.01M312.1 521.6h.01M312.2 527.8h.01M312.2 538.3h.01M312.3 505.7h.01M312.4 529.8h.01M312.8 511.5h.01M313.1 524.7h.01M313.1 500.6h.01M313.5 519.4h.01M313.7 538.1h.01M313.8 520.7h.01M313.8 539.8h.01M313.9 536.4h.01M313.9 509.9h.01M314.1 530.1h.01M314.2 517.0h.01M314.2 540.2h.01M314.3 532.7h.01M314.5 537.2h.01M314.7 528.1h.01M315.0 537.1h.01M315.1 522.8h.01M315.3 528.5h.01M315.5 521.0h.01M315.6 539.7h.01M315.7 528.2h.01M315.8 533.8h.01M316.0 517.4h.01M316.1 539.7h.01M316.2 523.1h.01M316.2 530.2h.01M316.9 526.9h.01M316.9 534.8h.01M316.9 534.2h.01M317.0 494.7h.01M317.0 521.9h.01M317.0 534.9h.01M317.0 520.3h.01M317.1 517.1h.01M317.1 528.5h.01M317.2 539.7h.01M317.4 531.6h.01M317.5 513.9h.01M317.6 522.7h.01M317.8 532.1h.01M317.8 538.3h.01M317.8 502.6h.01M317.9 512.2h.01M318.0 526.5h.01M318.1 531.5h.01M318.1 497.1h.01M318.1 487.6h.01M318.1 489.9h.01M318.1 505.3h.01M318.1 447.8h.01M318.2 514.6h.01M318.3 484.3h.01M318.3 444.8h.01M318.3 506.1h.01M318.3 498.1h.01M318.3 505.6h.01M318.3 503.9h.01M318.5 457.7h.01M318.6 534.7h.01M318.7 517.1h.01M318.7 519.6h.01M318.7 537.8h.01M318.8 480.5h.01M318.8 528.7h.01M318.8 514.8h.01M318.9 533.5h.01M318.9 538.5h.01M319.0 530.4h.01M319.0 496.1h.01M319.0 534.7h.01M319.1 516.4h.01M319.1 500.0h.01M319.1 512.7h.01M319.2 535.3h.01M319.4 525.0h.01M319.4 524.7h.01M319.5 501.8h.01M319.6 517.2h.01M319.7 488.9h.01M319.8 525.4h.01M319.8 529.3h.01M320.0 538.5h.01M320.0 526.8h.01M320.2 535.5h.01M320.2 536.4h.01M320.2 519.3h.01M320.2 481.4h.01M320.3 537.8h.01M320.4 536.2h.01M320.4 527.9h.01M320.4 528.5h.01M320.5 535.2h.01M320.6 536.0h.01M320.7 539.5h.01M320.7 520.2h.01M320.7 536.1h.01M320.8 533.6h.01M320.8 530.8h.01M320.8 529.6h.01M320.9 507.0h.01M320.9 531.6h.01M321.1 531.5h.01M321.1 538.7h.01M321.1 505.2h.01M321.2 527.0h.01M321.2 525.2h.01M321.2 523.1h.01M321.2 531.7h.01M321.2 529.7h.01M321.2 540.7h.01M321.4 526.7h.01M321.6 502.5h.01M321.7 508.4h.01M321.7 516.4h.01M321.8 515.4h.01M321.9 514.4h.01M321.9 533.4h.01M322.0 519.9h.01M322.0 528.7h.01M322.0 533.1h.01M322.0 521.8h.01M322.0 497.5h.01M322.1 530.4h.01M322.1 502.9h.01M322.2 533.8h.01M322.3 537.2h.01M322.3 497.0h.01M322.4 529.9h.01M322.4 520.0h.01M322.6 531.9h.01M322.8 524.3h.01M322.9 540.3h.01M323.0 536.4h.01M323.0 534.1h.01M323.3 539.9h.01M323.4 533.1h.01M323.4 512.9h.01M323.5 539.5h.01M323.6 530.7h.01M323.8 530.0h.01M323.8 498.9h.01M323.9 528.2h.01M323.9 532.4h.01M324.0 517.1h.01M324.0 522.6h.01M324.0 523.2h.01M324.1 523.6h.01M324.1 510.9h.01M324.1 522.0h.01M324.2 535.7h.01M324.2 525.1h.01M324.2 536.7h.01M324.2 538.9h.01M324.3 536.0h.01M324.4 534.2h.01M324.4 504.9h.01M324.4 525.1h.01M324.4 521.0h.01M324.5 540.9h.01M324.6 532.1h.01M324.6 534.0h.01M324.7 535.4h.01M324.8 536.8h.01M324.8 521.3h.01M324.9 508.2h.01M325.0 520.6h.01M325.3 510.9h.01M325.4 463.8h.01M325.4 501.7h.01M325.5 509.5h.01M325.7 512.9h.01M325.7 509.5h.01M325.7 488.8h.01M325.7 507.0h.01M325.7 527.5h.01M325.8 525.6h.01M325.8 506.5h.01M325.8 518.2h.01M325.9 533.0h.01M325.9 485.3h.01M326.1 524.3h.01M326.3 533.4h.01M326.4 515.8h.01M326.5 526.7h.01M326.5 500.7h.01M326.7 503.0h.01M326.8 531.1h.01M326.9 520.5h.01M327.0 535.2h.01M327.3 499.1h.01M327.3 465.0h.01M327.4 480.3h.01M327.6 468.6h.01M327.8 503.2h.01M328.2 447.0h.01M328.8 482.8h.01M329.1 509.2h.01M329.3 504.6h.01M329.3 505.7h.01M329.3 507.4h.01M329.4 534.2h.01M329.5 509.0h.01M329.5 530.0h.01M329.6 528.0h.01M329.8 504.6h.01M329.8 540.3h.01M330.0 512.2h.01M330.0 537.0h.01M330.2 513.9h.01M330.4 509.5h.01M330.4 535.9h.01M330.4 535.4h.01M330.5 502.3h.01M330.6 526.4h.01M330.8 518.4h.01M330.8 514.1h.01M330.9 475.9h.01M330.9 523.2h.01M331.0 519.9h.01M331.0 510.3h.01M331.0 522.2h.01M331.0 473.7h.01M331.1 516.3h.01M331.1 537.7h.01M331.2 504.4h.01M331.3 517.8h.01M331.3 509.2h.01M331.5 516.7h.01M331.6 538.5h.01M331.7 531.2h.01M332.0 539.5h.01M332.0 529.6h.01M332.2 527.6h.01M332.3 531.4h.01M332.4 490.4h.01M332.4 537.7h.01M332.5 524.8h.01M332.6 532.6h.01M332.6 519.9h.01M332.6 522.8h.01M332.8 514.0h.01M332.9 523.9h.01M333.0 533.1h.01M333.0 524.8h.01M333.0 536.3h.01M333.1 506.6h.01M333.2 534.2h.01M333.2 540.9h.01M333.2 497.7h.01M333.3 540.1h.01M333.5 527.7h.01M333.6 527.1h.01M333.6 513.1h.01M333.7 512.8h.01M333.8 530.3h.01M333.8 531.3h.01M333.8 531.1h.01M333.9 533.4h.01M333.9 529.3h.01M333.9 539.5h.01M334.0 522.3h.01M334.0 535.4h.01M334.0 503.7h.01M334.3 470.7h.01M334.4 507.6h.01M334.5 507.1h.01M334.6 510.3h.01M334.6 524.8h.01M334.9 530.2h.01M335.2 537.7h.01M335.3 529.7h.01M335.4 532.5h.01M335.4 525.6h.01M335.4 515.9h.01M336.0 516.8h.01M336.4 445.0h.01M336.7 533.1h.01M336.7 538.7h.01M336.7 507.9h.01M336.8 527.3h.01M336.9 520.4h.01M337.0 524.7h.01M337.0 514.7h.01M337.0 514.8h.01M337.1 538.5h.01M337.1 487.2h.01M337.1 508.1h.01M337.1 527.6h.01M337.1 515.0h.01M337.2 531.5h.01M337.2 529.2h.01M337.2 528.0h.01M337.4 524.5h.01M337.4 533.9h.01M337.4 515.0h.01M337.5 523.9h.01M337.5 538.4h.01M337.5 520.3h.01M337.6 521.8h.01M337.6 527.9h.01M337.7 510.7h.01M337.8 536.8h.01M337.8 507.4h.01M337.8 532.8h.01M337.9 539.1h.01M338.0 450.8h.01M338.0 441.7h.01M338.0 507.2h.01M338.0 484.3h.01M338.1 535.5h.01M338.1 511.0h.01M338.1 539.2h.01M338.2 488.6h.01M338.2 535.8h.01M338.3 509.7h.01M338.3 518.6h.01M338.5 486.6h.01M338.5 539.0h.01M338.6 532.9h.01M338.6 504.6h.01M338.6 521.0h.01M338.6 534.4h.01M338.8 510.2h.01M339.0 522.8h.01M339.2 522.7h.01M339.2 537.0h.01M339.2 518.2h.01M339.3 530.8h.01M339.3 525.2h.01M339.4 510.6h.01M339.5 530.8h.01M339.5 530.7h.01M339.5 534.2h.01M339.5 523.5h.01M339.5 498.3h.01M339.5 537.8h.01M339.5 527.6h.01M339.5 533.1h.01M339.6 532.6h.01M339.6 530.7h.01M339.7 527.0h.01M339.7 534.1h.01M339.8 522.9h.01M339.8 529.2h.01M339.9 520.2h.01M339.9 511.4h.01M340.0 492.8h.01M340.0 524.1h.01M340.0 528.4h.01M340.5 530.5h.01M340.5 510.9h.01M340.5 538.7h.01M340.6 536.7h.01M340.8 517.8h.01M340.8 523.7h.01M340.9 520.1h.01M341.0 521.6h.01M341.0 539.3h.01M341.1 508.6h.01M341.2 519.4h.01M341.2 529.0h.01M341.2 518.8h.01M341.6 539.1h.01M341.7 445.5h.01M341.9 471.4h.01M342.1 461.4h.01M342.2 454.5h.01M342.3 470.3h.01M342.3 473.6h.01M342.3 476.0h.01M342.4 452.2h.01M342.5 474.8h.01M342.6 464.6h.01M342.7 472.8h.01M342.7 462.7h.01M342.8 476.1h.01M342.8 449.6h.01M343.0 518.4h.01M343.0 539.2h.01M343.1 497.9h.01M343.1 530.8h.01M343.1 525.4h.01M343.1 518.6h.01M343.3 516.0h.01M343.4 536.2h.01M343.4 511.8h.01M343.4 513.9h.01M343.4 525.7h.01M343.5 535.2h.01M343.5 538.8h.01M343.5 483.8h.01M343.5 536.7h.01M343.5 533.2h.01M343.5 520.6h.01M343.6 512.7h.01M343.6 490.7h.01M343.7 534.7h.01M343.7 538.7h.01M343.8 465.5h.01M343.8 498.5h.01M343.8 532.3h.01M343.9 517.3h.01M343.9 506.9h.01M343.9 500.1h.01M343.9 513.2h.01M343.9 499.9h.01M344.0 508.3h.01M344.0 516.5h.01M344.0 496.8h.01M344.1 536.9h.01M344.1 538.1h.01M344.2 535.6h.01M344.3 515.3h.01M344.4 524.9h.01M344.4 536.4h.01M344.4 526.0h.01M344.4 523.0h.01M344.5 531.4h.01M344.5 534.3h.01M344.5 524.6h.01M344.5 518.7h.01M344.6 521.2h.01M344.6 460.7h.01M344.7 536.3h.01M344.7 534.2h.01M344.7 533.0h.01M344.8 535.9h.01M344.8 514.6h.01M344.8 500.2h.01M344.8 516.8h.01M344.8 494.9h.01M344.8 537.8h.01M344.9 529.9h.01M344.9 523.6h.01M344.9 534.7h.01M344.9 519.8h.01M344.9 539.3h.01M345.0 538.2h.01M345.0 535.9h.01M345.0 497.6h.01M345.0 519.5h.01M345.0 506.7h.01M345.1 531.7h.01M345.1 513.1h.01M345.2 492.3h.01M345.2 523.9h.01M345.2 529.3h.01M345.2 521.2h.01M345.2 510.6h.01M345.2 525.0h.01M345.2 527.1h.01M345.3 512.0h.01M345.3 510.5h.01M345.3 522.1h.01M345.3 528.4h.01M345.3 528.2h.01M345.3 533.0h.01M345.3 509.7h.01M345.3 517.7h.01M345.4 520.8h.01M345.4 518.0h.01M345.4 506.4h.01M345.5 526.9h.01M345.5 533.3h.01M345.5 529.2h.01M345.6 487.7h.01M345.6 529.2h.01M345.6 527.9h.01M345.6 522.5h.01M345.7 530.9h.01M345.7 510.2h.01M345.7 534.4h.01M345.7 529.7h.01M345.8 529.4h.01M345.8 524.8h.01M345.8 539.1h.01M345.8 493.8h.01M345.9 520.3h.01M345.9 527.7h.01M345.9 500.5h.01M346.0 468.1h.01M346.0 540.5h.01M346.0 449.6h.01M346.1 500.4h.01M346.1 479.2h.01M346.1 484.2h.01M346.1 501.1h.01M346.2 511.9h.01M346.2 540.3h.01M346.2 528.3h.01M346.2 537.2h.01M346.3 540.1h.01M346.3 492.3h.01M346.3 527.8h.01M346.3 521.1h.01M346.4 518.9h.01M346.4 537.6h.01M346.4 505.2h.01M346.4 511.8h.01M346.5 528.1h.01M346.5 526.4h.01M346.5 537.8h.01M346.6 535.9h.01M346.6 531.9h.01M346.6 515.4h.01M346.7 528.6h.01M346.7 521.4h.01M346.7 522.6h.01M346.7 524.0h.01M346.7 503.8h.01M346.7 519.8h.01M346.8 518.1h.01M346.8 521.9h.01M346.8 530.1h.01M346.8 513.9h.01M346.9 511.7h.01M346.9 503.8h.01M346.9 521.5h.01M347.0 535.1h.01M347.0 487.9h.01M347.0 485.8h.01M347.0 531.1h.01M347.1 539.3h.01M347.1 516.0h.01M347.2 535.5h.01M347.3 502.1h.01M347.4 475.9h.01M347.4 464.4h.01M347.5 470.3h.01M347.5 537.8h.01M347.6 494.2h.01M347.6 534.0h.01M347.6 508.7h.01M347.7 513.9h.01M347.8 490.8h.01M347.9 506.8h.01M347.9 516.7h.01M348.0 511.5h.01M348.2 506.0h.01M348.2 516.0h.01M348.3 515.6h.01M348.3 538.1h.01M348.4 514.3h.01M348.4 528.9h.01M348.4 535.2h.01M348.5 493.5h.01M348.5 518.1h.01M348.5 533.0h.01M348.6 513.0h.01M348.6 501.7h.01M348.6 518.6h.01M348.7 482.5h.01M348.7 525.8h.01M348.8 536.4h.01M348.8 530.3h.01M348.8 535.2h.01M348.9 524.4h.01M349.0 536.5h.01M349.0 522.0h.01M349.1 513.7h.01M349.1 529.3h.01M349.1 519.6h.01M349.3 528.3h.01M349.4 531.6h.01M349.5 518.0h.01M349.7 537.5h.01M349.7 523.9h.01M349.7 522.1h.01M349.9 532.4h.01M350.0 533.8h.01M350.0 514.3h.01M350.1 506.3h.01M350.1 538.4h.01M350.2 497.4h.01M350.2 530.3h.01M350.2 534.2h.01M350.3 523.7h.01M350.3 504.6h.01M350.3 514.1h.01M350.4 525.0h.01M350.4 518.7h.01M350.4 538.8h.01M350.4 534.2h.01M350.4 501.9h.01M350.4 533.9h.01M350.5 522.0h.01M350.5 524.2h.01M350.5 537.6h.01M350.6 514.4h.01M350.6 526.1h.01M350.6 533.6h.01M350.6 524.7h.01M350.6 518.9h.01M350.6 534.7h.01M350.7 538.0h.01M350.7 537.5h.01M350.7 519.8h.01M350.7 530.3h.01M350.7 520.7h.01M350.7 515.7h.01M350.7 497.6h.01M350.8 505.8h.01M350.8 518.2h.01M350.8 517.8h.01M350.8 535.0h.01M350.8 515.5h.01M350.8 500.2h.01M350.8 532.8h.01M350.9 504.3h.01M350.9 488.9h.01M350.9 511.4h.01M351.0 508.6h.01M351.0 527.3h.01M351.0 538.9h.01M351.0 534.3h.01M351.0 516.9h.01M351.1 508.0h.01M351.1 528.8h.01M351.1 498.8h.01M351.1 523.5h.01M351.1 523.3h.01M351.1 536.5h.01M351.1 516.2h.01M351.2 506.3h.01M351.2 522.4h.01M351.2 537.2h.01M351.2 503.4h.01M351.2 520.9h.01M351.2 515.5h.01M351.2 524.1h.01M351.3 536.7h.01M351.3 520.1h.01M351.3 518.7h.01M351.4 534.3h.01M351.4 529.5h.01M351.4 534.0h.01M351.4 528.7h.01M351.4 529.7h.01M351.5 499.2h.01M351.5 525.2h.01M351.5 521.4h.01M351.5 480.6h.01M351.6 502.8h.01M351.6 539.5h.01M351.6 530.2h.01M351.6 535.2h.01M351.7 519.5h.01M351.7 540.6h.01M351.7 503.6h.01M351.8 527.6h.01M351.8 538.4h.01M351.8 527.9h.01M351.8 516.0h.01M351.8 507.9h.01M351.9 525.6h.01M351.9 516.4h.01M351.9 533.7h.01M351.9 533.6h.01M351.9 512.5h.01M351.9 512.4h.01M351.9 530.3h.01M351.9 507.6h.01M351.9 528.0h.01M351.9 521.4h.01M352.0 528.8h.01M352.0 523.4h.01M352.0 529.6h.01M352.0 534.9h.01M352.0 537.7h.01M352.1 519.5h.01M352.1 537.8h.01M352.1 532.2h.01M352.1 533.8h.01M352.1 516.1h.01M352.1 534.6h.01M352.1 532.9h.01M352.1 527.8h.01M352.2 523.7h.01M352.2 534.2h.01M352.2 518.8h.01M352.2 498.9h.01M352.3 534.4h.01M352.3 514.8h.01M352.3 531.2h.01M352.4 536.4h.01M352.4 533.0h.01M352.4 536.1h.01M352.4 527.3h.01M352.4 534.1h.01M352.4 536.1h.01M352.4 538.8h.01M352.4 522.6h.01M352.4 533.6h.01M352.4 538.9h.01M352.4 527.5h.01M352.5 534.3h.01M352.5 515.0h.01M352.5 480.1h.01M352.6 528.1h.01M352.6 529.3h.01M352.6 534.2h.01M352.7 530.6h.01M352.7 529.1h.01M352.8 510.6h.01M352.8 540.4h.01M352.8 511.9h.01M352.8 513.7h.01M352.8 477.6h.01M352.8 493.6h.01M352.9 518.6h.01M352.9 536.4h.01M353.0 528.5h.01M353.0 533.4h.01M353.0 532.1h.01M353.0 489.7h.01M353.1 476.4h.01M353.1 468.1h.01M353.1 489.0h.01M353.1 492.2h.01M353.2 487.9h.01M353.2 463.3h.01M353.2 473.0h.01M353.2 501.3h.01M353.2 506.0h.01M353.2 482.5h.01M353.2 499.3h.01M353.3 512.9h.01M353.3 510.8h.01M353.4 483.5h.01M353.4 525.9h.01M353.4 518.0h.01M353.4 529.0h.01M353.4 517.0h.01M353.5 511.6h.01M353.5 505.0h.01M353.5 522.4h.01M353.6 534.7h.01M353.6 527.3h.01M353.6 492.7h.01M353.7 521.2h.01M353.8 515.7h.01M353.9 507.4h.01M353.9 533.5h.01M353.9 528.0h.01M353.9 516.7h.01M353.9 527.6h.01M353.9 537.8h.01M354.0 536.1h.01M354.0 459.0h.01M354.1 525.9h.01M354.2 513.1h.01M354.2 524.6h.01M354.2 527.7h.01M354.3 534.2h.01M354.3 516.1h.01M354.4 503.0h.01M354.4 514.1h.01M354.4 517.2h.01M354.4 517.1h.01M354.6 512.1h.01M354.6 506.4h.01M354.6 493.1h.01M354.6 515.8h.01M354.7 445.4h.01M354.8 511.5h.01M354.8 449.2h.01M354.8 539.8h.01M354.9 529.9h.01M354.9 533.3h.01M354.9 538.6h.01M354.9 530.5h.01M354.9 534.7h.01M355.0 477.8h.01M355.1 483.0h.01M355.1 508.7h.01M355.1 516.7h.01M355.1 454.5h.01M355.1 469.4h.01M355.1 501.8h.01M355.1 480.9h.01M355.2 484.7h.01M355.2 514.2h.01M355.2 491.6h.01M355.2 509.5h.01M355.2 483.3h.01M355.3 469.2h.01M355.3 507.8h.01M408.4 530.4h.01M408.4 533.0h.01M408.4 540.6h.01M408.2 527.8h.01M408.6 536.9h.01M409.2 540.8h.01M409.2 536.4h.01M409.0 524.8h.01M410.2 529.2h.01M411.1 520.8h.01M411.2 535.7h.01M412.0 540.1h.01M411.7 534.0h.01M411.9 539.5h.01M411.7 530.9h.01M411.1 540.2h.01M411.8 522.1h.01M411.7 531.6h.01M412.1 523.5h.01M412.1 521.9h.01M412.2 534.3h.01M412.9 528.7h.01M413.4 533.3h.01M413.1 536.8h.01M413.8 530.7h.01M413.6 533.8h.01M413.2 527.1h.01M413.2 539.7h.01M414.2 521.8h.01M414.4 533.6h.01M414.4 524.3h.01M414.7 524.9h.01M414.1 521.6h.01M414.2 532.8h.01M416.0 540.5h.01M416.3 537.8h.01M416.7 522.7h.01M417.2 527.1h.01M417.1 520.6h.01M417.9 540.9h.01M418.1 534.5h.01M418.7 532.4h.01M418.2 522.5h.01M419.3 538.9h.01M419.8 526.0h.01M419.9 535.3h.01M421.0 524.8h.01M421.1 539.3h.01M421.6 536.3h.01M421.4 531.1h.01M421.6 526.9h.01M422.4 535.3h.01M422.4 539.8h.01M422.8 532.6h.01M423.5 534.2h.01M423.1 533.5h.01M424.1 521.3h.01M425.0 538.9h.01M425.6 533.0h.01M426.9 530.9h.01M426.1 539.5h.01M426.2 530.2h.01M427.6 539.1h.01M427.6 529.3h.01M427.1 533.6h.01M427.5 540.2h.01M427.8 521.4h.01M427.6 521.7h.01M429.5 526.5h.01M429.1 538.7h.01M430.8 525.5h.01M430.7 521.4h.01M430.5 533.7h.01M430.8 526.7h.01M430.9 537.0h.01M431.3 533.4h.01M431.5 534.1h.01M431.4 535.9h.01M431.7 528.9h.01M432.7 520.6h.01M432.7 525.9h.01M432.3 528.7h.01M432.0 533.0h.01M432.7 535.5h.01M432.9 522.5h.01M432.9 527.8h.01M433.8 539.1h.01M433.3 526.2h.01M434.6 538.5h.01M434.2 527.6h.01M434.5 533.9h.01M436.6 540.7h.01M436.6 535.6h.01M437.8 522.2h.01M437.8 525.2h.01M437.5 521.2h.01M438.7 527.1h.01M438.5 531.6h.01M438.9 540.9h.01M439.0 541.0h.01M439.0 525.6h.01M439.2 527.7h.01M439.1 535.8h.01M439.3 532.3h.01M439.2 522.3h.01M439.6 536.6h.01M439.3 533.3h.01M440.5 537.5h.01M440.7 540.2h.01M440.9 527.0h.01M440.2 535.9h.01M441.3 532.9h.01M441.6 523.2h.01M441.1 530.7h.01M441.3 532.4h.01M442.0 538.7h.01M442.5 530.4h.01M442.2 531.1h.01M442.7 522.0h.01M443.1 538.8h.01M443.9 539.1h.01M443.8 524.5h.01M444.3 538.1h.01M444.4 523.4h.01M444.6 529.7h.01M445.2 537.5h.01M445.1 537.1h.01M446.3 530.9h.01M446.6 526.0h.01M446.8 533.0h.01M446.3 537.6h.01M408.0 521.2h.01M408.2 507.2h.01M408.4 534.9h.01M408.4 537.0h.01M408.5 504.5h.01M408.5 528.7h.01M408.6 533.3h.01M408.6 511.0h.01M408.6 525.1h.01M408.6 538.1h.01M408.7 529.9h.01M408.7 528.9h.01M408.9 524.3h.01M409.1 528.7h.01M409.1 540.5h.01M409.2 511.5h.01M409.2 518.5h.01M409.2 516.9h.01M409.2 525.0h.01M409.2 531.3h.01M409.3 519.7h.01M409.3 517.6h.01M409.3 505.4h.01M409.4 508.8h.01M409.4 536.4h.01M409.4 515.8h.01M409.4 530.8h.01M409.5 466.7h.01M409.5 533.6h.01M409.6 528.0h.01M409.6 529.4h.01M409.7 518.2h.01M409.7 532.9h.01M409.7 519.0h.01M409.7 534.7h.01M409.8 525.7h.01M409.9 535.1h.01M410.0 532.2h.01M410.0 516.5h.01M410.0 536.0h.01M410.1 511.3h.01M410.1 509.5h.01M410.1 468.9h.01M410.2 487.3h.01M410.3 465.4h.01M410.3 501.3h.01M410.3 504.1h.01M410.4 501.2h.01M410.5 502.4h.01M410.5 515.4h.01M410.6 521.3h.01M410.6 529.3h.01M410.7 537.5h.01M410.7 525.0h.01M410.7 535.8h.01M410.7 536.4h.01M410.7 516.7h.01M410.7 527.0h.01M410.7 500.6h.01M410.7 521.2h.01M410.8 526.8h.01M410.8 517.7h.01M410.8 503.9h.01M410.9 515.8h.01M410.9 534.8h.01M411.0 518.2h.01M411.0 506.5h.01M411.0 516.1h.01M411.0 528.2h.01M411.0 529.4h.01M411.0 507.3h.01M411.1 523.3h.01M411.1 524.7h.01M411.1 498.3h.01M411.2 533.2h.01M411.2 520.8h.01M411.3 536.1h.01M411.5 536.4h.01M411.5 481.2h.01M411.6 532.1h.01M411.7 537.2h.01M411.7 531.8h.01M411.7 519.5h.01M411.7 513.8h.01M411.7 446.8h.01M411.7 514.9h.01M411.9 517.3h.01M411.9 538.2h.01M411.9 517.4h.01M412.0 529.8h.01M412.0 534.3h.01M412.0 534.9h.01M412.2 502.8h.01M412.2 480.0h.01M412.2 501.3h.01M412.3 529.4h.01M412.3 535.1h.01M412.3 534.0h.01M412.3 529.0h.01M412.4 527.7h.01M412.4 519.8h.01M412.4 520.1h.01M412.5 522.4h.01M412.5 510.0h.01M412.6 497.9h.01M412.7 489.4h.01M412.7 441.9h.01M412.8 472.0h.01M413.0 463.2h.01M413.0 474.7h.01M413.0 528.4h.01M413.0 535.9h.01M413.0 509.8h.01M413.1 505.6h.01M413.1 533.6h.01M413.3 516.4h.01M413.5 504.6h.01M413.5 499.7h.01M413.6 522.2h.01M413.7 527.2h.01M413.7 524.5h.01M413.8 523.6h.01M413.9 489.5h.01M414.0 511.5h.01M414.0 530.1h.01M414.1 503.2h.01M414.1 535.8h.01M414.3 536.6h.01M414.4 528.2h.01M414.5 512.0h.01M414.5 528.8h.01M414.6 532.6h.01M414.6 490.4h.01M414.6 537.1h.01M414.7 521.3h.01M414.7 518.6h.01M414.7 530.4h.01M414.8 515.0h.01M414.9 540.2h.01M414.9 491.4h.01M414.9 526.5h.01M415.0 538.1h.01M415.2 535.5h.01M415.3 522.9h.01M415.3 535.4h.01M415.3 537.4h.01M415.5 502.3h.01M415.5 527.2h.01M415.6 497.8h.01M415.6 519.5h.01M415.7 531.7h.01M415.7 530.5h.01M416.0 523.4h.01M416.0 504.6h.01M416.0 504.7h.01M416.0 499.3h.01M416.1 465.7h.01M416.1 536.8h.01M416.1 526.5h.01M416.1 527.9h.01M416.1 531.0h.01M416.1 530.2h.01M416.1 467.7h.01M416.1 480.9h.01M416.2 474.0h.01M416.2 535.5h.01M416.2 537.3h.01M416.2 532.6h.01M416.2 530.5h.01M416.2 524.9h.01M416.2 523.2h.01M416.2 537.3h.01M416.2 504.5h.01M416.3 529.2h.01M416.3 535.7h.01M416.3 508.2h.01M416.3 511.2h.01M416.3 536.8h.01M416.3 538.9h.01M416.3 519.7h.01M416.3 529.7h.01M416.4 503.0h.01M416.4 520.0h.01M416.4 531.8h.01M416.4 538.1h.01M416.4 529.5h.01M416.4 524.3h.01M416.4 491.8h.01M416.5 527.0h.01M416.5 483.8h.01M416.5 504.4h.01M416.5 498.2h.01M416.5 538.9h.01M416.5 510.9h.01M416.5 508.0h.01M416.5 532.2h.01M416.5 519.4h.01M416.5 531.9h.01M416.6 531.9h.01M416.6 454.9h.01M416.6 471.2h.01M416.6 503.4h.01M416.6 514.1h.01M416.6 471.5h.01M416.6 512.7h.01M416.7 510.8h.01M416.7 482.6h.01M416.7 493.7h.01M416.7 496.7h.01M416.7 516.0h.01M416.7 507.2h.01M416.7 496.1h.01M416.7 527.5h.01M416.7 501.6h.01M416.7 524.8h.01M416.7 536.4h.01M416.8 524.2h.01M416.8 506.8h.01M416.8 495.0h.01M416.8 496.1h.01M416.9 497.4h.01M416.9 452.3h.01M416.9 503.4h.01M416.9 491.7h.01M416.9 497.5h.01M416.9 504.2h.01M416.9 506.4h.01M416.9 531.4h.01M416.9 529.9h.01M416.9 527.6h.01M416.9 506.8h.01M417.0 538.9h.01M417.0 485.9h.01M417.0 499.1h.01M417.0 505.8h.01M417.0 469.6h.01M417.1 486.2h.01M417.1 460.0h.01M417.1 505.3h.01M417.2 502.6h.01M417.2 534.4h.01M417.2 534.5h.01M417.2 535.7h.01M417.2 508.3h.01M417.2 512.2h.01M417.3 534.6h.01M417.3 530.0h.01M417.3 500.8h.01M417.3 518.0h.01M417.3 535.3h.01M417.4 534.0h.01M417.4 531.3h.01M417.4 496.4h.01M417.4 510.5h.01M417.4 469.4h.01M417.5 533.3h.01M417.6 515.2h.01M417.6 524.1h.01M417.6 533.8h.01M417.6 513.6h.01M417.6 539.2h.01M417.6 531.6h.01M417.6 532.6h.01M417.8 530.9h.01M417.8 533.4h.01M417.9 539.5h.01M417.9 536.8h.01M417.9 539.4h.01M417.9 519.3h.01M417.9 525.8h.01M418.0 522.3h.01M418.0 508.3h.01M418.0 445.0h.01M418.1 488.1h.01M418.1 470.9h.01M418.1 485.3h.01M418.2 458.7h.01M418.3 469.4h.01M418.3 494.9h.01M418.4 529.6h.01M418.4 508.3h.01M418.4 489.0h.01M418.4 494.9h.01M418.5 485.4h.01M418.5 507.8h.01M418.5 471.2h.01M418.5 492.0h.01M418.6 485.5h.01M418.7 532.3h.01M418.7 532.5h.01M418.8 526.8h.01M418.8 539.2h.01M418.9 517.8h.01M418.9 539.3h.01M419.0 500.8h.01M419.0 524.3h.01M419.1 531.6h.01M419.1 525.3h.01M419.1 510.6h.01M419.2 519.7h.01M419.2 525.0h.01M419.2 535.3h.01M419.3 532.4h.01M419.3 520.1h.01M419.4 521.5h.01M419.4 529.7h.01M419.4 539.4h.01M419.4 529.8h.01M419.5 497.8h.01M419.5 535.8h.01M419.5 528.0h.01M419.5 525.0h.01M419.6 532.7h.01M419.6 531.6h.01M419.7 519.6h.01M419.7 482.9h.01M419.7 503.8h.01M419.8 511.2h.01M419.8 519.7h.01M419.8 534.0h.01M419.9 514.5h.01M419.9 536.3h.01M419.9 525.1h.01M419.9 520.8h.01M419.9 499.5h.01M419.9 525.2h.01M419.9 529.7h.01M420.0 526.3h.01M420.0 521.0h.01M420.0 529.8h.01M420.0 516.6h.01M420.2 533.5h.01M420.3 521.4h.01M420.3 539.5h.01M420.4 528.2h.01M420.5 516.2h.01M420.5 525.3h.01M420.6 537.0h.01M420.7 535.7h.01M420.7 524.5h.01M420.8 480.4h.01M420.9 490.5h.01M421.1 534.4h.01M421.1 523.9h.01M421.2 531.7h.01M421.3 536.4h.01M421.4 515.2h.01M421.5 540.2h.01M421.6 530.6h.01M421.6 526.5h.01M421.7 529.7h.01M421.7 530.7h.01M421.7 532.4h.01M421.7 534.9h.01M421.8 514.9h.01M422.0 456.3h.01M422.0 487.1h.01M422.0 536.5h.01M422.2 530.5h.01M422.2 534.5h.01M422.4 519.3h.01M422.4 539.1h.01M422.5 524.8h.01M422.5 502.0h.01M422.6 498.3h.01M422.7 529.6h.01M422.7 517.3h.01M422.8 516.1h.01M422.9 540.4h.01M422.9 528.8h.01M422.9 503.6h.01M423.0 534.0h.01M423.1 522.1h.01M423.1 535.8h.01M423.1 522.6h.01M423.3 526.3h.01M423.3 537.1h.01M423.4 538.2h.01M423.4 514.3h.01M423.4 537.9h.01M423.5 524.4h.01M423.6 512.4h.01M423.6 540.8h.01M423.7 492.3h.01M423.8 525.2h.01M423.8 529.5h.01M423.8 525.8h.01M423.8 516.0h.01M423.8 516.9h.01M423.8 520.2h.01M423.9 524.4h.01M424.0 535.5h.01M424.1 526.3h.01M424.1 495.0h.01M424.1 484.7h.01M424.1 506.3h.01M424.1 513.4h.01M424.2 519.4h.01M424.3 536.9h.01M424.3 529.2h.01M424.3 514.2h.01M424.3 517.8h.01M424.3 527.4h.01M424.4 537.9h.01M424.4 521.0h.01M424.4 536.8h.01M424.5 529.6h.01M424.5 519.6h.01M424.6 529.2h.01M424.6 529.9h.01M424.6 524.8h.01M424.6 525.3h.01M424.6 525.8h.01M424.7 533.6h.01M424.7 527.3h.01M424.8 521.1h.01M424.8 528.9h.01M424.8 519.1h.01M424.8 521.0h.01M424.8 539.2h.01M424.9 529.8h.01M425.0 536.4h.01M425.0 529.3h.01M425.0 519.5h.01M425.1 536.2h.01M425.1 517.9h.01M425.1 534.5h.01M425.1 529.6h.01M425.1 485.1h.01M425.2 493.3h.01M425.2 530.8h.01M425.4 520.9h.01M425.4 533.8h.01M425.5 527.6h.01M425.5 536.3h.01M425.5 514.1h.01M425.6 447.7h.01M425.8 515.6h.01M425.8 500.6h.01M425.8 490.7h.01M426.0 492.0h.01M426.0 440.7h.01M426.1 509.5h.01M426.1 499.9h.01M426.4 487.6h.01M426.5 500.1h.01M426.5 511.0h.01M426.8 512.7h.01M427.0 476.4h.01M427.0 499.2h.01M427.1 500.0h.01M427.1 493.1h.01M427.1 515.3h.01M427.2 498.5h.01M427.3 492.3h.01M427.3 536.0h.01M427.3 532.9h.01M427.4 526.1h.01M427.4 536.6h.01M427.4 507.5h.01M427.5 522.3h.01M427.5 538.5h.01M427.5 538.0h.01M427.5 507.8h.01M427.6 523.7h.01M427.7 533.8h.01M427.7 533.9h.01M427.8 493.7h.01M427.9 505.1h.01M428.1 508.0h.01M428.1 477.4h.01M428.1 456.2h.01M428.1 458.1h.01M428.2 458.5h.01M428.2 455.8h.01M428.3 491.9h.01M428.3 507.1h.01M428.4 460.2h.01M428.4 518.3h.01M428.5 537.5h.01M428.6 528.1h.01M428.6 527.4h.01M428.6 531.9h.01M428.6 537.4h.01M428.6 530.7h.01M428.8 514.0h.01M428.9 453.9h.01M428.9 499.0h.01M429.0 496.8h.01M429.2 503.7h.01M429.2 536.8h.01M429.2 519.6h.01M429.3 530.9h.01M429.3 526.6h.01M429.4 539.2h.01M429.4 517.8h.01M429.6 503.1h.01M429.6 533.1h.01M429.6 531.5h.01M429.6 462.2h.01M429.7 526.7h.01M429.7 528.4h.01M429.8 532.7h.01M429.8 517.9h.01M430.0 536.3h.01M430.1 533.8h.01M430.2 540.2h.01M430.2 515.4h.01M430.2 481.7h.01M430.2 483.8h.01M430.3 528.9h.01M430.3 534.4h.01M430.5 535.3h.01M430.6 503.0h.01M430.7 523.1h.01M430.7 514.9h.01M430.8 496.6h.01M430.8 539.2h.01M430.9 533.5h.01M430.9 515.7h.01M431.2 525.7h.01M431.3 525.2h.01M431.5 535.4h.01M431.5 488.0h.01M431.7 532.3h.01M431.7 520.9h.01M431.8 526.1h.01M431.8 500.6h.01M431.9 528.1h.01M431.9 505.6h.01M432.0 529.0h.01M432.0 515.3h.01M432.0 527.7h.01M432.0 535.0h.01M432.1 531.9h.01M432.2 533.3h.01M432.3 529.5h.01M432.3 518.2h.01M432.3 531.5h.01M432.4 538.7h.01M432.5 517.6h.01M432.5 538.8h.01M432.5 535.3h.01M432.6 530.8h.01M432.6 498.7h.01M432.6 505.5h.01M432.6 523.0h.01M432.6 522.4h.01M432.7 536.2h.01M432.7 534.4h.01M432.7 533.5h.01M432.8 509.6h.01M432.8 534.2h.01M432.9 532.1h.01M433.0 521.1h.01M433.0 539.5h.01M433.1 532.1h.01M433.1 527.1h.01M433.1 531.1h.01M433.2 538.6h.01M433.3 532.4h.01M433.3 531.9h.01M433.4 534.9h.01M433.4 505.9h.01M433.7 523.1h.01M433.7 462.7h.01M433.7 522.2h.01M433.7 538.2h.01M433.7 514.5h.01M433.8 536.0h.01M433.9 528.2h.01M434.0 534.5h.01M434.1 526.9h.01M434.4 505.8h.01M434.4 537.5h.01M434.6 538.5h.01M434.7 523.7h.01M434.7 515.3h.01M434.7 530.1h.01M434.7 534.0h.01M434.7 503.8h.01M434.9 532.1h.01M434.9 507.9h.01M434.9 528.5h.01M435.0 500.7h.01M435.1 491.7h.01M435.4 498.2h.01M435.6 485.2h.01M435.7 527.6h.01M436.0 523.3h.01M436.0 521.7h.01M436.0 522.7h.01M436.0 534.4h.01M436.1 535.1h.01M436.1 529.3h.01M436.1 526.6h.01M436.1 515.2h.01M436.1 525.2h.01M436.2 512.8h.01M436.2 495.6h.01M436.2 506.1h.01M436.2 511.0h.01M436.3 526.0h.01M436.3 524.4h.01M436.3 536.9h.01M436.4 516.9h.01M436.4 503.0h.01M436.4 528.9h.01M436.4 539.9h.01M436.5 514.2h.01M436.5 532.5h.01M436.5 515.9h.01M436.5 521.6h.01M436.6 527.0h.01M436.6 524.2h.01M436.6 530.2h.01M436.6 537.4h.01M436.7 529.2h.01M436.7 528.0h.01M436.7 522.6h.01M436.7 540.3h.01M436.7 530.9h.01M436.8 512.7h.01M436.8 521.7h.01M436.8 524.6h.01M436.8 528.3h.01M436.8 514.7h.01M436.9 535.9h.01M436.9 522.7h.01M436.9 534.1h.01M436.9 517.8h.01M436.9 536.1h.01M436.9 530.5h.01M437.0 534.3h.01M437.0 496.9h.01M437.0 486.4h.01M437.0 493.7h.01M437.0 498.8h.01M437.0 488.6h.01M437.1 496.1h.01M437.1 536.1h.01M437.1 519.8h.01M437.4 515.4h.01M437.4 537.0h.01M437.5 506.6h.01M437.5 515.9h.01M437.5 532.2h.01M437.5 527.5h.01M437.6 534.4h.01M437.6 516.8h.01M437.6 538.7h.01M437.6 532.0h.01M437.7 532.9h.01M437.7 498.5h.01M437.7 527.5h.01M437.7 512.3h.01M437.8 528.1h.01M437.8 499.3h.01M437.9 522.8h.01M437.9 526.8h.01M437.9 501.8h.01M438.0 525.9h.01M438.2 504.3h.01M438.3 539.9h.01M438.4 468.9h.01M438.4 506.8h.01M438.4 450.3h.01M438.4 506.7h.01M438.6 533.2h.01M438.8 527.5h.01M438.9 515.9h.01M438.9 538.1h.01M439.0 536.8h.01M439.2 522.6h.01M439.2 530.4h.01M439.3 534.6h.01M439.4 539.9h.01M439.5 506.0h.01M439.5 509.8h.01M439.6 515.5h.01M439.6 504.2h.01M439.6 482.3h.01M439.8 505.3h.01M439.8 500.7h.01M440.1 466.5h.01M440.1 512.1h.01M440.2 495.1h.01M440.2 460.4h.01M440.3 509.2h.01M440.3 505.2h.01M440.4 489.2h.01M440.4 515.1h.01M440.4 512.6h.01M440.4 475.2h.01M440.4 513.0h.01M440.5 481.3h.01M440.5 515.6h.01M440.5 513.4h.01M440.6 538.9h.01M440.7 513.9h.01M440.8 477.8h.01M440.8 533.2h.01M440.8 532.6h.01M440.8 517.1h.01M440.9 522.6h.01M441.0 513.9h.01M441.0 522.5h.01M441.0 538.6h.01M441.1 538.2h.01M441.2 512.2h.01M441.4 514.0h.01M441.5 540.4h.01M441.6 534.0h.01M441.6 533.5h.01M441.6 533.3h.01M441.6 531.9h.01M441.8 532.2h.01M441.9 522.7h.01M442.0 508.1h.01M442.1 535.6h.01M442.1 510.5h.01M442.1 536.5h.01M442.1 509.4h.01M442.2 534.6h.01M442.3 539.0h.01M442.3 526.5h.01M442.4 506.7h.01M442.4 525.8h.01M442.5 536.7h.01M442.5 532.8h.01M442.5 532.3h.01M442.5 513.8h.01M442.6 519.2h.01M442.6 533.6h.01M442.6 491.0h.01M442.7 514.0h.01M442.7 477.0h.01M442.8 507.0h.01M442.8 527.3h.01M442.8 525.0h.01M442.8 516.5h.01M442.9 509.2h.01M442.9 498.8h.01M443.0 480.8h.01M443.1 509.0h.01M443.1 525.2h.01M443.3 512.9h.01M443.3 518.6h.01M443.3 534.5h.01M443.3 523.0h.01M443.4 536.2h.01M443.4 524.1h.01M443.5 507.0h.01M443.6 526.1h.01M443.6 513.8h.01M443.6 529.8h.01M443.6 512.1h.01M443.6 540.8h.01M443.6 489.2h.01M443.6 525.6h.01M443.7 511.8h.01M443.7 535.9h.01M443.7 532.5h.01M443.7 468.4h.01M443.9 524.1h.01M443.9 527.9h.01M443.9 523.5h.01M444.0 536.9h.01M444.1 525.1h.01M444.1 514.1h.01M444.1 512.8h.01M444.1 500.4h.01M444.2 462.7h.01M444.2 503.9h.01M444.2 495.0h.01M444.3 480.7h.01M444.3 508.2h.01M444.3 499.0h.01M444.3 508.4h.01M444.3 510.8h.01M444.3 524.6h.01M444.4 503.9h.01M444.4 537.1h.01M444.4 512.1h.01M444.5 486.7h.01M444.6 476.3h.01M444.6 531.2h.01M444.6 489.4h.01M444.6 507.7h.01M444.7 471.9h.01M444.7 491.5h.01M444.7 530.2h.01M444.8 523.7h.01M444.8 516.7h.01M444.9 531.4h.01M444.9 502.5h.01M444.9 518.1h.01M444.9 527.2h.01M445.0 520.7h.01M445.0 510.6h.01M445.0 528.7h.01M445.4 531.3h.01M445.5 525.1h.01M445.5 531.4h.01M445.5 535.7h.01M445.8 508.2h.01M445.9 497.6h.01M446.0 526.3h.01M446.1 529.1h.01M446.1 511.5h.01M446.3 496.3h.01M446.4 512.1h.01M446.4 515.6h.01M446.4 513.8h.01M446.5 513.1h.01M446.5 536.6h.01M446.5 515.7h.01M446.6 528.6h.01M446.6 537.7h.01M446.6 534.4h.01M446.6 508.2h.01M446.6 536.9h.01M446.6 536.6h.01M446.7 521.4h.01M446.7 498.7h.01M446.8 530.8h.01M446.8 524.2h.01M446.9 533.7h.01M446.9 517.4h.01M447.0 521.1h.01M447.0 521.7h.01M447.0 539.4h.01M447.0 526.3h.01M447.0 484.1h.01M494.3 528.4h.01M494.6 537.0h.01M494.1 527.3h.01M494.2 527.1h.01M493.9 532.9h.01M493.9 535.3h.01M494.1 540.2h.01M495.7 523.5h.01M494.8 537.5h.01M496.1 521.9h.01M495.8 537.6h.01M496.2 527.6h.01M496.1 528.5h.01M496.0 524.0h.01M496.1 536.3h.01M497.8 538.5h.01M497.5 538.9h.01M498.2 535.4h.01M499.5 538.0h.01M499.7 525.6h.01M499.7 526.2h.01M500.2 535.3h.01M500.1 541.0h.01M500.4 529.9h.01M500.8 539.2h.01M500.1 540.9h.01M500.9 537.5h.01M501.2 528.7h.01M511.5 535.2h.01M511.4 536.8h.01M511.7 536.9h.01M511.8 534.3h.01M512.0 526.7h.01M512.0 529.6h.01M511.5 540.9h.01M512.5 537.2h.01M512.9 521.0h.01M512.8 530.8h.01M512.3 529.4h.01M513.8 528.7h.01M514.3 529.6h.01M514.5 536.8h.01M514.3 535.2h.01M514.7 536.9h.01M514.4 531.0h.01M515.6 531.4h.01M515.4 524.2h.01M515.1 536.5h.01M515.1 525.1h.01M516.0 529.9h.01M516.5 529.1h.01M516.9 524.1h.01M517.5 540.3h.01M518.0 535.2h.01M517.5 523.7h.01M519.0 524.2h.01M518.7 539.2h.01M518.9 535.9h.01M518.0 529.4h.01M519.9 536.3h.01M520.9 539.7h.01M520.3 527.5h.01M520.8 540.5h.01M521.2 524.1h.01M521.5 529.4h.01M521.6 540.1h.01M522.3 533.0h.01M522.5 526.3h.01M522.3 533.1h.01M523.9 530.0h.01M523.9 528.0h.01M523.6 534.3h.01M523.9 526.2h.01M523.7 533.8h.01M523.4 520.5h.01M524.0 522.3h.01M523.4 525.4h.01M525.0 523.4h.01M524.7 537.8h.01M524.3 525.8h.01M526.0 530.9h.01M525.3 540.4h.01M525.9 523.0h.01M526.0 529.2h.01M526.9 535.1h.01M526.3 530.8h.01M526.9 524.3h.01M527.2 532.8h.01M527.2 523.6h.01M527.3 537.2h.01M527.2 541.0h.01M493.7 534.7h.01M493.8 519.9h.01M493.9 525.6h.01M494.0 519.3h.01M494.0 507.5h.01M494.0 532.3h.01M494.1 486.4h.01M494.2 537.0h.01M494.3 530.2h.01M494.3 539.8h.01M494.7 533.2h.01M494.7 533.0h.01M494.7 539.3h.01M494.7 533.2h.01M494.8 520.2h.01M494.8 508.5h.01M494.8 532.4h.01M494.8 513.5h.01M494.9 516.1h.01M494.9 535.5h.01M494.9 508.9h.01M494.9 463.1h.01M494.9 498.8h.01M495.0 500.4h.01M495.0 514.6h.01M495.0 517.9h.01M495.1 521.6h.01M495.2 535.6h.01M495.2 524.2h.01M495.3 526.7h.01M495.3 504.1h.01M495.3 504.6h.01M495.4 538.4h.01M495.4 533.1h.01M495.4 532.7h.01M495.5 509.2h.01M495.5 524.8h.01M495.6 532.0h.01M495.6 529.3h.01M495.6 515.8h.01M495.7 529.3h.01M495.7 472.0h.01M495.7 516.6h.01M495.7 535.0h.01M495.8 535.2h.01M495.8 487.3h.01M495.8 455.1h.01M495.8 511.0h.01M495.9 538.7h.01M496.0 502.8h.01M496.0 529.2h.01M496.0 520.4h.01M496.0 513.6h.01M496.1 526.6h.01M496.1 528.1h.01M496.4 529.4h.01M496.5 511.4h.01M496.5 526.6h.01M496.5 525.2h.01M496.6 491.4h.01M496.6 539.5h.01M496.7 525.7h.01M496.8 533.6h.01M496.8 533.9h.01M496.8 527.6h.01M497.0 534.5h.01M497.2 523.7h.01M497.3 535.1h.01M497.4 532.2h.01M497.4 527.1h.01M497.5 533.2h.01M497.6 534.0h.01M497.7 488.9h.01M497.8 452.2h.01M497.8 480.6h.01M497.8 504.0h.01M497.9 514.0h.01M497.9 511.4h.01M497.9 495.8h.01M497.9 519.4h.01M497.9 529.6h.01M498.0 527.3h.01M498.0 527.8h.01M498.0 511.0h.01M498.1 526.4h.01M498.1 538.5h.01M498.2 508.5h.01M498.2 522.1h.01M498.2 524.2h.01M498.2 529.8h.01M498.2 524.3h.01M498.3 523.3h.01M498.3 530.5h.01M498.3 533.9h.01M498.3 523.6h.01M498.3 527.8h.01M498.3 534.8h.01M498.4 521.0h.01M498.4 525.8h.01M498.4 493.4h.01M498.4 487.4h.01M498.4 524.9h.01M498.6 533.8h.01M498.6 527.6h.01M498.6 475.5h.01M498.6 528.4h.01M498.7 504.6h.01M498.7 520.8h.01M498.8 528.7h.01M498.8 519.3h.01M498.8 498.7h.01M498.8 499.3h.01M498.8 509.0h.01M498.8 489.2h.01M499.1 529.5h.01M499.1 514.8h.01M499.2 527.2h.01M499.3 516.4h.01M499.3 499.0h.01M499.3 519.9h.01M499.3 525.6h.01M499.4 517.5h.01M499.5 536.8h.01M499.6 517.6h.01M499.6 530.1h.01M499.6 526.4h.01M499.7 515.0h.01M499.9 540.1h.01M499.9 499.3h.01M499.9 528.7h.01M499.9 533.5h.01M499.9 527.5h.01M499.9 506.1h.01M500.0 540.0h.01M500.0 531.3h.01M500.0 535.0h.01M500.0 528.1h.01M500.0 536.2h.01M500.0 508.6h.01M500.0 533.3h.01M500.0 514.8h.01M500.0 514.1h.01M500.0 479.9h.01M500.1 509.5h.01M500.1 507.8h.01M500.1 531.3h.01M500.1 492.0h.01M500.1 534.0h.01M500.1 529.8h.01M500.1 525.2h.01M500.1 536.7h.01M500.1 533.7h.01M500.2 519.7h.01M500.2 489.9h.01M500.2 537.9h.01M500.2 518.8h.01M500.2 524.5h.01M500.3 539.5h.01M500.3 476.8h.01M500.3 523.4h.01M500.3 498.7h.01M500.4 519.3h.01M500.4 519.5h.01M500.5 535.8h.01M500.5 533.4h.01M500.5 520.4h.01M500.5 526.7h.01M500.6 516.1h.01M500.6 539.4h.01M500.6 520.9h.01M500.6 515.5h.01M500.6 538.9h.01M500.6 527.3h.01M500.7 531.1h.01M500.7 519.3h.01M500.7 536.7h.01M500.7 534.3h.01M500.7 535.4h.01M500.8 459.1h.01M500.8 538.1h.01M500.8 529.2h.01M500.8 509.6h.01M500.8 497.2h.01M500.9 524.4h.01M500.9 535.5h.01M500.9 538.9h.01M500.9 498.1h.01M500.9 519.8h.01M500.9 499.9h.01M501.0 540.3h.01M501.0 519.8h.01M501.1 516.4h.01M501.1 537.9h.01M501.1 536.1h.01M501.2 527.8h.01M501.6 521.9h.01M501.6 527.7h.01M501.8 511.6h.01M502.0 521.5h.01M511.0 516.2h.01M511.1 487.4h.01M511.1 492.5h.01M511.2 470.7h.01M511.2 490.1h.01M511.2 487.0h.01M511.2 537.0h.01M511.3 534.0h.01M511.4 515.8h.01M511.5 528.8h.01M511.5 530.2h.01M511.6 532.8h.01M511.6 523.5h.01M511.6 465.1h.01M511.7 536.2h.01M511.7 516.4h.01M511.7 539.4h.01M511.8 529.8h.01M511.9 539.7h.01M512.2 508.2h.01M512.2 539.9h.01M512.4 533.7h.01M512.4 509.2h.01M512.4 524.8h.01M512.4 517.3h.01M512.6 501.1h.01M512.6 519.1h.01M512.6 536.0h.01M512.6 474.4h.01M512.7 515.3h.01M512.7 525.2h.01M512.7 523.4h.01M512.7 525.0h.01M512.9 526.1h.01M512.9 534.5h.01M512.9 503.1h.01M512.9 533.4h.01M513.0 523.5h.01M513.0 531.1h.01M513.0 532.7h.01M513.1 536.0h.01M513.1 531.9h.01M513.2 509.4h.01M513.2 511.9h.01M513.2 522.2h.01M513.3 528.8h.01M513.3 529.0h.01M513.3 530.4h.01M513.3 509.5h.01M513.3 530.8h.01M513.3 511.5h.01M513.3 527.2h.01M513.4 520.7h.01M513.4 497.0h.01M513.4 523.3h.01M513.4 537.0h.01M513.4 529.1h.01M513.4 523.1h.01M513.4 525.8h.01M513.5 497.4h.01M513.5 513.6h.01M513.5 532.9h.01M513.5 526.3h.01M513.5 535.0h.01M513.6 536.4h.01M513.6 512.9h.01M513.6 497.6h.01M513.6 503.9h.01M513.6 478.8h.01M513.7 491.0h.01M513.7 456.7h.01M513.7 499.2h.01M513.8 490.6h.01M513.8 505.7h.01M513.9 485.2h.01M514.0 503.7h.01M514.0 475.2h.01M514.0 529.9h.01M514.0 506.4h.01M514.1 540.4h.01M514.1 529.9h.01M514.1 489.5h.01M514.1 509.9h.01M514.1 520.1h.01M514.2 535.6h.01M514.2 478.6h.01M514.3 537.8h.01M514.4 517.7h.01M514.5 530.8h.01M514.5 533.1h.01M514.5 518.4h.01M514.5 533.7h.01M514.5 511.8h.01M514.5 513.4h.01M514.5 527.6h.01M514.6 532.6h.01M514.6 534.7h.01M514.7 531.6h.01M514.8 511.9h.01M514.8 525.0h.01M514.9 529.6h.01M514.9 531.2h.01M515.0 528.9h.01M515.0 506.3h.01M515.0 530.7h.01M515.0 528.6h.01M515.1 533.3h.01M515.1 513.9h.01M515.1 530.0h.01M515.1 532.9h.01M515.1 509.8h.01M515.1 529.5h.01M515.1 532.4h.01M515.1 441.4h.01M515.2 525.6h.01M515.2 536.0h.01M515.3 522.2h.01M515.3 524.2h.01M515.3 537.3h.01M515.4 525.9h.01M515.4 533.3h.01M515.4 518.8h.01M515.4 533.6h.01M515.5 528.5h.01M515.5 520.3h.01M515.6 539.7h.01M515.6 535.9h.01M515.7 532.9h.01M515.7 512.8h.01M515.7 531.9h.01M515.7 523.7h.01M515.7 515.9h.01M515.8 524.2h.01M515.8 530.2h.01M515.8 500.4h.01M515.8 501.1h.01M515.8 531.1h.01M515.9 532.4h.01M515.9 516.2h.01M515.9 523.1h.01M515.9 537.3h.01M515.9 535.7h.01M515.9 527.6h.01M515.9 520.8h.01M516.0 486.9h.01M516.0 524.3h.01M516.1 535.4h.01M516.1 513.4h.01M516.1 508.1h.01M516.2 534.8h.01M516.3 502.8h.01M516.3 496.9h.01M516.3 517.5h.01M516.4 518.5h.01M516.5 540.4h.01M516.6 533.8h.01M516.6 533.4h.01M516.7 520.2h.01M516.7 537.1h.01M516.7 506.1h.01M516.8 528.9h.01M516.8 481.2h.01M516.9 518.6h.01M517.0 527.5h.01M517.1 520.1h.01M517.1 539.0h.01M517.1 520.0h.01M517.1 513.9h.01M517.1 530.0h.01M517.2 534.9h.01M517.2 535.3h.01M517.2 517.3h.01M517.2 508.7h.01M517.3 536.1h.01M517.3 538.9h.01M517.3 495.2h.01M517.4 514.1h.01M517.4 513.4h.01M517.4 517.8h.01M517.5 523.7h.01M517.5 520.7h.01M517.5 491.3h.01M517.6 531.1h.01M517.6 526.0h.01M517.6 532.6h.01M517.6 514.7h.01M517.7 526.3h.01M517.7 536.1h.01M517.7 482.8h.01M517.7 489.2h.01M517.8 503.9h.01M517.8 499.4h.01M517.9 468.4h.01M517.9 493.9h.01M517.9 495.5h.01M518.0 508.1h.01M518.0 487.9h.01M518.0 528.5h.01M518.1 530.2h.01M518.1 534.5h.01M518.2 528.6h.01M518.3 535.9h.01M518.3 514.0h.01M518.3 512.4h.01M518.3 526.5h.01M518.3 538.2h.01M518.4 536.5h.01M518.4 523.6h.01M518.4 486.3h.01M518.4 499.6h.01M518.5 526.1h.01M518.5 522.1h.01M518.6 533.4h.01M518.6 527.9h.01M518.7 523.0h.01M518.7 532.5h.01M518.7 538.8h.01M518.8 527.5h.01M518.9 533.7h.01M518.9 525.6h.01M519.0 533.2h.01M519.0 498.8h.01M519.1 524.2h.01M519.2 531.1h.01M519.2 531.9h.01M519.3 530.1h.01M519.3 531.4h.01M519.4 540.1h.01M519.4 532.1h.01M519.5 518.5h.01M519.6 494.3h.01M519.6 508.4h.01M519.7 536.7h.01M519.8 459.7h.01M519.8 527.8h.01M519.9 516.0h.01M519.9 519.9h.01M519.9 531.7h.01M520.0 500.5h.01M520.0 507.1h.01M520.1 537.7h.01M520.1 517.1h.01M520.2 521.0h.01M520.2 531.0h.01M520.2 506.7h.01M520.3 523.3h.01M520.4 519.5h.01M520.4 534.9h.01M520.4 530.7h.01M520.4 519.5h.01M520.5 536.9h.01M520.6 513.6h.01M520.6 525.3h.01M520.6 503.7h.01M520.7 515.7h.01M520.7 534.1h.01M520.7 500.3h.01M520.7 522.3h.01M520.7 537.2h.01M520.8 507.3h.01M520.8 538.3h.01M520.9 536.9h.01M520.9 521.3h.01M520.9 528.4h.01M520.9 495.9h.01M520.9 534.8h.01M520.9 533.7h.01M521.0 534.9h.01M521.0 515.9h.01M521.0 510.0h.01M521.1 506.9h.01M521.1 510.1h.01M521.2 507.7h.01M521.2 499.3h.01M521.2 515.1h.01M521.3 516.8h.01M521.3 467.5h.01M521.4 508.4h.01M521.5 539.6h.01M521.5 501.4h.01M521.5 536.9h.01M521.6 486.0h.01M521.6 531.9h.01M521.6 519.3h.01M521.6 512.3h.01M521.6 515.8h.01M521.7 535.1h.01M521.7 529.0h.01M521.7 533.0h.01M521.7 518.5h.01M521.8 533.5h.01M521.8 532.1h.01M521.8 535.7h.01M521.8 531.4h.01M521.9 532.4h.01M521.9 524.7h.01M521.9 537.1h.01M522.0 539.0h.01M522.0 526.5h.01M522.1 536.5h.01M522.2 526.7h.01M522.3 534.9h.01M522.3 539.0h.01M522.3 531.5h.01M522.3 537.1h.01M522.3 532.9h.01M522.3 511.5h.01M522.3 539.2h.01M522.3 517.4h.01M522.4 537.6h.01M522.4 533.8h.01M522.4 527.2h.01M522.4 537.6h.01M522.4 526.3h.01M522.4 520.8h.01M522.4 539.1h.01M522.5 530.0h.01M522.5 520.8h.01M522.5 523.2h.01M522.5 533.2h.01M522.6 497.3h.01M522.6 508.1h.01M522.6 525.1h.01M522.6 526.1h.01M522.7 513.0h.01M522.7 505.1h.01M522.7 519.1h.01M522.7 525.1h.01M522.7 532.4h.01M522.7 483.7h.01M522.8 513.3h.01M522.8 524.5h.01M522.8 527.0h.01M522.8 520.7h.01M522.9 463.9h.01M522.9 476.8h.01M522.9 467.6h.01M522.9 504.3h.01M522.9 507.0h.01M523.0 498.5h.01M523.0 510.9h.01M523.0 468.1h.01M523.1 502.7h.01M523.1 514.5h.01M523.2 501.2h.01M523.2 504.1h.01M523.3 479.1h.01M523.3 466.5h.01M523.3 530.3h.01M523.4 536.5h.01M523.4 516.1h.01M523.5 532.8h.01M523.5 482.3h.01M523.5 494.7h.01M523.6 490.8h.01M523.6 483.6h.01M523.6 488.0h.01M523.7 504.8h.01M523.7 500.3h.01M523.8 506.2h.01M523.8 530.4h.01M523.8 509.6h.01M523.8 536.2h.01M523.8 523.2h.01M523.8 509.9h.01M523.9 535.4h.01M523.9 531.2h.01M523.9 519.7h.01M523.9 535.9h.01M523.9 512.0h.01M524.0 530.5h.01M524.1 524.7h.01M524.1 511.4h.01M524.1 506.2h.01M524.1 514.6h.01M524.1 529.6h.01M524.1 523.4h.01M524.2 536.8h.01M524.2 537.5h.01M524.2 513.6h.01M524.2 533.7h.01M524.3 530.0h.01M524.3 511.7h.01M524.3 523.1h.01M524.3 520.3h.01M524.3 478.5h.01M524.3 461.5h.01M524.4 509.0h.01M524.4 470.3h.01M524.4 498.3h.01M524.5 504.6h.01M524.5 511.4h.01M524.5 489.9h.01M524.6 467.8h.01M524.6 478.7h.01M524.6 525.2h.01M524.6 519.3h.01M524.6 530.1h.01M524.6 538.9h.01M524.6 538.7h.01M524.6 516.8h.01M524.6 537.0h.01M524.7 503.3h.01M524.7 492.9h.01M524.7 523.9h.01M524.7 539.8h.01M524.8 522.8h.01M524.8 522.9h.01M524.9 496.6h.01M524.9 514.3h.01M524.9 509.2h.01M525.0 533.2h.01M525.1 522.5h.01M525.1 530.9h.01M525.1 525.0h.01M525.1 523.7h.01M525.1 526.0h.01M525.2 540.0h.01M525.2 538.4h.01M525.2 524.7h.01M525.3 523.2h.01M525.3 526.2h.01M525.3 537.3h.01M525.4 520.2h.01M525.4 501.4h.01M525.4 507.3h.01M525.5 500.6h.01M525.6 497.8h.01M525.6 502.5h.01M526.0 469.6h.01M526.0 510.8h.01M526.1 507.1h.01M526.2 502.5h.01M526.3 495.0h.01M526.4 496.1h.01M526.4 466.2h.01M526.4 471.4h.01M526.5 507.9h.01M526.5 496.6h.01M526.6 521.9h.01M526.6 527.3h.01M526.6 529.7h.01M526.6 537.6h.01M526.6 517.8h.01M526.7 538.7h.01M526.7 532.6h.01M526.8 530.5h.01M527.0 529.6h.01M527.0 488.7h.01M527.0 509.8h.01M527.1 539.2h.01M527.1 515.3h.01M527.2 533.6h.01M527.2 516.3h.01M527.2 537.1h.01M527.2 530.8h.01M527.2 529.7h.01M527.2 528.1h.01M527.2 520.9h.01M527.2 514.7h.01M527.2 522.6h.01M527.3 521.5h.01M527.3 529.0h.01M527.3 489.4h.01M527.3 532.4h.01M527.3 520.3h.01M527.3 492.6h.01M527.3 539.1h.01M527.4 474.2h.01M527.4 531.6h.01M527.4 523.6h.01M527.4 526.8h.01M527.4 520.9h.01M527.4 530.9h.01M527.4 528.1h.01M527.5 533.3h.01M527.5 519.5h.01M527.5 517.7h.01M527.5 523.9h.01M527.5 536.8h.01M527.5 507.5h.01M527.5 465.2h.01M527.6 510.6h.01M527.6 492.3h.01M527.6 471.7h.01M527.6 501.3h.01M527.6 503.5h.01M527.7 509.6h.01M527.7 519.4h.01M527.7 538.3h.01M527.7 538.6h.01M527.7 496.0h.01M527.7 501.1h.01M527.7 468.1h.01M527.8 502.3h.01M527.8 505.8h.01M527.8 511.7h.01M527.8 517.7h.01M527.8 517.2h.01M527.8 529.0h.01M527.8 495.5h.01M527.8 517.7h.01M527.9 537.5h.01M527.9 535.9h.01M527.9 533.6h.01M527.9 533.6h.01M527.9 514.8h.01M527.9 530.6h.01M528.0 525.0h.01M528.0 527.4h.01M528.0 536.1h.01M570.3 528.5h.01M570.1 528.0h.01M570.1 522.4h.01M570.2 537.5h.01M571.7 539.9h.01M571.5 520.8h.01M571.3 524.3h.01M571.6 531.9h.01M571.9 540.6h.01M572.0 526.2h.01M573.2 520.8h.01M572.6 539.8h.01M572.2 537.5h.01M572.6 532.5h.01M572.3 540.4h.01M573.1 533.2h.01M572.7 537.8h.01M572.4 537.4h.01M574.0 540.7h.01M573.3 529.3h.01M574.1 523.4h.01M573.6 524.2h.01M574.3 524.8h.01M574.0 531.5h.01M573.7 538.1h.01M574.8 538.6h.01M575.1 537.3h.01M576.1 532.1h.01M576.1 537.3h.01M576.1 525.1h.01M576.1 534.6h.01M575.6 532.8h.01M575.6 536.8h.01M576.1 522.0h.01M576.1 540.9h.01M576.5 533.3h.01M576.8 534.6h.01M577.2 532.0h.01M577.0 538.2h.01M577.2 536.6h.01M577.1 534.2h.01M577.3 539.7h.01M578.0 520.9h.01M578.1 524.3h.01M578.1 520.4h.01M578.2 533.2h.01M579.2 532.0h.01M578.8 537.1h.01M579.2 530.4h.01M580.4 529.6h.01M579.9 522.8h.01M580.0 526.5h.01M580.1 537.9h.01M580.8 531.2h.01M580.7 521.6h.01M580.9 524.5h.01M580.0 525.7h.01M581.3 523.1h.01M581.6 527.8h.01M581.2 536.8h.01M581.8 537.8h.01M581.2 522.2h.01M581.0 536.3h.01M582.3 539.0h.01M582.5 528.1h.01M583.4 525.8h.01M583.4 527.5h.01M583.8 530.8h.01M584.6 533.0h.01M584.4 540.6h.01M584.1 522.3h.01M585.5 531.4h.01M585.2 524.8h.01M585.8 526.3h.01M586.1 521.9h.01M586.1 532.7h.01M587.6 529.5h.01M587.4 524.7h.01M588.0 521.3h.01M587.4 535.4h.01M588.6 535.0h.01M588.2 540.9h.01M589.5 534.6h.01M589.6 537.6h.01M589.2 522.9h.01M589.9 535.6h.01M589.8 523.1h.01M589.8 522.2h.01M589.6 528.1h.01M590.5 525.9h.01M590.6 528.7h.01M590.3 523.4h.01M590.7 535.1h.01M590.2 524.1h.01M590.9 533.7h.01M591.4 526.9h.01M591.0 520.7h.01M591.1 523.9h.01M592.9 532.0h.01M592.5 535.4h.01M592.8 534.5h.01M592.6 527.5h.01M592.2 525.9h.01M592.9 539.8h.01M592.7 529.6h.01M593.1 530.9h.01M593.9 529.2h.01M594.6 539.8h.01M594.7 529.3h.01M594.8 533.9h.01M594.0 525.8h.01M594.9 531.6h.01M595.6 525.5h.01M595.0 522.6h.01M595.6 536.1h.01M596.0 528.4h.01M596.1 526.1h.01M597.1 523.0h.01M596.9 532.7h.01M597.0 536.3h.01M598.8 527.9h.01M598.7 531.6h.01M598.6 528.1h.01M599.0 537.7h.01M599.2 536.4h.01M599.3 539.0h.01M599.5 530.4h.01M599.1 536.7h.01M600.1 533.4h.01M600.3 532.8h.01M600.7 536.2h.01M599.9 526.7h.01M599.9 526.4h.01M601.1 535.3h.01M601.7 528.9h.01M601.5 524.1h.01M601.4 536.5h.01M601.2 532.0h.01M601.1 540.4h.01M602.2 524.1h.01M602.4 537.9h.01M602.1 530.0h.01M570.1 525.2h.01M570.1 516.1h.01M570.2 522.1h.01M570.4 529.4h.01M570.5 531.3h.01M570.6 527.0h.01M570.6 484.3h.01M570.6 518.0h.01M570.7 513.7h.01M570.7 525.3h.01M570.8 528.4h.01M570.8 536.8h.01M570.8 536.7h.01M570.8 524.4h.01M570.9 526.0h.01M571.1 530.3h.01M571.1 514.6h.01M571.1 524.3h.01M571.1 527.9h.01M571.2 527.3h.01M571.2 536.4h.01M571.2 496.4h.01M571.2 524.3h.01M571.2 525.2h.01M571.2 521.4h.01M571.2 476.2h.01M571.3 516.5h.01M571.4 516.4h.01M571.4 493.3h.01M571.5 494.4h.01M571.6 487.3h.01M571.7 538.6h.01M571.8 530.4h.01M571.8 515.4h.01M571.8 492.9h.01M571.9 513.3h.01M572.0 521.1h.01M572.0 526.2h.01M572.0 525.9h.01M572.1 496.1h.01M572.1 507.9h.01M572.1 515.6h.01M572.1 531.1h.01M572.1 532.1h.01M572.2 534.4h.01M572.2 521.5h.01M572.2 509.5h.01M572.3 540.1h.01M572.3 533.1h.01M572.5 531.6h.01M572.5 533.0h.01M572.5 522.3h.01M572.5 505.3h.01M572.5 501.7h.01M572.5 533.4h.01M572.5 529.5h.01M572.5 523.5h.01M572.5 490.9h.01M572.6 516.4h.01M572.6 509.5h.01M572.6 500.6h.01M572.6 526.6h.01M572.6 530.5h.01M572.7 537.6h.01M572.7 510.2h.01M572.7 530.7h.01M572.7 531.1h.01M572.7 510.3h.01M572.7 533.4h.01M572.7 538.6h.01M572.7 512.0h.01M572.8 534.3h.01M572.8 483.8h.01M572.8 535.7h.01M572.8 509.9h.01M572.9 473.2h.01M572.9 521.2h.01M572.9 517.9h.01M572.9 481.1h.01M572.9 483.9h.01M573.0 516.6h.01M573.0 526.2h.01M573.0 530.0h.01M573.0 521.4h.01M573.1 516.0h.01M573.1 536.6h.01M573.1 537.1h.01M573.1 533.0h.01M573.1 522.9h.01M573.1 532.1h.01M573.1 510.7h.01M573.1 504.0h.01M573.1 519.8h.01M573.1 520.2h.01M573.2 522.4h.01M573.2 475.8h.01M573.2 532.9h.01M573.2 519.3h.01M573.2 536.1h.01M573.3 524.3h.01M573.3 536.6h.01M573.4 510.1h.01M573.4 519.9h.01M573.4 513.6h.01M573.5 519.1h.01M573.5 505.7h.01M573.5 485.0h.01M573.5 499.3h.01M573.6 521.4h.01M573.6 538.6h.01M573.6 530.1h.01M573.6 517.4h.01M573.7 533.1h.01M573.7 505.5h.01M573.7 523.8h.01M573.7 517.5h.01M573.8 500.5h.01M573.8 532.1h.01M573.8 517.3h.01M573.8 493.3h.01M573.8 482.2h.01M573.8 532.7h.01M573.8 536.6h.01M573.8 532.2h.01M573.9 521.2h.01M573.9 536.6h.01M573.9 536.0h.01M573.9 533.5h.01M573.9 529.0h.01M574.0 501.4h.01M574.0 527.6h.01M574.0 536.1h.01M574.0 521.1h.01M574.0 524.4h.01M574.1 497.4h.01M574.1 531.0h.01M574.1 519.6h.01M574.2 526.0h.01M574.2 534.5h.01M574.3 530.5h.01M574.3 514.4h.01M574.3 487.7h.01M574.4 536.6h.01M574.5 534.5h.01M574.9 507.9h.01M574.9 518.2h.01M575.0 517.8h.01M575.4 517.7h.01M575.4 526.3h.01M575.5 538.2h.01M575.5 539.4h.01M575.5 530.0h.01M575.5 506.2h.01M575.5 532.2h.01M575.5 486.3h.01M575.6 536.5h.01M575.6 538.8h.01M575.6 505.4h.01M575.6 527.7h.01M575.6 532.5h.01M575.6 537.1h.01M575.7 519.9h.01M575.7 539.1h.01M575.7 534.2h.01M575.8 529.0h.01M575.8 537.5h.01M575.8 512.6h.01M575.8 519.2h.01M575.9 533.5h.01M575.9 526.0h.01M575.9 535.2h.01M575.9 518.2h.01M575.9 527.2h.01M576.0 532.3h.01M576.0 520.5h.01M576.0 507.3h.01M576.0 502.0h.01M576.1 533.8h.01M576.1 510.8h.01M576.1 519.5h.01M576.2 536.8h.01M576.2 506.6h.01M576.3 528.5h.01M576.3 535.5h.01M576.3 526.5h.01M576.3 537.9h.01M576.3 528.8h.01M576.3 532.1h.01M576.4 533.7h.01M576.4 518.0h.01M576.4 512.6h.01M576.4 525.7h.01M576.5 536.0h.01M576.5 490.7h.01M576.5 532.1h.01M576.5 511.5h.01M576.6 537.4h.01M576.6 532.5h.01M576.6 514.9h.01M576.7 480.6h.01M576.7 523.7h.01M576.7 521.1h.01M576.7 531.9h.01M576.9 525.0h.01M576.9 506.6h.01M576.9 537.8h.01M577.0 532.7h.01M577.0 504.5h.01M577.0 529.4h.01M577.0 523.9h.01M577.1 537.5h.01M577.1 533.2h.01M577.1 526.8h.01M577.2 535.3h.01M577.2 484.5h.01M577.2 494.1h.01M577.2 489.0h.01M577.3 492.7h.01M577.4 525.7h.01M577.4 515.1h.01M577.4 528.2h.01M577.5 527.0h.01M577.5 523.3h.01M577.5 522.9h.01M577.6 532.4h.01M577.6 533.8h.01M577.6 462.3h.01M577.6 528.0h.01M577.7 518.1h.01M577.8 472.4h.01M577.8 540.0h.01M577.8 537.3h.01M577.9 527.3h.01M578.0 518.3h.01M578.0 521.1h.01M578.2 531.7h.01M578.2 529.4h.01M578.3 480.8h.01M578.3 531.4h.01M578.3 516.3h.01M578.3 535.4h.01M578.4 533.6h.01M578.4 528.6h.01M578.5 524.6h.01M578.5 517.0h.01M578.5 528.7h.01M578.6 529.9h.01M578.6 525.2h.01M578.6 524.2h.01M578.6 522.3h.01M578.7 539.2h.01M578.8 511.3h.01M578.8 536.9h.01M578.8 529.4h.01M578.8 530.5h.01M578.8 519.5h.01M578.8 525.6h.01M578.8 534.3h.01M578.8 539.2h.01M578.9 531.5h.01M578.9 525.8h.01M578.9 531.2h.01M579.0 531.1h.01M579.0 526.0h.01M579.0 510.9h.01M579.0 515.8h.01M579.1 539.2h.01M579.1 538.7h.01M579.1 525.1h.01M579.2 535.0h.01M579.2 540.2h.01M579.2 530.6h.01M579.2 517.1h.01M579.2 512.9h.01M579.3 521.2h.01M579.3 535.4h.01M579.3 531.4h.01M579.4 519.9h.01M579.5 526.1h.01M579.5 525.3h.01M579.5 538.3h.01M579.6 531.1h.01M579.6 510.0h.01M579.6 531.0h.01M579.7 529.8h.01M579.7 522.3h.01M579.7 540.0h.01M579.8 533.2h.01M579.8 511.8h.01M579.8 528.0h.01M579.8 534.0h.01M579.8 519.1h.01M579.8 530.5h.01M580.0 505.2h.01M580.0 528.6h.01M580.1 536.4h.01M580.2 523.4h.01M580.2 531.9h.01M580.3 505.6h.01M580.3 539.5h.01M580.5 524.1h.01M580.5 525.3h.01M580.5 532.1h.01M580.5 532.0h.01M580.5 523.9h.01M580.6 535.1h.01M580.6 534.0h.01M580.6 522.0h.01M580.7 535.2h.01M580.7 505.2h.01M580.7 530.4h.01M580.8 493.3h.01M580.8 507.5h.01M580.8 532.0h.01M580.8 526.3h.01M580.9 538.3h.01M581.0 514.2h.01M581.0 524.1h.01M581.0 527.4h.01M581.0 516.7h.01M581.1 519.3h.01M581.1 528.8h.01M581.1 516.1h.01M581.1 532.7h.01M581.1 535.2h.01M581.1 508.8h.01M581.2 530.0h.01M581.2 531.6h.01M581.2 499.2h.01M581.2 520.0h.01M581.2 521.3h.01M581.2 532.6h.01M581.3 531.3h.01M581.3 534.6h.01M581.4 511.4h.01M581.4 533.1h.01M581.4 514.5h.01M581.4 532.6h.01M581.5 509.7h.01M581.5 536.7h.01M581.5 533.1h.01M581.5 481.0h.01M581.5 523.9h.01M581.6 534.3h.01M581.6 499.8h.01M581.6 513.5h.01M581.6 537.3h.01M581.6 506.7h.01M581.6 526.3h.01M581.7 530.5h.01M581.7 537.7h.01M581.7 538.2h.01M581.7 518.6h.01M581.7 527.0h.01M581.7 536.8h.01M581.7 535.3h.01M581.7 536.1h.01M581.8 513.5h.01M581.8 534.9h.01M581.8 529.0h.01M581.8 526.1h.01M581.8 480.4h.01M581.8 482.6h.01M581.9 525.7h.01M581.9 523.0h.01M581.9 528.7h.01M581.9 537.0h.01M581.9 534.5h.01M581.9 527.8h.01M581.9 526.3h.01M582.0 533.0h.01M582.0 525.3h.01M582.0 529.7h.01M582.0 536.4h.01M582.1 537.8h.01M582.1 475.0h.01M582.1 503.0h.01M582.1 482.8h.01M582.2 525.0h.01M582.2 516.3h.01M582.2 459.3h.01M582.2 525.8h.01M582.3 522.4h.01M582.4 516.2h.01M582.4 512.2h.01M582.4 513.7h.01M582.5 483.2h.01M582.5 537.2h.01M582.5 521.7h.01M582.5 526.4h.01M582.5 532.7h.01M582.5 509.7h.01M582.6 515.9h.01M582.6 490.2h.01M582.6 489.8h.01M582.7 532.4h.01M582.7 522.6h.01M582.7 508.8h.01M582.7 524.7h.01M582.8 534.2h.01M582.9 537.5h.01M582.9 539.5h.01M583.0 537.2h.01M583.0 487.4h.01M583.0 536.6h.01M583.0 519.9h.01M583.0 531.6h.01M583.0 517.4h.01M583.0 518.6h.01M583.1 532.1h.01M583.1 527.6h.01M583.1 528.1h.01M583.1 502.9h.01M583.1 515.8h.01M583.1 479.6h.01M583.1 534.4h.01M583.2 529.9h.01M583.2 536.3h.01M583.2 529.8h.01M583.2 533.3h.01M583.2 536.9h.01M583.2 498.3h.01M583.2 536.5h.01M583.2 523.6h.01M583.2 509.9h.01M583.2 480.5h.01M583.2 530.8h.01M583.3 504.2h.01M583.3 535.0h.01M583.3 539.3h.01M583.3 531.6h.01M583.3 528.0h.01M583.3 520.7h.01M583.3 536.6h.01M583.3 536.7h.01M583.3 537.8h.01M583.3 530.9h.01M583.4 524.3h.01M583.4 537.8h.01M583.4 533.7h.01M583.4 519.7h.01M583.4 533.4h.01M583.4 539.2h.01M583.4 500.9h.01M583.4 535.5h.01M583.4 532.4h.01M583.4 509.8h.01M583.4 537.9h.01M583.5 520.4h.01M583.5 527.3h.01M583.5 530.2h.01M583.5 534.4h.01M583.5 531.8h.01M583.5 502.7h.01M583.6 502.7h.01M583.6 523.9h.01M583.6 534.8h.01M583.6 536.7h.01M583.6 506.9h.01M583.6 501.4h.01M583.7 511.7h.01M583.7 497.7h.01M583.7 532.4h.01M583.7 478.3h.01M583.7 501.3h.01M583.7 519.4h.01M583.7 524.5h.01M583.7 529.7h.01M583.7 520.2h.01M583.7 538.6h.01M583.7 517.5h.01M583.7 516.6h.01M583.7 491.6h.01M583.7 535.2h.01M583.7 535.1h.01M583.7 536.5h.01M583.7 497.0h.01M583.7 511.4h.01M583.8 518.5h.01M583.8 503.0h.01M583.8 493.3h.01M583.8 525.1h.01M583.8 527.9h.01M583.8 532.4h.01M583.8 493.8h.01M583.9 530.1h.01M583.9 513.7h.01M583.9 539.8h.01M583.9 513.7h.01M583.9 515.0h.01M583.9 519.5h.01M583.9 533.1h.01M583.9 528.0h.01M584.0 534.2h.01M584.0 535.6h.01M584.0 506.8h.01M584.0 537.0h.01M584.0 523.1h.01M584.0 523.0h.01M584.0 529.3h.01M584.0 524.2h.01M584.0 505.2h.01M584.1 509.8h.01M584.1 504.1h.01M584.1 510.3h.01M584.2 536.6h.01M584.2 529.4h.01M584.2 527.7h.01M584.3 533.2h.01M584.3 519.5h.01M584.3 536.5h.01M584.3 494.4h.01M584.3 537.1h.01M584.3 530.6h.01M584.4 530.3h.01M584.4 508.2h.01M584.4 516.1h.01M584.4 510.0h.01M584.5 529.9h.01M584.5 527.3h.01M584.5 498.0h.01M584.6 508.0h.01M584.6 528.5h.01M584.6 519.8h.01M584.6 533.0h.01M584.7 526.6h.01M584.7 524.1h.01M584.7 507.9h.01M584.7 518.6h.01M584.7 533.3h.01M584.8 523.1h.01M584.8 531.4h.01M584.8 529.2h.01M584.8 484.9h.01M584.8 533.8h.01M584.8 529.9h.01M584.9 536.8h.01M584.9 497.7h.01M584.9 529.8h.01M585.0 526.5h.01M585.0 503.5h.01M585.0 534.2h.01M585.0 511.7h.01M585.0 528.1h.01M585.0 535.6h.01M585.0 525.6h.01M585.0 531.5h.01M585.0 534.8h.01M585.0 537.8h.01M585.1 516.3h.01M585.1 515.6h.01M585.1 497.2h.01M585.1 537.7h.01M585.1 513.6h.01M585.1 513.2h.01M585.1 511.1h.01M585.1 536.2h.01M585.2 529.9h.01M585.2 538.4h.01M585.2 537.8h.01M585.2 540.4h.01M585.2 539.7h.01M585.2 529.7h.01M585.2 530.8h.01M585.3 525.5h.01M585.3 496.7h.01M585.3 521.1h.01M585.3 495.7h.01M585.3 537.1h.01M585.3 533.7h.01M585.3 518.6h.01M585.3 519.1h.01M585.4 518.3h.01M585.4 534.6h.01M585.4 495.7h.01M585.4 516.0h.01M585.4 529.8h.01M585.5 539.7h.01M585.5 537.4h.01M585.6 539.4h.01M585.6 520.3h.01M585.6 527.0h.01M585.6 538.3h.01M585.7 531.7h.01M585.7 531.0h.01M585.7 510.4h.01M585.7 512.1h.01M585.7 476.8h.01M585.7 512.2h.01M585.7 530.6h.01M585.7 528.8h.01M585.8 514.6h.01M585.8 497.1h.01M585.8 511.7h.01M585.8 459.2h.01M585.8 498.5h.01M585.8 527.5h.01M585.8 509.8h.01M585.8 503.5h.01M585.9 518.1h.01M585.9 497.0h.01M585.9 534.3h.01M585.9 522.2h.01M586.0 532.8h.01M586.0 535.1h.01M586.0 507.0h.01M586.0 486.4h.01M586.1 490.0h.01M586.1 498.5h.01M586.1 514.0h.01M586.1 497.5h.01M586.1 516.8h.01M586.2 527.0h.01M586.2 515.8h.01M586.2 529.2h.01M586.2 531.5h.01M586.3 525.3h.01M586.3 528.7h.01M586.3 531.4h.01M586.4 536.1h.01M586.4 512.6h.01M586.4 529.4h.01M586.5 530.1h.01M586.5 524.4h.01M586.6 533.8h.01M586.6 503.6h.01M586.6 520.7h.01M586.7 502.5h.01M586.7 494.3h.01M586.7 519.3h.01M586.8 506.5h.01M586.8 532.8h.01M586.8 529.8h.01M586.9 446.5h.01M586.9 460.3h.01M586.9 517.2h.01M586.9 539.5h.01M587.0 533.5h.01M587.1 524.5h.01M587.1 473.0h.01M587.1 516.5h.01M587.2 534.2h.01M587.2 526.7h.01M587.3 487.7h.01M587.3 496.3h.01M587.3 499.3h.01M587.3 498.1h.01M587.4 528.2h.01M587.4 515.4h.01M587.4 520.0h.01M587.4 540.6h.01M587.4 517.8h.01M587.5 522.7h.01M587.5 527.1h.01M587.5 525.5h.01M587.5 513.9h.01M587.5 523.6h.01M587.5 538.3h.01M587.6 520.5h.01M587.6 534.4h.01M587.7 505.8h.01M587.7 535.4h.01M587.7 517.5h.01M587.7 480.3h.01M587.7 527.7h.01M587.7 530.3h.01M587.8 521.6h.01M587.8 525.6h.01M587.8 523.6h.01M587.8 507.8h.01M587.8 520.5h.01M587.8 522.3h.01M587.9 537.5h.01M587.9 516.8h.01M587.9 537.9h.01M587.9 507.1h.01M587.9 536.4h.01M588.0 522.8h.01M588.0 531.8h.01M588.0 538.6h.01M588.0 535.8h.01M588.1 514.2h.01M588.1 530.7h.01M588.1 518.6h.01M588.1 509.9h.01M588.1 533.0h.01M588.1 517.0h.01M588.1 501.4h.01M588.2 521.2h.01M588.2 531.2h.01M588.2 512.4h.01M588.2 529.7h.01M588.2 520.4h.01M588.3 529.4h.01M588.3 524.5h.01M588.3 536.7h.01M588.3 521.2h.01M588.4 487.7h.01M588.4 514.7h.01M588.4 519.6h.01M588.4 533.5h.01M588.4 532.5h.01M588.4 505.6h.01M588.4 518.0h.01M588.5 526.6h.01M588.5 532.8h.01M588.5 467.4h.01M588.5 523.1h.01M588.5 537.5h.01M588.5 537.1h.01M588.5 537.9h.01M588.5 537.8h.01M588.6 521.6h.01M588.6 516.4h.01M588.6 500.7h.01M588.6 535.5h.01M588.6 490.9h.01M588.7 483.4h.01M588.7 511.3h.01M588.7 452.6h.01M588.7 529.0h.01M588.7 507.6h.01M588.8 524.2h.01M588.8 500.0h.01M588.8 531.5h.01M588.8 510.2h.01M588.8 535.3h.01M588.8 525.6h.01M588.8 537.5h.01M588.8 511.1h.01M588.8 526.8h.01M588.9 530.6h.01M588.9 537.3h.01M588.9 529.4h.01M589.0 454.0h.01M589.0 536.4h.01M589.0 528.0h.01M589.1 536.1h.01M589.1 518.7h.01M589.1 510.2h.01M589.1 530.1h.01M589.1 537.8h.01M589.1 528.1h.01M589.1 524.2h.01M589.1 530.9h.01M589.1 535.6h.01M589.1 511.8h.01M589.1 510.5h.01M589.2 535.3h.01M589.2 515.2h.01M589.2 538.7h.01M589.2 530.4h.01M589.2 521.6h.01M589.2 516.5h.01M589.3 532.7h.01M589.3 528.3h.01M589.3 494.4h.01M589.3 510.4h.01M589.3 530.6h.01M589.3 535.3h.01M589.3 525.4h.01M589.4 518.0h.01M589.4 481.0h.01M589.4 523.8h.01M589.4 516.8h.01M589.4 528.4h.01M589.4 520.7h.01M589.4 479.7h.01M589.5 536.1h.01M589.5 531.2h.01M589.5 534.1h.01M589.5 528.0h.01M589.5 509.4h.01M589.5 509.6h.01M589.6 528.0h.01M589.6 517.0h.01M589.6 469.3h.01M589.6 497.8h.01M589.6 532.1h.01M589.6 515.4h.01M589.6 505.9h.01M589.6 536.4h.01M589.6 535.9h.01M589.6 522.6h.01M589.7 516.8h.01M589.7 495.1h.01M589.7 495.8h.01M589.7 516.3h.01M589.7 536.8h.01M589.7 539.0h.01M589.7 530.7h.01M589.7 501.2h.01M589.7 517.7h.01M589.8 538.7h.01M589.8 540.0h.01M589.8 530.9h.01M589.8 536.2h.01M589.8 516.3h.01M589.8 504.1h.01M589.8 510.7h.01M589.8 525.1h.01M589.8 534.5h.01M589.9 501.4h.01M589.9 496.2h.01M589.9 517.3h.01M589.9 512.5h.01M589.9 533.8h.01M589.9 488.4h.01M589.9 536.9h.01M589.9 538.6h.01M589.9 539.7h.01M589.9 529.8h.01M589.9 528.9h.01M589.9 537.4h.01M590.0 518.8h.01M590.0 510.2h.01M590.0 535.5h.01M590.0 538.1h.01M590.0 471.0h.01M590.0 484.5h.01M590.0 500.1h.01M590.0 505.6h.01M590.0 527.2h.01M590.0 504.8h.01M590.0 456.3h.01M590.1 489.1h.01M590.1 499.0h.01M590.1 531.7h.01M590.1 536.8h.01M590.1 508.2h.01M590.2 536.4h.01M590.3 532.0h.01M590.3 513.7h.01M590.3 512.3h.01M590.3 501.8h.01M590.3 507.8h.01M590.3 524.5h.01M590.4 530.2h.01M590.4 534.3h.01M590.4 532.9h.01M590.4 514.7h.01M590.5 530.2h.01M590.5 531.8h.01M590.5 530.9h.01M590.5 526.3h.01M590.5 524.4h.01M590.5 501.4h.01M590.6 534.2h.01M590.6 539.0h.01M590.6 536.8h.01M590.7 525.8h.01M590.7 524.0h.01M590.7 520.1h.01M590.7 533.1h.01M590.7 521.7h.01M590.8 533.4h.01M590.9 534.3h.01M590.9 507.4h.01M590.9 536.7h.01M590.9 513.4h.01M591.0 529.1h.01M591.1 525.1h.01M591.1 538.4h.01M591.2 532.6h.01M591.2 532.6h.01M591.2 528.7h.01M591.2 538.6h.01M591.3 528.9h.01M591.3 513.5h.01M591.3 515.3h.01M591.3 530.4h.01M591.4 533.8h.01M591.4 531.6h.01M591.4 509.6h.01M591.4 528.4h.01M591.6 525.6h.01M591.7 533.8h.01M591.7 516.0h.01M591.7 502.8h.01M591.8 524.3h.01M591.8 483.7h.01M591.9 533.6h.01M592.0 535.5h.01M592.0 534.0h.01M592.0 525.4h.01M592.0 520.2h.01M592.1 504.2h.01M592.1 539.2h.01M592.2 524.5h.01M592.2 530.5h.01M592.2 521.4h.01M592.2 491.3h.01M592.2 492.8h.01M592.3 476.0h.01M592.4 512.1h.01M592.4 496.6h.01M592.4 497.5h.01M592.4 501.4h.01M592.5 500.1h.01M592.5 533.3h.01M592.5 532.7h.01M592.5 536.5h.01M592.5 522.4h.01M592.5 505.3h.01M592.6 477.0h.01M592.8 504.2h.01M592.8 447.4h.01M592.8 476.3h.01M592.9 491.5h.01M593.0 512.7h.01M593.0 521.1h.01M593.0 516.9h.01M593.1 527.1h.01M593.1 531.3h.01M593.1 524.7h.01M593.1 479.2h.01M593.1 525.7h.01M593.1 528.6h.01M593.2 520.2h.01M593.2 495.5h.01M593.2 504.3h.01M593.2 525.3h.01M593.2 513.4h.01M593.2 533.8h.01M593.2 529.3h.01M593.3 520.3h.01M593.3 522.8h.01M593.4 535.3h.01M593.4 519.1h.01M593.4 526.8h.01M593.4 527.7h.01M593.4 506.9h.01M593.5 500.8h.01M593.5 527.5h.01M593.5 521.6h.01M593.6 525.6h.01M593.6 524.9h.01M593.6 531.4h.01M593.6 511.9h.01M593.7 522.7h.01M593.7 524.2h.01M593.7 536.8h.01M593.8 486.2h.01M593.8 515.6h.01M593.9 534.4h.01M593.9 532.0h.01M593.9 483.9h.01M593.9 529.4h.01M594.0 539.7h.01M594.0 518.4h.01M594.1 524.6h.01M594.1 536.7h.01M594.1 531.6h.01M594.1 533.5h.01M594.1 535.6h.01M594.2 515.8h.01M594.2 520.2h.01M594.2 528.5h.01M594.2 532.6h.01M594.3 519.8h.01M594.3 511.6h.01M594.3 529.5h.01M594.3 513.2h.01M594.4 516.9h.01M594.4 489.6h.01M594.4 524.5h.01M594.4 534.0h.01M594.4 539.7h.01M594.4 494.1h.01M594.5 532.9h.01M594.5 527.9h.01M594.5 535.7h.01M594.5 533.3h.01M594.6 526.6h.01M594.6 537.9h.01M594.6 523.0h.01M594.7 526.0h.01M594.7 514.5h.01M594.7 511.0h.01M594.8 514.2h.01M594.8 514.3h.01M594.9 525.9h.01M594.9 502.5h.01M594.9 536.1h.01M594.9 538.7h.01M594.9 522.6h.01M595.0 491.3h.01M595.1 523.1h.01M595.1 537.0h.01M595.1 535.0h.01M595.3 531.7h.01M595.3 535.2h.01M595.4 532.5h.01M595.4 522.7h.01M595.7 537.7h.01M595.7 458.7h.01M595.8 502.7h.01M595.8 491.8h.01M595.8 498.7h.01M595.9 495.8h.01M595.9 525.3h.01M596.0 531.7h.01M596.0 533.8h.01M596.0 523.8h.01M596.0 527.3h.01M596.0 538.4h.01M596.1 528.2h.01M596.3 502.4h.01M596.3 532.4h.01M596.3 529.5h.01M596.4 513.3h.01M596.5 531.1h.01M596.6 471.1h.01M596.6 509.5h.01M596.7 519.7h.01M596.7 532.8h.01M596.7 503.2h.01M596.8 523.0h.01M596.8 486.9h.01M596.9 488.8h.01M596.9 535.7h.01M597.0 518.0h.01M597.0 508.4h.01M597.1 504.2h.01M597.1 529.7h.01M597.2 517.0h.01M597.2 532.2h.01M597.2 527.0h.01M597.3 533.8h.01M597.4 537.6h.01M597.4 472.6h.01M597.4 527.7h.01M597.4 522.0h.01M597.5 523.5h.01M597.6 532.3h.01M597.6 536.1h.01M597.6 518.0h.01M597.7 537.1h.01M597.7 530.5h.01M597.7 528.1h.01M597.8 503.5h.01M597.8 527.9h.01M597.9 530.8h.01M597.9 538.9h.01M597.9 539.3h.01M597.9 513.9h.01M597.9 529.4h.01M597.9 526.3h.01M597.9 523.1h.01M597.9 538.1h.01M597.9 508.3h.01M598.0 499.4h.01M598.0 515.5h.01M598.1 515.1h.01M598.1 523.6h.01M598.1 524.9h.01M598.1 485.9h.01M598.1 514.8h.01M598.2 528.2h.01M598.3 536.9h.01M598.3 537.2h.01M598.3 516.1h.01M598.3 495.5h.01M598.3 520.1h.01M598.3 539.7h.01M598.5 535.1h.01M598.5 517.9h.01M598.5 536.1h.01M598.5 527.1h.01M598.5 514.3h.01M598.6 528.9h.01M598.6 521.3h.01M598.6 521.5h.01M598.7 532.0h.01M598.7 515.5h.01M598.7 531.8h.01M598.7 525.3h.01M598.7 529.3h.01M598.8 522.9h.01M598.9 526.4h.01M598.9 525.8h.01M598.9 527.3h.01M598.9 522.4h.01M598.9 515.8h.01M599.0 532.7h.01M599.0 538.9h.01M599.0 535.0h.01M599.0 522.7h.01M599.0 533.2h.01M599.0 539.4h.01M599.0 528.8h.01M599.0 485.1h.01M599.1 514.5h.01M599.1 537.1h.01M599.1 523.6h.01M599.1 490.3h.01M599.1 513.2h.01M599.1 539.5h.01M599.2 532.5h.01M599.2 530.0h.01M599.2 497.6h.01M599.2 525.8h.01M599.2 524.1h.01M599.2 516.0h.01M599.2 535.1h.01M599.2 532.9h.01M599.3 517.1h.01M599.3 538.6h.01M599.3 510.5h.01M599.3 529.8h.01M599.3 533.9h.01M599.4 535.4h.01M599.5 531.4h.01M599.5 539.6h.01M599.5 527.3h.01M599.5 526.4h.01M599.6 535.3h.01M599.6 512.7h.01M599.6 510.8h.01M599.6 532.5h.01M599.6 517.7h.01M599.6 490.5h.01M599.7 496.8h.01M599.7 518.4h.01M599.7 520.2h.01M599.7 536.1h.01M599.7 523.7h.01M599.7 523.8h.01M599.8 505.6h.01M599.8 510.5h.01M599.8 531.7h.01M599.8 513.3h.01M599.8 523.4h.01M599.8 532.9h.01M599.8 537.6h.01M599.8 487.8h.01M599.8 509.7h.01M599.9 510.0h.01M599.9 510.2h.01M599.9 508.0h.01M599.9 483.8h.01M599.9 471.6h.01M599.9 483.8h.01M600.0 494.3h.01M600.0 475.3h.01M600.0 527.9h.01M600.0 519.2h.01M600.0 539.7h.01M600.0 520.5h.01M600.1 529.1h.01M600.1 524.1h.01M600.2 529.3h.01M600.2 539.2h.01M600.2 532.8h.01M600.2 510.6h.01M600.2 534.9h.01M600.2 534.7h.01M600.3 522.5h.01M600.3 513.4h.01M600.3 535.7h.01M600.3 516.1h.01M600.3 515.8h.01M600.3 537.0h.01M600.4 533.6h.01M600.4 533.3h.01M600.4 520.8h.01M600.4 529.5h.01M600.4 526.3h.01M600.5 531.4h.01M600.5 490.2h.01M600.5 526.0h.01M600.5 497.2h.01M600.6 522.0h.01M600.6 527.8h.01M600.6 538.1h.01M600.6 524.3h.01M600.6 519.8h.01M600.6 537.4h.01M600.6 532.5h.01M600.6 529.6h.01M600.6 468.4h.01M600.6 510.7h.01M600.6 536.7h.01M600.6 531.9h.01M600.6 521.9h.01M600.6 525.7h.01M600.7 534.4h.01M600.7 520.2h.01M600.7 524.2h.01M600.7 537.6h.01M600.7 514.4h.01M600.7 499.8h.01M600.8 523.7h.01M600.8 531.7h.01M600.8 535.2h.01M600.8 523.1h.01M600.8 538.5h.01M600.8 512.6h.01M600.8 540.5h.01M600.8 536.1h.01M600.9 512.2h.01M600.9 538.7h.01M600.9 521.8h.01M601.0 537.0h.01M601.0 515.9h.01M601.0 509.5h.01M601.1 522.2h.01M601.1 539.3h.01M601.1 537.0h.01M601.1 533.9h.01M601.1 505.7h.01M601.1 533.0h.01M601.1 526.7h.01M601.2 532.9h.01M601.2 538.2h.01M601.2 516.1h.01M601.2 525.9h.01M601.2 508.1h.01M601.2 505.6h.01M601.3 532.0h.01M601.3 522.3h.01M601.3 531.0h.01M601.3 529.2h.01M601.3 529.0h.01M601.4 535.7h.01M601.4 521.9h.01M601.4 509.0h.01M601.4 524.1h.01M601.4 535.9h.01M601.4 535.0h.01M601.5 499.0h.01M601.5 535.0h.01M601.5 525.6h.01M601.5 511.6h.01M601.5 534.6h.01M601.5 528.5h.01M601.5 523.0h.01M601.6 508.9h.01M601.6 504.3h.01M601.6 529.4h.01M601.6 523.5h.01M601.6 537.4h.01M601.6 499.2h.01M601.7 526.6h.01M601.7 534.4h.01M601.7 534.1h.01M601.8 528.4h.01M601.8 506.9h.01M601.9 539.4h.01M601.9 532.8h.01M601.9 524.6h.01M601.9 530.3h.01M602.0 511.6h.01M602.0 522.8h.01M602.2 528.6h.01M602.2 502.0h.01M602.2 490.4h.01M602.2 533.0h.01M602.2 525.5h.01M602.2 534.2h.01M602.3 515.8h.01M602.3 530.0h.01M602.3 534.6h.01M602.3 499.0h.01M602.4 535.8h.01M602.4 535.3h.01M602.4 529.9h.01M602.5 530.8h.01M602.5 520.5h.01M602.5 496.5h.01M602.6 532.3h.01M602.6 508.4h.01M602.6 518.1h.01M602.6 537.4h.01M602.6 530.9h.01M602.6 516.2h.01M602.7 534.8h.01M602.7 532.4h.01M602.7 533.4h.01M602.8 534.8h.01M602.8 518.6h.01M650.2 533.7h.01M649.7 539.4h.01M650.3 537.8h.01M650.4 532.4h.01M650.0 537.9h.01M650.9 530.5h.01M652.0 527.8h.01M652.5 521.9h.01M652.3 533.8h.01M652.5 531.9h.01M651.8 527.2h.01M653.4 532.8h.01M652.8 538.1h.01M653.5 529.0h.01M652.7 540.7h.01M654.5 539.9h.01M654.1 528.5h.01M654.4 535.0h.01M654.8 520.4h.01M654.6 528.8h.01M655.4 531.6h.01M654.7 529.2h.01M655.9 524.0h.01M655.7 528.4h.01M655.8 526.9h.01M656.0 523.9h.01M656.0 533.2h.01M656.8 537.7h.01M657.4 531.8h.01M656.9 537.5h.01M656.7 537.5h.01M657.3 535.2h.01M657.6 537.5h.01M658.5 527.2h.01M657.5 527.4h.01M657.8 537.1h.01M658.4 529.8h.01M658.2 534.0h.01M658.2 530.2h.01M659.0 539.7h.01M658.9 531.6h.01M660.1 530.2h.01M659.6 535.4h.01M661.4 523.9h.01M660.8 533.0h.01M661.3 528.6h.01M661.7 540.0h.01M663.5 540.2h.01M664.5 533.1h.01M663.6 535.7h.01M664.5 532.2h.01M665.9 539.7h.01M666.9 533.9h.01M667.0 534.7h.01M667.4 540.8h.01M668.4 540.8h.01M667.8 538.9h.01M668.2 525.7h.01M667.9 526.6h.01M668.5 534.2h.01M668.7 537.6h.01M669.3 539.1h.01M670.2 527.7h.01M669.8 531.1h.01M670.8 536.2h.01M670.4 536.7h.01M670.3 532.9h.01M672.1 529.9h.01M672.0 537.1h.01M672.4 520.7h.01M672.6 521.6h.01M672.4 534.1h.01M672.7 530.7h.01M672.3 526.3h.01M673.1 527.4h.01M672.2 531.8h.01M649.8 526.1h.01M649.9 518.1h.01M649.9 533.5h.01M650.1 527.1h.01M650.1 536.9h.01M650.2 515.7h.01M650.2 511.0h.01M650.2 536.0h.01M650.3 529.6h.01M650.4 534.8h.01M650.4 537.4h.01M650.4 518.9h.01M650.6 526.4h.01M650.6 526.6h.01M650.9 509.9h.01M650.9 529.4h.01M651.2 503.8h.01M651.2 536.2h.01M651.2 537.5h.01M651.3 517.9h.01M651.4 472.1h.01M651.4 476.7h.01M651.4 496.0h.01M651.6 508.9h.01M651.7 536.2h.01M651.7 504.8h.01M651.8 514.6h.01M652.0 525.7h.01M652.1 530.9h.01M652.3 517.6h.01M652.3 536.1h.01M652.4 512.4h.01M652.5 498.4h.01M652.5 504.6h.01M652.6 537.0h.01M653.1 533.9h.01M653.1 523.9h.01M653.4 536.2h.01M653.4 517.5h.01M653.4 528.0h.01M653.4 528.6h.01M653.4 482.7h.01M653.5 540.2h.01M653.7 497.3h.01M653.7 539.1h.01M653.8 535.4h.01M654.0 530.7h.01M654.1 539.8h.01M654.2 533.0h.01M654.2 533.8h.01M654.2 530.4h.01M654.2 534.2h.01M654.4 523.2h.01M654.5 535.5h.01M654.6 513.7h.01M654.6 525.0h.01M654.6 501.6h.01M654.7 474.2h.01M654.7 493.8h.01M654.7 463.6h.01M654.8 511.6h.01M654.8 513.7h.01M654.8 493.7h.01M654.8 530.9h.01M654.9 534.1h.01M654.9 519.4h.01M654.9 532.8h.01M654.9 536.2h.01M654.9 529.4h.01M654.9 532.4h.01M655.0 530.6h.01M655.0 533.8h.01M655.0 524.8h.01M655.0 503.0h.01M655.1 537.2h.01M655.1 539.2h.01M655.1 515.6h.01M655.1 513.1h.01M655.2 533.1h.01M655.3 526.4h.01M655.3 524.2h.01M655.3 534.3h.01M655.3 499.5h.01M655.3 533.1h.01M655.3 507.8h.01M655.4 517.3h.01M655.4 484.4h.01M655.4 525.7h.01M655.4 540.1h.01M655.5 514.2h.01M655.5 526.1h.01M655.5 479.5h.01M655.5 532.1h.01M655.6 521.4h.01M655.6 527.1h.01M655.9 519.1h.01M656.0 531.1h.01M656.2 531.8h.01M656.2 533.1h.01M656.4 505.2h.01M656.4 530.5h.01M656.6 492.9h.01M657.1 532.5h.01M657.3 507.8h.01M657.4 539.4h.01M657.5 503.8h.01M657.6 516.1h.01M657.8 517.3h.01M657.9 529.0h.01M657.9 537.1h.01M657.9 528.6h.01M658.0 518.4h.01M658.1 534.5h.01M658.3 529.5h.01M658.4 487.8h.01M658.6 537.9h.01M658.7 526.7h.01M658.8 524.1h.01M658.8 532.7h.01M659.0 507.0h.01M659.1 532.5h.01M659.1 518.0h.01M659.2 505.3h.01M659.2 516.8h.01M659.3 473.0h.01M659.3 517.4h.01M659.3 474.0h.01M659.4 498.1h.01M659.5 509.0h.01M659.6 503.1h.01M659.6 518.0h.01M659.6 514.4h.01M659.8 485.3h.01M659.8 489.5h.01M659.8 498.8h.01M659.8 532.4h.01M659.9 524.7h.01M659.9 531.8h.01M659.9 538.1h.01M660.0 528.9h.01M660.0 533.4h.01M660.0 503.8h.01M660.0 535.1h.01M660.1 525.4h.01M660.1 524.4h.01M660.1 528.5h.01M660.1 522.2h.01M660.1 511.8h.01M660.1 537.3h.01M660.1 533.7h.01M660.1 531.8h.01M660.1 539.2h.01M660.1 537.2h.01M660.2 485.3h.01M660.2 509.5h.01M660.2 523.7h.01M660.3 519.5h.01M660.3 531.8h.01M660.3 530.6h.01M660.3 512.0h.01M660.3 449.6h.01M660.4 528.1h.01M660.4 521.9h.01M660.4 509.2h.01M660.4 502.2h.01M660.5 467.1h.01M660.5 488.1h.01M660.6 497.8h.01M660.7 485.3h.01M660.8 506.2h.01M660.8 459.9h.01M660.9 482.7h.01M661.0 534.3h.01M661.0 518.0h.01M661.1 533.5h.01M661.2 514.1h.01M661.4 523.9h.01M661.4 494.6h.01M661.4 510.3h.01M661.4 505.1h.01M661.5 540.4h.01M661.6 537.9h.01M661.6 531.8h.01M661.8 520.6h.01M661.8 512.5h.01M662.3 509.5h.01M662.3 533.7h.01M662.6 530.9h.01M662.6 514.1h.01M662.7 503.7h.01M662.7 512.5h.01M662.7 501.5h.01M662.7 536.5h.01M662.8 530.6h.01M662.8 513.5h.01M663.1 519.6h.01M663.5 481.8h.01M663.7 523.9h.01M663.9 530.4h.01M664.0 529.2h.01M664.1 537.5h.01M664.1 538.1h.01M664.3 514.4h.01M664.4 472.7h.01M664.4 529.1h.01M664.4 532.6h.01M664.5 527.9h.01M664.6 513.1h.01M664.6 524.0h.01M664.6 499.6h.01M664.7 531.7h.01M664.8 512.9h.01M664.8 524.4h.01M664.8 505.2h.01M665.2 529.6h.01M665.3 504.0h.01M665.4 518.7h.01M666.6 510.1h.01M666.6 527.4h.01M667.0 533.4h.01M667.0 536.4h.01M667.1 528.0h.01M667.1 451.5h.01M667.5 507.1h.01M667.7 508.9h.01M667.8 533.4h.01M667.9 539.4h.01M668.0 520.7h.01M668.0 531.8h.01M668.0 531.8h.01M668.1 537.5h.01M668.1 516.9h.01M668.2 533.5h.01M668.3 529.4h.01M668.3 503.2h.01M668.4 528.1h.01M668.5 524.7h.01M668.8 534.2h.01M668.9 510.0h.01M669.0 524.7h.01M669.2 525.3h.01M669.4 503.7h.01M669.4 535.9h.01M669.5 525.6h.01M669.6 531.7h.01M669.6 520.8h.01M669.7 491.5h.01M669.8 523.7h.01M669.8 521.1h.01M669.9 512.4h.01M669.9 528.2h.01M670.0 532.5h.01M670.0 519.3h.01M670.1 529.9h.01M670.3 516.7h.01M670.4 493.0h.01M670.4 529.4h.01M670.5 537.2h.01M670.5 513.6h.01M670.6 540.3h.01M670.6 495.4h.01M670.6 484.9h.01M670.7 516.1h.01M670.7 530.5h.01M670.8 519.7h.01M670.8 522.0h.01M670.9 537.8h.01M670.9 539.5h.01M671.0 503.1h.01M671.0 534.0h.01M671.0 517.0h.01M671.2 537.4h.01M671.2 524.1h.01M671.4 521.2h.01M671.4 527.5h.01M671.4 531.7h.01M671.4 494.3h.01M671.4 524.1h.01M671.5 521.6h.01M671.5 524.2h.01M671.5 518.8h.01M671.6 525.7h.01M671.6 532.8h.01M671.6 528.6h.01M671.6 520.2h.01M671.7 522.0h.01M671.7 520.4h.01M671.7 523.6h.01M671.8 524.8h.01M671.8 537.6h.01M671.8 538.4h.01M671.8 517.0h.01M671.8 518.9h.01M671.9 505.7h.01M671.9 532.3h.01M672.0 529.3h.01M672.0 526.6h.01M672.1 528.9h.01M672.1 490.6h.01M672.1 501.7h.01M672.1 526.8h.01M672.2 518.3h.01M672.2 529.1h.01M672.3 532.6h.01M672.3 487.3h.01M672.4 522.3h.01M672.4 526.6h.01M672.4 510.4h.01M672.5 498.3h.01M672.6 510.6h.01M672.6 521.7h.01M672.7 521.1h.01M672.8 489.4h.01M672.8 496.6h.01M672.9 535.6h.01M672.9 533.4h.01M673.0 533.9h.01M712.1 540.3h.01M712.2 527.5h.01M711.9 528.8h.01M712.3 536.6h.01M712.5 536.8h.01M712.5 535.7h.01M713.6 525.6h.01M713.9 522.5h.01M713.5 531.9h.01M714.0 524.0h.01M714.9 535.4h.01M714.9 540.9h.01M714.7 538.6h.01M715.1 530.0h.01M715.7 525.9h.01M715.8 534.1h.01M716.5 532.6h.01M716.2 527.1h.01M716.9 530.2h.01M717.1 534.6h.01M717.7 534.8h.01M718.1 529.2h.01M717.9 527.4h.01M717.6 532.9h.01M717.5 531.8h.01M718.3 536.8h.01M717.7 539.4h.01M718.3 524.4h.01M719.1 531.8h.01M718.5 525.8h.01M718.5 529.4h.01M719.3 526.7h.01M718.6 526.4h.01M719.3 525.4h.01M719.0 534.8h.01M719.4 526.9h.01M719.8 526.5h.01M719.6 525.2h.01M720.5 529.2h.01M720.4 521.2h.01M720.0 536.2h.01M720.1 535.3h.01M719.8 526.0h.01M721.0 524.9h.01M721.2 536.8h.01M721.6 524.1h.01M720.7 526.7h.01M722.4 529.3h.01M722.5 524.5h.01M721.8 534.6h.01M721.9 522.2h.01M722.3 521.8h.01M722.6 522.5h.01M722.2 535.6h.01M722.8 529.5h.01M723.6 522.1h.01M723.6 535.5h.01M724.7 531.5h.01M725.2 520.6h.01M725.0 525.2h.01M725.6 531.4h.01M725.4 539.6h.01M724.8 525.3h.01M725.4 529.1h.01M726.1 529.5h.01M726.1 522.4h.01M726.6 533.0h.01M726.5 526.4h.01M727.2 524.6h.01M727.6 521.1h.01M727.6 527.8h.01M727.7 538.4h.01M727.3 532.3h.01M726.9 530.9h.01M727.5 520.9h.01M728.6 521.5h.01M728.8 537.3h.01M729.8 535.7h.01M729.9 536.2h.01M729.2 527.2h.01M729.1 527.2h.01M730.0 526.1h.01M729.7 537.0h.01M711.4 515.6h.01M711.5 524.0h.01M711.6 534.1h.01M711.6 510.6h.01M711.6 517.4h.01M711.8 512.4h.01M711.8 524.6h.01M711.8 524.5h.01M711.9 519.6h.01M712.1 499.0h.01M712.2 531.9h.01M712.3 532.9h.01M712.3 525.0h.01M712.3 525.5h.01M712.4 523.4h.01M712.7 537.0h.01M712.8 494.8h.01M713.1 535.5h.01M713.1 526.9h.01M713.3 537.0h.01M713.3 535.1h.01M713.3 517.5h.01M713.4 523.4h.01M713.4 515.4h.01M713.4 515.0h.01M713.5 536.4h.01M713.6 489.6h.01M713.6 528.6h.01M713.6 501.3h.01M713.7 534.9h.01M713.7 531.8h.01M713.8 506.0h.01M713.8 516.5h.01M713.8 530.4h.01M713.8 514.9h.01M714.0 512.1h.01M714.0 512.5h.01M714.1 468.1h.01M714.1 461.3h.01M714.2 488.1h.01M714.3 484.1h.01M714.6 462.7h.01M714.6 498.8h.01M714.7 527.0h.01M714.9 513.0h.01M715.2 511.6h.01M715.2 516.2h.01M715.3 511.4h.01M715.4 527.5h.01M715.4 527.0h.01M715.5 524.9h.01M715.5 529.0h.01M715.5 539.9h.01M715.5 531.8h.01M715.6 493.1h.01M715.7 524.6h.01M715.7 537.1h.01M715.8 513.9h.01M715.9 533.4h.01M715.9 521.9h.01M716.0 535.7h.01M716.2 526.7h.01M716.3 501.5h.01M716.3 532.6h.01M716.4 513.8h.01M716.5 515.9h.01M716.5 519.2h.01M716.6 510.3h.01M716.7 540.0h.01M716.8 504.5h.01M716.8 535.4h.01M716.9 515.6h.01M716.9 522.7h.01M717.0 486.3h.01M717.0 512.8h.01M717.2 502.9h.01M717.3 494.0h.01M717.3 532.4h.01M717.3 534.3h.01M717.4 539.3h.01M717.4 509.0h.01M717.4 522.4h.01M717.4 521.4h.01M717.5 514.2h.01M717.5 533.1h.01M717.7 500.0h.01M717.7 505.6h.01M717.7 507.7h.01M717.8 533.6h.01M717.9 532.8h.01M717.9 522.5h.01M717.9 486.8h.01M717.9 533.8h.01M718.1 480.9h.01M718.1 491.2h.01M718.1 487.0h.01M718.1 508.7h.01M718.2 505.8h.01M718.2 497.1h.01M718.3 539.8h.01M718.3 501.9h.01M718.3 517.8h.01M718.3 512.7h.01M718.5 532.2h.01M718.6 526.2h.01M718.8 508.4h.01M718.8 513.7h.01M718.9 524.1h.01M718.9 522.7h.01M718.9 493.1h.01M719.0 529.5h.01M719.0 529.0h.01M719.0 512.8h.01M719.1 514.1h.01M719.3 525.6h.01M719.5 518.8h.01M719.5 509.7h.01M719.5 530.0h.01M719.5 530.4h.01M719.5 530.9h.01M719.5 513.2h.01M719.6 508.3h.01M719.6 527.8h.01M719.6 532.1h.01M719.7 534.1h.01M719.7 530.1h.01M719.7 528.1h.01M719.9 485.5h.01M719.9 531.3h.01M720.0 494.7h.01M720.0 529.1h.01M720.0 538.6h.01M720.2 483.9h.01M720.2 468.1h.01M720.2 483.4h.01M720.3 513.8h.01M720.3 486.6h.01M720.3 498.3h.01M720.3 530.5h.01M720.3 523.8h.01M720.4 533.7h.01M720.5 524.5h.01M720.5 484.4h.01M720.5 499.0h.01M720.5 527.2h.01M720.5 529.8h.01M720.6 537.8h.01M720.6 535.0h.01M720.6 506.4h.01M720.6 505.9h.01M720.7 515.1h.01M720.7 535.7h.01M720.7 525.4h.01M720.7 531.5h.01M720.7 518.8h.01M720.8 514.5h.01M720.8 522.7h.01M720.8 533.9h.01M720.8 523.3h.01M720.9 526.5h.01M720.9 539.7h.01M721.0 534.3h.01M721.0 531.9h.01M721.0 520.4h.01M721.1 537.4h.01M721.1 476.4h.01M721.1 531.7h.01M721.1 536.1h.01M721.1 537.9h.01M721.2 520.5h.01M721.2 531.1h.01M721.2 532.2h.01M721.2 522.6h.01M721.3 535.5h.01M721.3 535.7h.01M721.4 527.2h.01M721.4 527.4h.01M721.4 513.6h.01M721.5 525.6h.01M721.5 538.9h.01M721.5 534.0h.01M721.5 523.7h.01M721.6 509.8h.01M721.6 488.3h.01M721.6 472.9h.01M721.7 509.5h.01M721.7 538.1h.01M721.7 530.0h.01M721.8 524.0h.01M721.8 532.5h.01M721.8 532.1h.01M721.8 520.9h.01M721.9 502.6h.01M721.9 537.7h.01M721.9 536.8h.01M722.0 535.5h.01M722.0 502.3h.01M722.1 504.6h.01M722.1 530.3h.01M722.1 522.5h.01M722.1 522.9h.01M722.1 532.0h.01M722.1 517.1h.01M722.1 510.6h.01M722.1 477.8h.01M722.2 537.2h.01M722.3 505.1h.01M722.3 513.3h.01M722.3 514.1h.01M722.3 501.2h.01M722.3 530.8h.01M722.4 478.5h.01M722.5 534.5h.01M722.5 528.5h.01M722.5 532.3h.01M722.5 531.6h.01M722.5 519.6h.01M722.5 529.0h.01M722.6 536.3h.01M722.6 522.2h.01M722.6 526.2h.01M722.7 537.7h.01M722.7 485.3h.01M722.7 504.4h.01M722.8 520.3h.01M722.8 538.0h.01M722.8 489.6h.01M722.8 484.7h.01M722.9 485.3h.01M722.9 517.8h.01M722.9 537.9h.01M722.9 529.8h.01M722.9 519.2h.01M722.9 529.1h.01M722.9 517.1h.01M722.9 528.4h.01M722.9 529.7h.01M723.0 515.5h.01M723.0 535.6h.01M723.0 538.4h.01M723.0 515.8h.01M723.0 533.0h.01M723.0 531.4h.01M723.0 513.8h.01M723.0 526.5h.01M723.0 510.2h.01M723.0 506.7h.01M723.0 537.0h.01M723.1 537.0h.01M723.1 528.4h.01M723.1 529.4h.01M723.2 528.3h.01M723.2 524.7h.01M723.2 537.3h.01M723.2 529.7h.01M723.3 522.6h.01M723.3 507.1h.01M723.3 525.5h.01M723.3 512.8h.01M723.3 527.2h.01M723.3 530.9h.01M723.3 530.1h.01M723.3 516.5h.01M723.4 530.7h.01M723.4 516.7h.01M723.4 537.4h.01M723.4 528.3h.01M723.4 525.9h.01M723.4 531.6h.01M723.5 539.0h.01M723.5 538.0h.01M723.5 530.6h.01M723.5 504.9h.01M723.5 483.3h.01M723.5 538.6h.01M723.6 537.1h.01M723.6 513.8h.01M723.6 501.2h.01M723.6 531.6h.01M723.6 529.1h.01M723.7 532.9h.01M723.7 524.0h.01M723.7 537.3h.01M723.7 538.3h.01M723.7 519.1h.01M723.7 503.2h.01M723.7 538.1h.01M723.8 509.7h.01M723.8 520.6h.01M723.8 528.3h.01M723.8 517.5h.01M723.8 498.9h.01M723.8 486.5h.01M723.8 484.6h.01M723.8 472.9h.01M723.9 537.2h.01M723.9 535.3h.01M723.9 460.5h.01M723.9 489.6h.01M724.0 480.3h.01M724.0 481.3h.01M724.0 462.1h.01M724.0 524.8h.01M724.0 481.2h.01M724.0 519.8h.01M724.0 497.1h.01M724.0 504.2h.01M724.0 509.5h.01M724.0 497.7h.01M724.0 496.6h.01M724.0 495.8h.01M724.1 509.2h.01M724.1 484.6h.01M724.1 464.5h.01M724.1 501.7h.01M724.1 495.5h.01M724.1 466.9h.01M724.1 504.0h.01M724.1 508.4h.01M724.1 488.2h.01M724.1 506.6h.01M724.2 503.0h.01M724.2 494.4h.01M724.2 509.5h.01M724.2 500.9h.01M724.2 484.2h.01M724.2 460.0h.01M724.2 508.0h.01M724.2 533.4h.01M724.2 533.0h.01M724.2 499.2h.01M724.2 510.0h.01M724.2 517.2h.01M724.2 534.1h.01M724.2 528.2h.01M724.3 496.0h.01M724.3 483.4h.01M724.3 501.3h.01M724.3 527.5h.01M724.3 536.4h.01M724.3 540.1h.01M724.4 535.2h.01M724.4 475.7h.01M724.4 506.4h.01M724.4 446.9h.01M724.4 498.0h.01M724.4 475.2h.01M724.4 494.8h.01M724.4 505.6h.01M724.4 529.1h.01M724.4 486.8h.01M724.5 530.2h.01M724.5 535.8h.01M724.5 525.1h.01M724.5 513.3h.01M724.5 530.3h.01M724.5 488.3h.01M724.6 530.9h.01M724.6 539.8h.01M724.6 539.3h.01M724.7 518.8h.01M724.7 517.8h.01M724.7 536.7h.01M724.7 507.4h.01M724.7 537.1h.01M724.7 536.7h.01M724.7 540.5h.01M724.7 535.3h.01M724.7 529.0h.01M724.7 507.9h.01M724.7 540.5h.01M724.7 528.3h.01M724.7 532.3h.01M724.7 517.7h.01M724.7 536.2h.01M724.8 525.9h.01M724.9 533.5h.01M725.0 523.7h.01M725.0 521.5h.01M725.0 531.8h.01M725.1 519.9h.01M725.1 518.8h.01M725.2 521.3h.01M725.2 521.2h.01M725.2 531.0h.01M725.2 518.9h.01M725.4 536.8h.01M725.4 499.1h.01M725.4 495.1h.01M725.4 526.5h.01M725.5 517.3h.01M725.5 505.7h.01M725.5 529.6h.01M725.6 535.9h.01M725.6 538.9h.01M725.7 523.1h.01M725.7 522.9h.01M725.8 530.0h.01M725.8 513.7h.01M725.8 524.5h.01M725.8 536.6h.01M725.8 520.3h.01M725.8 533.4h.01M725.8 514.0h.01M725.8 522.0h.01M725.9 509.2h.01M725.9 500.1h.01M725.9 536.1h.01M725.9 521.4h.01M725.9 525.6h.01M725.9 533.5h.01M725.9 520.4h.01M725.9 505.1h.01M726.0 527.8h.01M726.0 532.5h.01M726.1 531.3h.01M726.1 520.3h.01M726.1 511.3h.01M726.2 531.5h.01M726.2 540.8h.01M726.3 513.7h.01M726.3 539.6h.01M726.3 514.1h.01M726.3 530.3h.01M726.4 531.8h.01M726.4 530.9h.01M726.4 536.5h.01M726.4 483.6h.01M726.4 528.1h.01M726.4 527.5h.01M726.5 528.8h.01M726.5 540.1h.01M726.5 523.1h.01M726.5 534.7h.01M726.5 517.8h.01M726.5 535.7h.01M726.5 533.4h.01M726.5 522.3h.01M726.6 535.1h.01M726.6 527.7h.01M726.6 522.4h.01M726.6 537.0h.01M726.7 526.2h.01M726.7 534.7h.01M726.7 519.1h.01M726.7 513.0h.01M726.7 531.7h.01M726.8 494.6h.01M726.8 523.7h.01M726.8 535.0h.01M726.8 519.9h.01M726.8 527.3h.01M726.8 532.8h.01M726.8 523.7h.01M726.8 537.3h.01M726.8 518.6h.01M726.9 529.5h.01M726.9 517.3h.01M727.0 534.8h.01M727.0 495.1h.01M727.0 486.6h.01M727.1 476.2h.01M727.1 496.6h.01M727.1 504.7h.01M727.1 501.1h.01M727.2 451.5h.01M727.2 443.4h.01M727.3 494.9h.01M727.4 502.3h.01M727.4 484.7h.01M727.4 475.2h.01M727.4 483.5h.01M727.4 470.9h.01M727.4 497.3h.01M727.4 501.9h.01M727.4 498.9h.01M727.5 486.4h.01M727.5 502.6h.01M727.5 502.8h.01M727.6 476.2h.01M727.6 513.1h.01M727.6 449.6h.01M727.6 506.1h.01M727.7 522.9h.01M727.7 515.0h.01M727.7 514.2h.01M727.7 528.0h.01M727.7 540.6h.01M727.7 525.5h.01M727.8 529.3h.01M727.8 525.1h.01M727.8 508.9h.01M727.8 528.1h.01M727.8 535.3h.01M727.8 517.6h.01M727.8 489.8h.01M727.9 520.3h.01M727.9 493.9h.01M728.0 507.6h.01M728.0 524.3h.01M728.0 466.6h.01M728.1 532.5h.01M728.1 526.5h.01M728.1 525.0h.01M728.2 484.1h.01M728.2 500.8h.01M728.2 518.4h.01M728.3 525.6h.01M728.3 515.8h.01M728.3 509.1h.01M728.3 512.2h.01M728.3 524.3h.01M728.4 535.6h.01M728.4 540.8h.01M728.4 531.1h.01M728.4 536.1h.01M728.5 525.9h.01M728.5 528.7h.01M728.5 537.4h.01M728.5 537.2h.01M728.6 523.9h.01M728.6 533.3h.01M728.7 533.5h.01M728.7 517.0h.01M728.7 497.4h.01M728.8 484.0h.01M728.9 484.4h.01M728.9 477.9h.01M729.0 501.9h.01M729.0 460.6h.01M729.0 501.1h.01M729.1 516.4h.01M729.1 494.8h.01M729.1 460.2h.01M729.1 514.7h.01M729.1 501.3h.01M729.1 493.3h.01M729.2 491.9h.01M729.2 498.7h.01M729.2 533.0h.01M729.3 510.5h.01M729.4 534.6h.01M729.4 523.3h.01M729.4 521.7h.01M729.4 517.1h.01M729.4 540.5h.01M729.5 534.2h.01M729.5 537.5h.01M729.5 538.7h.01M729.6 536.0h.01M729.6 504.6h.01M729.6 515.2h.01M729.6 522.8h.01M729.6 518.6h.01M729.6 524.1h.01M729.6 505.0h.01M729.7 522.1h.01M729.7 524.2h.01M729.8 502.4h.01M729.8 477.6h.01M729.8 468.9h.01M729.8 467.3h.01M729.9 501.3h.01M729.9 482.1h.01M729.9 445.0h.01M760.5 538.9h.01M761.0 528.6h.01M760.2 534.0h.01M760.5 526.2h.01M760.1 527.5h.01M761.3 523.2h.01M761.6 534.7h.01M761.9 525.4h.01M761.7 532.3h.01M761.7 521.5h.01M762.8 524.5h.01M762.4 540.2h.01M762.8 540.1h.01M764.0 525.1h.01M763.0 533.6h.01M763.4 527.1h.01M763.3 536.1h.01M764.4 526.0h.01M764.2 530.9h.01M764.5 535.7h.01M765.4 538.9h.01M765.6 525.1h.01M765.1 520.4h.01M766.9 526.1h.01M766.9 520.5h.01M766.6 522.7h.01M766.2 525.1h.01M766.9 536.8h.01M767.6 527.7h.01M767.3 538.4h.01M767.6 532.5h.01M768.5 533.8h.01M768.5 536.7h.01M768.7 524.8h.01M769.4 532.8h.01M769.0 531.3h.01M769.3 521.3h.01M769.2 522.2h.01M769.9 524.2h.01M770.8 530.0h.01M770.1 534.9h.01M770.1 531.5h.01M770.4 534.8h.01M771.3 539.3h.01M771.8 534.2h.01M771.4 539.6h.01M771.2 538.5h.01M771.2 532.7h.01M772.1 534.5h.01M772.7 522.8h.01M772.2 538.7h.01M772.3 531.7h.01M772.2 530.6h.01M773.0 535.5h.01M773.5 530.8h.01M773.3 536.3h.01M773.2 535.0h.01M773.6 531.6h.01M773.9 528.4h.01M774.1 522.2h.01M774.8 536.6h.01M774.3 538.2h.01M774.3 524.6h.01M774.4 534.7h.01M774.2 531.5h.01M774.9 531.8h.01M775.0 532.1h.01M774.7 539.9h.01M775.7 530.5h.01M775.9 535.3h.01M775.1 530.3h.01M775.2 540.4h.01M775.6 521.0h.01M776.6 539.9h.01M776.8 534.8h.01M776.2 535.4h.01M776.2 522.9h.01M777.0 529.6h.01M777.4 528.2h.01M778.8 528.4h.01M778.0 527.0h.01M778.6 540.5h.01M760.0 527.0h.01M760.0 505.4h.01M760.0 514.3h.01M760.0 527.9h.01M760.1 531.6h.01M760.1 497.4h.01M760.1 523.9h.01M760.1 539.6h.01M760.1 533.5h.01M760.1 520.4h.01M760.2 512.3h.01M760.2 529.8h.01M760.2 537.9h.01M760.2 532.9h.01M760.2 522.2h.01M760.2 511.2h.01M760.2 538.3h.01M760.2 513.4h.01M760.2 538.7h.01M760.3 539.6h.01M760.3 507.0h.01M760.3 501.9h.01M760.3 529.6h.01M760.3 533.4h.01M760.3 536.1h.01M760.4 533.3h.01M760.4 521.7h.01M760.4 513.1h.01M760.4 535.4h.01M760.4 517.0h.01M760.4 538.9h.01M760.4 535.2h.01M760.4 525.4h.01M760.4 511.5h.01M760.4 538.3h.01M760.4 539.0h.01M760.4 527.3h.01M760.5 522.7h.01M760.5 520.3h.01M760.5 502.3h.01M760.5 489.4h.01M760.5 475.7h.01M760.5 535.6h.01M760.5 522.3h.01M760.6 537.6h.01M760.6 521.0h.01M760.6 515.8h.01M760.6 539.6h.01M760.6 537.1h.01M760.6 532.7h.01M760.6 522.7h.01M760.6 535.8h.01M760.7 537.2h.01M760.7 530.1h.01M760.7 474.2h.01M760.7 490.2h.01M760.7 533.6h.01M760.7 510.5h.01M760.7 494.3h.01M760.7 524.2h.01M760.7 487.7h.01M760.8 525.3h.01M760.8 521.4h.01M760.8 535.6h.01M760.8 514.5h.01M760.8 524.8h.01M760.8 531.1h.01M760.9 533.9h.01M760.9 528.7h.01M760.9 528.9h.01M760.9 536.2h.01M760.9 525.8h.01M760.9 535.2h.01M760.9 528.0h.01M760.9 518.5h.01M760.9 514.9h.01M760.9 520.9h.01M761.0 537.1h.01M761.0 515.6h.01M761.0 523.1h.01M761.0 505.2h.01M761.0 506.6h.01M761.0 513.1h.01M761.0 521.6h.01M761.0 540.5h.01M761.0 521.2h.01M761.0 529.7h.01M761.0 502.1h.01M761.0 513.5h.01M761.1 530.2h.01M761.1 491.1h.01M761.1 523.0h.01M761.1 465.8h.01M761.1 486.7h.01M761.1 492.2h.01M761.1 503.9h.01M761.1 443.3h.01M761.2 477.8h.01M761.2 486.0h.01M761.2 484.4h.01M761.2 512.5h.01M761.2 531.3h.01M761.2 531.6h.01M761.2 530.7h.01M761.2 525.2h.01M761.2 516.7h.01M761.2 512.2h.01M761.2 512.1h.01M761.2 513.6h.01M761.2 516.9h.01M761.2 484.0h.01M761.3 507.5h.01M761.3 484.7h.01M761.3 481.5h.01M761.3 505.4h.01M761.3 533.4h.01M761.3 526.8h.01M761.3 529.3h.01M761.3 535.3h.01M761.4 512.3h.01M761.4 531.5h.01M761.4 538.3h.01M761.4 525.9h.01M761.4 536.9h.01M761.4 536.9h.01M761.4 520.0h.01M761.4 517.6h.01M761.5 534.3h.01M761.5 531.9h.01M761.5 528.0h.01M761.5 528.2h.01M761.5 531.9h.01M761.5 535.4h.01M761.5 512.8h.01M761.6 493.0h.01M761.6 528.8h.01M761.6 518.5h.01M761.6 501.4h.01M761.6 529.8h.01M761.6 507.1h.01M761.6 480.1h.01M761.6 538.9h.01M761.6 522.6h.01M761.6 491.7h.01M761.6 532.1h.01M761.6 529.0h.01M761.6 478.7h.01M761.6 535.7h.01M761.7 476.5h.01M761.7 508.7h.01M761.7 464.4h.01M761.7 508.2h.01M761.7 455.3h.01M761.7 497.0h.01M761.7 508.9h.01M761.7 499.0h.01M761.7 494.8h.01M761.7 490.3h.01M761.7 478.6h.01M761.7 506.6h.01M761.7 478.3h.01M761.8 509.8h.01M761.8 484.3h.01M761.8 483.8h.01M761.8 502.3h.01M761.8 499.1h.01M761.9 506.2h.01M761.9 498.1h.01M761.9 494.7h.01M761.9 503.0h.01M761.9 489.3h.01M761.9 490.0h.01M761.9 536.3h.01M761.9 513.9h.01M761.9 526.3h.01M762.0 533.2h.01M762.0 519.6h.01M762.0 537.7h.01M762.0 528.1h.01M762.0 526.8h.01M762.0 526.3h.01M762.1 531.3h.01M762.2 523.6h.01M762.2 526.4h.01M762.2 527.6h.01M762.2 537.1h.01M762.3 535.0h.01M762.3 529.0h.01M762.3 526.3h.01M762.3 519.0h.01M762.4 532.0h.01M762.4 496.3h.01M762.5 530.8h.01M762.5 526.8h.01M762.5 531.4h.01M762.6 479.3h.01M762.6 503.6h.01M762.6 523.4h.01M762.6 514.5h.01M762.6 524.6h.01M762.6 526.8h.01M762.8 538.9h.01M762.8 512.9h.01M762.8 515.1h.01M762.8 502.0h.01M762.8 513.3h.01M762.9 530.6h.01M762.9 531.8h.01M762.9 490.7h.01M762.9 527.6h.01M763.0 517.2h.01M763.0 526.9h.01M763.0 534.3h.01M763.0 530.4h.01M763.0 520.6h.01M763.0 517.4h.01M763.0 526.9h.01M763.1 540.4h.01M763.1 536.3h.01M763.1 502.2h.01M763.1 493.5h.01M763.1 533.3h.01M763.1 522.8h.01M763.1 528.3h.01M763.1 534.7h.01M763.1 529.1h.01M763.1 535.4h.01M763.1 527.7h.01M763.1 532.9h.01M763.1 528.0h.01M763.2 537.4h.01M763.2 535.1h.01M763.2 540.2h.01M763.2 529.2h.01M763.2 526.5h.01M763.2 516.2h.01M763.2 506.8h.01M763.3 516.2h.01M763.3 515.0h.01M763.3 495.6h.01M763.3 516.3h.01M763.3 515.4h.01M763.3 453.1h.01M763.3 466.6h.01M763.3 440.5h.01M763.3 479.2h.01M763.3 484.1h.01M763.3 499.0h.01M763.4 501.0h.01M763.4 487.9h.01M763.4 532.2h.01M763.4 516.4h.01M763.4 537.7h.01M763.4 538.3h.01M763.4 532.6h.01M763.4 514.5h.01M763.4 536.5h.01M763.4 513.6h.01M763.4 533.6h.01M763.4 525.2h.01M763.4 527.8h.01M763.5 522.4h.01M763.5 534.1h.01M763.5 502.7h.01M763.5 534.3h.01M763.5 503.9h.01M763.5 515.4h.01M763.5 523.1h.01M763.5 538.8h.01M763.5 500.7h.01M763.5 519.3h.01M763.5 530.3h.01M763.5 537.8h.01M763.6 517.5h.01M763.6 529.4h.01M763.6 514.7h.01M763.6 539.1h.01M763.6 539.8h.01M763.6 491.2h.01M763.6 533.8h.01M763.6 537.1h.01M763.6 531.2h.01M763.6 515.2h.01M763.6 526.3h.01M763.6 511.3h.01M763.6 492.9h.01M763.6 499.6h.01M763.6 496.5h.01M763.6 510.1h.01M763.6 501.6h.01M763.7 528.8h.01M763.7 500.6h.01M763.7 511.5h.01M763.7 517.7h.01M763.7 523.9h.01M763.7 535.7h.01M763.7 495.2h.01M763.7 535.2h.01M763.7 486.7h.01M763.7 515.7h.01M763.7 526.4h.01M763.7 515.7h.01M763.7 534.8h.01M763.7 538.6h.01M763.7 525.4h.01M763.8 535.0h.01M763.8 536.3h.01M763.8 531.9h.01M763.8 526.7h.01M763.8 503.6h.01M763.8 528.7h.01M763.8 505.1h.01M763.8 538.2h.01M763.8 511.8h.01M763.8 514.6h.01M763.8 537.0h.01M763.8 532.9h.01M763.8 513.0h.01M763.8 517.8h.01M763.8 530.4h.01M763.8 534.4h.01M763.8 536.8h.01M763.9 534.9h.01M763.9 538.7h.01M763.9 531.9h.01M763.9 536.9h.01M763.9 535.1h.01M763.9 527.0h.01M763.9 528.1h.01M763.9 526.1h.01M763.9 526.2h.01M763.9 519.8h.01M763.9 525.3h.01M763.9 508.1h.01M763.9 515.3h.01M763.9 521.2h.01M763.9 512.8h.01M763.9 531.6h.01M763.9 535.2h.01M763.9 516.8h.01M763.9 498.4h.01M763.9 526.0h.01M763.9 535.1h.01M764.0 526.0h.01M764.0 532.0h.01M764.0 477.3h.01M764.0 530.9h.01M764.0 529.9h.01M764.0 524.1h.01M764.0 526.8h.01M764.0 520.5h.01M764.0 499.5h.01M764.1 520.6h.01M764.2 529.0h.01M764.2 535.9h.01M764.2 536.3h.01M764.3 499.3h.01M764.3 525.7h.01M764.3 513.0h.01M764.3 539.1h.01M764.4 528.3h.01M764.5 514.4h.01M764.6 529.2h.01M764.6 504.6h.01M764.6 531.7h.01M764.6 536.9h.01M764.6 525.6h.01M764.6 530.1h.01M764.6 518.3h.01M764.6 521.6h.01M764.6 514.7h.01M764.7 490.8h.01M764.7 529.8h.01M764.7 539.2h.01M764.7 535.9h.01M764.7 504.8h.01M764.7 538.1h.01M764.8 521.9h.01M764.8 526.4h.01M764.8 536.9h.01M764.8 532.9h.01M764.8 510.2h.01M764.8 529.2h.01M765.0 516.3h.01M765.0 522.4h.01M765.0 521.6h.01M765.0 532.9h.01M765.0 521.0h.01M765.0 532.3h.01M765.0 524.7h.01M765.0 536.7h.01M765.0 533.9h.01M765.1 504.8h.01M765.1 502.6h.01M765.2 536.3h.01M765.2 537.8h.01M765.2 528.6h.01M765.2 539.7h.01M765.3 535.7h.01M765.4 534.2h.01M765.4 513.5h.01M765.5 476.5h.01M765.5 533.3h.01M765.6 539.2h.01M765.6 521.7h.01M765.7 529.3h.01M765.8 531.2h.01M765.8 538.6h.01M765.9 502.0h.01M765.9 505.5h.01M765.9 509.1h.01M766.0 516.7h.01M766.1 535.8h.01M766.1 530.1h.01M766.1 505.5h.01M766.1 534.8h.01M766.1 515.3h.01M766.1 516.9h.01M766.2 534.3h.01M766.2 531.4h.01M766.2 535.9h.01M766.3 531.8h.01M766.3 535.0h.01M766.4 528.0h.01M766.4 498.9h.01M766.4 537.3h.01M766.4 534.8h.01M766.4 525.4h.01M766.4 527.3h.01M766.5 527.9h.01M766.5 529.7h.01M766.5 530.0h.01M766.5 535.6h.01M766.6 534.2h.01M766.6 539.1h.01M766.6 533.7h.01M766.6 529.6h.01M766.6 534.5h.01M766.6 494.9h.01M766.7 536.2h.01M766.7 488.2h.01M766.8 509.6h.01M766.8 539.7h.01M766.8 505.8h.01M766.8 533.0h.01M766.8 493.6h.01M766.9 530.1h.01M767.0 537.4h.01M767.0 516.8h.01M767.0 522.3h.01M767.0 539.1h.01M767.1 499.5h.01M767.1 534.6h.01M767.1 518.1h.01M767.2 510.4h.01M767.2 534.7h.01M767.2 537.5h.01M767.2 526.7h.01M767.2 530.5h.01M767.2 525.9h.01M767.2 530.3h.01M767.2 493.0h.01M767.3 539.5h.01M767.3 537.9h.01M767.3 521.0h.01M767.3 526.6h.01M767.3 532.7h.01M767.3 520.4h.01M767.3 526.4h.01M767.3 496.5h.01M767.4 540.0h.01M767.4 531.7h.01M767.4 522.6h.01M767.4 522.5h.01M767.4 532.4h.01M767.4 531.9h.01M767.4 535.3h.01M767.5 536.0h.01M767.5 537.3h.01M767.5 532.4h.01M767.5 516.7h.01M767.5 517.6h.01M767.5 484.6h.01M767.5 517.2h.01M767.6 484.6h.01M767.6 499.1h.01M767.7 479.9h.01M767.7 510.2h.01M767.7 516.9h.01M767.8 485.0h.01M767.8 512.0h.01M767.8 485.4h.01M767.9 509.6h.01M767.9 501.0h.01M767.9 527.3h.01M768.0 500.9h.01M768.0 534.2h.01M768.1 485.5h.01M768.1 495.2h.01M768.1 537.0h.01M768.1 539.5h.01M768.1 529.8h.01M768.2 523.5h.01M768.2 539.8h.01M768.2 530.7h.01M768.2 531.7h.01M768.2 517.5h.01M768.2 510.6h.01M768.2 492.6h.01M768.2 537.0h.01M768.3 514.0h.01M768.3 528.5h.01M768.3 509.0h.01M768.3 537.0h.01M768.3 515.9h.01M768.4 504.0h.01M768.4 534.6h.01M768.4 482.2h.01M768.4 526.2h.01M768.4 527.6h.01M768.5 530.4h.01M768.5 537.3h.01M768.5 532.8h.01M768.5 513.3h.01M768.6 534.7h.01M768.6 517.9h.01M768.6 533.8h.01M768.6 508.8h.01M768.7 536.9h.01M768.7 529.8h.01M768.7 522.4h.01M768.7 531.1h.01M768.7 535.4h.01M768.7 496.8h.01M768.7 527.8h.01M768.7 535.3h.01M768.7 510.0h.01M768.7 510.9h.01M768.8 530.2h.01M768.8 536.5h.01M768.8 525.2h.01M768.8 524.1h.01M768.8 539.0h.01M768.8 538.6h.01M768.8 519.0h.01M768.8 518.2h.01M768.9 531.2h.01M768.9 532.3h.01M768.9 538.0h.01M768.9 534.4h.01M768.9 514.5h.01M768.9 529.1h.01M768.9 530.4h.01M768.9 508.7h.01M768.9 507.1h.01M768.9 539.7h.01M769.0 533.8h.01M769.0 525.7h.01M769.0 514.9h.01M769.0 527.2h.01M769.0 511.3h.01M769.0 523.5h.01M769.0 523.7h.01M769.0 522.9h.01M769.0 538.3h.01M769.0 519.8h.01M769.0 539.5h.01M769.0 502.2h.01M769.0 526.4h.01M769.1 519.7h.01M769.1 515.2h.01M769.1 529.9h.01M769.1 537.7h.01M769.1 513.4h.01M769.1 534.6h.01M769.1 510.9h.01M769.1 516.9h.01M769.1 535.5h.01M769.1 481.6h.01M769.1 529.3h.01M769.1 531.0h.01M769.2 533.7h.01M769.2 535.8h.01M769.2 512.3h.01M769.2 540.1h.01M769.2 518.6h.01M769.2 535.6h.01M769.2 523.1h.01M769.2 536.2h.01M769.2 520.6h.01M769.2 537.3h.01M769.2 524.6h.01M769.2 532.1h.01M769.2 532.9h.01M769.2 526.1h.01M769.2 535.5h.01M769.2 524.8h.01M769.2 523.1h.01M769.3 511.0h.01M769.3 522.7h.01M769.3 499.7h.01M769.3 535.6h.01M769.3 529.8h.01M769.3 537.5h.01M769.3 514.1h.01M769.3 525.0h.01M769.3 536.5h.01M769.3 535.3h.01M769.3 529.1h.01M769.3 533.3h.01M769.3 534.4h.01M769.3 533.2h.01M769.3 530.8h.01M769.3 528.2h.01M769.3 526.8h.01M769.4 539.9h.01M769.4 511.3h.01M769.4 524.1h.01M769.4 529.4h.01M769.4 503.2h.01M769.4 496.5h.01M769.4 481.1h.01M769.4 500.3h.01M769.4 492.8h.01M769.4 530.3h.01M769.4 532.8h.01M769.4 532.2h.01M769.4 517.3h.01M769.4 475.7h.01M769.4 522.1h.01M769.4 533.0h.01M769.4 531.2h.01M769.4 534.4h.01M769.5 528.7h.01M769.5 505.5h.01M769.5 532.2h.01M769.5 509.3h.01M769.5 491.9h.01M769.5 532.2h.01M769.5 528.9h.01M769.5 502.5h.01M769.5 504.5h.01M769.5 530.4h.01M769.5 535.3h.01M769.5 510.2h.01M769.5 536.1h.01M769.5 529.6h.01M769.5 537.1h.01M769.5 525.9h.01M769.5 540.1h.01M769.5 532.7h.01M769.6 536.3h.01M769.6 534.3h.01M769.6 536.0h.01M769.6 525.5h.01M769.6 519.8h.01M769.6 469.4h.01M769.6 527.1h.01M769.6 536.9h.01M769.6 513.7h.01M769.6 529.9h.01M769.6 534.2h.01M769.6 496.2h.01M769.6 503.3h.01M769.6 530.1h.01M769.6 508.9h.01M769.6 537.7h.01M769.7 540.2h.01M769.7 532.9h.01M769.7 511.4h.01M769.7 523.5h.01M769.7 516.9h.01M769.7 521.1h.01M769.7 495.3h.01M769.7 485.7h.01M769.7 455.7h.01M769.7 484.5h.01M769.7 471.9h.01M769.7 496.1h.01M769.7 527.2h.01M769.8 535.6h.01M769.8 488.5h.01M769.8 536.2h.01M769.8 535.2h.01M769.8 527.8h.01M769.8 532.8h.01M769.8 517.5h.01M769.8 530.6h.01M769.8 534.7h.01M769.8 537.6h.01M769.8 513.1h.01M769.8 526.0h.01M769.9 505.0h.01M769.9 519.4h.01M769.9 537.7h.01M769.9 534.8h.01M769.9 478.8h.01M769.9 532.4h.01M769.9 537.0h.01M769.9 518.8h.01M769.9 510.4h.01M769.9 506.1h.01M769.9 526.4h.01M769.9 516.9h.01M769.9 523.7h.01M769.9 531.1h.01M769.9 523.4h.01M770.0 535.8h.01M770.0 532.9h.01M770.0 528.1h.01M770.0 501.8h.01M770.0 530.3h.01M770.0 533.4h.01M770.0 524.0h.01M770.0 524.2h.01M770.0 467.7h.01M770.0 495.3h.01M770.0 534.2h.01M770.0 539.7h.01M770.1 528.4h.01M770.1 516.7h.01M770.1 536.6h.01M770.1 519.8h.01M770.1 456.7h.01M770.2 536.3h.01M770.2 523.0h.01M770.2 527.6h.01M770.2 531.5h.01M770.2 537.2h.01M770.2 480.5h.01M770.3 450.2h.01M770.3 477.1h.01M770.3 479.3h.01M770.3 488.7h.01M770.4 470.8h.01M770.4 536.9h.01M770.4 532.1h.01M770.4 497.6h.01M770.5 537.8h.01M770.5 530.7h.01M770.5 535.2h.01M770.5 510.7h.01M770.5 530.0h.01M770.5 522.9h.01M770.5 523.7h.01M770.5 530.7h.01M770.6 512.0h.01M770.6 522.9h.01M770.6 534.6h.01M770.6 527.5h.01M770.6 537.1h.01M770.7 506.6h.01M770.7 501.3h.01M770.8 538.8h.01M770.8 495.6h.01M770.8 528.9h.01M770.8 461.8h.01M770.9 523.4h.01M770.9 535.2h.01M770.9 537.1h.01M770.9 532.5h.01M770.9 513.0h.01M771.0 535.4h.01M771.0 538.7h.01M771.1 485.9h.01M771.1 530.9h.01M771.1 515.6h.01M771.2 538.9h.01M771.2 517.7h.01M771.2 524.3h.01M771.2 538.3h.01M771.2 525.0h.01M771.2 517.3h.01M771.3 511.1h.01M771.3 537.8h.01M771.4 479.8h.01M771.4 507.2h.01M771.4 534.6h.01M771.4 524.9h.01M771.5 534.3h.01M771.5 526.5h.01M771.6 515.7h.01M771.6 476.7h.01M771.6 524.9h.01M771.7 529.2h.01M771.7 540.5h.01M771.9 527.6h.01M771.9 507.0h.01M771.9 515.9h.01M772.0 515.0h.01M772.0 536.8h.01M772.0 529.3h.01M772.0 499.4h.01M772.0 529.6h.01M772.1 533.0h.01M772.1 509.8h.01M772.1 530.0h.01M772.1 531.8h.01M772.1 537.3h.01M772.2 536.5h.01M772.2 529.6h.01M772.2 537.0h.01M772.3 523.7h.01M772.3 509.0h.01M772.3 536.5h.01M772.3 514.2h.01M772.3 537.6h.01M772.3 517.8h.01M772.3 537.0h.01M772.3 492.7h.01M772.4 453.3h.01M772.4 490.9h.01M772.4 536.0h.01M772.4 522.1h.01M772.4 516.0h.01M772.5 539.3h.01M772.5 535.3h.01M772.5 523.8h.01M772.5 535.4h.01M772.6 526.0h.01M772.6 529.3h.01M772.6 506.1h.01M772.7 531.4h.01M772.7 519.1h.01M772.8 519.9h.01M772.8 518.3h.01M772.8 515.3h.01M772.8 534.0h.01M772.8 496.1h.01M772.8 531.1h.01M773.0 514.4h.01M773.0 538.4h.01M773.0 515.1h.01M773.0 529.2h.01M773.0 526.9h.01M773.1 507.8h.01M773.1 524.6h.01M773.1 531.4h.01M773.1 510.8h.01M773.1 486.7h.01M773.2 532.9h.01M773.2 530.2h.01M773.2 531.4h.01M773.2 502.7h.01M773.2 505.9h.01M773.2 536.2h.01M773.3 533.4h.01M773.3 508.6h.01M773.3 536.4h.01M773.3 493.4h.01M773.3 512.1h.01M773.3 493.1h.01M773.4 483.3h.01M773.4 472.9h.01M773.4 528.7h.01M773.4 540.1h.01M773.4 514.5h.01M773.5 531.7h.01M773.5 496.0h.01M773.5 511.8h.01M773.5 515.4h.01M773.5 510.9h.01M773.5 505.0h.01M773.6 510.5h.01M773.6 458.5h.01M773.6 477.1h.01M773.6 505.8h.01M773.6 513.1h.01M773.7 511.2h.01M773.7 502.7h.01M773.8 494.8h.01M773.8 498.5h.01M773.8 496.3h.01M773.9 501.2h.01M773.9 493.2h.01M773.9 501.3h.01M773.9 503.6h.01M774.0 511.1h.01M774.0 499.8h.01M774.1 498.4h.01M774.1 506.9h.01M774.1 479.1h.01M774.1 515.3h.01M774.2 512.8h.01M774.2 455.5h.01M774.2 506.1h.01M774.2 492.4h.01M774.3 511.6h.01M774.3 501.2h.01M774.3 499.7h.01M774.3 508.9h.01M774.3 536.7h.01M774.3 517.2h.01M774.4 536.6h.01M774.5 524.6h.01M774.5 526.3h.01M774.5 506.0h.01M774.6 532.9h.01M774.6 514.5h.01M774.6 457.1h.01M774.6 486.8h.01M774.6 503.9h.01M774.7 488.2h.01M774.7 472.4h.01M774.7 501.7h.01M774.8 492.5h.01M774.8 516.6h.01M774.8 528.1h.01M774.9 537.4h.01M774.9 527.0h.01M775.0 527.8h.01M775.0 509.5h.01M775.1 520.7h.01M775.1 538.5h.01M775.1 515.7h.01M775.1 538.9h.01M775.2 529.1h.01M775.2 504.0h.01M775.2 497.2h.01M775.2 510.7h.01M775.2 522.3h.01M775.2 533.5h.01M775.2 532.7h.01M775.2 538.2h.01M775.2 487.4h.01M775.3 517.8h.01M775.3 534.3h.01M775.3 533.0h.01M775.3 537.1h.01M775.3 529.8h.01M775.3 522.4h.01M775.3 538.0h.01M775.4 530.9h.01M775.4 525.7h.01M775.4 518.0h.01M775.4 521.6h.01M775.4 531.6h.01M775.4 534.3h.01M775.4 521.9h.01M775.4 497.3h.01M775.4 482.6h.01M775.5 514.6h.01M775.5 540.7h.01M775.5 529.1h.01M775.5 539.9h.01M775.5 509.2h.01M775.5 530.3h.01M775.5 503.0h.01M775.5 538.1h.01M775.5 502.3h.01M775.6 496.9h.01M775.6 535.0h.01M775.6 506.9h.01M775.6 536.0h.01M775.6 527.2h.01M775.6 516.0h.01M775.7 534.5h.01M775.7 537.4h.01M775.7 535.1h.01M775.7 526.4h.01M775.7 537.9h.01M775.7 524.2h.01M775.7 510.1h.01M775.8 510.2h.01M775.8 530.7h.01M775.8 532.3h.01M775.8 528.2h.01M775.8 511.1h.01M775.8 518.3h.01M775.8 526.5h.01M775.8 505.9h.01M775.8 501.2h.01M775.9 521.6h.01M775.9 532.6h.01M775.9 509.6h.01M775.9 518.9h.01M775.9 493.6h.01M775.9 525.2h.01M776.0 519.8h.01M776.0 501.0h.01M776.0 534.8h.01M776.0 510.4h.01M776.0 531.9h.01M776.0 510.9h.01M776.0 498.4h.01M776.0 536.4h.01M776.1 524.8h.01M776.1 532.3h.01M776.1 513.5h.01M776.1 532.4h.01M776.1 476.0h.01M776.1 538.3h.01M776.1 535.9h.01M776.1 535.8h.01M776.2 537.1h.01M776.2 535.6h.01M776.2 532.0h.01M776.2 526.6h.01M776.2 538.2h.01M776.2 519.6h.01M776.2 534.5h.01M776.2 524.1h.01M776.2 518.9h.01M776.3 528.2h.01M776.3 494.6h.01M776.3 480.0h.01M776.3 501.0h.01M776.3 535.2h.01M776.3 520.3h.01M776.3 533.4h.01M776.3 523.1h.01M776.4 534.1h.01M776.4 517.4h.01M776.4 525.0h.01M776.4 511.3h.01M776.4 522.3h.01M776.4 537.8h.01M776.4 526.6h.01M776.4 499.5h.01M776.4 491.1h.01M776.4 473.0h.01M776.4 527.9h.01M776.4 509.3h.01M776.4 531.2h.01M776.5 525.1h.01M776.5 473.0h.01M776.5 511.5h.01M776.5 539.2h.01M776.5 534.4h.01M776.5 534.8h.01M776.5 526.3h.01M776.6 512.8h.01M776.6 505.3h.01M776.6 530.4h.01M776.6 536.9h.01M776.6 517.4h.01M776.6 514.4h.01M776.6 526.6h.01M776.7 536.6h.01M776.7 530.9h.01M776.7 533.2h.01M776.7 522.8h.01M776.7 513.7h.01M776.7 531.9h.01M776.7 527.2h.01M776.7 526.9h.01M776.7 520.9h.01M776.7 524.2h.01M776.7 524.3h.01M776.8 516.3h.01M776.8 520.8h.01M776.8 525.7h.01M776.8 446.8h.01M776.8 537.7h.01M776.8 539.6h.01M776.8 535.8h.01M776.8 534.2h.01M776.8 518.9h.01M776.8 533.4h.01M776.8 510.1h.01M776.8 516.4h.01M776.8 512.9h.01M776.9 505.2h.01M776.9 514.9h.01M776.9 531.5h.01M776.9 539.4h.01M776.9 524.1h.01M776.9 526.6h.01M777.0 518.5h.01M777.0 539.6h.01M777.0 524.9h.01M777.0 520.7h.01M777.0 529.6h.01M777.0 499.3h.01M777.0 539.7h.01M777.1 508.9h.01M777.1 500.8h.01M777.1 520.0h.01M777.1 513.3h.01M777.1 534.0h.01M777.1 488.0h.01M777.2 531.4h.01M777.2 533.8h.01M777.2 526.0h.01M777.2 518.4h.01M777.2 530.2h.01M777.2 515.4h.01M777.2 521.1h.01M777.2 502.6h.01M777.3 514.9h.01M777.3 536.0h.01M777.3 526.2h.01M777.3 511.0h.01M777.3 538.9h.01M777.4 536.7h.01M777.4 529.8h.01M777.4 510.1h.01M777.4 507.5h.01M777.4 523.1h.01M777.5 535.9h.01M777.5 502.7h.01M777.6 503.2h.01M777.6 511.9h.01M777.6 537.9h.01M777.7 518.3h.01M777.7 523.2h.01M777.7 505.8h.01M777.7 534.6h.01M777.7 531.1h.01M777.7 500.4h.01M777.7 527.6h.01M777.7 538.8h.01M777.8 508.8h.01M777.8 534.0h.01M777.8 527.2h.01M777.8 535.0h.01M777.8 517.3h.01M777.9 521.4h.01M777.9 510.3h.01M777.9 528.6h.01M777.9 515.6h.01M777.9 504.4h.01M778.0 506.2h.01M778.0 525.4h.01M778.0 539.2h.01M778.1 522.4h.01M778.2 531.6h.01M778.4 538.7h.01M778.4 530.9h.01M778.4 539.2h.01M778.4 528.6h.01M778.5 526.4h.01M778.6 520.6h.01M778.6 489.9h.01M778.6 526.3h.01M778.6 533.5h.01M778.6 516.7h.01M778.7 508.9h.01M778.8 510.6h.01M778.9 520.2h.01M778.9 527.2h.01M779.0 536.6h.01M779.0 514.3h.01M803.9 522.2h.01M804.5 524.4h.01M805.0 523.8h.01M805.3 534.2h.01M805.1 521.7h.01M806.2 524.7h.01M805.9 527.6h.01M805.7 533.5h.01M806.3 521.0h.01M806.3 531.9h.01M806.6 539.2h.01M807.1 534.5h.01M807.1 534.8h.01M806.5 530.0h.01M807.6 526.8h.01M807.6 538.5h.01M808.1 533.8h.01M808.4 522.1h.01M808.4 522.2h.01M808.6 528.6h.01M808.6 525.3h.01M808.9 523.4h.01M808.7 523.0h.01M809.0 522.8h.01M809.6 526.4h.01M810.5 533.3h.01M810.0 532.7h.01M810.5 525.1h.01M810.3 531.4h.01M811.4 530.5h.01M810.6 526.9h.01M810.9 535.3h.01M811.5 532.3h.01M811.3 525.1h.01M811.4 525.1h.01M811.2 522.5h.01M812.0 540.5h.01M812.1 529.2h.01M812.5 532.0h.01M812.7 536.2h.01M813.4 521.5h.01M813.3 528.9h.01M813.1 537.1h.01M812.8 525.2h.01M813.2 525.4h.01M813.7 525.4h.01M814.0 526.4h.01M814.2 520.6h.01M814.4 539.5h.01M814.1 537.3h.01M813.8 532.8h.01M814.9 524.7h.01M815.3 525.1h.01M815.4 521.6h.01M815.6 536.6h.01M815.0 522.3h.01M815.7 535.0h.01M815.9 521.7h.01M816.1 526.1h.01M816.4 522.6h.01M816.2 531.0h.01M803.4 512.9h.01M803.4 531.3h.01M803.4 493.6h.01M803.5 498.4h.01M803.5 512.4h.01M803.5 495.0h.01M803.5 517.6h.01M803.5 538.9h.01M803.5 496.7h.01M803.5 503.1h.01M803.5 450.0h.01M803.5 528.8h.01M803.6 507.9h.01M803.6 533.3h.01M803.6 536.4h.01M803.6 500.3h.01M803.6 511.9h.01M803.6 503.8h.01M803.6 513.7h.01M803.6 506.6h.01M803.7 509.3h.01M803.7 511.3h.01M803.7 520.5h.01M803.7 520.3h.01M803.7 536.6h.01M803.7 539.7h.01M803.7 535.3h.01M803.7 534.6h.01M803.8 534.0h.01M803.8 498.6h.01M803.8 530.6h.01M803.8 518.8h.01M803.8 514.3h.01M803.8 534.9h.01M803.8 524.9h.01M803.8 502.7h.01M803.9 525.7h.01M803.9 537.8h.01M803.9 518.1h.01M803.9 517.2h.01M804.0 526.7h.01M804.0 532.8h.01M804.0 522.7h.01M804.0 527.3h.01M804.0 528.7h.01M804.1 534.3h.01M804.1 538.1h.01M804.1 502.0h.01M804.1 510.8h.01M804.1 526.5h.01M804.1 528.4h.01M804.2 538.4h.01M804.2 520.7h.01M804.2 479.4h.01M804.2 538.2h.01M804.2 529.6h.01M804.3 514.4h.01M804.3 526.9h.01M804.3 486.6h.01M804.3 471.6h.01M804.3 538.1h.01M804.3 489.7h.01M804.3 540.8h.01M804.3 526.7h.01M804.3 494.3h.01M804.3 535.4h.01M804.4 476.2h.01M804.4 513.4h.01M804.4 530.3h.01M804.4 481.1h.01M804.4 524.7h.01M804.5 499.4h.01M804.5 493.3h.01M804.5 505.0h.01M804.5 537.0h.01M804.5 527.5h.01M804.5 506.5h.01M804.5 523.5h.01M804.6 510.1h.01M804.6 509.8h.01M804.7 534.3h.01M804.7 514.5h.01M804.7 500.5h.01M804.7 525.5h.01M804.7 528.1h.01M804.8 531.7h.01M804.8 530.2h.01M804.8 524.2h.01M804.8 524.3h.01M804.8 536.5h.01M804.9 534.5h.01M805.0 531.9h.01M805.0 537.4h.01M805.0 491.0h.01M805.1 513.4h.01M805.1 522.0h.01M805.2 485.7h.01M805.2 514.4h.01M805.2 520.6h.01M805.2 533.9h.01M805.2 537.1h.01M805.2 520.0h.01M805.2 512.1h.01M805.4 519.0h.01M805.4 538.7h.01M805.4 520.1h.01M805.4 523.1h.01M805.4 511.4h.01M805.4 530.8h.01M805.5 527.5h.01M805.5 530.9h.01M805.5 534.8h.01M805.5 529.2h.01M805.5 513.3h.01M805.5 507.2h.01M805.5 487.8h.01M805.5 537.3h.01M805.5 527.7h.01M805.6 509.6h.01M805.6 534.0h.01M805.6 525.6h.01M805.6 524.6h.01M805.6 534.1h.01M805.6 528.6h.01M805.6 531.2h.01M805.6 536.7h.01M805.6 513.5h.01M805.7 539.3h.01M805.7 531.7h.01M805.7 505.9h.01M805.7 530.5h.01M805.7 534.2h.01M805.7 525.1h.01M805.7 517.9h.01M805.7 513.9h.01M805.7 507.0h.01M805.7 500.2h.01M805.7 517.0h.01M805.7 531.4h.01M805.7 536.1h.01M805.7 530.4h.01M805.7 534.7h.01M805.8 526.2h.01M805.8 514.7h.01M805.8 505.7h.01M805.8 535.1h.01M805.8 529.3h.01M805.8 528.9h.01M805.8 538.9h.01M805.8 533.4h.01M805.8 485.8h.01M805.9 454.9h.01M805.9 520.4h.01M805.9 532.5h.01M805.9 528.0h.01M805.9 513.5h.01M805.9 535.2h.01M805.9 517.2h.01M805.9 493.6h.01M805.9 503.1h.01M805.9 536.3h.01M805.9 530.5h.01M806.0 518.6h.01M806.0 530.5h.01M806.0 521.6h.01M806.0 514.6h.01M806.0 535.5h.01M806.0 525.9h.01M806.0 530.7h.01M806.0 530.8h.01M806.0 526.1h.01M806.0 531.1h.01M806.0 495.6h.01M806.0 526.7h.01M806.0 529.9h.01M806.0 524.5h.01M806.0 508.8h.01M806.0 514.1h.01M806.1 538.6h.01M806.1 540.3h.01M806.1 536.2h.01M806.1 535.2h.01M806.1 532.7h.01M806.1 526.9h.01M806.1 539.9h.01M806.2 526.9h.01M806.2 525.8h.01M806.2 534.9h.01M806.2 530.9h.01M806.2 526.7h.01M806.2 514.1h.01M806.2 516.0h.01M806.2 532.3h.01M806.2 498.9h.01M806.2 538.3h.01M806.3 524.2h.01M806.3 525.8h.01M806.3 536.5h.01M806.3 530.9h.01M806.3 521.3h.01M806.3 512.2h.01M806.3 515.5h.01M806.3 526.8h.01M806.3 535.3h.01M806.3 538.5h.01M806.3 539.6h.01M806.3 536.4h.01M806.4 524.4h.01M806.4 539.2h.01M806.4 530.8h.01M806.4 538.0h.01M806.4 496.3h.01M806.4 529.8h.01M806.4 519.0h.01M806.4 524.3h.01M806.4 528.7h.01M806.4 478.9h.01M806.4 533.1h.01M806.4 513.2h.01M806.4 532.9h.01M806.4 486.4h.01M806.5 539.8h.01M806.5 519.9h.01M806.5 537.0h.01M806.5 493.1h.01M806.5 488.6h.01M806.5 502.1h.01M806.5 474.2h.01M806.5 501.5h.01M806.5 487.5h.01M806.5 472.2h.01M806.5 509.5h.01M806.5 471.1h.01M806.5 480.9h.01M806.5 501.3h.01M806.5 499.5h.01M806.5 502.0h.01M806.5 506.6h.01M806.5 514.9h.01M806.6 531.1h.01M806.6 517.0h.01M806.6 492.6h.01M806.6 517.1h.01M806.6 529.8h.01M806.6 534.1h.01M806.6 533.7h.01M806.6 513.9h.01M806.6 532.8h.01M806.6 534.9h.01M806.6 522.7h.01M806.7 536.2h.01M806.7 537.4h.01M806.7 523.3h.01M806.7 521.1h.01M806.7 536.4h.01M806.7 528.2h.01M806.7 508.0h.01M806.7 529.0h.01M806.7 528.6h.01M806.7 488.4h.01M806.7 537.6h.01M806.7 518.6h.01M806.7 516.5h.01M806.7 508.3h.01M806.7 537.0h.01M806.7 528.8h.01M806.7 523.9h.01M806.7 521.2h.01M806.7 521.4h.01M806.8 527.8h.01M806.8 502.2h.01M806.8 508.4h.01M806.8 521.5h.01M806.8 466.3h.01M806.8 515.5h.01M806.8 527.7h.01M806.8 539.3h.01M806.8 526.8h.01M806.8 538.7h.01M806.8 523.5h.01M806.8 464.7h.01M806.8 525.3h.01M806.8 506.5h.01M806.8 512.8h.01M806.8 467.8h.01M806.9 479.7h.01M806.9 478.4h.01M806.9 493.7h.01M806.9 481.4h.01M806.9 477.6h.01M806.9 486.1h.01M806.9 475.2h.01M806.9 490.2h.01M806.9 492.0h.01M806.9 484.9h.01M806.9 497.9h.01M806.9 534.3h.01M806.9 520.0h.01M806.9 529.6h.01M806.9 529.8h.01M806.9 524.5h.01M806.9 516.6h.01M807.0 502.8h.01M807.0 533.6h.01M807.0 513.3h.01M807.0 536.1h.01M807.0 540.4h.01M807.0 530.5h.01M807.0 514.9h.01M807.0 540.1h.01M807.0 532.4h.01M807.0 515.9h.01M807.0 536.7h.01M807.0 509.6h.01M807.1 517.7h.01M807.1 524.5h.01M807.1 465.8h.01M807.1 530.5h.01M807.1 525.8h.01M807.1 516.8h.01M807.1 535.7h.01M807.1 520.9h.01M807.1 505.9h.01M807.1 520.6h.01M807.1 517.1h.01M807.2 513.2h.01M807.2 521.0h.01M807.2 518.2h.01M807.2 524.6h.01M807.2 515.2h.01M807.2 510.9h.01M807.2 528.3h.01M807.2 530.3h.01M807.2 536.3h.01M807.2 526.7h.01M807.2 534.4h.01M807.2 533.8h.01M807.2 539.7h.01M807.2 534.2h.01M807.2 519.9h.01M807.2 535.2h.01M807.3 534.3h.01M807.3 539.1h.01M807.3 529.8h.01M807.3 515.4h.01M807.3 511.5h.01M807.3 533.8h.01M807.3 531.2h.01M807.4 522.6h.01M807.4 537.0h.01M807.4 526.7h.01M807.4 507.0h.01M807.4 518.1h.01M807.4 532.6h.01M807.4 513.5h.01M807.4 533.7h.01M807.4 507.6h.01M807.4 534.6h.01M807.4 533.8h.01M807.4 535.9h.01M807.4 539.8h.01M807.5 527.1h.01M807.5 527.9h.01M807.5 509.3h.01M807.5 516.7h.01M807.5 510.2h.01M807.5 522.8h.01M807.5 534.5h.01M807.5 531.5h.01M807.5 520.0h.01M807.5 528.6h.01M807.5 494.8h.01M807.5 525.3h.01M807.5 462.2h.01M807.6 494.0h.01M807.6 537.7h.01M807.6 502.3h.01M807.6 520.6h.01M807.6 530.1h.01M807.6 505.9h.01M807.6 529.0h.01M807.6 537.5h.01M807.7 528.5h.01M807.7 515.2h.01M807.7 534.0h.01M807.7 533.1h.01M807.7 533.8h.01M807.7 525.2h.01M807.7 535.8h.01M807.7 493.2h.01M807.7 535.9h.01M807.8 508.8h.01M807.8 534.3h.01M807.8 518.9h.01M807.9 521.3h.01M807.9 531.7h.01M807.9 528.9h.01M807.9 514.8h.01M807.9 488.8h.01M807.9 532.1h.01M807.9 535.7h.01M808.0 522.1h.01M808.0 533.2h.01M808.0 524.3h.01M808.0 534.7h.01M808.0 491.7h.01M808.0 457.3h.01M808.0 512.2h.01M808.0 491.3h.01M808.0 506.1h.01M808.1 485.3h.01M808.1 511.0h.01M808.1 517.4h.01M808.1 488.0h.01M808.2 530.5h.01M808.3 538.8h.01M808.3 531.4h.01M808.3 537.9h.01M808.3 534.0h.01M808.4 525.4h.01M808.4 535.2h.01M808.4 524.4h.01M808.4 524.1h.01M808.4 521.3h.01M808.4 531.4h.01M808.4 525.4h.01M808.4 517.5h.01M808.4 533.5h.01M808.4 527.6h.01M808.5 517.8h.01M808.5 525.6h.01M808.5 539.2h.01M808.5 530.0h.01M808.5 518.9h.01M808.5 511.1h.01M808.5 534.8h.01M808.5 535.0h.01M808.5 522.2h.01M808.5 521.7h.01M808.5 524.1h.01M808.6 525.9h.01M808.6 539.1h.01M808.6 533.2h.01M808.6 508.9h.01M808.6 535.7h.01M808.6 515.4h.01M808.6 532.6h.01M808.6 531.3h.01M808.6 531.0h.01M808.6 527.7h.01M808.6 520.9h.01M808.6 532.7h.01M808.6 536.2h.01M808.6 517.6h.01M808.6 537.5h.01M808.7 529.7h.01M808.7 503.7h.01M808.7 526.7h.01M808.7 539.6h.01M808.7 523.5h.01M808.7 532.3h.01M808.7 516.7h.01M808.7 532.7h.01M808.7 531.7h.01M808.7 509.4h.01M808.7 526.1h.01M808.7 486.8h.01M808.7 521.9h.01M808.7 532.2h.01M808.7 532.3h.01M808.8 536.0h.01M808.8 536.1h.01M808.8 517.0h.01M808.8 531.5h.01M808.8 507.9h.01M808.8 534.0h.01M808.8 507.4h.01M808.8 517.0h.01M808.8 507.4h.01M808.8 490.6h.01M808.8 530.8h.01M808.8 534.5h.01M808.8 497.1h.01M808.8 521.2h.01M808.8 531.5h.01M808.8 530.7h.01M808.8 536.4h.01M808.8 530.9h.01M808.8 539.4h.01M808.9 527.7h.01M808.9 499.6h.01M808.9 531.9h.01M808.9 538.0h.01M808.9 515.0h.01M808.9 530.5h.01M808.9 522.2h.01M808.9 519.1h.01M808.9 524.8h.01M808.9 515.0h.01M808.9 531.0h.01M808.9 528.5h.01M808.9 528.1h.01M808.9 519.2h.01M808.9 533.5h.01M808.9 451.1h.01M808.9 530.8h.01M808.9 514.2h.01M808.9 492.3h.01M808.9 491.3h.01M808.9 521.6h.01M808.9 485.6h.01M808.9 528.7h.01M808.9 524.5h.01M809.0 530.6h.01M809.0 533.1h.01M809.0 531.1h.01M809.0 533.3h.01M809.0 529.2h.01M809.0 523.4h.01M809.0 525.6h.01M809.0 469.6h.01M809.0 516.8h.01M809.0 538.5h.01M809.0 520.8h.01M809.0 525.1h.01M809.0 539.1h.01M809.0 532.6h.01M809.0 507.3h.01M809.1 493.5h.01M809.1 522.8h.01M809.1 533.0h.01M809.1 522.7h.01M809.1 527.4h.01M809.1 492.0h.01M809.1 485.2h.01M809.1 500.6h.01M809.1 515.0h.01M809.1 513.6h.01M809.1 510.7h.01M809.1 510.2h.01M809.1 501.0h.01M809.2 533.6h.01M809.2 529.8h.01M809.2 520.3h.01M809.2 536.5h.01M809.2 519.2h.01M809.2 530.3h.01M809.2 529.6h.01M809.2 531.8h.01M809.2 526.6h.01M809.2 539.2h.01M809.2 535.1h.01M809.2 536.4h.01M809.2 534.0h.01M809.2 534.1h.01M809.2 440.7h.01M809.2 536.4h.01M809.2 525.9h.01M809.3 528.7h.01M809.3 533.3h.01M809.3 525.5h.01M809.3 535.0h.01M809.3 513.7h.01M809.3 540.6h.01M809.3 532.5h.01M809.3 535.1h.01M809.3 537.3h.01M809.3 503.6h.01M809.3 524.3h.01M809.3 527.1h.01M809.3 510.1h.01M809.3 530.2h.01M809.3 510.8h.01M809.3 528.5h.01M809.3 531.7h.01M809.3 505.0h.01M809.3 521.4h.01M809.3 521.6h.01M809.3 495.5h.01M809.3 492.9h.01M809.4 510.1h.01M809.4 531.7h.01M809.4 534.5h.01M809.4 504.5h.01M809.4 508.9h.01M809.4 518.6h.01M809.4 532.5h.01M809.4 511.1h.01M809.4 496.7h.01M809.4 533.7h.01M809.4 537.5h.01M809.4 524.1h.01M809.4 528.2h.01M809.4 521.6h.01M809.4 534.8h.01M809.4 527.4h.01M809.4 538.7h.01M809.4 539.3h.01M809.4 516.2h.01M809.4 524.2h.01M809.4 533.9h.01M809.4 523.2h.01M809.4 520.0h.01M809.4 526.4h.01M809.5 526.9h.01M809.5 518.2h.01M809.5 512.2h.01M809.5 498.5h.01M809.5 495.4h.01M809.5 478.8h.01M809.5 520.4h.01M809.5 526.3h.01M809.5 520.6h.01M809.5 520.9h.01M809.5 514.6h.01M809.6 530.4h.01M809.6 516.9h.01M809.6 532.6h.01M809.6 444.2h.01M809.6 488.3h.01M809.6 475.8h.01M809.6 518.8h.01M809.6 531.4h.01M809.7 516.8h.01M809.7 510.3h.01M809.7 524.0h.01M809.7 497.5h.01M809.8 521.9h.01M809.8 529.8h.01M809.8 535.7h.01M809.8 535.0h.01M809.8 536.1h.01M809.8 519.0h.01M809.8 540.8h.01M809.9 520.9h.01M809.9 536.4h.01M809.9 517.6h.01M809.9 509.4h.01M809.9 516.0h.01M809.9 538.5h.01M809.9 515.7h.01M809.9 525.9h.01M809.9 538.7h.01M810.0 508.7h.01M810.0 497.1h.01M810.0 529.7h.01M810.0 521.1h.01M810.0 536.0h.01M810.0 504.0h.01M810.0 511.7h.01M810.0 524.5h.01M810.1 540.1h.01M810.1 539.2h.01M810.1 511.9h.01M810.1 525.2h.01M810.1 537.8h.01M810.1 524.8h.01M810.1 470.8h.01M810.1 532.7h.01M810.1 525.6h.01M810.2 508.6h.01M810.2 535.1h.01M810.2 536.5h.01M810.2 497.8h.01M810.2 526.1h.01M810.2 508.5h.01M810.2 529.2h.01M810.3 508.3h.01M810.3 513.8h.01M810.3 512.8h.01M810.3 510.2h.01M810.3 474.5h.01M810.3 521.0h.01M810.3 527.1h.01M810.4 532.7h.01M810.4 521.0h.01M810.4 498.5h.01M810.4 486.2h.01M810.4 484.3h.01M810.5 486.3h.01M810.5 477.0h.01M810.5 502.9h.01M810.5 501.5h.01M810.5 513.1h.01M810.5 527.0h.01M810.5 524.8h.01M810.5 509.3h.01M810.5 495.8h.01M810.6 520.1h.01M810.6 524.6h.01M810.7 527.5h.01M810.8 537.8h.01M810.8 532.9h.01M810.8 530.2h.01M810.8 519.1h.01M810.9 526.3h.01M810.9 535.2h.01M810.9 494.2h.01M810.9 469.7h.01M810.9 529.2h.01M811.0 532.3h.01M811.0 527.2h.01M811.0 534.9h.01M811.1 502.9h.01M811.1 533.6h.01M811.1 534.8h.01M811.2 498.9h.01M811.2 532.9h.01M811.3 525.5h.01M811.3 510.0h.01M811.4 501.6h.01M811.4 468.7h.01M811.4 504.5h.01M811.4 510.5h.01M811.4 459.8h.01M811.5 529.0h.01M811.5 526.3h.01M811.5 528.0h.01M811.5 538.6h.01M811.6 528.7h.01M811.6 513.9h.01M811.6 506.1h.01M811.6 511.3h.01M811.6 511.1h.01M811.7 539.0h.01M811.7 469.9h.01M811.7 463.6h.01M811.7 529.7h.01M811.7 539.3h.01M811.8 533.6h.01M811.8 534.7h.01M811.8 521.8h.01M811.8 529.1h.01M811.8 525.5h.01M811.8 505.2h.01M811.8 532.7h.01M811.9 522.2h.01M811.9 530.1h.01M811.9 537.4h.01M811.9 528.2h.01M811.9 535.9h.01M812.0 526.7h.01M812.0 533.1h.01M812.0 527.2h.01M812.0 507.2h.01M812.1 504.0h.01M812.1 507.0h.01M812.1 495.6h.01M812.1 465.1h.01M812.1 485.5h.01M812.1 510.9h.01M812.1 531.8h.01M812.1 539.9h.01M812.1 506.5h.01M812.2 539.3h.01M812.2 525.5h.01M812.2 533.5h.01M812.2 518.0h.01M812.2 508.0h.01M812.2 510.9h.01M812.2 528.8h.01M812.2 532.5h.01M812.2 539.6h.01M812.3 520.8h.01M812.3 521.2h.01M812.3 517.3h.01M812.3 540.4h.01M812.3 529.8h.01M812.3 530.7h.01M812.3 514.0h.01M812.3 535.7h.01M812.3 530.0h.01M812.4 521.3h.01M812.4 533.3h.01M812.4 492.7h.01M812.4 528.2h.01M812.4 525.9h.01M812.4 538.7h.01M812.4 524.6h.01M812.4 536.9h.01M812.4 531.9h.01M812.4 535.3h.01M812.4 531.3h.01M812.4 515.1h.01M812.4 524.2h.01M812.4 498.2h.01M812.5 522.9h.01M812.5 534.2h.01M812.6 539.3h.01M812.6 506.9h.01M812.6 533.8h.01M812.7 508.4h.01M812.7 535.9h.01M812.7 502.2h.01M812.7 499.7h.01M812.7 520.5h.01M812.7 515.3h.01M812.7 540.7h.01M812.7 506.5h.01M812.7 531.6h.01M812.7 537.5h.01M812.7 514.1h.01M812.8 517.3h.01M812.8 538.1h.01M812.8 490.2h.01M812.8 532.8h.01M812.8 526.1h.01M812.8 530.0h.01M812.8 507.4h.01M812.8 539.6h.01M812.8 499.5h.01M812.8 517.3h.01M812.8 522.6h.01M812.9 517.2h.01M812.9 535.6h.01M812.9 518.9h.01M812.9 529.2h.01M812.9 506.8h.01M812.9 503.2h.01M812.9 474.7h.01M812.9 488.9h.01M812.9 484.4h.01M812.9 513.4h.01M812.9 490.0h.01M812.9 515.0h.01M813.0 514.3h.01M813.0 525.7h.01M813.0 535.7h.01M813.0 540.2h.01M813.0 528.1h.01M813.0 529.0h.01M813.0 539.9h.01M813.0 532.3h.01M813.0 512.7h.01M813.0 529.9h.01M813.0 493.8h.01M813.0 497.7h.01M813.0 512.9h.01M813.0 539.3h.01M813.0 530.7h.01M813.0 536.8h.01M813.0 536.1h.01M813.1 519.0h.01M813.1 526.2h.01M813.1 512.3h.01M813.1 500.3h.01M813.1 520.2h.01M813.1 516.5h.01M813.1 527.8h.01M813.1 520.0h.01M813.2 528.0h.01M813.2 526.2h.01M813.2 532.4h.01M813.2 526.1h.01M813.2 538.0h.01M813.2 537.3h.01M813.3 507.2h.01M813.3 520.8h.01M813.3 535.0h.01M813.3 528.4h.01M813.3 512.4h.01M813.3 499.9h.01M813.3 528.8h.01M813.3 516.5h.01M813.3 532.9h.01M813.3 537.7h.01M813.4 523.5h.01M813.4 533.4h.01M813.4 529.3h.01M813.4 529.0h.01M813.4 531.2h.01M813.5 522.5h.01M813.5 530.7h.01M813.5 517.2h.01M813.5 532.9h.01M813.5 484.3h.01M813.5 534.0h.01M813.5 497.6h.01M813.5 512.3h.01M813.5 474.5h.01M813.5 488.9h.01M813.5 454.7h.01M813.5 507.0h.01M813.6 496.6h.01M813.6 475.9h.01M813.6 512.2h.01M813.6 502.1h.01M813.6 489.4h.01M813.6 530.2h.01M813.6 537.2h.01M813.6 498.3h.01M813.6 500.3h.01M813.6 467.0h.01M813.6 503.6h.01M813.6 500.3h.01M813.6 493.9h.01M813.6 511.2h.01M813.6 523.7h.01M813.6 536.0h.01M813.6 526.3h.01M813.6 484.6h.01M813.6 525.6h.01M813.7 508.2h.01M813.7 515.5h.01M813.7 490.9h.01M813.7 511.9h.01M813.7 500.5h.01M813.7 508.3h.01M813.7 504.0h.01M813.8 515.7h.01M813.8 446.4h.01M813.8 494.8h.01M813.8 512.7h.01M813.9 499.7h.01M813.9 488.1h.01M813.9 512.1h.01M813.9 496.2h.01M813.9 520.0h.01M813.9 533.4h.01M814.0 497.0h.01M814.0 505.6h.01M814.0 538.9h.01M814.0 536.1h.01M814.0 535.8h.01M814.0 528.2h.01M814.1 535.9h.01M814.1 531.5h.01M814.1 523.0h.01M814.1 521.4h.01M814.1 519.5h.01M814.1 528.9h.01M814.1 527.0h.01M814.1 528.6h.01M814.1 527.9h.01M814.1 531.5h.01M814.1 536.4h.01M814.2 539.4h.01M814.2 504.7h.01M814.2 515.0h.01M814.2 533.9h.01M814.2 522.8h.01M814.2 525.7h.01M814.2 506.2h.01M814.2 498.5h.01M814.2 534.3h.01M814.2 533.0h.01M814.2 534.6h.01M814.2 506.5h.01M814.2 534.7h.01M814.3 490.7h.01M814.3 525.0h.01M814.3 531.9h.01M814.3 532.1h.01M814.3 525.9h.01M814.3 516.1h.01M814.3 532.9h.01M814.3 531.4h.01M814.3 521.2h.01M814.4 535.4h.01M814.4 521.1h.01M814.4 526.2h.01M814.5 511.5h.01M814.5 527.6h.01M814.5 519.1h.01M814.6 532.6h.01M814.6 528.3h.01M814.6 505.0h.01M814.6 521.5h.01M814.6 505.8h.01M814.6 533.8h.01M814.6 515.8h.01M814.6 483.6h.01M814.6 492.2h.01M814.7 528.1h.01M814.7 539.4h.01M814.7 536.0h.01M814.7 523.5h.01M814.7 515.0h.01M814.7 526.9h.01M814.7 527.6h.01M814.7 481.9h.01M814.7 515.4h.01M814.7 523.1h.01M814.8 537.7h.01M814.8 536.3h.01M814.8 515.3h.01M814.8 522.0h.01M814.8 512.1h.01M814.8 520.4h.01M814.9 529.1h.01M814.9 511.1h.01M814.9 533.8h.01M814.9 526.3h.01M814.9 510.8h.01M814.9 520.8h.01M814.9 512.5h.01M815.0 526.4h.01M815.0 532.5h.01M815.0 531.9h.01M815.0 517.5h.01M815.0 518.7h.01M815.0 503.8h.01M815.0 519.0h.01M815.0 531.2h.01M815.0 538.8h.01M815.1 493.2h.01M815.1 525.4h.01M815.1 539.4h.01M815.1 524.3h.01M815.1 537.9h.01M815.1 528.5h.01M815.1 534.0h.01M815.1 517.9h.01M815.1 517.3h.01M815.2 532.6h.01M815.2 530.2h.01M815.2 529.9h.01M815.2 537.6h.01M815.2 494.7h.01M815.2 488.0h.01M815.2 521.9h.01M815.3 531.7h.01M815.3 525.2h.01M815.3 537.9h.01M815.3 533.3h.01M815.3 528.2h.01M815.3 526.7h.01M815.3 512.0h.01M815.3 527.4h.01M815.3 511.7h.01M815.3 492.6h.01M815.3 522.3h.01M815.4 533.3h.01M815.4 540.0h.01M815.4 536.2h.01M815.4 518.4h.01M815.4 458.7h.01M815.4 532.0h.01M815.4 526.3h.01M815.4 528.9h.01M815.4 536.2h.01M815.4 539.7h.01M815.5 525.9h.01M815.5 527.3h.01M815.5 520.5h.01M815.5 538.3h.01M815.5 516.6h.01M815.5 501.4h.01M815.5 521.5h.01M815.6 528.5h.01M815.6 528.5h.01M815.6 513.9h.01M815.6 494.8h.01M815.6 494.2h.01M815.6 511.2h.01M815.6 539.3h.01M815.7 518.1h.01M815.7 536.2h.01M815.7 490.4h.01M815.7 528.1h.01M815.7 529.8h.01M815.7 538.7h.01M815.7 521.7h.01M815.7 513.7h.01M815.7 527.8h.01M815.7 531.1h.01M815.7 530.8h.01M815.7 533.1h.01M815.7 518.3h.01M815.7 534.4h.01M815.7 517.1h.01M815.7 518.3h.01M815.7 512.9h.01M815.7 517.7h.01M815.7 528.4h.01M815.7 525.3h.01M815.8 521.1h.01M815.8 512.8h.01M815.8 537.0h.01M815.8 529.5h.01M815.8 501.1h.01M815.8 495.1h.01M815.8 532.6h.01M815.8 529.0h.01M815.8 518.1h.01M815.8 520.3h.01M815.8 518.7h.01M815.8 536.0h.01M815.8 530.4h.01M815.8 535.0h.01M815.8 526.4h.01M815.8 519.6h.01M815.8 524.9h.01M815.8 531.4h.01M815.8 531.4h.01M815.9 530.2h.01M815.9 533.8h.01M815.9 525.9h.01M815.9 536.6h.01M815.9 522.0h.01M815.9 529.1h.01M815.9 532.9h.01M815.9 528.7h.01M815.9 525.0h.01M815.9 516.1h.01M815.9 535.3h.01M815.9 529.6h.01M815.9 529.1h.01M815.9 530.2h.01M815.9 516.8h.01M815.9 514.5h.01M815.9 537.9h.01M815.9 524.6h.01M815.9 485.8h.01M815.9 532.2h.01M815.9 531.0h.01M815.9 533.6h.01M815.9 512.9h.01M816.0 532.2h.01M816.0 525.8h.01M816.0 522.8h.01M816.0 527.8h.01M816.0 520.6h.01M816.0 509.8h.01M816.0 539.1h.01M816.0 538.4h.01M816.0 501.7h.01M816.0 531.3h.01M816.0 509.5h.01M816.0 506.9h.01M816.0 532.7h.01M816.0 525.6h.01M816.0 505.8h.01M816.0 489.5h.01M816.0 539.6h.01M816.0 536.9h.01M816.0 523.9h.01M816.0 534.4h.01M816.0 538.0h.01M816.0 529.8h.01M816.0 506.4h.01M816.0 501.6h.01M816.0 527.1h.01M816.0 532.7h.01M816.1 503.3h.01M816.1 536.2h.01M816.1 527.1h.01M816.1 531.7h.01M816.1 522.0h.01M816.1 525.1h.01M816.1 535.9h.01M816.1 521.8h.01M816.1 506.6h.01M816.1 539.4h.01M816.1 539.7h.01M816.1 535.5h.01M816.1 528.0h.01M816.1 519.7h.01M816.1 529.2h.01M816.2 507.8h.01M816.2 511.7h.01M816.2 524.6h.01M816.2 537.5h.01M816.2 537.1h.01M816.2 530.5h.01M816.2 532.7h.01M816.2 490.8h.01M816.2 538.3h.01M816.2 532.2h.01M816.2 532.9h.01M816.2 516.2h.01M816.2 528.8h.01M816.2 496.7h.01M816.2 525.2h.01M816.2 532.3h.01M816.2 536.2h.01M816.2 507.8h.01M816.2 521.2h.01M816.2 518.4h.01M816.2 522.6h.01M816.2 526.7h.01M816.2 510.8h.01M816.2 527.5h.01M816.2 536.3h.01M816.3 523.4h.01M816.3 500.9h.01M816.3 473.3h.01M816.3 513.2h.01M816.3 539.2h.01M816.3 529.6h.01M816.3 537.2h.01M816.3 486.3h.01M816.3 532.7h.01M816.3 538.5h.01M816.3 507.6h.01M816.3 518.4h.01M816.3 536.4h.01M816.3 505.6h.01M816.3 530.0h.01M816.3 534.9h.01M816.3 518.6h.01M816.3 534.5h.01M816.3 539.6h.01M816.3 520.7h.01M816.4 491.5h.01M816.4 510.4h.01M816.4 540.5h.01M816.4 529.2h.01M816.4 534.8h.01M816.4 526.8h.01M816.4 537.4h.01M816.4 525.3h.01M816.4 517.7h.01M816.4 501.0h.01M816.4 517.9h.01M816.4 500.9h.01M816.4 533.0h.01M816.4 526.0h.01M816.4 524.8h.01M816.4 535.1h.01M816.5 524.2h.01M816.5 521.6h.01M816.5 481.0h.01M816.5 507.5h.01M816.5 525.9h.01M816.5 518.7h.01M816.5 532.2h.01M816.5 539.7h.01M816.5 523.3h.01M816.5 515.3h.01M816.5 517.9h.01M816.5 536.7h.01M816.5 526.4h.01M816.5 530.0h.01M816.5 533.4h.01M816.6 521.5h.01M816.6 530.5h.01M816.6 536.7h.01M816.6 509.0h.01M816.6 507.5h.01M816.6 526.0h.01M816.6 479.7h.01M816.6 539.5h.01M816.6 526.7h.01M816.6 532.3h.01M816.6 533.9h.01M816.6 517.5h.01M816.6 516.9h.01M816.6 519.9h.01M816.6 489.5h.01M816.6 495.8h.01M816.6 499.1h.01M816.6 469.6h.01M816.7 497.1h.01M816.7 455.5h.01M816.7 497.5h.01M816.7 483.3h.01M816.7 486.8h.01M816.7 512.2h.01M816.7 529.6h.01M816.7 498.2h.01M816.7 527.4h.01M816.7 485.9h.01M816.7 509.5h.01M816.7 531.2h.01M816.7 530.0h.01M841.8 540.8h.01M842.2 538.5h.01M842.7 536.0h.01M842.5 537.5h.01M842.7 533.3h.01M844.6 529.5h.01M844.2 538.5h.01M844.9 532.1h.01M844.9 534.5h.01M845.4 530.1h.01M845.9 528.1h.01M846.1 538.7h.01M847.1 523.2h.01M846.8 521.0h.01M847.1 535.3h.01M847.5 529.5h.01M847.6 526.9h.01M847.9 522.1h.01M847.6 530.7h.01M848.0 534.2h.01M848.0 534.8h.01M848.1 536.0h.01M847.9 524.1h.01M847.9 535.4h.01M848.6 521.2h.01M848.4 526.8h.01M849.1 534.4h.01M848.5 530.9h.01M849.0 533.5h.01M849.8 530.4h.01M849.2 537.4h.01M849.2 540.3h.01M849.8 530.0h.01M850.0 533.2h.01M849.2 539.2h.01M841.6 507.3h.01M841.7 526.7h.01M841.9 523.6h.01M842.2 537.9h.01M842.2 537.0h.01M842.3 455.5h.01M842.6 524.6h.01M842.8 519.7h.01M842.8 522.5h.01M842.9 534.5h.01M843.1 536.2h.01M843.2 532.2h.01M843.4 529.6h.01M843.4 496.4h.01M844.0 536.8h.01M844.0 535.2h.01M844.1 538.8h.01M844.2 534.1h.01M844.4 521.3h.01M844.7 531.5h.01M844.7 526.2h.01M844.8 526.7h.01M844.8 530.9h.01M845.0 518.2h.01M845.0 519.9h.01M845.0 529.6h.01M845.0 534.4h.01M845.1 529.2h.01M845.1 511.9h.01M845.1 488.6h.01M845.2 535.3h.01M845.4 523.8h.01M845.5 534.6h.01M845.9 538.2h.01M846.0 519.0h.01M846.1 539.3h.01M846.5 527.9h.01M846.5 520.2h.01M846.6 536.5h.01M846.6 539.4h.01M846.6 530.8h.01M846.6 537.5h.01M846.6 511.5h.01M846.6 533.3h.01M846.6 508.0h.01M846.7 504.6h.01M846.7 531.3h.01M846.7 522.6h.01M846.7 507.7h.01M846.8 515.6h.01M846.8 534.2h.01M846.8 534.9h.01M846.8 531.6h.01M846.8 496.2h.01M846.8 501.5h.01M846.8 529.6h.01M846.8 510.0h.01M846.8 500.8h.01M846.9 510.8h.01M846.9 539.1h.01M846.9 534.1h.01M846.9 520.6h.01M846.9 534.8h.01M846.9 533.5h.01M846.9 530.5h.01M846.9 539.6h.01M846.9 538.1h.01M846.9 525.5h.01M847.0 531.7h.01M847.0 486.1h.01M847.0 536.0h.01M847.0 524.5h.01M847.0 489.0h.01M847.0 516.2h.01M847.1 495.4h.01M847.1 531.6h.01M847.1 514.7h.01M847.1 498.0h.01M847.1 534.6h.01M847.1 536.8h.01M847.1 530.1h.01M847.1 535.3h.01M847.1 540.1h.01M847.2 519.5h.01M847.2 539.2h.01M847.2 501.6h.01M847.2 539.1h.01M847.2 537.4h.01M847.2 514.9h.01M847.2 495.4h.01M847.3 510.9h.01M847.3 457.4h.01M847.3 513.7h.01M847.3 523.5h.01M847.3 533.9h.01M847.3 511.0h.01M847.3 512.8h.01M847.3 506.1h.01M847.3 518.0h.01M847.3 536.4h.01M847.4 532.5h.01M847.4 514.8h.01M847.4 524.6h.01M847.4 527.2h.01M847.4 517.8h.01M847.5 521.4h.01M847.5 520.5h.01M847.5 523.4h.01M847.5 532.0h.01M847.6 520.2h.01M847.6 515.2h.01M847.6 514.6h.01M847.6 515.6h.01M847.7 522.1h.01M847.7 528.4h.01M847.7 500.3h.01M847.7 525.8h.01M847.7 533.4h.01M847.8 503.2h.01M847.8 538.3h.01M847.8 506.9h.01M847.8 527.0h.01M847.8 515.8h.01M847.8 533.3h.01M847.8 536.3h.01M847.8 497.6h.01M847.8 534.5h.01M847.8 528.2h.01M847.8 524.1h.01M847.8 472.5h.01M847.9 492.5h.01M847.9 515.6h.01M847.9 524.1h.01M847.9 516.5h.01M847.9 507.3h.01M847.9 531.1h.01M847.9 526.5h.01M847.9 516.0h.01M848.0 539.7h.01M848.0 527.3h.01M848.0 517.3h.01M848.1 521.4h.01M848.1 526.7h.01M848.1 532.3h.01M848.1 521.8h.01M848.1 510.3h.01M848.2 530.5h.01M848.2 530.1h.01M848.2 522.5h.01M848.2 516.8h.01M848.3 524.0h.01M848.4 536.4h.01M848.4 539.3h.01M848.4 538.3h.01M848.5 523.1h.01M848.5 531.0h.01M848.5 521.6h.01M848.5 515.1h.01M848.6 523.7h.01M848.6 490.3h.01M848.6 520.7h.01M848.6 531.4h.01M848.6 528.5h.01M848.6 515.4h.01M848.6 528.0h.01M848.6 480.9h.01M848.7 494.5h.01M848.7 504.9h.01M848.7 457.3h.01M848.8 490.1h.01M848.8 503.8h.01M848.8 449.1h.01M848.8 460.8h.01M848.8 492.2h.01M848.8 492.2h.01M848.8 516.1h.01M848.9 503.4h.01M848.9 519.8h.01M849.1 532.0h.01M849.1 536.7h.01M849.2 528.4h.01M849.2 536.4h.01M849.2 532.6h.01M849.2 533.0h.01M849.2 534.3h.01M849.2 526.7h.01M849.2 540.1h.01M849.2 533.9h.01M849.3 537.0h.01M849.3 520.5h.01M849.3 534.3h.01M849.3 487.0h.01M849.4 503.8h.01M849.4 532.1h.01M849.4 482.7h.01M849.4 531.4h.01M849.4 529.6h.01M849.5 537.3h.01M849.5 537.6h.01M849.5 528.5h.01M849.5 535.9h.01M849.5 511.1h.01M849.5 526.7h.01M849.6 538.0h.01M849.6 497.9h.01M849.6 534.1h.01M849.7 527.7h.01M849.7 526.2h.01M849.7 519.6h.01M849.8 530.7h.01M849.8 521.7h.01M849.8 536.3h.01M849.8 533.7h.01M849.9 522.4h.01M849.9 539.0h.01M849.9 533.1h.01M849.9 535.3h.01M849.9 539.1h.01M849.9 538.4h.01M850.0 487.9h.01M850.0 530.8h.01M850.0 527.2h.01M850.0 538.9h.01M91.2 312.1h.01M78.7 363.8h.01M103.4 383.4h.01M90.6 401.3h.01M127.6 401.0h.01M65.7 415.3h.01M86.3 424.4h.01M103.9 433.1h.01M111.0 434.3h.01M75.4 436.4h.01M118.6 437.1h.01M116.9 438.9h.01M93.7 439.7h.01M218.7 394.9h.01M218.7 409.9h.01M205.0 418.1h.01M249.0 422.4h.01M206.0 434.3h.01M210.3 433.8h.01M235.8 433.1h.01M235.8 437.7h.01M344.0 330.0h.01M350.3 332.8h.01M323.3 421.9h.01M325.4 424.9h.01M329.2 424.9h.01M345.7 431.8h.01M354.6 432.1h.01M319.8 437.7h.01M343.2 437.7h.01M354.6 439.7h.01M414.5 355.2h.01M440.9 366.1h.01M445.8 371.2h.01M445.8 378.8h.01M414.5 402.8h.01M445.8 408.4h.01M421.9 422.6h.01M413.2 427.0h.01M435.6 427.7h.01M444.0 430.5h.01M415.2 437.9h.01M418.8 439.7h.01M511.2 379.9h.01M519.9 395.7h.01M495.9 406.3h.01M515.0 414.0h.01M521.4 427.0h.01M519.6 430.5h.01M526.5 430.0h.01M520.1 438.4h.01M585.3 331.8h.01M574.4 348.3h.01M585.3 356.5h.01M585.3 371.4h.01M586.9 401.5h.01M570.9 410.4h.01M588.8 411.5h.01M588.8 415.6h.01M569.5 423.2h.01M570.9 428.3h.01M586.9 425.6h.01M588.8 433.2h.01M652.2 385.8h.01M659.8 409.4h.01M716.0 363.5h.01M716.0 365.7h.01M716.0 390.9h.01M720.0 403.7h.01M716.0 412.9h.01M718.7 412.9h.01M720.0 415.6h.01M716.0 422.1h.01M716.0 425.6h.01M718.7 427.8h.01M720.8 429.2h.01M723.0 432.7h.01M724.9 433.5h.01M729.3 434.0h.01M729.5 429.7h.01M729.5 437.3h.01M721.4 428.6h.01M762.1 314.7h.01M759.6 425.6h.01M778.9 379.8h.01M778.9 414.2h.01M778.6 438.6h.01M807.9 297.6h.01M804.6 362.7h.01M804.6 372.2h.01M806.5 401.5h.01M806.5 416.4h.01M804.1 422.9h.01M813.6 419.7h.01M816.3 419.7h.01M813.6 427.8h.01M814.9 429.7h.01M816.5 425.9h.01M804.1 430.5h.01M804.6 434.6h.01M806.8 436.7h.01M808.9 437.8h.01M844.7 412.6h.01M849.4 439.5h.01" stroke="#1c00fa" stroke-width="4" stroke-linecap="round" fill="none"/>
<line x1="65" x2="865" y1="267.8" y2="267.8" stroke="#d63c5a" stroke-width="1.5" stroke-dasharray="3,3"/>
</svg>
</body></html>
